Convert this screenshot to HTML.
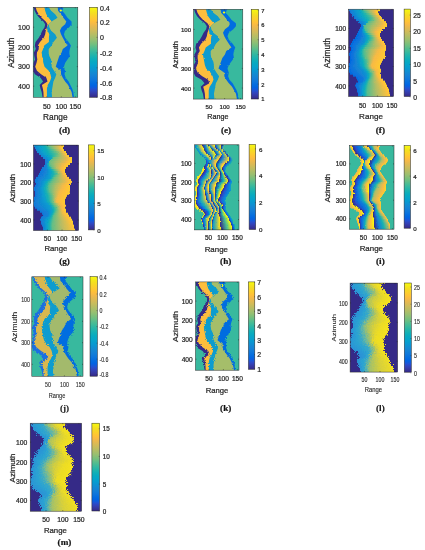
<!DOCTYPE html>
<html><head><meta charset="utf-8"><title>Figure</title>
<style>html,body{margin:0;padding:0;background:#fff;width:425px;height:550px;overflow:hidden}svg{display:block}text{font-family:"Liberation Sans",Arial,sans-serif;fill:#262626}text.pl,text.pr{font-family:"Liberation Serif","Times New Roman",serif;fill:#111}text.pl{font-weight:bold}</style>
</head><body>
<svg width="425" height="550" viewBox="0 0 425 550">
<defs><linearGradient id="par" x1="0" y1="1" x2="0" y2="0"><stop offset="0.000" stop-color="#352a87"/><stop offset="0.016" stop-color="#363093"/><stop offset="0.032" stop-color="#3637a0"/><stop offset="0.048" stop-color="#353dad"/><stop offset="0.063" stop-color="#3243ba"/><stop offset="0.079" stop-color="#2c4ac7"/><stop offset="0.095" stop-color="#2053d4"/><stop offset="0.111" stop-color="#0f5cdd"/><stop offset="0.127" stop-color="#0363e1"/><stop offset="0.143" stop-color="#0268e1"/><stop offset="0.159" stop-color="#046de0"/><stop offset="0.175" stop-color="#0871de"/><stop offset="0.190" stop-color="#0d75dc"/><stop offset="0.206" stop-color="#1079da"/><stop offset="0.222" stop-color="#127dd8"/><stop offset="0.238" stop-color="#1481d6"/><stop offset="0.254" stop-color="#1485d4"/><stop offset="0.270" stop-color="#1389d3"/><stop offset="0.286" stop-color="#108ed2"/><stop offset="0.302" stop-color="#0c93d2"/><stop offset="0.317" stop-color="#0998d1"/><stop offset="0.333" stop-color="#079ccf"/><stop offset="0.349" stop-color="#06a0cd"/><stop offset="0.365" stop-color="#06a4ca"/><stop offset="0.381" stop-color="#06a7c6"/><stop offset="0.397" stop-color="#07a9c2"/><stop offset="0.413" stop-color="#0aacbe"/><stop offset="0.429" stop-color="#0faeb9"/><stop offset="0.444" stop-color="#15b1b4"/><stop offset="0.460" stop-color="#1db3af"/><stop offset="0.476" stop-color="#25b5a9"/><stop offset="0.492" stop-color="#2eb7a4"/><stop offset="0.508" stop-color="#38b99e"/><stop offset="0.524" stop-color="#42bb98"/><stop offset="0.540" stop-color="#4dbc92"/><stop offset="0.556" stop-color="#59bd8c"/><stop offset="0.571" stop-color="#65be86"/><stop offset="0.587" stop-color="#71bf80"/><stop offset="0.603" stop-color="#7cbf7b"/><stop offset="0.619" stop-color="#87bf77"/><stop offset="0.635" stop-color="#92bf73"/><stop offset="0.651" stop-color="#9cbf6f"/><stop offset="0.667" stop-color="#a5be6b"/><stop offset="0.683" stop-color="#aebe67"/><stop offset="0.698" stop-color="#b7bd64"/><stop offset="0.714" stop-color="#c0bc60"/><stop offset="0.730" stop-color="#c8bc5d"/><stop offset="0.746" stop-color="#d1bb59"/><stop offset="0.762" stop-color="#d9ba56"/><stop offset="0.778" stop-color="#e1b952"/><stop offset="0.794" stop-color="#e9b94e"/><stop offset="0.810" stop-color="#f1b94a"/><stop offset="0.825" stop-color="#f8bb44"/><stop offset="0.841" stop-color="#fdbe3d"/><stop offset="0.857" stop-color="#ffc337"/><stop offset="0.873" stop-color="#fec832"/><stop offset="0.889" stop-color="#fcce2e"/><stop offset="0.905" stop-color="#fad32a"/><stop offset="0.921" stop-color="#f7d826"/><stop offset="0.937" stop-color="#f5de21"/><stop offset="0.952" stop-color="#f5e41d"/><stop offset="0.968" stop-color="#f5eb18"/><stop offset="0.984" stop-color="#f6f313"/><stop offset="1.000" stop-color="#f9fb0e"/></linearGradient><filter id="jag" x="-5%" y="-5%" width="110%" height="110%"><feTurbulence type="fractalNoise" baseFrequency="0.45" numOctaves="2" seed="3"/><feDisplacementMap in="SourceGraphic" scale="2" xChannelSelector="R" yChannelSelector="G"/></filter><filter id="spk2" x="-5%" y="-5%" width="110%" height="110%"><feTurbulence type="fractalNoise" baseFrequency="1.1" numOctaves="1" seed="11"/><feDisplacementMap in="SourceGraphic" scale="7" xChannelSelector="R" yChannelSelector="G"/></filter><filter id="spk" x="-5%" y="-5%" width="110%" height="110%"><feTurbulence type="fractalNoise" baseFrequency="0.9" numOctaves="1" seed="7"/><feDisplacementMap in="SourceGraphic" scale="4" xChannelSelector="R" yChannelSelector="G"/></filter></defs>
<clipPath id="cd"><rect x="33.20" y="7.30" width="44.60" height="90.00"/></clipPath>
<g clip-path="url(#cd)"><g filter="url(#jag)"><g transform="translate(33.200 7.300) scale(44.6000 90.0000)"><rect x="-0.1" y="-0.1" width="1.2" height="1.2" fill="#38b99e"/><polygon points="0.0000,-0.0200 0.0316,0.0389 0.0711,0.0778 0.1368,0.1167 0.2289,0.1567 0.2684,0.1889 0.2553,0.2222 0.2026,0.2611 0.1684,0.3000 0.1263,0.3389 0.0526,0.3844 0.0368,0.4244 0.0579,0.4633 0.0158,0.5022 0.0237,0.5422 0.0421,0.5811 0.0053,0.6200 0.0000,0.6600 0.0000,0.7056 0.0368,0.7444 0.1632,0.7833 0.2211,0.8233 0.1447,0.8622 0.1632,0.9011 0.1895,0.9400 0.2158,1.0200 1.2,1.05 1.2,-0.05" fill="#352a87"/><polygon points="0.0447,-0.0200 0.0789,0.0389 0.1237,0.0778 0.1895,0.1167 0.2816,0.1567 0.3211,0.1889 0.3079,0.2222 0.2816,0.2611 0.2684,0.3000 0.2368,0.3389 0.1526,0.3844 0.1079,0.4244 0.1263,0.4633 0.0842,0.5022 0.0816,0.5422 0.0921,0.5811 0.0737,0.6200 0.0447,0.6600 0.0842,0.7056 0.1763,0.7444 0.2947,0.7833 0.3211,0.8233 0.1947,0.8622 0.2158,0.9011 0.2289,0.9400 0.2368,1.0200 1.2,1.05 1.2,-0.05" fill="#fdbe3d"/><polygon points="0.2421,-0.0200 0.2684,0.0389 0.2947,0.0778 0.3474,0.1167 0.4132,0.1567 0.3474,0.1889 0.3079,0.2222 0.3211,0.2611 0.3605,0.3000 0.3526,0.3389 0.3526,0.3844 0.2474,0.4244 0.2211,0.4633 0.1895,0.5022 0.2026,0.5422 0.2158,0.5811 0.2289,0.6200 0.2553,0.6600 0.3474,0.7056 0.3868,0.7444 0.4053,0.7833 0.3737,0.8233 0.3263,0.8622 0.3079,0.9011 0.3079,0.9400 0.3079,1.0200 1.2,1.05 1.2,-0.05" fill="#079ccf"/><polygon points="0.3211,-0.0200 0.4000,0.0389 0.4921,0.0778 0.5447,0.1167 0.4132,0.1567 0.3474,0.1889 0.3605,0.2222 0.4000,0.2611 0.4921,0.3000 0.5316,0.3389 0.4526,0.3844 0.4132,0.4244 0.3474,0.4633 0.3474,0.5022 0.3605,0.5422 0.4000,0.5811 0.4132,0.6200 0.4132,0.6600 0.4658,0.7056 0.5184,0.7444 0.4921,0.7833 0.4526,0.8233 0.4395,0.8622 0.4263,0.9011 0.4132,0.9400 0.4263,1.0200 1.2,1.05 1.2,-0.05" fill="#a5be6b"/><polygon points="0.5447,-0.0200 0.5579,0.0389 0.6237,0.0778 0.6763,0.1167 0.7421,0.1567 0.7158,0.1889 0.6368,0.2222 0.5974,0.2611 0.6237,0.3000 0.6632,0.3389 0.7158,0.3844 0.7684,0.4244 0.6632,0.4633 0.6368,0.5022 0.5842,0.5422 0.5579,0.5811 0.5316,0.6200 0.5053,0.6600 0.6237,0.7056 0.6237,0.7444 0.6632,0.7833 0.7158,0.8233 0.7816,0.8622 0.8211,0.9011 0.8605,0.9400 0.8868,1.0200 1.2,1.05 1.2,-0.05" fill="#046de0"/><polygon points="0.7026,-0.0200 0.6500,0.0389 0.7158,0.0778 0.7684,0.1167 0.8605,0.1567 0.8605,0.1889 0.8079,0.2222 0.7158,0.2611 0.6895,0.3000 0.7158,0.3389 0.7947,0.3844 0.8474,0.4244 0.8211,0.4633 0.8079,0.5022 0.8211,0.5422 0.7684,0.5811 0.7158,0.6200 0.6895,0.6600 0.7158,0.7056 0.7026,0.7444 0.7289,0.7833 0.7947,0.8233 0.8342,0.8622 0.8737,0.9011 0.9000,0.9400 0.9211,1.0200 1.2,1.05 1.2,-0.05" fill="#38b99e"/><ellipse cx="0.6184" cy="0.0356" rx="0.025" ry="0.012" fill="#f9fb0e"/></g></g></g>
<rect x="33.20" y="7.30" width="44.60" height="90.00" fill="none" stroke="#262626" stroke-width="0.5"/>
<path d="M46.80 97.30v-1.00M46.80 7.30v1.00M61.30 97.30v-1.00M61.30 7.30v1.00M75.30 97.30v-1.00M75.30 7.30v1.00M33.20 27.20h1.00M77.80 27.20h-1.00M33.20 47.00h1.00M77.80 47.00h-1.00M33.20 66.60h1.00M77.80 66.60h-1.00M33.20 86.20h1.00M77.80 86.20h-1.00" stroke="#262626" stroke-width="0.5" fill="none"/>
<text stroke="#262626" stroke-width="0.22" x="29.80" y="29.98" text-anchor="end" font-size="7.00">100</text>
<text stroke="#262626" stroke-width="0.22" x="29.80" y="49.78" text-anchor="end" font-size="7.00">200</text>
<text stroke="#262626" stroke-width="0.22" x="29.80" y="69.39" text-anchor="end" font-size="7.00">300</text>
<text stroke="#262626" stroke-width="0.22" x="29.80" y="88.98" text-anchor="end" font-size="7.00">400</text>
<text stroke="#262626" stroke-width="0.22" x="46.80" y="108.69" text-anchor="middle" font-size="7.00">50</text>
<text stroke="#262626" stroke-width="0.22" x="61.30" y="108.69" text-anchor="middle" font-size="7.00">100</text>
<text stroke="#262626" stroke-width="0.22" x="75.30" y="108.69" text-anchor="middle" font-size="7.00">150</text>
<text stroke="#262626" stroke-width="0.22" x="55.30" y="119.99" text-anchor="middle" font-size="8.30">Range</text>
<text stroke="#262626" stroke-width="0.22" transform="translate(14.07 52.70) rotate(-90)" text-anchor="middle" font-size="8.40">Azimuth</text>
<rect x="89.50" y="7.30" width="7.90" height="90.00" fill="url(#par)" stroke="#262626" stroke-width="0.5"/>
<text stroke="#262626" stroke-width="0.22" x="100.00" y="10.68" font-size="7.00">0.4</text>
<text stroke="#262626" stroke-width="0.22" x="100.00" y="25.18" font-size="7.00">0.2</text>
<text stroke="#262626" stroke-width="0.22" x="100.00" y="40.28" font-size="7.00">0</text>
<text stroke="#262626" stroke-width="0.22" x="100.00" y="55.78" font-size="7.00">-0.2</text>
<text stroke="#262626" stroke-width="0.22" x="100.00" y="70.69" font-size="7.00">-0.4</text>
<text stroke="#262626" stroke-width="0.22" x="100.00" y="85.78" font-size="7.00">-0.6</text>
<text stroke="#262626" stroke-width="0.22" x="100.00" y="100.28" font-size="7.00">-0.8</text>
<path d="M97.40 7.80h-0.8M97.40 22.30h-0.8M97.40 37.40h-0.8M97.40 52.90h-0.8M97.40 67.80h-0.8M97.40 82.90h-0.8M97.40 97.40h-0.8" stroke="#262626" stroke-width="0.5" fill="none"/>
<text stroke="#262626" stroke-width="0.22" x="64.50" y="133.10" text-anchor="middle" class="pl" font-size="9.20">(d)</text>
<clipPath id="ce"><rect x="193.60" y="9.30" width="49.20" height="89.80"/></clipPath>
<g clip-path="url(#ce)"><g filter="url(#jag)"><g transform="translate(193.600 9.300) scale(49.2000 89.8000)"><rect x="-0.1" y="-0.1" width="1.2" height="1.2" fill="#38b99e"/><polygon points="0.0000,-0.0200 0.0316,0.0389 0.0711,0.0778 0.1368,0.1167 0.2289,0.1567 0.2684,0.1889 0.2553,0.2222 0.2026,0.2611 0.1684,0.3000 0.1263,0.3389 0.0526,0.3844 0.0368,0.4244 0.0579,0.4633 0.0158,0.5022 0.0237,0.5422 0.0421,0.5811 0.0053,0.6200 0.0000,0.6600 0.0000,0.7056 0.0368,0.7444 0.1632,0.7833 0.2211,0.8233 0.1447,0.8622 0.1632,0.9011 0.1895,0.9400 0.2158,1.0200 1.2,1.05 1.2,-0.05" fill="#352a87"/><polygon points="0.0447,-0.0200 0.0789,0.0389 0.1237,0.0778 0.1895,0.1167 0.2816,0.1567 0.3211,0.1889 0.3079,0.2222 0.2816,0.2611 0.2684,0.3000 0.2368,0.3389 0.1526,0.3844 0.1079,0.4244 0.1263,0.4633 0.0842,0.5022 0.0816,0.5422 0.0921,0.5811 0.0737,0.6200 0.0447,0.6600 0.0842,0.7056 0.1763,0.7444 0.2947,0.7833 0.3211,0.8233 0.1947,0.8622 0.2158,0.9011 0.2289,0.9400 0.2368,1.0200 1.2,1.05 1.2,-0.05" fill="#fdbe3d"/><polygon points="0.2421,-0.0200 0.2684,0.0389 0.2947,0.0778 0.3474,0.1167 0.4132,0.1567 0.3474,0.1889 0.3079,0.2222 0.3211,0.2611 0.3605,0.3000 0.3526,0.3389 0.3526,0.3844 0.2474,0.4244 0.2211,0.4633 0.1895,0.5022 0.2026,0.5422 0.2158,0.5811 0.2289,0.6200 0.2553,0.6600 0.3474,0.7056 0.3868,0.7444 0.4053,0.7833 0.3737,0.8233 0.3263,0.8622 0.3079,0.9011 0.3079,0.9400 0.3079,1.0200 1.2,1.05 1.2,-0.05" fill="#079ccf"/><polygon points="0.3211,-0.0200 0.4000,0.0389 0.4921,0.0778 0.5447,0.1167 0.4132,0.1567 0.3474,0.1889 0.3605,0.2222 0.4000,0.2611 0.4921,0.3000 0.5316,0.3389 0.4526,0.3844 0.4132,0.4244 0.3474,0.4633 0.3474,0.5022 0.3605,0.5422 0.4000,0.5811 0.4132,0.6200 0.4132,0.6600 0.4658,0.7056 0.5184,0.7444 0.4921,0.7833 0.4526,0.8233 0.4395,0.8622 0.4263,0.9011 0.4132,0.9400 0.4263,1.0200 1.2,1.05 1.2,-0.05" fill="#a5be6b"/><polygon points="0.5447,-0.0200 0.5579,0.0389 0.6237,0.0778 0.6763,0.1167 0.7421,0.1567 0.7158,0.1889 0.6368,0.2222 0.5974,0.2611 0.6237,0.3000 0.6632,0.3389 0.7158,0.3844 0.7684,0.4244 0.6632,0.4633 0.6368,0.5022 0.5842,0.5422 0.5579,0.5811 0.5316,0.6200 0.5053,0.6600 0.6237,0.7056 0.6237,0.7444 0.6632,0.7833 0.7158,0.8233 0.7816,0.8622 0.8211,0.9011 0.8605,0.9400 0.8868,1.0200 1.2,1.05 1.2,-0.05" fill="#046de0"/><polygon points="0.7026,-0.0200 0.6500,0.0389 0.7158,0.0778 0.7684,0.1167 0.8605,0.1567 0.8605,0.1889 0.8079,0.2222 0.7158,0.2611 0.6895,0.3000 0.7158,0.3389 0.7947,0.3844 0.8474,0.4244 0.8211,0.4633 0.8079,0.5022 0.8211,0.5422 0.7684,0.5811 0.7158,0.6200 0.6895,0.6600 0.7158,0.7056 0.7026,0.7444 0.7289,0.7833 0.7947,0.8233 0.8342,0.8622 0.8737,0.9011 0.9000,0.9400 0.9211,1.0200 1.2,1.05 1.2,-0.05" fill="#38b99e"/><ellipse cx="0.6184" cy="0.0356" rx="0.025" ry="0.012" fill="#f9fb0e"/></g></g></g>
<rect x="193.60" y="9.30" width="49.20" height="89.80" fill="none" stroke="#262626" stroke-width="0.5"/>
<path d="M208.90 99.10v-1.00M208.90 9.30v1.00M224.60 99.10v-1.00M224.60 9.30v1.00M240.50 99.10v-1.00M240.50 9.30v1.00M193.60 29.40h1.00M242.80 29.40h-1.00M193.60 49.00h1.00M242.80 49.00h-1.00M193.60 68.40h1.00M242.80 68.40h-1.00M193.60 88.10h1.00M242.80 88.10h-1.00" stroke="#262626" stroke-width="0.5" fill="none"/>
<text stroke="#262626" stroke-width="0.22" x="191.10" y="31.87" text-anchor="end" font-size="6.10">100</text>
<text stroke="#262626" stroke-width="0.22" x="191.10" y="51.47" text-anchor="end" font-size="6.10">200</text>
<text stroke="#262626" stroke-width="0.22" x="191.10" y="70.87" text-anchor="end" font-size="6.10">300</text>
<text stroke="#262626" stroke-width="0.22" x="191.10" y="90.57" text-anchor="end" font-size="6.10">400</text>
<text stroke="#262626" stroke-width="0.22" x="208.90" y="108.67" text-anchor="middle" font-size="6.10">50</text>
<text stroke="#262626" stroke-width="0.22" x="224.60" y="108.67" text-anchor="middle" font-size="6.10">100</text>
<text stroke="#262626" stroke-width="0.22" x="240.50" y="108.67" text-anchor="middle" font-size="6.10">150</text>
<text stroke="#262626" stroke-width="0.22" x="217.80" y="119.09" text-anchor="middle" font-size="7.20">Range</text>
<text stroke="#262626" stroke-width="0.22" transform="translate(177.54 54.70) rotate(-90)" text-anchor="middle" font-size="7.50">Azimuth</text>
<rect x="251.20" y="9.30" width="7.30" height="89.70" fill="url(#par)" stroke="#262626" stroke-width="0.5"/>
<text stroke="#262626" stroke-width="0.22" x="261.20" y="12.56" font-size="5.80">7</text>
<text stroke="#262626" stroke-width="0.22" x="261.20" y="27.46" font-size="5.80">6</text>
<text stroke="#262626" stroke-width="0.22" x="261.20" y="42.16" font-size="5.80">5</text>
<text stroke="#262626" stroke-width="0.22" x="261.20" y="57.06" font-size="5.80">4</text>
<text stroke="#262626" stroke-width="0.22" x="261.20" y="71.76" font-size="5.80">3</text>
<text stroke="#262626" stroke-width="0.22" x="261.20" y="86.56" font-size="5.80">2</text>
<text stroke="#262626" stroke-width="0.22" x="261.20" y="101.26" font-size="5.80">1</text>
<path d="M258.50 10.10h-0.8M258.50 25.00h-0.8M258.50 39.70h-0.8M258.50 54.60h-0.8M258.50 69.30h-0.8M258.50 84.10h-0.8M258.50 98.80h-0.8" stroke="#262626" stroke-width="0.5" fill="none"/>
<text stroke="#262626" stroke-width="0.22" x="226.00" y="133.00" text-anchor="middle" class="pl" font-size="9.20">(e)</text>
<clipPath id="cf"><rect x="348.60" y="9.20" width="45.00" height="87.30"/></clipPath>
<g clip-path="url(#cf)"><g filter="url(#jag)"><g transform="translate(348.600 9.200) scale(45.0000 87.3000)"><defs><linearGradient id="f1" gradientUnits="userSpaceOnUse" x2="1"><stop offset="0.000" stop-color="#352a87"/><stop offset="0.009" stop-color="#352a87"/><stop offset="0.009" stop-color="#0f77db"/><stop offset="0.032" stop-color="#127cd8"/><stop offset="0.055" stop-color="#1481d6"/><stop offset="0.152" stop-color="#0a96d1"/><stop offset="0.250" stop-color="#06a6c6"/><stop offset="0.297" stop-color="#1fb4ad"/><stop offset="0.344" stop-color="#55bd8e"/><stop offset="0.446" stop-color="#9ebe6e"/><stop offset="0.549" stop-color="#d8ba56"/><stop offset="0.618" stop-color="#febf3c"/><stop offset="0.687" stop-color="#f6dc23"/><stop offset="0.687" stop-color="#352a87"/><stop offset="1.000" stop-color="#352a87"/></linearGradient><linearGradient id="f2" gradientUnits="userSpaceOnUse" x2="1"><stop offset="0.000" stop-color="#352a87"/><stop offset="0.028" stop-color="#352a87"/><stop offset="0.028" stop-color="#0f77db"/><stop offset="0.051" stop-color="#127cd8"/><stop offset="0.075" stop-color="#1481d6"/><stop offset="0.170" stop-color="#0a96d1"/><stop offset="0.265" stop-color="#06a6c6"/><stop offset="0.328" stop-color="#1fb4ad"/><stop offset="0.390" stop-color="#55bd8e"/><stop offset="0.473" stop-color="#9ebe6e"/><stop offset="0.556" stop-color="#d8ba56"/><stop offset="0.606" stop-color="#febf3c"/><stop offset="0.656" stop-color="#f6dc23"/><stop offset="0.656" stop-color="#352a87"/><stop offset="1.000" stop-color="#352a87"/></linearGradient><linearGradient id="f3" gradientUnits="userSpaceOnUse" x2="1"><stop offset="0.000" stop-color="#352a87"/><stop offset="0.050" stop-color="#352a87"/><stop offset="0.050" stop-color="#0f77db"/><stop offset="0.075" stop-color="#127cd8"/><stop offset="0.100" stop-color="#1481d6"/><stop offset="0.190" stop-color="#0a96d1"/><stop offset="0.281" stop-color="#06a6c6"/><stop offset="0.362" stop-color="#1fb4ad"/><stop offset="0.442" stop-color="#55bd8e"/><stop offset="0.515" stop-color="#9ebe6e"/><stop offset="0.588" stop-color="#d8ba56"/><stop offset="0.634" stop-color="#febf3c"/><stop offset="0.680" stop-color="#f6dc23"/><stop offset="0.680" stop-color="#352a87"/><stop offset="1.000" stop-color="#352a87"/></linearGradient><linearGradient id="f4" gradientUnits="userSpaceOnUse" x2="1"><stop offset="0.000" stop-color="#352a87"/><stop offset="0.074" stop-color="#352a87"/><stop offset="0.074" stop-color="#0f77db"/><stop offset="0.100" stop-color="#127cd8"/><stop offset="0.127" stop-color="#1481d6"/><stop offset="0.212" stop-color="#0a96d1"/><stop offset="0.297" stop-color="#06a6c6"/><stop offset="0.396" stop-color="#1fb4ad"/><stop offset="0.494" stop-color="#55bd8e"/><stop offset="0.560" stop-color="#9ebe6e"/><stop offset="0.626" stop-color="#d8ba56"/><stop offset="0.672" stop-color="#febf3c"/><stop offset="0.718" stop-color="#f6dc23"/><stop offset="0.718" stop-color="#352a87"/><stop offset="1.000" stop-color="#352a87"/></linearGradient><linearGradient id="f5" gradientUnits="userSpaceOnUse" x2="1"><stop offset="0.000" stop-color="#352a87"/><stop offset="0.112" stop-color="#352a87"/><stop offset="0.112" stop-color="#0f77db"/><stop offset="0.139" stop-color="#127cd8"/><stop offset="0.165" stop-color="#1481d6"/><stop offset="0.247" stop-color="#0b96d1"/><stop offset="0.328" stop-color="#06a6c7"/><stop offset="0.427" stop-color="#1fb3ad"/><stop offset="0.525" stop-color="#55bd8e"/><stop offset="0.591" stop-color="#9ebe6e"/><stop offset="0.657" stop-color="#d8ba56"/><stop offset="0.703" stop-color="#febf3c"/><stop offset="0.749" stop-color="#f6db23"/><stop offset="0.749" stop-color="#352a87"/><stop offset="1.000" stop-color="#352a87"/></linearGradient><linearGradient id="f6" gradientUnits="userSpaceOnUse" x2="1"><stop offset="0.000" stop-color="#352a87"/><stop offset="0.156" stop-color="#352a87"/><stop offset="0.156" stop-color="#0d76dc"/><stop offset="0.182" stop-color="#117ad9"/><stop offset="0.209" stop-color="#137fd7"/><stop offset="0.285" stop-color="#0d93d2"/><stop offset="0.361" stop-color="#06a4c9"/><stop offset="0.439" stop-color="#1cb3af"/><stop offset="0.517" stop-color="#55bd8e"/><stop offset="0.604" stop-color="#a0be6d"/><stop offset="0.690" stop-color="#dcba54"/><stop offset="0.739" stop-color="#febf3c"/><stop offset="0.788" stop-color="#f7d925"/><stop offset="0.788" stop-color="#352a87"/><stop offset="1.000" stop-color="#352a87"/></linearGradient><linearGradient id="f7" gradientUnits="userSpaceOnUse" x2="1"><stop offset="0.000" stop-color="#352a87"/><stop offset="0.208" stop-color="#352a87"/><stop offset="0.208" stop-color="#0c74dd"/><stop offset="0.235" stop-color="#1079da"/><stop offset="0.261" stop-color="#137dd7"/><stop offset="0.330" stop-color="#0f90d2"/><stop offset="0.398" stop-color="#06a2cb"/><stop offset="0.421" stop-color="#1ab2b1"/><stop offset="0.443" stop-color="#55bd8e"/><stop offset="0.585" stop-color="#a2be6c"/><stop offset="0.727" stop-color="#dfba53"/><stop offset="0.784" stop-color="#fec03b"/><stop offset="0.840" stop-color="#f8d726"/><stop offset="0.840" stop-color="#352a87"/><stop offset="1.000" stop-color="#352a87"/></linearGradient><linearGradient id="f8" gradientUnits="userSpaceOnUse" x2="1"><stop offset="0.000" stop-color="#352a87"/><stop offset="0.246" stop-color="#352a87"/><stop offset="0.246" stop-color="#0b73dd"/><stop offset="0.272" stop-color="#0f77db"/><stop offset="0.298" stop-color="#127cd8"/><stop offset="0.342" stop-color="#118dd2"/><stop offset="0.385" stop-color="#06a0cd"/><stop offset="0.385" stop-color="#55bd8e"/><stop offset="0.558" stop-color="#a4be6b"/><stop offset="0.731" stop-color="#e3b951"/><stop offset="0.796" stop-color="#fec03b"/><stop offset="0.861" stop-color="#f8d528"/><stop offset="0.861" stop-color="#352a87"/><stop offset="1.000" stop-color="#352a87"/></linearGradient><linearGradient id="f9" gradientUnits="userSpaceOnUse" x2="1"><stop offset="0.000" stop-color="#352a87"/><stop offset="0.267" stop-color="#352a87"/><stop offset="0.267" stop-color="#0971de"/><stop offset="0.293" stop-color="#0e76dc"/><stop offset="0.319" stop-color="#117ad9"/><stop offset="0.331" stop-color="#128bd3"/><stop offset="0.342" stop-color="#079ecf"/><stop offset="0.346" stop-color="#15b1b4"/><stop offset="0.349" stop-color="#55bd8e"/><stop offset="0.527" stop-color="#a6be6a"/><stop offset="0.706" stop-color="#e6b950"/><stop offset="0.780" stop-color="#fec03b"/><stop offset="0.854" stop-color="#f9d429"/><stop offset="0.854" stop-color="#352a87"/><stop offset="1.000" stop-color="#352a87"/></linearGradient><linearGradient id="f10" gradientUnits="userSpaceOnUse" x2="1"><stop offset="0.000" stop-color="#352a87"/><stop offset="0.258" stop-color="#352a87"/><stop offset="0.258" stop-color="#0770df"/><stop offset="0.284" stop-color="#0c74dd"/><stop offset="0.310" stop-color="#1079da"/><stop offset="0.313" stop-color="#1388d3"/><stop offset="0.315" stop-color="#079bd0"/><stop offset="0.337" stop-color="#13b0b6"/><stop offset="0.358" stop-color="#55bd8e"/><stop offset="0.505" stop-color="#a8be69"/><stop offset="0.652" stop-color="#eab94e"/><stop offset="0.735" stop-color="#fec03b"/><stop offset="0.818" stop-color="#fad22b"/><stop offset="0.818" stop-color="#352a87"/><stop offset="1.000" stop-color="#352a87"/></linearGradient><linearGradient id="f11" gradientUnits="userSpaceOnUse" x2="1"><stop offset="0.000" stop-color="#352a87"/><stop offset="0.233" stop-color="#352a87"/><stop offset="0.233" stop-color="#066fdf"/><stop offset="0.265" stop-color="#0a73dd"/><stop offset="0.297" stop-color="#0e77db"/><stop offset="0.305" stop-color="#1486d4"/><stop offset="0.313" stop-color="#0998d1"/><stop offset="0.345" stop-color="#11afb7"/><stop offset="0.377" stop-color="#55bd8e"/><stop offset="0.499" stop-color="#aabe69"/><stop offset="0.620" stop-color="#edb94c"/><stop offset="0.695" stop-color="#fec03b"/><stop offset="0.769" stop-color="#fbd02c"/><stop offset="0.769" stop-color="#352a87"/><stop offset="1.000" stop-color="#352a87"/></linearGradient><linearGradient id="f12" gradientUnits="userSpaceOnUse" x2="1"><stop offset="0.000" stop-color="#352a87"/><stop offset="0.202" stop-color="#352a87"/><stop offset="0.202" stop-color="#046de0"/><stop offset="0.242" stop-color="#0971de"/><stop offset="0.281" stop-color="#0d75dc"/><stop offset="0.301" stop-color="#1483d4"/><stop offset="0.321" stop-color="#0b95d2"/><stop offset="0.361" stop-color="#0faeb9"/><stop offset="0.401" stop-color="#55bd8e"/><stop offset="0.499" stop-color="#acbe68"/><stop offset="0.598" stop-color="#f0b94a"/><stop offset="0.657" stop-color="#fec13a"/><stop offset="0.716" stop-color="#fcce2e"/><stop offset="0.716" stop-color="#352a87"/><stop offset="1.000" stop-color="#352a87"/></linearGradient><linearGradient id="f13" gradientUnits="userSpaceOnUse" x2="1"><stop offset="0.000" stop-color="#352a87"/><stop offset="0.182" stop-color="#352a87"/><stop offset="0.182" stop-color="#036be0"/><stop offset="0.228" stop-color="#0770df"/><stop offset="0.274" stop-color="#0b74dd"/><stop offset="0.309" stop-color="#1481d5"/><stop offset="0.344" stop-color="#0e92d2"/><stop offset="0.399" stop-color="#0daeba"/><stop offset="0.454" stop-color="#55bd8e"/><stop offset="0.534" stop-color="#aebe67"/><stop offset="0.613" stop-color="#f4ba48"/><stop offset="0.657" stop-color="#fec13a"/><stop offset="0.700" stop-color="#fdcc2f"/><stop offset="0.700" stop-color="#352a87"/><stop offset="1.000" stop-color="#352a87"/></linearGradient><linearGradient id="f14" gradientUnits="userSpaceOnUse" x2="1"><stop offset="0.000" stop-color="#352a87"/><stop offset="0.161" stop-color="#352a87"/><stop offset="0.161" stop-color="#036ae1"/><stop offset="0.212" stop-color="#066edf"/><stop offset="0.263" stop-color="#0a72de"/><stop offset="0.311" stop-color="#1480d6"/><stop offset="0.359" stop-color="#0f8fd2"/><stop offset="0.429" stop-color="#0cadbb"/><stop offset="0.499" stop-color="#55bd8e"/><stop offset="0.565" stop-color="#b0bd67"/><stop offset="0.631" stop-color="#f6ba46"/><stop offset="0.662" stop-color="#fec13a"/><stop offset="0.694" stop-color="#fdcb30"/><stop offset="0.694" stop-color="#352a87"/><stop offset="1.000" stop-color="#352a87"/></linearGradient><linearGradient id="f15" gradientUnits="userSpaceOnUse" x2="1"><stop offset="0.000" stop-color="#352a87"/><stop offset="0.136" stop-color="#352a87"/><stop offset="0.136" stop-color="#036ae1"/><stop offset="0.190" stop-color="#066edf"/><stop offset="0.244" stop-color="#0a72de"/><stop offset="0.299" stop-color="#1480d6"/><stop offset="0.355" stop-color="#0f8fd2"/><stop offset="0.438" stop-color="#0cadbb"/><stop offset="0.522" stop-color="#55bd8e"/><stop offset="0.588" stop-color="#b0bd67"/><stop offset="0.654" stop-color="#f6ba46"/><stop offset="0.682" stop-color="#fec13a"/><stop offset="0.709" stop-color="#fdcb30"/><stop offset="0.709" stop-color="#352a87"/><stop offset="1.000" stop-color="#352a87"/></linearGradient><linearGradient id="f16" gradientUnits="userSpaceOnUse" x2="1"><stop offset="0.000" stop-color="#352a87"/><stop offset="0.105" stop-color="#352a87"/><stop offset="0.105" stop-color="#036ae1"/><stop offset="0.158" stop-color="#066edf"/><stop offset="0.212" stop-color="#0a72de"/><stop offset="0.282" stop-color="#1480d6"/><stop offset="0.353" stop-color="#0f8fd2"/><stop offset="0.431" stop-color="#0cadbb"/><stop offset="0.508" stop-color="#55bd8e"/><stop offset="0.594" stop-color="#b0bd67"/><stop offset="0.679" stop-color="#f6ba46"/><stop offset="0.709" stop-color="#fec13a"/><stop offset="0.739" stop-color="#fdcb30"/><stop offset="0.739" stop-color="#352a87"/><stop offset="1.000" stop-color="#352a87"/></linearGradient><linearGradient id="f17" gradientUnits="userSpaceOnUse" x2="1"><stop offset="0.000" stop-color="#352a87"/><stop offset="0.068" stop-color="#352a87"/><stop offset="0.068" stop-color="#036ae1"/><stop offset="0.119" stop-color="#066edf"/><stop offset="0.170" stop-color="#0a72de"/><stop offset="0.261" stop-color="#1480d6"/><stop offset="0.353" stop-color="#0f8fd2"/><stop offset="0.411" stop-color="#0cadbb"/><stop offset="0.469" stop-color="#55bd8e"/><stop offset="0.587" stop-color="#b0bd67"/><stop offset="0.705" stop-color="#f6ba46"/><stop offset="0.742" stop-color="#fec13a"/><stop offset="0.778" stop-color="#fdcb30"/><stop offset="0.778" stop-color="#352a87"/><stop offset="1.000" stop-color="#352a87"/></linearGradient><linearGradient id="f18" gradientUnits="userSpaceOnUse" x2="1"><stop offset="0.000" stop-color="#352a87"/><stop offset="0.047" stop-color="#352a87"/><stop offset="0.047" stop-color="#036ae1"/><stop offset="0.093" stop-color="#066edf"/><stop offset="0.138" stop-color="#0a72de"/><stop offset="0.228" stop-color="#1480d6"/><stop offset="0.318" stop-color="#0f8fd2"/><stop offset="0.379" stop-color="#0cadbb"/><stop offset="0.440" stop-color="#55bd8e"/><stop offset="0.586" stop-color="#b0bd67"/><stop offset="0.733" stop-color="#f6ba46"/><stop offset="0.773" stop-color="#fec13a"/><stop offset="0.812" stop-color="#fdcb30"/><stop offset="0.812" stop-color="#352a87"/><stop offset="1.000" stop-color="#352a87"/></linearGradient><linearGradient id="f19" gradientUnits="userSpaceOnUse" x2="1"><stop offset="0.000" stop-color="#352a87"/><stop offset="0.038" stop-color="#352a87"/><stop offset="0.038" stop-color="#036ae1"/><stop offset="0.075" stop-color="#066edf"/><stop offset="0.112" stop-color="#0a72de"/><stop offset="0.185" stop-color="#1480d6"/><stop offset="0.258" stop-color="#0f8fd2"/><stop offset="0.337" stop-color="#0cadbb"/><stop offset="0.417" stop-color="#55bd8e"/><stop offset="0.590" stop-color="#b0bd67"/><stop offset="0.763" stop-color="#f6ba46"/><stop offset="0.803" stop-color="#fec13a"/><stop offset="0.842" stop-color="#fdcb30"/><stop offset="0.842" stop-color="#352a87"/><stop offset="1.000" stop-color="#352a87"/></linearGradient><linearGradient id="f20" gradientUnits="userSpaceOnUse" x2="1"><stop offset="0.000" stop-color="#352a87"/><stop offset="0.047" stop-color="#352a87"/><stop offset="0.047" stop-color="#036ae1"/><stop offset="0.082" stop-color="#066edf"/><stop offset="0.117" stop-color="#0a72de"/><stop offset="0.176" stop-color="#1480d6"/><stop offset="0.235" stop-color="#0f8fd2"/><stop offset="0.308" stop-color="#0cadbb"/><stop offset="0.381" stop-color="#55bd8e"/><stop offset="0.550" stop-color="#b0bd67"/><stop offset="0.718" stop-color="#f6ba46"/><stop offset="0.776" stop-color="#fec13a"/><stop offset="0.835" stop-color="#fdcb30"/><stop offset="0.835" stop-color="#352a87"/><stop offset="1.000" stop-color="#352a87"/></linearGradient><linearGradient id="f21" gradientUnits="userSpaceOnUse" x2="1"><stop offset="0.000" stop-color="#352a87"/><stop offset="0.055" stop-color="#352a87"/><stop offset="0.055" stop-color="#036ae1"/><stop offset="0.089" stop-color="#066edf"/><stop offset="0.124" stop-color="#0a72de"/><stop offset="0.171" stop-color="#1480d6"/><stop offset="0.219" stop-color="#0f8fd2"/><stop offset="0.283" stop-color="#0cadbb"/><stop offset="0.347" stop-color="#55bd8e"/><stop offset="0.504" stop-color="#b0bd67"/><stop offset="0.661" stop-color="#f6ba46"/><stop offset="0.741" stop-color="#fec13a"/><stop offset="0.820" stop-color="#fdcb30"/><stop offset="0.820" stop-color="#352a87"/><stop offset="1.000" stop-color="#352a87"/></linearGradient><linearGradient id="f22" gradientUnits="userSpaceOnUse" x2="1"><stop offset="0.000" stop-color="#352a87"/><stop offset="0.030" stop-color="#352a87"/><stop offset="0.030" stop-color="#036ae1"/><stop offset="0.065" stop-color="#066edf"/><stop offset="0.099" stop-color="#0a72de"/><stop offset="0.150" stop-color="#1480d6"/><stop offset="0.201" stop-color="#0f8fd2"/><stop offset="0.274" stop-color="#0cadbb"/><stop offset="0.347" stop-color="#55bd8e"/><stop offset="0.497" stop-color="#b0bd67"/><stop offset="0.646" stop-color="#f6ba46"/><stop offset="0.729" stop-color="#fec13a"/><stop offset="0.812" stop-color="#fdcb30"/><stop offset="0.812" stop-color="#352a87"/><stop offset="1.000" stop-color="#352a87"/></linearGradient><linearGradient id="f23" gradientUnits="userSpaceOnUse" x2="1"><stop offset="0.000" stop-color="#352a87"/><stop offset="0.018" stop-color="#352a87"/><stop offset="0.018" stop-color="#036ae1"/><stop offset="0.051" stop-color="#066edf"/><stop offset="0.084" stop-color="#0a72de"/><stop offset="0.138" stop-color="#1480d6"/><stop offset="0.192" stop-color="#0f8fd2"/><stop offset="0.271" stop-color="#0cadbb"/><stop offset="0.350" stop-color="#55bd8e"/><stop offset="0.488" stop-color="#b0bd67"/><stop offset="0.625" stop-color="#f6ba46"/><stop offset="0.718" stop-color="#fec13a"/><stop offset="0.811" stop-color="#fdcb30"/><stop offset="0.811" stop-color="#352a87"/><stop offset="1.000" stop-color="#352a87"/></linearGradient><linearGradient id="f24" gradientUnits="userSpaceOnUse" x2="1"><stop offset="0.000" stop-color="#352a87"/><stop offset="0.022" stop-color="#352a87"/><stop offset="0.022" stop-color="#036ae1"/><stop offset="0.052" stop-color="#066edf"/><stop offset="0.082" stop-color="#0a72de"/><stop offset="0.141" stop-color="#1480d6"/><stop offset="0.200" stop-color="#0f8fd2"/><stop offset="0.279" stop-color="#0cadbb"/><stop offset="0.358" stop-color="#55bd8e"/><stop offset="0.476" stop-color="#b0bd67"/><stop offset="0.595" stop-color="#f6ba46"/><stop offset="0.707" stop-color="#fec13a"/><stop offset="0.818" stop-color="#fdcb30"/><stop offset="0.818" stop-color="#352a87"/><stop offset="1.000" stop-color="#352a87"/></linearGradient><linearGradient id="f25" gradientUnits="userSpaceOnUse" x2="1"><stop offset="0.000" stop-color="#352a87"/><stop offset="0.031" stop-color="#352a87"/><stop offset="0.031" stop-color="#036ae1"/><stop offset="0.058" stop-color="#066edf"/><stop offset="0.086" stop-color="#0a72de"/><stop offset="0.147" stop-color="#1480d6"/><stop offset="0.208" stop-color="#0f8fd2"/><stop offset="0.291" stop-color="#0cadbb"/><stop offset="0.375" stop-color="#55bd8e"/><stop offset="0.475" stop-color="#b0bd67"/><stop offset="0.574" stop-color="#f6ba46"/><stop offset="0.688" stop-color="#fec13a"/><stop offset="0.801" stop-color="#fdcb30"/><stop offset="0.801" stop-color="#352a87"/><stop offset="1.000" stop-color="#352a87"/></linearGradient><linearGradient id="f26" gradientUnits="userSpaceOnUse" x2="1"><stop offset="0.000" stop-color="#352a87"/><stop offset="0.041" stop-color="#352a87"/><stop offset="0.041" stop-color="#036ae1"/><stop offset="0.067" stop-color="#066edf"/><stop offset="0.092" stop-color="#0a72de"/><stop offset="0.153" stop-color="#1480d6"/><stop offset="0.215" stop-color="#0f8fd2"/><stop offset="0.307" stop-color="#0cadbb"/><stop offset="0.398" stop-color="#55bd8e"/><stop offset="0.479" stop-color="#b0bd67"/><stop offset="0.559" stop-color="#f6ba46"/><stop offset="0.665" stop-color="#fec13a"/><stop offset="0.771" stop-color="#fdcb30"/><stop offset="0.771" stop-color="#352a87"/><stop offset="1.000" stop-color="#352a87"/></linearGradient><linearGradient id="f27" gradientUnits="userSpaceOnUse" x2="1"><stop offset="0.000" stop-color="#352a87"/><stop offset="0.022" stop-color="#352a87"/><stop offset="0.022" stop-color="#036ae1"/><stop offset="0.052" stop-color="#066edf"/><stop offset="0.082" stop-color="#0a72de"/><stop offset="0.153" stop-color="#1480d6"/><stop offset="0.223" stop-color="#0f8fd2"/><stop offset="0.315" stop-color="#0cadbb"/><stop offset="0.407" stop-color="#55bd8e"/><stop offset="0.475" stop-color="#b0bd67"/><stop offset="0.544" stop-color="#f6ba46"/><stop offset="0.642" stop-color="#fec13a"/><stop offset="0.740" stop-color="#fdcb30"/><stop offset="0.740" stop-color="#352a87"/><stop offset="1.000" stop-color="#352a87"/></linearGradient><linearGradient id="f28" gradientUnits="userSpaceOnUse" x2="1"><stop offset="0.000" stop-color="#352a87"/><stop offset="0.005" stop-color="#352a87"/><stop offset="0.005" stop-color="#036ae1"/><stop offset="0.037" stop-color="#066edf"/><stop offset="0.070" stop-color="#0a72de"/><stop offset="0.151" stop-color="#1480d6"/><stop offset="0.232" stop-color="#0f8fd2"/><stop offset="0.323" stop-color="#0cadbb"/><stop offset="0.413" stop-color="#55bd8e"/><stop offset="0.471" stop-color="#b0bd67"/><stop offset="0.528" stop-color="#f6ba46"/><stop offset="0.620" stop-color="#fec13a"/><stop offset="0.712" stop-color="#fdcb30"/><stop offset="0.712" stop-color="#352a87"/><stop offset="1.000" stop-color="#352a87"/></linearGradient><linearGradient id="f29" gradientUnits="userSpaceOnUse" x2="1"><stop offset="0.000" stop-color="#352a87"/><stop offset="0.002" stop-color="#352a87"/><stop offset="0.002" stop-color="#036ae1"/><stop offset="0.028" stop-color="#066edf"/><stop offset="0.054" stop-color="#0a72de"/><stop offset="0.150" stop-color="#1480d6"/><stop offset="0.247" stop-color="#0f8fd2"/><stop offset="0.330" stop-color="#0cadbb"/><stop offset="0.413" stop-color="#55bd8e"/><stop offset="0.463" stop-color="#b0bd67"/><stop offset="0.513" stop-color="#f6ba46"/><stop offset="0.605" stop-color="#fec13a"/><stop offset="0.698" stop-color="#fdcb30"/><stop offset="0.698" stop-color="#352a87"/><stop offset="1.000" stop-color="#352a87"/></linearGradient><linearGradient id="f30" gradientUnits="userSpaceOnUse" x2="1"><stop offset="0.000" stop-color="#352a87"/><stop offset="0.000" stop-color="#036ae1"/><stop offset="0.027" stop-color="#066edf"/><stop offset="0.054" stop-color="#0a72de"/><stop offset="0.165" stop-color="#1480d6"/><stop offset="0.276" stop-color="#0f8fd2"/><stop offset="0.351" stop-color="#0cadbb"/><stop offset="0.425" stop-color="#55bd8e"/><stop offset="0.479" stop-color="#b0bd67"/><stop offset="0.532" stop-color="#f6ba46"/><stop offset="0.614" stop-color="#fec13a"/><stop offset="0.696" stop-color="#fdcb30"/><stop offset="0.696" stop-color="#352a87"/><stop offset="1.000" stop-color="#352a87"/></linearGradient><linearGradient id="f31" gradientUnits="userSpaceOnUse" x2="1"><stop offset="0.000" stop-color="#352a87"/><stop offset="0.000" stop-color="#036ae1"/><stop offset="0.037" stop-color="#066edf"/><stop offset="0.073" stop-color="#0a72de"/><stop offset="0.198" stop-color="#1480d6"/><stop offset="0.322" stop-color="#0f8fd2"/><stop offset="0.387" stop-color="#0cadbb"/><stop offset="0.451" stop-color="#55bd8e"/><stop offset="0.522" stop-color="#b0bd67"/><stop offset="0.592" stop-color="#f6ba46"/><stop offset="0.650" stop-color="#fec13a"/><stop offset="0.709" stop-color="#fdcb30"/><stop offset="0.709" stop-color="#352a87"/><stop offset="1.000" stop-color="#352a87"/></linearGradient><linearGradient id="f32" gradientUnits="userSpaceOnUse" x2="1"><stop offset="0.000" stop-color="#352a87"/><stop offset="0.010" stop-color="#352a87"/><stop offset="0.010" stop-color="#036ae1"/><stop offset="0.059" stop-color="#066fdf"/><stop offset="0.109" stop-color="#0a73dd"/><stop offset="0.233" stop-color="#1480d6"/><stop offset="0.358" stop-color="#0f90d2"/><stop offset="0.419" stop-color="#0dadbb"/><stop offset="0.480" stop-color="#55bd8e"/><stop offset="0.552" stop-color="#b0bd66"/><stop offset="0.624" stop-color="#f7ba45"/><stop offset="0.668" stop-color="#fec239"/><stop offset="0.712" stop-color="#fdcb30"/><stop offset="0.712" stop-color="#352a87"/><stop offset="1.000" stop-color="#352a87"/></linearGradient><linearGradient id="f33" gradientUnits="userSpaceOnUse" x2="1"><stop offset="0.000" stop-color="#352a87"/><stop offset="0.031" stop-color="#352a87"/><stop offset="0.031" stop-color="#036be1"/><stop offset="0.097" stop-color="#076fdf"/><stop offset="0.163" stop-color="#0b73dd"/><stop offset="0.272" stop-color="#1481d5"/><stop offset="0.381" stop-color="#0d92d2"/><stop offset="0.446" stop-color="#0daeba"/><stop offset="0.511" stop-color="#55bd8e"/><stop offset="0.567" stop-color="#b1bd66"/><stop offset="0.624" stop-color="#f8bb44"/><stop offset="0.664" stop-color="#ffc238"/><stop offset="0.705" stop-color="#fdcc2f"/><stop offset="0.705" stop-color="#352a87"/><stop offset="1.000" stop-color="#352a87"/></linearGradient><linearGradient id="f34" gradientUnits="userSpaceOnUse" x2="1"><stop offset="0.000" stop-color="#352a87"/><stop offset="0.092" stop-color="#352a87"/><stop offset="0.092" stop-color="#036be0"/><stop offset="0.160" stop-color="#0770df"/><stop offset="0.228" stop-color="#0c74dd"/><stop offset="0.311" stop-color="#1482d5"/><stop offset="0.395" stop-color="#0c93d2"/><stop offset="0.451" stop-color="#0eaeba"/><stop offset="0.507" stop-color="#55bd8e"/><stop offset="0.574" stop-color="#b2bd66"/><stop offset="0.641" stop-color="#fabb42"/><stop offset="0.677" stop-color="#ffc337"/><stop offset="0.714" stop-color="#fccd2f"/><stop offset="0.714" stop-color="#352a87"/><stop offset="1.000" stop-color="#352a87"/></linearGradient><linearGradient id="f35" gradientUnits="userSpaceOnUse" x2="1"><stop offset="0.000" stop-color="#352a87"/><stop offset="0.164" stop-color="#352a87"/><stop offset="0.164" stop-color="#036be0"/><stop offset="0.230" stop-color="#0870df"/><stop offset="0.295" stop-color="#0c74dd"/><stop offset="0.350" stop-color="#1483d5"/><stop offset="0.405" stop-color="#0b95d2"/><stop offset="0.448" stop-color="#0faeb9"/><stop offset="0.491" stop-color="#55bd8e"/><stop offset="0.578" stop-color="#b3bd65"/><stop offset="0.664" stop-color="#fbbc41"/><stop offset="0.697" stop-color="#ffc436"/><stop offset="0.730" stop-color="#fcce2e"/><stop offset="0.730" stop-color="#352a87"/><stop offset="1.000" stop-color="#352a87"/></linearGradient><linearGradient id="f36" gradientUnits="userSpaceOnUse" x2="1"><stop offset="0.000" stop-color="#352a87"/><stop offset="0.197" stop-color="#352a87"/><stop offset="0.197" stop-color="#046ce0"/><stop offset="0.254" stop-color="#0871df"/><stop offset="0.310" stop-color="#0d75dc"/><stop offset="0.348" stop-color="#1484d4"/><stop offset="0.387" stop-color="#0a96d1"/><stop offset="0.428" stop-color="#10afb8"/><stop offset="0.469" stop-color="#55bd8e"/><stop offset="0.581" stop-color="#b4bd65"/><stop offset="0.694" stop-color="#fcbd3f"/><stop offset="0.731" stop-color="#fec535"/><stop offset="0.768" stop-color="#fcce2d"/><stop offset="0.768" stop-color="#352a87"/><stop offset="1.000" stop-color="#352a87"/></linearGradient><linearGradient id="f37" gradientUnits="userSpaceOnUse" x2="1"><stop offset="0.000" stop-color="#352a87"/><stop offset="0.209" stop-color="#352a87"/><stop offset="0.209" stop-color="#046ce0"/><stop offset="0.255" stop-color="#0871de"/><stop offset="0.301" stop-color="#0d76dc"/><stop offset="0.333" stop-color="#1485d4"/><stop offset="0.366" stop-color="#0998d1"/><stop offset="0.408" stop-color="#11afb8"/><stop offset="0.451" stop-color="#55bd8e"/><stop offset="0.588" stop-color="#b5bd64"/><stop offset="0.726" stop-color="#fdbe3e"/><stop offset="0.764" stop-color="#fec634"/><stop offset="0.801" stop-color="#fbcf2d"/><stop offset="0.801" stop-color="#352a87"/><stop offset="1.000" stop-color="#352a87"/></linearGradient><linearGradient id="f38" gradientUnits="userSpaceOnUse" x2="1"><stop offset="0.000" stop-color="#352a87"/><stop offset="0.164" stop-color="#352a87"/><stop offset="0.164" stop-color="#046ce0"/><stop offset="0.196" stop-color="#0971de"/><stop offset="0.227" stop-color="#0e76dc"/><stop offset="0.283" stop-color="#1486d4"/><stop offset="0.338" stop-color="#0899d1"/><stop offset="0.391" stop-color="#12afb7"/><stop offset="0.443" stop-color="#55bd8e"/><stop offset="0.604" stop-color="#b6bd64"/><stop offset="0.765" stop-color="#febf3d"/><stop offset="0.794" stop-color="#fec733"/><stop offset="0.824" stop-color="#fbd02c"/><stop offset="0.824" stop-color="#352a87"/><stop offset="1.000" stop-color="#352a87"/></linearGradient><linearGradient id="f39" gradientUnits="userSpaceOnUse" x2="1"><stop offset="0.000" stop-color="#352a87"/><stop offset="0.151" stop-color="#352a87"/><stop offset="0.151" stop-color="#046de0"/><stop offset="0.176" stop-color="#0972de"/><stop offset="0.202" stop-color="#0e77db"/><stop offset="0.261" stop-color="#1487d3"/><stop offset="0.320" stop-color="#089ad0"/><stop offset="0.378" stop-color="#13b0b6"/><stop offset="0.435" stop-color="#55bd8e"/><stop offset="0.615" stop-color="#b7bd64"/><stop offset="0.795" stop-color="#fec03b"/><stop offset="0.821" stop-color="#fec833"/><stop offset="0.847" stop-color="#fbd12c"/><stop offset="0.847" stop-color="#352a87"/><stop offset="1.000" stop-color="#352a87"/></linearGradient><linearGradient id="f40" gradientUnits="userSpaceOnUse" x2="1"><stop offset="0.000" stop-color="#352a87"/><stop offset="0.162" stop-color="#352a87"/><stop offset="0.162" stop-color="#056de0"/><stop offset="0.188" stop-color="#0a72de"/><stop offset="0.214" stop-color="#0f77db"/><stop offset="0.262" stop-color="#1388d3"/><stop offset="0.309" stop-color="#079bd0"/><stop offset="0.368" stop-color="#14b0b6"/><stop offset="0.427" stop-color="#55bd8e"/><stop offset="0.623" stop-color="#b8bd63"/><stop offset="0.818" stop-color="#fec13a"/><stop offset="0.844" stop-color="#fec932"/><stop offset="0.870" stop-color="#fad12b"/><stop offset="0.870" stop-color="#352a87"/><stop offset="1.000" stop-color="#352a87"/></linearGradient><linearGradient id="f41" gradientUnits="userSpaceOnUse" x2="1"><stop offset="0.000" stop-color="#352a87"/><stop offset="0.176" stop-color="#352a87"/><stop offset="0.176" stop-color="#056de0"/><stop offset="0.199" stop-color="#0a72de"/><stop offset="0.222" stop-color="#0f77db"/><stop offset="0.265" stop-color="#1388d3"/><stop offset="0.308" stop-color="#079cd0"/><stop offset="0.364" stop-color="#14b0b5"/><stop offset="0.420" stop-color="#55bd8e"/><stop offset="0.630" stop-color="#b8bd63"/><stop offset="0.841" stop-color="#fec13a"/><stop offset="0.864" stop-color="#fec932"/><stop offset="0.887" stop-color="#fad12b"/><stop offset="0.887" stop-color="#352a87"/><stop offset="1.000" stop-color="#352a87"/></linearGradient><linearGradient id="f42" gradientUnits="userSpaceOnUse" x2="1"><stop offset="0.000" stop-color="#352a87"/><stop offset="0.191" stop-color="#352a87"/><stop offset="0.191" stop-color="#056de0"/><stop offset="0.210" stop-color="#0a72de"/><stop offset="0.229" stop-color="#0f77db"/><stop offset="0.269" stop-color="#1388d3"/><stop offset="0.308" stop-color="#079cd0"/><stop offset="0.361" stop-color="#14b0b5"/><stop offset="0.414" stop-color="#55bd8e"/><stop offset="0.638" stop-color="#b8bd63"/><stop offset="0.862" stop-color="#fec13a"/><stop offset="0.882" stop-color="#fec932"/><stop offset="0.901" stop-color="#fad12b"/><stop offset="0.901" stop-color="#352a87"/><stop offset="1.000" stop-color="#352a87"/></linearGradient><linearGradient id="f43" gradientUnits="userSpaceOnUse" x2="1"><stop offset="0.000" stop-color="#352a87"/><stop offset="0.201" stop-color="#352a87"/><stop offset="0.201" stop-color="#056de0"/><stop offset="0.217" stop-color="#0a72de"/><stop offset="0.232" stop-color="#0f77db"/><stop offset="0.270" stop-color="#1388d3"/><stop offset="0.308" stop-color="#079cd0"/><stop offset="0.363" stop-color="#14b0b5"/><stop offset="0.419" stop-color="#55bd8e"/><stop offset="0.645" stop-color="#b8bd63"/><stop offset="0.872" stop-color="#fec13a"/><stop offset="0.890" stop-color="#fec932"/><stop offset="0.909" stop-color="#fad12b"/><stop offset="0.909" stop-color="#352a87"/><stop offset="1.000" stop-color="#352a87"/></linearGradient><linearGradient id="f44" gradientUnits="userSpaceOnUse" x2="1"><stop offset="0.000" stop-color="#352a87"/><stop offset="0.211" stop-color="#352a87"/><stop offset="0.211" stop-color="#056de0"/><stop offset="0.223" stop-color="#0a72de"/><stop offset="0.235" stop-color="#0f77db"/><stop offset="0.272" stop-color="#1388d3"/><stop offset="0.308" stop-color="#079cd0"/><stop offset="0.366" stop-color="#14b0b5"/><stop offset="0.424" stop-color="#55bd8e"/><stop offset="0.653" stop-color="#b8bd63"/><stop offset="0.882" stop-color="#fec13a"/><stop offset="0.899" stop-color="#fec932"/><stop offset="0.917" stop-color="#fad12b"/><stop offset="0.917" stop-color="#352a87"/><stop offset="1.000" stop-color="#352a87"/></linearGradient></defs><rect x="-0.1" y="-0.0500" width="1.2" height="0.0864" fill="url(#f1)"/><rect x="-0.1" y="0.0227" width="1.2" height="0.0364" fill="url(#f2)"/><rect x="-0.1" y="0.0455" width="1.2" height="0.0364" fill="url(#f3)"/><rect x="-0.1" y="0.0682" width="1.2" height="0.0364" fill="url(#f4)"/><rect x="-0.1" y="0.0909" width="1.2" height="0.0364" fill="url(#f5)"/><rect x="-0.1" y="0.1136" width="1.2" height="0.0364" fill="url(#f6)"/><rect x="-0.1" y="0.1364" width="1.2" height="0.0364" fill="url(#f7)"/><rect x="-0.1" y="0.1591" width="1.2" height="0.0364" fill="url(#f8)"/><rect x="-0.1" y="0.1818" width="1.2" height="0.0364" fill="url(#f9)"/><rect x="-0.1" y="0.2045" width="1.2" height="0.0364" fill="url(#f10)"/><rect x="-0.1" y="0.2273" width="1.2" height="0.0364" fill="url(#f11)"/><rect x="-0.1" y="0.2500" width="1.2" height="0.0364" fill="url(#f12)"/><rect x="-0.1" y="0.2727" width="1.2" height="0.0364" fill="url(#f13)"/><rect x="-0.1" y="0.2955" width="1.2" height="0.0364" fill="url(#f14)"/><rect x="-0.1" y="0.3182" width="1.2" height="0.0364" fill="url(#f15)"/><rect x="-0.1" y="0.3409" width="1.2" height="0.0364" fill="url(#f16)"/><rect x="-0.1" y="0.3636" width="1.2" height="0.0364" fill="url(#f17)"/><rect x="-0.1" y="0.3864" width="1.2" height="0.0364" fill="url(#f18)"/><rect x="-0.1" y="0.4091" width="1.2" height="0.0364" fill="url(#f19)"/><rect x="-0.1" y="0.4318" width="1.2" height="0.0364" fill="url(#f20)"/><rect x="-0.1" y="0.4545" width="1.2" height="0.0364" fill="url(#f21)"/><rect x="-0.1" y="0.4773" width="1.2" height="0.0364" fill="url(#f22)"/><rect x="-0.1" y="0.5000" width="1.2" height="0.0364" fill="url(#f23)"/><rect x="-0.1" y="0.5227" width="1.2" height="0.0364" fill="url(#f24)"/><rect x="-0.1" y="0.5455" width="1.2" height="0.0364" fill="url(#f25)"/><rect x="-0.1" y="0.5682" width="1.2" height="0.0364" fill="url(#f26)"/><rect x="-0.1" y="0.5909" width="1.2" height="0.0364" fill="url(#f27)"/><rect x="-0.1" y="0.6136" width="1.2" height="0.0364" fill="url(#f28)"/><rect x="-0.1" y="0.6364" width="1.2" height="0.0364" fill="url(#f29)"/><rect x="-0.1" y="0.6591" width="1.2" height="0.0364" fill="url(#f30)"/><rect x="-0.1" y="0.6818" width="1.2" height="0.0364" fill="url(#f31)"/><rect x="-0.1" y="0.7045" width="1.2" height="0.0364" fill="url(#f32)"/><rect x="-0.1" y="0.7273" width="1.2" height="0.0364" fill="url(#f33)"/><rect x="-0.1" y="0.7500" width="1.2" height="0.0364" fill="url(#f34)"/><rect x="-0.1" y="0.7727" width="1.2" height="0.0364" fill="url(#f35)"/><rect x="-0.1" y="0.7955" width="1.2" height="0.0364" fill="url(#f36)"/><rect x="-0.1" y="0.8182" width="1.2" height="0.0364" fill="url(#f37)"/><rect x="-0.1" y="0.8409" width="1.2" height="0.0364" fill="url(#f38)"/><rect x="-0.1" y="0.8636" width="1.2" height="0.0364" fill="url(#f39)"/><rect x="-0.1" y="0.8864" width="1.2" height="0.0364" fill="url(#f40)"/><rect x="-0.1" y="0.9091" width="1.2" height="0.0364" fill="url(#f41)"/><rect x="-0.1" y="0.9318" width="1.2" height="0.0364" fill="url(#f42)"/><rect x="-0.1" y="0.9545" width="1.2" height="0.0364" fill="url(#f43)"/><rect x="-0.1" y="0.9773" width="1.2" height="0.0727" fill="url(#f44)"/></g></g></g>
<rect x="348.60" y="9.20" width="45.00" height="87.30" fill="none" stroke="#262626" stroke-width="0.5"/>
<path d="M362.60 96.50v-1.00M362.60 9.20v1.00M377.40 96.50v-1.00M377.40 9.20v1.00M392.00 96.50v-1.00M392.00 9.20v1.00M348.60 28.40h1.00M393.60 28.40h-1.00M348.60 47.50h1.00M393.60 47.50h-1.00M348.60 66.50h1.00M393.60 66.50h-1.00M348.60 85.90h1.00M393.60 85.90h-1.00" stroke="#262626" stroke-width="0.5" fill="none"/>
<text stroke="#262626" stroke-width="0.22" x="346.10" y="31.01" text-anchor="end" font-size="6.50">100</text>
<text stroke="#262626" stroke-width="0.22" x="346.10" y="50.11" text-anchor="end" font-size="6.50">200</text>
<text stroke="#262626" stroke-width="0.22" x="346.10" y="69.11" text-anchor="end" font-size="6.50">300</text>
<text stroke="#262626" stroke-width="0.22" x="346.10" y="88.51" text-anchor="end" font-size="6.50">400</text>
<text stroke="#262626" stroke-width="0.22" x="362.60" y="107.71" text-anchor="middle" font-size="6.50">50</text>
<text stroke="#262626" stroke-width="0.22" x="377.40" y="107.71" text-anchor="middle" font-size="6.50">100</text>
<text stroke="#262626" stroke-width="0.22" x="392.00" y="107.71" text-anchor="middle" font-size="6.50">150</text>
<text stroke="#262626" stroke-width="0.22" x="371.00" y="118.92" text-anchor="middle" font-size="8.10">Range</text>
<text stroke="#262626" stroke-width="0.22" transform="translate(329.67 52.90) rotate(-90)" text-anchor="middle" font-size="8.40">Azimuth</text>
<rect x="404.10" y="9.10" width="6.40" height="87.40" fill="url(#par)" stroke="#262626" stroke-width="0.5"/>
<text stroke="#262626" stroke-width="0.22" x="413.30" y="17.91" font-size="6.80">25</text>
<text stroke="#262626" stroke-width="0.22" x="413.30" y="34.21" font-size="6.80">20</text>
<text stroke="#262626" stroke-width="0.22" x="413.30" y="51.11" font-size="6.80">15</text>
<text stroke="#262626" stroke-width="0.22" x="413.30" y="67.31" font-size="6.80">10</text>
<text stroke="#262626" stroke-width="0.22" x="413.30" y="83.71" font-size="6.80">5</text>
<text stroke="#262626" stroke-width="0.22" x="413.30" y="99.71" font-size="6.80">0</text>
<path d="M410.50 15.10h-0.8M410.50 31.40h-0.8M410.50 48.30h-0.8M410.50 64.50h-0.8M410.50 80.90h-0.8M410.50 96.90h-0.8" stroke="#262626" stroke-width="0.5" fill="none"/>
<text stroke="#262626" stroke-width="0.22" x="380.40" y="133.00" text-anchor="middle" class="pl" font-size="9.20">(f)</text>
<clipPath id="cg"><rect x="33.50" y="145.10" width="45.10" height="85.50"/></clipPath>
<g clip-path="url(#cg)"><g filter="url(#jag)"><g transform="translate(33.500 145.100) scale(45.1000 85.5000)"><defs><linearGradient id="g45" gradientUnits="userSpaceOnUse" x2="1"><stop offset="0.000" stop-color="#352a87"/><stop offset="0.009" stop-color="#352a87"/><stop offset="0.009" stop-color="#1484d4"/><stop offset="0.032" stop-color="#1389d3"/><stop offset="0.055" stop-color="#0f8fd2"/><stop offset="0.152" stop-color="#06a2cc"/><stop offset="0.250" stop-color="#0cadbb"/><stop offset="0.297" stop-color="#30b7a3"/><stop offset="0.345" stop-color="#64be86"/><stop offset="0.447" stop-color="#a4be6b"/><stop offset="0.549" stop-color="#d8ba56"/><stop offset="0.618" stop-color="#febf3c"/><stop offset="0.687" stop-color="#f6dc23"/><stop offset="0.687" stop-color="#352a87"/><stop offset="1.000" stop-color="#352a87"/></linearGradient><linearGradient id="g46" gradientUnits="userSpaceOnUse" x2="1"><stop offset="0.000" stop-color="#352a87"/><stop offset="0.028" stop-color="#352a87"/><stop offset="0.028" stop-color="#1484d4"/><stop offset="0.052" stop-color="#1389d3"/><stop offset="0.075" stop-color="#0f8fd2"/><stop offset="0.171" stop-color="#06a2cc"/><stop offset="0.266" stop-color="#0cadbb"/><stop offset="0.329" stop-color="#30b7a3"/><stop offset="0.392" stop-color="#64be86"/><stop offset="0.474" stop-color="#a4be6b"/><stop offset="0.557" stop-color="#d8ba56"/><stop offset="0.606" stop-color="#febf3c"/><stop offset="0.655" stop-color="#f6dc23"/><stop offset="0.655" stop-color="#352a87"/><stop offset="1.000" stop-color="#352a87"/></linearGradient><linearGradient id="g47" gradientUnits="userSpaceOnUse" x2="1"><stop offset="0.000" stop-color="#352a87"/><stop offset="0.051" stop-color="#352a87"/><stop offset="0.051" stop-color="#1484d4"/><stop offset="0.076" stop-color="#1389d3"/><stop offset="0.101" stop-color="#0f8fd2"/><stop offset="0.191" stop-color="#06a2cc"/><stop offset="0.281" stop-color="#0cadbb"/><stop offset="0.364" stop-color="#30b7a3"/><stop offset="0.446" stop-color="#64be86"/><stop offset="0.518" stop-color="#a4be6b"/><stop offset="0.590" stop-color="#d8ba56"/><stop offset="0.637" stop-color="#febf3c"/><stop offset="0.683" stop-color="#f6dc23"/><stop offset="0.683" stop-color="#352a87"/><stop offset="1.000" stop-color="#352a87"/></linearGradient><linearGradient id="g48" gradientUnits="userSpaceOnUse" x2="1"><stop offset="0.000" stop-color="#352a87"/><stop offset="0.077" stop-color="#352a87"/><stop offset="0.077" stop-color="#1484d4"/><stop offset="0.103" stop-color="#1389d3"/><stop offset="0.130" stop-color="#0f8fd2"/><stop offset="0.215" stop-color="#06a2cc"/><stop offset="0.300" stop-color="#0cadbb"/><stop offset="0.398" stop-color="#30b7a3"/><stop offset="0.497" stop-color="#64be86"/><stop offset="0.563" stop-color="#a4be6b"/><stop offset="0.629" stop-color="#d8ba56"/><stop offset="0.675" stop-color="#febf3c"/><stop offset="0.721" stop-color="#f6dc23"/><stop offset="0.721" stop-color="#352a87"/><stop offset="1.000" stop-color="#352a87"/></linearGradient><linearGradient id="g49" gradientUnits="userSpaceOnUse" x2="1"><stop offset="0.000" stop-color="#352a87"/><stop offset="0.117" stop-color="#352a87"/><stop offset="0.117" stop-color="#1483d5"/><stop offset="0.143" stop-color="#1389d3"/><stop offset="0.169" stop-color="#108fd2"/><stop offset="0.250" stop-color="#06a1cc"/><stop offset="0.331" stop-color="#0cadbc"/><stop offset="0.430" stop-color="#2fb7a3"/><stop offset="0.528" stop-color="#64be86"/><stop offset="0.594" stop-color="#a4be6b"/><stop offset="0.660" stop-color="#d9ba56"/><stop offset="0.706" stop-color="#febf3c"/><stop offset="0.752" stop-color="#f6db23"/><stop offset="0.752" stop-color="#352a87"/><stop offset="1.000" stop-color="#352a87"/></linearGradient><linearGradient id="g50" gradientUnits="userSpaceOnUse" x2="1"><stop offset="0.000" stop-color="#352a87"/><stop offset="0.163" stop-color="#352a87"/><stop offset="0.163" stop-color="#1482d5"/><stop offset="0.189" stop-color="#1487d3"/><stop offset="0.215" stop-color="#118dd2"/><stop offset="0.291" stop-color="#069fce"/><stop offset="0.366" stop-color="#09abbf"/><stop offset="0.437" stop-color="#2cb7a5"/><stop offset="0.508" stop-color="#64be86"/><stop offset="0.601" stop-color="#a7be6a"/><stop offset="0.695" stop-color="#dcba54"/><stop offset="0.745" stop-color="#fec03c"/><stop offset="0.794" stop-color="#f7d925"/><stop offset="0.794" stop-color="#352a87"/><stop offset="1.000" stop-color="#352a87"/></linearGradient><linearGradient id="g51" gradientUnits="userSpaceOnUse" x2="1"><stop offset="0.000" stop-color="#352a87"/><stop offset="0.216" stop-color="#352a87"/><stop offset="0.216" stop-color="#1480d6"/><stop offset="0.243" stop-color="#1485d4"/><stop offset="0.269" stop-color="#128bd3"/><stop offset="0.337" stop-color="#079dcf"/><stop offset="0.404" stop-color="#07a9c2"/><stop offset="0.418" stop-color="#29b6a7"/><stop offset="0.431" stop-color="#64be86"/><stop offset="0.582" stop-color="#a9be69"/><stop offset="0.733" stop-color="#e0ba53"/><stop offset="0.790" stop-color="#fec03b"/><stop offset="0.848" stop-color="#f8d726"/><stop offset="0.848" stop-color="#352a87"/><stop offset="1.000" stop-color="#352a87"/></linearGradient><linearGradient id="g52" gradientUnits="userSpaceOnUse" x2="1"><stop offset="0.000" stop-color="#352a87"/><stop offset="0.251" stop-color="#352a87"/><stop offset="0.251" stop-color="#137fd7"/><stop offset="0.277" stop-color="#1483d4"/><stop offset="0.303" stop-color="#1388d3"/><stop offset="0.340" stop-color="#089bd0"/><stop offset="0.377" stop-color="#06a8c5"/><stop offset="0.377" stop-color="#64be86"/><stop offset="0.552" stop-color="#abbe69"/><stop offset="0.728" stop-color="#e3b951"/><stop offset="0.794" stop-color="#fec03b"/><stop offset="0.861" stop-color="#f9d528"/><stop offset="0.861" stop-color="#352a87"/><stop offset="1.000" stop-color="#352a87"/></linearGradient><linearGradient id="g53" gradientUnits="userSpaceOnUse" x2="1"><stop offset="0.000" stop-color="#352a87"/><stop offset="0.265" stop-color="#352a87"/><stop offset="0.265" stop-color="#137dd7"/><stop offset="0.291" stop-color="#1482d5"/><stop offset="0.318" stop-color="#1486d3"/><stop offset="0.327" stop-color="#0998d1"/><stop offset="0.337" stop-color="#06a6c7"/><stop offset="0.344" stop-color="#23b5ab"/><stop offset="0.351" stop-color="#64be86"/><stop offset="0.523" stop-color="#adbe68"/><stop offset="0.695" stop-color="#e7b94f"/><stop offset="0.771" stop-color="#fec03b"/><stop offset="0.847" stop-color="#f9d329"/><stop offset="0.847" stop-color="#352a87"/><stop offset="1.000" stop-color="#352a87"/></linearGradient><linearGradient id="g54" gradientUnits="userSpaceOnUse" x2="1"><stop offset="0.000" stop-color="#352a87"/><stop offset="0.256" stop-color="#352a87"/><stop offset="0.256" stop-color="#127cd8"/><stop offset="0.282" stop-color="#1480d6"/><stop offset="0.308" stop-color="#1485d4"/><stop offset="0.309" stop-color="#0b96d1"/><stop offset="0.309" stop-color="#06a4ca"/><stop offset="0.335" stop-color="#21b4ac"/><stop offset="0.360" stop-color="#64be86"/><stop offset="0.500" stop-color="#afbe67"/><stop offset="0.640" stop-color="#eab94d"/><stop offset="0.725" stop-color="#fec03b"/><stop offset="0.810" stop-color="#fad12b"/><stop offset="0.810" stop-color="#352a87"/><stop offset="1.000" stop-color="#352a87"/></linearGradient><linearGradient id="g55" gradientUnits="userSpaceOnUse" x2="1"><stop offset="0.000" stop-color="#352a87"/><stop offset="0.226" stop-color="#352a87"/><stop offset="0.226" stop-color="#117bd9"/><stop offset="0.259" stop-color="#137fd7"/><stop offset="0.293" stop-color="#1483d5"/><stop offset="0.304" stop-color="#0d93d2"/><stop offset="0.315" stop-color="#06a2cc"/><stop offset="0.349" stop-color="#1eb3ae"/><stop offset="0.383" stop-color="#64be86"/><stop offset="0.499" stop-color="#b1bd66"/><stop offset="0.615" stop-color="#eeb94b"/><stop offset="0.685" stop-color="#fec03a"/><stop offset="0.756" stop-color="#fbcf2c"/><stop offset="0.756" stop-color="#352a87"/><stop offset="1.000" stop-color="#352a87"/></linearGradient><linearGradient id="g56" gradientUnits="userSpaceOnUse" x2="1"><stop offset="0.000" stop-color="#352a87"/><stop offset="0.197" stop-color="#352a87"/><stop offset="0.197" stop-color="#1079da"/><stop offset="0.238" stop-color="#137dd8"/><stop offset="0.279" stop-color="#1481d6"/><stop offset="0.303" stop-color="#0f90d2"/><stop offset="0.327" stop-color="#069fce"/><stop offset="0.371" stop-color="#1bb2b0"/><stop offset="0.415" stop-color="#64be86"/><stop offset="0.508" stop-color="#b3bd65"/><stop offset="0.602" stop-color="#f1b949"/><stop offset="0.657" stop-color="#fec13a"/><stop offset="0.712" stop-color="#fccd2e"/><stop offset="0.712" stop-color="#352a87"/><stop offset="1.000" stop-color="#352a87"/></linearGradient><linearGradient id="g57" gradientUnits="userSpaceOnUse" x2="1"><stop offset="0.000" stop-color="#352a87"/><stop offset="0.177" stop-color="#352a87"/><stop offset="0.177" stop-color="#0f78db"/><stop offset="0.224" stop-color="#127bd9"/><stop offset="0.272" stop-color="#137fd6"/><stop offset="0.311" stop-color="#118dd2"/><stop offset="0.351" stop-color="#079dcf"/><stop offset="0.411" stop-color="#19b2b2"/><stop offset="0.470" stop-color="#64be86"/><stop offset="0.544" stop-color="#b4bd65"/><stop offset="0.617" stop-color="#f5ba47"/><stop offset="0.657" stop-color="#fec13a"/><stop offset="0.696" stop-color="#fdcc30"/><stop offset="0.696" stop-color="#352a87"/><stop offset="1.000" stop-color="#352a87"/></linearGradient><linearGradient id="g58" gradientUnits="userSpaceOnUse" x2="1"><stop offset="0.000" stop-color="#352a87"/><stop offset="0.153" stop-color="#352a87"/><stop offset="0.153" stop-color="#0f77db"/><stop offset="0.205" stop-color="#117bd9"/><stop offset="0.257" stop-color="#137fd7"/><stop offset="0.307" stop-color="#118cd2"/><stop offset="0.358" stop-color="#079cd0"/><stop offset="0.432" stop-color="#18b1b2"/><stop offset="0.506" stop-color="#64be86"/><stop offset="0.572" stop-color="#b5bd64"/><stop offset="0.638" stop-color="#f6ba46"/><stop offset="0.668" stop-color="#fec13a"/><stop offset="0.699" stop-color="#fdcb30"/><stop offset="0.699" stop-color="#352a87"/><stop offset="1.000" stop-color="#352a87"/></linearGradient><linearGradient id="g59" gradientUnits="userSpaceOnUse" x2="1"><stop offset="0.000" stop-color="#352a87"/><stop offset="0.128" stop-color="#352a87"/><stop offset="0.128" stop-color="#0f77db"/><stop offset="0.183" stop-color="#117bd9"/><stop offset="0.238" stop-color="#137fd7"/><stop offset="0.296" stop-color="#118cd2"/><stop offset="0.353" stop-color="#079cd0"/><stop offset="0.441" stop-color="#18b1b2"/><stop offset="0.530" stop-color="#64be86"/><stop offset="0.596" stop-color="#b5bd64"/><stop offset="0.661" stop-color="#f6ba46"/><stop offset="0.688" stop-color="#fec13a"/><stop offset="0.715" stop-color="#fdcb30"/><stop offset="0.715" stop-color="#352a87"/><stop offset="1.000" stop-color="#352a87"/></linearGradient><linearGradient id="g60" gradientUnits="userSpaceOnUse" x2="1"><stop offset="0.000" stop-color="#352a87"/><stop offset="0.091" stop-color="#352a87"/><stop offset="0.091" stop-color="#0f77db"/><stop offset="0.144" stop-color="#117bd9"/><stop offset="0.197" stop-color="#137fd7"/><stop offset="0.275" stop-color="#118cd2"/><stop offset="0.353" stop-color="#079cd0"/><stop offset="0.423" stop-color="#18b1b2"/><stop offset="0.494" stop-color="#64be86"/><stop offset="0.591" stop-color="#b5bd64"/><stop offset="0.688" stop-color="#f6ba46"/><stop offset="0.721" stop-color="#fec13a"/><stop offset="0.753" stop-color="#fdcb30"/><stop offset="0.753" stop-color="#352a87"/><stop offset="1.000" stop-color="#352a87"/></linearGradient><linearGradient id="g61" gradientUnits="userSpaceOnUse" x2="1"><stop offset="0.000" stop-color="#352a87"/><stop offset="0.054" stop-color="#352a87"/><stop offset="0.054" stop-color="#0f77db"/><stop offset="0.104" stop-color="#117bd9"/><stop offset="0.154" stop-color="#137fd7"/><stop offset="0.253" stop-color="#118cd2"/><stop offset="0.353" stop-color="#079cd0"/><stop offset="0.403" stop-color="#18b1b2"/><stop offset="0.454" stop-color="#64be86"/><stop offset="0.584" stop-color="#b5bd64"/><stop offset="0.715" stop-color="#f6ba46"/><stop offset="0.754" stop-color="#fec13a"/><stop offset="0.793" stop-color="#fdcb30"/><stop offset="0.793" stop-color="#352a87"/><stop offset="1.000" stop-color="#352a87"/></linearGradient><linearGradient id="g62" gradientUnits="userSpaceOnUse" x2="1"><stop offset="0.000" stop-color="#352a87"/><stop offset="0.044" stop-color="#352a87"/><stop offset="0.044" stop-color="#0f77db"/><stop offset="0.086" stop-color="#117bd9"/><stop offset="0.127" stop-color="#137fd7"/><stop offset="0.210" stop-color="#118cd2"/><stop offset="0.293" stop-color="#079cd0"/><stop offset="0.362" stop-color="#18b1b2"/><stop offset="0.430" stop-color="#64be86"/><stop offset="0.588" stop-color="#b5bd64"/><stop offset="0.745" stop-color="#f6ba46"/><stop offset="0.785" stop-color="#fec13a"/><stop offset="0.824" stop-color="#fdcb30"/><stop offset="0.824" stop-color="#352a87"/><stop offset="1.000" stop-color="#352a87"/></linearGradient><linearGradient id="g63" gradientUnits="userSpaceOnUse" x2="1"><stop offset="0.000" stop-color="#352a87"/><stop offset="0.040" stop-color="#352a87"/><stop offset="0.040" stop-color="#0f77db"/><stop offset="0.075" stop-color="#117bd9"/><stop offset="0.111" stop-color="#137fd7"/><stop offset="0.177" stop-color="#118cd2"/><stop offset="0.243" stop-color="#079cd0"/><stop offset="0.323" stop-color="#18b1b2"/><stop offset="0.403" stop-color="#64be86"/><stop offset="0.578" stop-color="#b5bd64"/><stop offset="0.753" stop-color="#f6ba46"/><stop offset="0.798" stop-color="#fec13a"/><stop offset="0.843" stop-color="#fdcb30"/><stop offset="0.843" stop-color="#352a87"/><stop offset="1.000" stop-color="#352a87"/></linearGradient><linearGradient id="g64" gradientUnits="userSpaceOnUse" x2="1"><stop offset="0.000" stop-color="#352a87"/><stop offset="0.053" stop-color="#352a87"/><stop offset="0.053" stop-color="#0f77db"/><stop offset="0.087" stop-color="#117bd9"/><stop offset="0.122" stop-color="#137fd7"/><stop offset="0.175" stop-color="#118cd2"/><stop offset="0.228" stop-color="#079cd0"/><stop offset="0.296" stop-color="#18b1b2"/><stop offset="0.364" stop-color="#64be86"/><stop offset="0.527" stop-color="#b5bd64"/><stop offset="0.690" stop-color="#f6ba46"/><stop offset="0.759" stop-color="#fec13a"/><stop offset="0.828" stop-color="#fdcb30"/><stop offset="0.828" stop-color="#352a87"/><stop offset="1.000" stop-color="#352a87"/></linearGradient><linearGradient id="g65" gradientUnits="userSpaceOnUse" x2="1"><stop offset="0.000" stop-color="#352a87"/><stop offset="0.043" stop-color="#352a87"/><stop offset="0.043" stop-color="#0f77db"/><stop offset="0.078" stop-color="#117bd9"/><stop offset="0.112" stop-color="#137fd7"/><stop offset="0.161" stop-color="#118cd2"/><stop offset="0.210" stop-color="#079cd0"/><stop offset="0.279" stop-color="#18b1b2"/><stop offset="0.347" stop-color="#64be86"/><stop offset="0.501" stop-color="#b5bd64"/><stop offset="0.654" stop-color="#f6ba46"/><stop offset="0.735" stop-color="#fec13a"/><stop offset="0.817" stop-color="#fdcb30"/><stop offset="0.817" stop-color="#352a87"/><stop offset="1.000" stop-color="#352a87"/></linearGradient><linearGradient id="g66" gradientUnits="userSpaceOnUse" x2="1"><stop offset="0.000" stop-color="#352a87"/><stop offset="0.018" stop-color="#352a87"/><stop offset="0.018" stop-color="#0f77db"/><stop offset="0.052" stop-color="#117bd9"/><stop offset="0.087" stop-color="#137fd7"/><stop offset="0.139" stop-color="#118cd2"/><stop offset="0.191" stop-color="#079cd0"/><stop offset="0.269" stop-color="#18b1b2"/><stop offset="0.347" stop-color="#64be86"/><stop offset="0.493" stop-color="#b5bd64"/><stop offset="0.638" stop-color="#f6ba46"/><stop offset="0.723" stop-color="#fec13a"/><stop offset="0.809" stop-color="#fdcb30"/><stop offset="0.809" stop-color="#352a87"/><stop offset="1.000" stop-color="#352a87"/></linearGradient><linearGradient id="g67" gradientUnits="userSpaceOnUse" x2="1"><stop offset="0.000" stop-color="#352a87"/><stop offset="0.020" stop-color="#352a87"/><stop offset="0.020" stop-color="#0f77db"/><stop offset="0.051" stop-color="#117bd9"/><stop offset="0.083" stop-color="#137fd7"/><stop offset="0.140" stop-color="#118cd2"/><stop offset="0.196" stop-color="#079cd0"/><stop offset="0.275" stop-color="#18b1b2"/><stop offset="0.354" stop-color="#64be86"/><stop offset="0.482" stop-color="#b5bd64"/><stop offset="0.609" stop-color="#f6ba46"/><stop offset="0.712" stop-color="#fec13a"/><stop offset="0.815" stop-color="#fdcb30"/><stop offset="0.815" stop-color="#352a87"/><stop offset="1.000" stop-color="#352a87"/></linearGradient><linearGradient id="g68" gradientUnits="userSpaceOnUse" x2="1"><stop offset="0.000" stop-color="#352a87"/><stop offset="0.026" stop-color="#352a87"/><stop offset="0.026" stop-color="#0f77db"/><stop offset="0.054" stop-color="#117bd9"/><stop offset="0.083" stop-color="#137fd7"/><stop offset="0.143" stop-color="#118cd2"/><stop offset="0.204" stop-color="#079cd0"/><stop offset="0.284" stop-color="#18b1b2"/><stop offset="0.365" stop-color="#64be86"/><stop offset="0.473" stop-color="#b5bd64"/><stop offset="0.581" stop-color="#f6ba46"/><stop offset="0.698" stop-color="#fec13a"/><stop offset="0.815" stop-color="#fdcb30"/><stop offset="0.815" stop-color="#352a87"/><stop offset="1.000" stop-color="#352a87"/></linearGradient><linearGradient id="g69" gradientUnits="userSpaceOnUse" x2="1"><stop offset="0.000" stop-color="#352a87"/><stop offset="0.037" stop-color="#352a87"/><stop offset="0.037" stop-color="#0f77db"/><stop offset="0.063" stop-color="#117bd9"/><stop offset="0.089" stop-color="#137fd7"/><stop offset="0.150" stop-color="#118cd2"/><stop offset="0.212" stop-color="#079cd0"/><stop offset="0.300" stop-color="#18b1b2"/><stop offset="0.388" stop-color="#64be86"/><stop offset="0.477" stop-color="#b5bd64"/><stop offset="0.566" stop-color="#f6ba46"/><stop offset="0.675" stop-color="#fec13a"/><stop offset="0.784" stop-color="#fdcb30"/><stop offset="0.784" stop-color="#352a87"/><stop offset="1.000" stop-color="#352a87"/></linearGradient><linearGradient id="g70" gradientUnits="userSpaceOnUse" x2="1"><stop offset="0.000" stop-color="#352a87"/><stop offset="0.031" stop-color="#352a87"/><stop offset="0.031" stop-color="#0f77db"/><stop offset="0.059" stop-color="#117bd9"/><stop offset="0.086" stop-color="#137fd7"/><stop offset="0.153" stop-color="#118cd2"/><stop offset="0.220" stop-color="#079cd0"/><stop offset="0.312" stop-color="#18b1b2"/><stop offset="0.404" stop-color="#64be86"/><stop offset="0.477" stop-color="#b5bd64"/><stop offset="0.550" stop-color="#f6ba46"/><stop offset="0.651" stop-color="#fec13a"/><stop offset="0.752" stop-color="#fdcb30"/><stop offset="0.752" stop-color="#352a87"/><stop offset="1.000" stop-color="#352a87"/></linearGradient><linearGradient id="g71" gradientUnits="userSpaceOnUse" x2="1"><stop offset="0.000" stop-color="#352a87"/><stop offset="0.009" stop-color="#352a87"/><stop offset="0.009" stop-color="#0f77db"/><stop offset="0.042" stop-color="#117bd9"/><stop offset="0.075" stop-color="#137fd7"/><stop offset="0.152" stop-color="#118cd2"/><stop offset="0.228" stop-color="#079cd0"/><stop offset="0.320" stop-color="#18b1b2"/><stop offset="0.412" stop-color="#64be86"/><stop offset="0.473" stop-color="#b5bd64"/><stop offset="0.534" stop-color="#f6ba46"/><stop offset="0.627" stop-color="#fec13a"/><stop offset="0.721" stop-color="#fdcb30"/><stop offset="0.721" stop-color="#352a87"/><stop offset="1.000" stop-color="#352a87"/></linearGradient><linearGradient id="g72" gradientUnits="userSpaceOnUse" x2="1"><stop offset="0.000" stop-color="#352a87"/><stop offset="0.003" stop-color="#352a87"/><stop offset="0.003" stop-color="#0f77db"/><stop offset="0.031" stop-color="#117bd9"/><stop offset="0.060" stop-color="#137fd7"/><stop offset="0.151" stop-color="#118cd2"/><stop offset="0.242" stop-color="#079cd0"/><stop offset="0.327" stop-color="#18b1b2"/><stop offset="0.413" stop-color="#64be86"/><stop offset="0.466" stop-color="#b5bd64"/><stop offset="0.519" stop-color="#f6ba46"/><stop offset="0.611" stop-color="#fec13a"/><stop offset="0.703" stop-color="#fdcb30"/><stop offset="0.703" stop-color="#352a87"/><stop offset="1.000" stop-color="#352a87"/></linearGradient><linearGradient id="g73" gradientUnits="userSpaceOnUse" x2="1"><stop offset="0.000" stop-color="#352a87"/><stop offset="0.000" stop-color="#0f77db"/><stop offset="0.024" stop-color="#117bd9"/><stop offset="0.047" stop-color="#137fd7"/><stop offset="0.154" stop-color="#118cd2"/><stop offset="0.261" stop-color="#079cd0"/><stop offset="0.339" stop-color="#18b1b2"/><stop offset="0.416" stop-color="#64be86"/><stop offset="0.464" stop-color="#b5bd64"/><stop offset="0.513" stop-color="#f6ba46"/><stop offset="0.602" stop-color="#fec13a"/><stop offset="0.691" stop-color="#fdcb30"/><stop offset="0.691" stop-color="#352a87"/><stop offset="1.000" stop-color="#352a87"/></linearGradient><linearGradient id="g74" gradientUnits="userSpaceOnUse" x2="1"><stop offset="0.000" stop-color="#352a87"/><stop offset="0.000" stop-color="#0f77db"/><stop offset="0.034" stop-color="#117bd9"/><stop offset="0.067" stop-color="#137fd7"/><stop offset="0.188" stop-color="#118cd2"/><stop offset="0.308" stop-color="#079cd0"/><stop offset="0.376" stop-color="#18b1b2"/><stop offset="0.443" stop-color="#64be86"/><stop offset="0.508" stop-color="#b5bd64"/><stop offset="0.573" stop-color="#f6ba46"/><stop offset="0.639" stop-color="#fec13a"/><stop offset="0.705" stop-color="#fdcb30"/><stop offset="0.705" stop-color="#352a87"/><stop offset="1.000" stop-color="#352a87"/></linearGradient><linearGradient id="g75" gradientUnits="userSpaceOnUse" x2="1"><stop offset="0.000" stop-color="#352a87"/><stop offset="0.004" stop-color="#352a87"/><stop offset="0.004" stop-color="#0f77db"/><stop offset="0.048" stop-color="#117bd9"/><stop offset="0.093" stop-color="#137fd7"/><stop offset="0.222" stop-color="#118dd2"/><stop offset="0.351" stop-color="#079cd0"/><stop offset="0.411" stop-color="#19b2b2"/><stop offset="0.471" stop-color="#64be86"/><stop offset="0.547" stop-color="#b6bd64"/><stop offset="0.624" stop-color="#f6ba45"/><stop offset="0.669" stop-color="#fec139"/><stop offset="0.715" stop-color="#fdcb30"/><stop offset="0.715" stop-color="#352a87"/><stop offset="1.000" stop-color="#352a87"/></linearGradient><linearGradient id="g76" gradientUnits="userSpaceOnUse" x2="1"><stop offset="0.000" stop-color="#352a87"/><stop offset="0.026" stop-color="#352a87"/><stop offset="0.026" stop-color="#0f78db"/><stop offset="0.087" stop-color="#127bd9"/><stop offset="0.148" stop-color="#137fd6"/><stop offset="0.261" stop-color="#108ed2"/><stop offset="0.375" stop-color="#079dcf"/><stop offset="0.439" stop-color="#1ab2b1"/><stop offset="0.502" stop-color="#64be86"/><stop offset="0.563" stop-color="#b7bd64"/><stop offset="0.624" stop-color="#f8ba44"/><stop offset="0.665" stop-color="#fec238"/><stop offset="0.707" stop-color="#fdcc2f"/><stop offset="0.707" stop-color="#352a87"/><stop offset="1.000" stop-color="#352a87"/></linearGradient><linearGradient id="g77" gradientUnits="userSpaceOnUse" x2="1"><stop offset="0.000" stop-color="#352a87"/><stop offset="0.074" stop-color="#352a87"/><stop offset="0.074" stop-color="#0f78db"/><stop offset="0.142" stop-color="#127cd8"/><stop offset="0.211" stop-color="#1480d6"/><stop offset="0.302" stop-color="#108fd2"/><stop offset="0.392" stop-color="#069ece"/><stop offset="0.451" stop-color="#1bb2b0"/><stop offset="0.511" stop-color="#64be86"/><stop offset="0.573" stop-color="#b8bd63"/><stop offset="0.635" stop-color="#f9bb43"/><stop offset="0.673" stop-color="#ffc337"/><stop offset="0.710" stop-color="#fccd2f"/><stop offset="0.710" stop-color="#352a87"/><stop offset="1.000" stop-color="#352a87"/></linearGradient><linearGradient id="g78" gradientUnits="userSpaceOnUse" x2="1"><stop offset="0.000" stop-color="#352a87"/><stop offset="0.149" stop-color="#352a87"/><stop offset="0.149" stop-color="#1078da"/><stop offset="0.216" stop-color="#127cd8"/><stop offset="0.282" stop-color="#1480d6"/><stop offset="0.342" stop-color="#0f90d2"/><stop offset="0.403" stop-color="#06a0cd"/><stop offset="0.449" stop-color="#1cb3b0"/><stop offset="0.495" stop-color="#64be86"/><stop offset="0.577" stop-color="#b9bd63"/><stop offset="0.659" stop-color="#fabc41"/><stop offset="0.692" stop-color="#ffc436"/><stop offset="0.726" stop-color="#fccd2e"/><stop offset="0.726" stop-color="#352a87"/><stop offset="1.000" stop-color="#352a87"/></linearGradient><linearGradient id="g79" gradientUnits="userSpaceOnUse" x2="1"><stop offset="0.000" stop-color="#352a87"/><stop offset="0.191" stop-color="#352a87"/><stop offset="0.191" stop-color="#1078da"/><stop offset="0.249" stop-color="#127dd8"/><stop offset="0.307" stop-color="#1481d6"/><stop offset="0.349" stop-color="#0e91d2"/><stop offset="0.390" stop-color="#06a1cd"/><stop offset="0.432" stop-color="#1db3af"/><stop offset="0.473" stop-color="#64be86"/><stop offset="0.581" stop-color="#babd63"/><stop offset="0.688" stop-color="#fcbd40"/><stop offset="0.724" stop-color="#fec535"/><stop offset="0.760" stop-color="#fcce2d"/><stop offset="0.760" stop-color="#352a87"/><stop offset="1.000" stop-color="#352a87"/></linearGradient><linearGradient id="g80" gradientUnits="userSpaceOnUse" x2="1"><stop offset="0.000" stop-color="#352a87"/><stop offset="0.217" stop-color="#352a87"/><stop offset="0.217" stop-color="#1079da"/><stop offset="0.265" stop-color="#137dd8"/><stop offset="0.314" stop-color="#1482d5"/><stop offset="0.342" stop-color="#0d92d2"/><stop offset="0.371" stop-color="#06a2cc"/><stop offset="0.411" stop-color="#1eb3ae"/><stop offset="0.452" stop-color="#64be86"/><stop offset="0.586" stop-color="#babd62"/><stop offset="0.720" stop-color="#fdbe3e"/><stop offset="0.758" stop-color="#fec634"/><stop offset="0.797" stop-color="#fbcf2d"/><stop offset="0.797" stop-color="#352a87"/><stop offset="1.000" stop-color="#352a87"/></linearGradient><linearGradient id="g81" gradientUnits="userSpaceOnUse" x2="1"><stop offset="0.000" stop-color="#352a87"/><stop offset="0.171" stop-color="#352a87"/><stop offset="0.171" stop-color="#1079da"/><stop offset="0.205" stop-color="#137ed7"/><stop offset="0.238" stop-color="#1482d5"/><stop offset="0.290" stop-color="#0c93d2"/><stop offset="0.343" stop-color="#06a3cb"/><stop offset="0.393" stop-color="#1fb3ad"/><stop offset="0.444" stop-color="#64be86"/><stop offset="0.601" stop-color="#bbbd62"/><stop offset="0.759" stop-color="#febe3d"/><stop offset="0.790" stop-color="#fec734"/><stop offset="0.821" stop-color="#fbd02c"/><stop offset="0.821" stop-color="#352a87"/><stop offset="1.000" stop-color="#352a87"/></linearGradient><linearGradient id="g82" gradientUnits="userSpaceOnUse" x2="1"><stop offset="0.000" stop-color="#352a87"/><stop offset="0.149" stop-color="#352a87"/><stop offset="0.149" stop-color="#1079da"/><stop offset="0.175" stop-color="#137ed7"/><stop offset="0.200" stop-color="#1483d5"/><stop offset="0.261" stop-color="#0b95d2"/><stop offset="0.322" stop-color="#06a4ca"/><stop offset="0.379" stop-color="#20b4ad"/><stop offset="0.436" stop-color="#64be86"/><stop offset="0.614" stop-color="#bcbd61"/><stop offset="0.792" stop-color="#fec03c"/><stop offset="0.818" stop-color="#fec833"/><stop offset="0.844" stop-color="#fbd02c"/><stop offset="0.844" stop-color="#352a87"/><stop offset="1.000" stop-color="#352a87"/></linearGradient><linearGradient id="g83" gradientUnits="userSpaceOnUse" x2="1"><stop offset="0.000" stop-color="#352a87"/><stop offset="0.160" stop-color="#352a87"/><stop offset="0.160" stop-color="#117ada"/><stop offset="0.187" stop-color="#137ed7"/><stop offset="0.213" stop-color="#1483d4"/><stop offset="0.262" stop-color="#0b96d1"/><stop offset="0.311" stop-color="#06a4c9"/><stop offset="0.369" stop-color="#22b4ac"/><stop offset="0.428" stop-color="#64be86"/><stop offset="0.622" stop-color="#bdbc61"/><stop offset="0.815" stop-color="#fec13a"/><stop offset="0.842" stop-color="#fec932"/><stop offset="0.868" stop-color="#fad12b"/><stop offset="0.868" stop-color="#352a87"/><stop offset="1.000" stop-color="#352a87"/></linearGradient><linearGradient id="g84" gradientUnits="userSpaceOnUse" x2="1"><stop offset="0.000" stop-color="#352a87"/><stop offset="0.175" stop-color="#352a87"/><stop offset="0.175" stop-color="#117ada"/><stop offset="0.198" stop-color="#137fd7"/><stop offset="0.222" stop-color="#1484d4"/><stop offset="0.265" stop-color="#0a96d1"/><stop offset="0.308" stop-color="#06a5c9"/><stop offset="0.364" stop-color="#22b4ac"/><stop offset="0.420" stop-color="#64be86"/><stop offset="0.630" stop-color="#bebc61"/><stop offset="0.839" stop-color="#fec13a"/><stop offset="0.862" stop-color="#fec932"/><stop offset="0.886" stop-color="#fad12b"/><stop offset="0.886" stop-color="#352a87"/><stop offset="1.000" stop-color="#352a87"/></linearGradient><linearGradient id="g85" gradientUnits="userSpaceOnUse" x2="1"><stop offset="0.000" stop-color="#352a87"/><stop offset="0.190" stop-color="#352a87"/><stop offset="0.190" stop-color="#117ada"/><stop offset="0.210" stop-color="#137fd7"/><stop offset="0.229" stop-color="#1484d4"/><stop offset="0.269" stop-color="#0a96d1"/><stop offset="0.308" stop-color="#06a5c9"/><stop offset="0.361" stop-color="#22b4ac"/><stop offset="0.414" stop-color="#64be86"/><stop offset="0.637" stop-color="#bebc61"/><stop offset="0.861" stop-color="#fec13a"/><stop offset="0.881" stop-color="#fec932"/><stop offset="0.901" stop-color="#fad12b"/><stop offset="0.901" stop-color="#352a87"/><stop offset="1.000" stop-color="#352a87"/></linearGradient><linearGradient id="g86" gradientUnits="userSpaceOnUse" x2="1"><stop offset="0.000" stop-color="#352a87"/><stop offset="0.200" stop-color="#352a87"/><stop offset="0.200" stop-color="#117ada"/><stop offset="0.216" stop-color="#137fd7"/><stop offset="0.232" stop-color="#1484d4"/><stop offset="0.270" stop-color="#0a96d1"/><stop offset="0.308" stop-color="#06a5c9"/><stop offset="0.363" stop-color="#22b4ac"/><stop offset="0.419" stop-color="#64be86"/><stop offset="0.645" stop-color="#bebc61"/><stop offset="0.872" stop-color="#fec13a"/><stop offset="0.890" stop-color="#fec932"/><stop offset="0.909" stop-color="#fad12b"/><stop offset="0.909" stop-color="#352a87"/><stop offset="1.000" stop-color="#352a87"/></linearGradient><linearGradient id="g87" gradientUnits="userSpaceOnUse" x2="1"><stop offset="0.000" stop-color="#352a87"/><stop offset="0.211" stop-color="#352a87"/><stop offset="0.211" stop-color="#117ada"/><stop offset="0.223" stop-color="#137fd7"/><stop offset="0.235" stop-color="#1484d4"/><stop offset="0.272" stop-color="#0a96d1"/><stop offset="0.308" stop-color="#06a5c9"/><stop offset="0.366" stop-color="#22b4ac"/><stop offset="0.424" stop-color="#64be86"/><stop offset="0.653" stop-color="#bebc61"/><stop offset="0.882" stop-color="#fec13a"/><stop offset="0.899" stop-color="#fec932"/><stop offset="0.917" stop-color="#fad12b"/><stop offset="0.917" stop-color="#352a87"/><stop offset="1.000" stop-color="#352a87"/></linearGradient></defs><rect x="-0.1" y="-0.0500" width="1.2" height="0.0872" fill="url(#g45)"/><rect x="-0.1" y="0.0233" width="1.2" height="0.0372" fill="url(#g46)"/><rect x="-0.1" y="0.0465" width="1.2" height="0.0372" fill="url(#g47)"/><rect x="-0.1" y="0.0698" width="1.2" height="0.0372" fill="url(#g48)"/><rect x="-0.1" y="0.0930" width="1.2" height="0.0372" fill="url(#g49)"/><rect x="-0.1" y="0.1163" width="1.2" height="0.0372" fill="url(#g50)"/><rect x="-0.1" y="0.1395" width="1.2" height="0.0372" fill="url(#g51)"/><rect x="-0.1" y="0.1628" width="1.2" height="0.0372" fill="url(#g52)"/><rect x="-0.1" y="0.1860" width="1.2" height="0.0372" fill="url(#g53)"/><rect x="-0.1" y="0.2093" width="1.2" height="0.0372" fill="url(#g54)"/><rect x="-0.1" y="0.2326" width="1.2" height="0.0372" fill="url(#g55)"/><rect x="-0.1" y="0.2558" width="1.2" height="0.0372" fill="url(#g56)"/><rect x="-0.1" y="0.2791" width="1.2" height="0.0372" fill="url(#g57)"/><rect x="-0.1" y="0.3023" width="1.2" height="0.0372" fill="url(#g58)"/><rect x="-0.1" y="0.3256" width="1.2" height="0.0372" fill="url(#g59)"/><rect x="-0.1" y="0.3488" width="1.2" height="0.0372" fill="url(#g60)"/><rect x="-0.1" y="0.3721" width="1.2" height="0.0372" fill="url(#g61)"/><rect x="-0.1" y="0.3953" width="1.2" height="0.0372" fill="url(#g62)"/><rect x="-0.1" y="0.4186" width="1.2" height="0.0372" fill="url(#g63)"/><rect x="-0.1" y="0.4419" width="1.2" height="0.0372" fill="url(#g64)"/><rect x="-0.1" y="0.4651" width="1.2" height="0.0372" fill="url(#g65)"/><rect x="-0.1" y="0.4884" width="1.2" height="0.0372" fill="url(#g66)"/><rect x="-0.1" y="0.5116" width="1.2" height="0.0372" fill="url(#g67)"/><rect x="-0.1" y="0.5349" width="1.2" height="0.0372" fill="url(#g68)"/><rect x="-0.1" y="0.5581" width="1.2" height="0.0372" fill="url(#g69)"/><rect x="-0.1" y="0.5814" width="1.2" height="0.0372" fill="url(#g70)"/><rect x="-0.1" y="0.6047" width="1.2" height="0.0372" fill="url(#g71)"/><rect x="-0.1" y="0.6279" width="1.2" height="0.0372" fill="url(#g72)"/><rect x="-0.1" y="0.6512" width="1.2" height="0.0372" fill="url(#g73)"/><rect x="-0.1" y="0.6744" width="1.2" height="0.0372" fill="url(#g74)"/><rect x="-0.1" y="0.6977" width="1.2" height="0.0372" fill="url(#g75)"/><rect x="-0.1" y="0.7209" width="1.2" height="0.0372" fill="url(#g76)"/><rect x="-0.1" y="0.7442" width="1.2" height="0.0372" fill="url(#g77)"/><rect x="-0.1" y="0.7674" width="1.2" height="0.0372" fill="url(#g78)"/><rect x="-0.1" y="0.7907" width="1.2" height="0.0372" fill="url(#g79)"/><rect x="-0.1" y="0.8140" width="1.2" height="0.0372" fill="url(#g80)"/><rect x="-0.1" y="0.8372" width="1.2" height="0.0372" fill="url(#g81)"/><rect x="-0.1" y="0.8605" width="1.2" height="0.0372" fill="url(#g82)"/><rect x="-0.1" y="0.8837" width="1.2" height="0.0372" fill="url(#g83)"/><rect x="-0.1" y="0.9070" width="1.2" height="0.0372" fill="url(#g84)"/><rect x="-0.1" y="0.9302" width="1.2" height="0.0372" fill="url(#g85)"/><rect x="-0.1" y="0.9535" width="1.2" height="0.0372" fill="url(#g86)"/><rect x="-0.1" y="0.9767" width="1.2" height="0.0733" fill="url(#g87)"/></g></g></g>
<rect x="33.50" y="145.10" width="45.10" height="85.50" fill="none" stroke="#262626" stroke-width="0.5"/>
<path d="M47.40 230.60v-1.00M47.40 145.10v1.00M62.00 230.60v-1.00M62.00 145.10v1.00M76.60 230.60v-1.00M76.60 145.10v1.00M33.50 163.90h1.00M78.60 163.90h-1.00M33.50 182.50h1.00M78.60 182.50h-1.00M33.50 201.00h1.00M78.60 201.00h-1.00M33.50 220.00h1.00M78.60 220.00h-1.00" stroke="#262626" stroke-width="0.5" fill="none"/>
<text stroke="#262626" stroke-width="0.22" x="31.10" y="166.51" text-anchor="end" font-size="6.50">100</text>
<text stroke="#262626" stroke-width="0.22" x="31.10" y="185.11" text-anchor="end" font-size="6.50">200</text>
<text stroke="#262626" stroke-width="0.22" x="31.10" y="203.61" text-anchor="end" font-size="6.50">300</text>
<text stroke="#262626" stroke-width="0.22" x="31.10" y="222.61" text-anchor="end" font-size="6.50">400</text>
<text stroke="#262626" stroke-width="0.22" x="47.40" y="240.71" text-anchor="middle" font-size="6.50">50</text>
<text stroke="#262626" stroke-width="0.22" x="62.00" y="240.71" text-anchor="middle" font-size="6.50">100</text>
<text stroke="#262626" stroke-width="0.22" x="76.60" y="240.71" text-anchor="middle" font-size="6.50">150</text>
<text stroke="#262626" stroke-width="0.22" x="55.90" y="251.11" text-anchor="middle" font-size="7.80">Range</text>
<text stroke="#262626" stroke-width="0.22" transform="translate(15.38 188.00) rotate(-90)" text-anchor="middle" font-size="7.90">Azimuth</text>
<rect x="88.40" y="144.90" width="6.00" height="85.00" fill="url(#par)" stroke="#262626" stroke-width="0.5"/>
<text stroke="#262626" stroke-width="0.22" x="97.30" y="153.30" font-size="6.20">15</text>
<text stroke="#262626" stroke-width="0.22" x="97.30" y="179.80" font-size="6.20">10</text>
<text stroke="#262626" stroke-width="0.22" x="97.30" y="206.00" font-size="6.20">5</text>
<text stroke="#262626" stroke-width="0.22" x="97.30" y="232.60" font-size="6.20">0</text>
<path d="M94.40 150.70h-0.8M94.40 177.20h-0.8M94.40 203.40h-0.8M94.40 230.00h-0.8" stroke="#262626" stroke-width="0.5" fill="none"/>
<text stroke="#262626" stroke-width="0.22" x="64.50" y="264.20" text-anchor="middle" class="pl" font-size="9.20">(g)</text>
<clipPath id="ch"><rect x="194.50" y="144.80" width="44.50" height="85.10"/></clipPath>
<g clip-path="url(#ch)"><g filter="url(#jag)"><g transform="translate(194.500 144.800) scale(44.5000 85.1000)"><defs><linearGradient id="h176" gradientUnits="userSpaceOnUse" x2="1"><stop offset="0.000" stop-color="#38b99e"/><stop offset="0.007" stop-color="#38b99e"/><stop offset="0.007" stop-color="#117ada"/><stop offset="0.022" stop-color="#0f8fd2"/><stop offset="0.037" stop-color="#06a5c8"/><stop offset="0.052" stop-color="#19b2b2"/><stop offset="0.118" stop-color="#cabb5c"/><stop offset="0.179" stop-color="#f9fb0e"/><stop offset="0.179" stop-color="#352a87"/><stop offset="0.183" stop-color="#363093"/><stop offset="0.248" stop-color="#0d92d2"/><stop offset="0.278" stop-color="#95bf71"/><stop offset="0.309" stop-color="#f6f213"/><stop offset="0.310" stop-color="#f9fb0e"/><stop offset="0.310" stop-color="#352a87"/><stop offset="0.339" stop-color="#089bd0"/><stop offset="0.408" stop-color="#d3bb58"/><stop offset="0.450" stop-color="#f9fb0e"/><stop offset="0.450" stop-color="#352a87"/><stop offset="0.478" stop-color="#0871df"/><stop offset="0.548" stop-color="#77bf7e"/><stop offset="0.595" stop-color="#f5df21"/><stop offset="0.604" stop-color="#f9fb0e"/><stop offset="0.604" stop-color="#352a87"/><stop offset="0.643" stop-color="#118dd2"/><stop offset="0.691" stop-color="#8bbf75"/><stop offset="0.691" stop-color="#38b99e"/><stop offset="1.000" stop-color="#38b99e"/></linearGradient><linearGradient id="h177" gradientUnits="userSpaceOnUse" x2="1"><stop offset="0.000" stop-color="#38b99e"/><stop offset="0.021" stop-color="#38b99e"/><stop offset="0.021" stop-color="#117ada"/><stop offset="0.037" stop-color="#0f8fd2"/><stop offset="0.052" stop-color="#06a5c8"/><stop offset="0.068" stop-color="#19b2b2"/><stop offset="0.132" stop-color="#cabb5c"/><stop offset="0.192" stop-color="#f9fb0e"/><stop offset="0.192" stop-color="#352a87"/><stop offset="0.196" stop-color="#363093"/><stop offset="0.260" stop-color="#0d92d2"/><stop offset="0.298" stop-color="#95bf71"/><stop offset="0.336" stop-color="#f6f213"/><stop offset="0.338" stop-color="#f9fb0e"/><stop offset="0.338" stop-color="#352a87"/><stop offset="0.374" stop-color="#089bd0"/><stop offset="0.434" stop-color="#d3bb58"/><stop offset="0.470" stop-color="#f9fb0e"/><stop offset="0.470" stop-color="#352a87"/><stop offset="0.494" stop-color="#0871df"/><stop offset="0.554" stop-color="#77bf7e"/><stop offset="0.591" stop-color="#f5df21"/><stop offset="0.598" stop-color="#f9fb0e"/><stop offset="0.598" stop-color="#352a87"/><stop offset="0.629" stop-color="#118dd2"/><stop offset="0.667" stop-color="#8bbf75"/><stop offset="0.667" stop-color="#38b99e"/><stop offset="1.000" stop-color="#38b99e"/></linearGradient><linearGradient id="h178" gradientUnits="userSpaceOnUse" x2="1"><stop offset="0.000" stop-color="#38b99e"/><stop offset="0.037" stop-color="#38b99e"/><stop offset="0.037" stop-color="#117ada"/><stop offset="0.053" stop-color="#0f8fd2"/><stop offset="0.069" stop-color="#06a5c8"/><stop offset="0.085" stop-color="#19b2b2"/><stop offset="0.147" stop-color="#cabb5c"/><stop offset="0.206" stop-color="#f9fb0e"/><stop offset="0.206" stop-color="#352a87"/><stop offset="0.209" stop-color="#363093"/><stop offset="0.272" stop-color="#0d92d2"/><stop offset="0.318" stop-color="#95bf71"/><stop offset="0.365" stop-color="#f6f213"/><stop offset="0.367" stop-color="#f9fb0e"/><stop offset="0.367" stop-color="#352a87"/><stop offset="0.412" stop-color="#089bd0"/><stop offset="0.463" stop-color="#d3bb58"/><stop offset="0.494" stop-color="#f9fb0e"/><stop offset="0.494" stop-color="#352a87"/><stop offset="0.515" stop-color="#0871df"/><stop offset="0.566" stop-color="#77bf7e"/><stop offset="0.597" stop-color="#f5df21"/><stop offset="0.602" stop-color="#f9fb0e"/><stop offset="0.602" stop-color="#352a87"/><stop offset="0.628" stop-color="#118dd2"/><stop offset="0.658" stop-color="#8bbf75"/><stop offset="0.658" stop-color="#38b99e"/><stop offset="1.000" stop-color="#38b99e"/></linearGradient><linearGradient id="h179" gradientUnits="userSpaceOnUse" x2="1"><stop offset="0.000" stop-color="#38b99e"/><stop offset="0.054" stop-color="#38b99e"/><stop offset="0.054" stop-color="#117ada"/><stop offset="0.071" stop-color="#0f8fd2"/><stop offset="0.088" stop-color="#06a5c8"/><stop offset="0.105" stop-color="#19b2b2"/><stop offset="0.164" stop-color="#cabb5c"/><stop offset="0.221" stop-color="#f9fb0e"/><stop offset="0.221" stop-color="#352a87"/><stop offset="0.224" stop-color="#363093"/><stop offset="0.284" stop-color="#0d92d2"/><stop offset="0.340" stop-color="#95bf71"/><stop offset="0.397" stop-color="#f6f213"/><stop offset="0.399" stop-color="#f9fb0e"/><stop offset="0.399" stop-color="#352a87"/><stop offset="0.453" stop-color="#089bd0"/><stop offset="0.501" stop-color="#d3bb58"/><stop offset="0.529" stop-color="#f9fb0e"/><stop offset="0.529" stop-color="#352a87"/><stop offset="0.548" stop-color="#0871df"/><stop offset="0.596" stop-color="#77bf7e"/><stop offset="0.627" stop-color="#f5df21"/><stop offset="0.632" stop-color="#f9fb0e"/><stop offset="0.632" stop-color="#352a87"/><stop offset="0.657" stop-color="#118dd2"/><stop offset="0.688" stop-color="#8bbf75"/><stop offset="0.688" stop-color="#38b99e"/><stop offset="1.000" stop-color="#38b99e"/></linearGradient><linearGradient id="h180" gradientUnits="userSpaceOnUse" x2="1"><stop offset="0.000" stop-color="#38b99e"/><stop offset="0.073" stop-color="#38b99e"/><stop offset="0.073" stop-color="#117ada"/><stop offset="0.091" stop-color="#0f8fd2"/><stop offset="0.108" stop-color="#06a5c8"/><stop offset="0.126" stop-color="#19b2b2"/><stop offset="0.183" stop-color="#cabb5c"/><stop offset="0.236" stop-color="#f9fb0e"/><stop offset="0.236" stop-color="#352a87"/><stop offset="0.239" stop-color="#363093"/><stop offset="0.296" stop-color="#0d92d2"/><stop offset="0.362" stop-color="#95bf71"/><stop offset="0.428" stop-color="#f6f213"/><stop offset="0.431" stop-color="#f9fb0e"/><stop offset="0.431" stop-color="#352a87"/><stop offset="0.494" stop-color="#089bd0"/><stop offset="0.538" stop-color="#d3bb58"/><stop offset="0.563" stop-color="#f9fb0e"/><stop offset="0.563" stop-color="#352a87"/><stop offset="0.581" stop-color="#0871df"/><stop offset="0.625" stop-color="#77bf7e"/><stop offset="0.656" stop-color="#f5df21"/><stop offset="0.661" stop-color="#f9fb0e"/><stop offset="0.661" stop-color="#352a87"/><stop offset="0.687" stop-color="#118dd2"/><stop offset="0.717" stop-color="#8bbf75"/><stop offset="0.717" stop-color="#38b99e"/><stop offset="1.000" stop-color="#38b99e"/></linearGradient><linearGradient id="h181" gradientUnits="userSpaceOnUse" x2="1"><stop offset="0.000" stop-color="#38b99e"/><stop offset="0.103" stop-color="#38b99e"/><stop offset="0.103" stop-color="#117ada"/><stop offset="0.120" stop-color="#0f8fd2"/><stop offset="0.138" stop-color="#06a5c8"/><stop offset="0.155" stop-color="#19b2b2"/><stop offset="0.210" stop-color="#cabb5c"/><stop offset="0.262" stop-color="#f9fb0e"/><stop offset="0.262" stop-color="#352a87"/><stop offset="0.265" stop-color="#363093"/><stop offset="0.320" stop-color="#0d92d2"/><stop offset="0.386" stop-color="#95bf71"/><stop offset="0.452" stop-color="#f6f213"/><stop offset="0.455" stop-color="#f9fb0e"/><stop offset="0.455" stop-color="#352a87"/><stop offset="0.517" stop-color="#089bd0"/><stop offset="0.561" stop-color="#d3bb58"/><stop offset="0.587" stop-color="#f9fb0e"/><stop offset="0.587" stop-color="#352a87"/><stop offset="0.605" stop-color="#0871df"/><stop offset="0.649" stop-color="#77bf7e"/><stop offset="0.680" stop-color="#f5df21"/><stop offset="0.685" stop-color="#f9fb0e"/><stop offset="0.685" stop-color="#352a87"/><stop offset="0.710" stop-color="#118dd2"/><stop offset="0.741" stop-color="#8bbf75"/><stop offset="0.741" stop-color="#38b99e"/><stop offset="1.000" stop-color="#38b99e"/></linearGradient><linearGradient id="h182" gradientUnits="userSpaceOnUse" x2="1"><stop offset="0.000" stop-color="#38b99e"/><stop offset="0.132" stop-color="#38b99e"/><stop offset="0.132" stop-color="#0c74dd"/><stop offset="0.150" stop-color="#1388d3"/><stop offset="0.167" stop-color="#06a0cd"/><stop offset="0.185" stop-color="#0eaeba"/><stop offset="0.238" stop-color="#babd62"/><stop offset="0.291" stop-color="#f6f214"/><stop offset="0.294" stop-color="#f9fb0e"/><stop offset="0.294" stop-color="#352a87"/><stop offset="0.344" stop-color="#1486d3"/><stop offset="0.410" stop-color="#85bf78"/><stop offset="0.475" stop-color="#f5ec17"/><stop offset="0.481" stop-color="#f9fb0e"/><stop offset="0.481" stop-color="#352a87"/><stop offset="0.541" stop-color="#089bd0"/><stop offset="0.585" stop-color="#d7ba57"/><stop offset="0.610" stop-color="#f9fb0e"/><stop offset="0.610" stop-color="#352a87"/><stop offset="0.629" stop-color="#0d75dc"/><stop offset="0.673" stop-color="#89bf76"/><stop offset="0.703" stop-color="#f5e31e"/><stop offset="0.708" stop-color="#f9fb0e"/><stop offset="0.708" stop-color="#352a87"/><stop offset="0.734" stop-color="#128bd2"/><stop offset="0.765" stop-color="#7cbf7b"/><stop offset="0.765" stop-color="#38b99e"/><stop offset="1.000" stop-color="#38b99e"/></linearGradient><linearGradient id="h183" gradientUnits="userSpaceOnUse" x2="1"><stop offset="0.000" stop-color="#38b99e"/><stop offset="0.171" stop-color="#38b99e"/><stop offset="0.171" stop-color="#056ee0"/><stop offset="0.189" stop-color="#1481d6"/><stop offset="0.206" stop-color="#0998d1"/><stop offset="0.224" stop-color="#07a9c3"/><stop offset="0.273" stop-color="#a5be6b"/><stop offset="0.323" stop-color="#f5df21"/><stop offset="0.333" stop-color="#f9fb0e"/><stop offset="0.333" stop-color="#352a87"/><stop offset="0.372" stop-color="#117ad9"/><stop offset="0.413" stop-color="#6ebf82"/><stop offset="0.454" stop-color="#f5e51c"/><stop offset="0.459" stop-color="#f9fb0e"/><stop offset="0.459" stop-color="#352a87"/><stop offset="0.496" stop-color="#089bd0"/><stop offset="0.564" stop-color="#dcba54"/><stop offset="0.600" stop-color="#f9fb0e"/><stop offset="0.600" stop-color="#352a87"/><stop offset="0.632" stop-color="#117ad9"/><stop offset="0.701" stop-color="#9dbe6e"/><stop offset="0.735" stop-color="#f5e81a"/><stop offset="0.739" stop-color="#f9fb0e"/><stop offset="0.739" stop-color="#352a87"/><stop offset="0.769" stop-color="#1389d3"/><stop offset="0.803" stop-color="#69be84"/><stop offset="0.803" stop-color="#38b99e"/><stop offset="1.000" stop-color="#38b99e"/></linearGradient><linearGradient id="h184" gradientUnits="userSpaceOnUse" x2="1"><stop offset="0.000" stop-color="#38b99e"/><stop offset="0.212" stop-color="#38b99e"/><stop offset="0.212" stop-color="#0266e1"/><stop offset="0.229" stop-color="#117ad9"/><stop offset="0.247" stop-color="#108ed2"/><stop offset="0.264" stop-color="#06a3ca"/><stop offset="0.310" stop-color="#8ebf74"/><stop offset="0.355" stop-color="#fbd02c"/><stop offset="0.373" stop-color="#f9fb0e"/><stop offset="0.373" stop-color="#352a87"/><stop offset="0.401" stop-color="#066edf"/><stop offset="0.413" stop-color="#56bd8d"/><stop offset="0.426" stop-color="#f5df21"/><stop offset="0.428" stop-color="#f9fb0e"/><stop offset="0.428" stop-color="#352a87"/><stop offset="0.438" stop-color="#089bd0"/><stop offset="0.535" stop-color="#e2b952"/><stop offset="0.583" stop-color="#f9fb0e"/><stop offset="0.583" stop-color="#352a87"/><stop offset="0.632" stop-color="#137fd7"/><stop offset="0.730" stop-color="#b0bd66"/><stop offset="0.768" stop-color="#f5ee16"/><stop offset="0.771" stop-color="#f9fb0e"/><stop offset="0.771" stop-color="#352a87"/><stop offset="0.805" stop-color="#1487d3"/><stop offset="0.843" stop-color="#55bd8e"/><stop offset="0.843" stop-color="#38b99e"/><stop offset="1.000" stop-color="#38b99e"/></linearGradient><linearGradient id="h185" gradientUnits="userSpaceOnUse" x2="1"><stop offset="0.000" stop-color="#38b99e"/><stop offset="0.241" stop-color="#38b99e"/><stop offset="0.241" stop-color="#125adc"/><stop offset="0.259" stop-color="#0b73dd"/><stop offset="0.276" stop-color="#1485d4"/><stop offset="0.294" stop-color="#079cd0"/><stop offset="0.327" stop-color="#75bf7f"/><stop offset="0.360" stop-color="#ffc238"/><stop offset="0.378" stop-color="#f9fb0e"/><stop offset="0.378" stop-color="#352a87"/><stop offset="0.393" stop-color="#0b5edf"/><stop offset="0.393" stop-color="#089bd0"/><stop offset="0.506" stop-color="#e7b94f"/><stop offset="0.558" stop-color="#f9fb0e"/><stop offset="0.558" stop-color="#352a87"/><stop offset="0.620" stop-color="#1485d4"/><stop offset="0.734" stop-color="#c2bc5f"/><stop offset="0.776" stop-color="#f7f413"/><stop offset="0.778" stop-color="#f9fb0e"/><stop offset="0.778" stop-color="#352a87"/><stop offset="0.818" stop-color="#1485d4"/><stop offset="0.861" stop-color="#42bb98"/><stop offset="0.861" stop-color="#38b99e"/><stop offset="1.000" stop-color="#38b99e"/></linearGradient><linearGradient id="h186" gradientUnits="userSpaceOnUse" x2="1"><stop offset="0.000" stop-color="#38b99e"/><stop offset="0.263" stop-color="#38b99e"/><stop offset="0.263" stop-color="#294cc9"/><stop offset="0.280" stop-color="#036ce0"/><stop offset="0.298" stop-color="#137ed7"/><stop offset="0.315" stop-color="#0d92d2"/><stop offset="0.329" stop-color="#59bd8c"/><stop offset="0.343" stop-color="#f2b949"/><stop offset="0.353" stop-color="#f9fb0e"/><stop offset="0.353" stop-color="#352a87"/><stop offset="0.357" stop-color="#3046be"/><stop offset="0.357" stop-color="#089bd0"/><stop offset="0.478" stop-color="#edb94c"/><stop offset="0.529" stop-color="#f9fb0e"/><stop offset="0.529" stop-color="#352a87"/><stop offset="0.599" stop-color="#128bd3"/><stop offset="0.720" stop-color="#d2bb59"/><stop offset="0.767" stop-color="#f9fa0e"/><stop offset="0.767" stop-color="#f9fb0e"/><stop offset="0.767" stop-color="#352a87"/><stop offset="0.814" stop-color="#1483d5"/><stop offset="0.861" stop-color="#31b8a2"/><stop offset="0.861" stop-color="#38b99e"/><stop offset="1.000" stop-color="#38b99e"/></linearGradient><linearGradient id="h187" gradientUnits="userSpaceOnUse" x2="1"><stop offset="0.000" stop-color="#38b99e"/><stop offset="0.263" stop-color="#38b99e"/><stop offset="0.263" stop-color="#3340b3"/><stop offset="0.281" stop-color="#0462e1"/><stop offset="0.298" stop-color="#0e76dc"/><stop offset="0.316" stop-color="#1388d3"/><stop offset="0.321" stop-color="#3eba9a"/><stop offset="0.327" stop-color="#ddba54"/><stop offset="0.332" stop-color="#f9fb0e"/><stop offset="0.332" stop-color="#352a87"/><stop offset="0.332" stop-color="#363298"/><stop offset="0.339" stop-color="#1bb2b0"/><stop offset="0.346" stop-color="#fcce2d"/><stop offset="0.347" stop-color="#f9fb0e"/><stop offset="0.347" stop-color="#352a87"/><stop offset="0.352" stop-color="#089bd0"/><stop offset="0.463" stop-color="#f2b949"/><stop offset="0.507" stop-color="#f9fb0e"/><stop offset="0.507" stop-color="#352a87"/><stop offset="0.574" stop-color="#0e91d2"/><stop offset="0.685" stop-color="#e3b951"/><stop offset="0.735" stop-color="#f9fb0e"/><stop offset="0.735" stop-color="#352a87"/><stop offset="0.737" stop-color="#362f8f"/><stop offset="0.789" stop-color="#1481d5"/><stop offset="0.840" stop-color="#22b4ab"/><stop offset="0.840" stop-color="#38b99e"/><stop offset="1.000" stop-color="#38b99e"/></linearGradient><linearGradient id="h188" gradientUnits="userSpaceOnUse" x2="1"><stop offset="0.000" stop-color="#38b99e"/><stop offset="0.256" stop-color="#38b99e"/><stop offset="0.256" stop-color="#36369e"/><stop offset="0.274" stop-color="#1d54d5"/><stop offset="0.292" stop-color="#066fdf"/><stop offset="0.309" stop-color="#1480d6"/><stop offset="0.310" stop-color="#28b6a8"/><stop offset="0.311" stop-color="#c7bc5d"/><stop offset="0.311" stop-color="#f5ee17"/><stop offset="0.312" stop-color="#f9fb0e"/><stop offset="0.312" stop-color="#352a87"/><stop offset="0.327" stop-color="#0eaeba"/><stop offset="0.343" stop-color="#fec931"/><stop offset="0.348" stop-color="#f9fb0e"/><stop offset="0.348" stop-color="#352a87"/><stop offset="0.359" stop-color="#089bd0"/><stop offset="0.454" stop-color="#f7ba45"/><stop offset="0.488" stop-color="#f9fb0e"/><stop offset="0.488" stop-color="#352a87"/><stop offset="0.549" stop-color="#0998d1"/><stop offset="0.644" stop-color="#f3b948"/><stop offset="0.694" stop-color="#f9fb0e"/><stop offset="0.694" stop-color="#352a87"/><stop offset="0.700" stop-color="#363399"/><stop offset="0.756" stop-color="#137fd6"/><stop offset="0.813" stop-color="#15b1b4"/><stop offset="0.813" stop-color="#38b99e"/><stop offset="1.000" stop-color="#38b99e"/></linearGradient><linearGradient id="h189" gradientUnits="userSpaceOnUse" x2="1"><stop offset="0.000" stop-color="#38b99e"/><stop offset="0.235" stop-color="#38b99e"/><stop offset="0.235" stop-color="#352b89"/><stop offset="0.256" stop-color="#3046bf"/><stop offset="0.277" stop-color="#0266e1"/><stop offset="0.298" stop-color="#0f78db"/><stop offset="0.303" stop-color="#15b1b4"/><stop offset="0.308" stop-color="#b0be67"/><stop offset="0.313" stop-color="#f7da24"/><stop offset="0.316" stop-color="#f9fb0e"/><stop offset="0.316" stop-color="#352a87"/><stop offset="0.334" stop-color="#07a9c3"/><stop offset="0.355" stop-color="#ffc436"/><stop offset="0.361" stop-color="#f9fb0e"/><stop offset="0.361" stop-color="#352a87"/><stop offset="0.375" stop-color="#089bd0"/><stop offset="0.458" stop-color="#fbbc41"/><stop offset="0.485" stop-color="#f9fb0e"/><stop offset="0.485" stop-color="#352a87"/><stop offset="0.540" stop-color="#079ecf"/><stop offset="0.622" stop-color="#febf3c"/><stop offset="0.663" stop-color="#f9fb0e"/><stop offset="0.663" stop-color="#352a87"/><stop offset="0.672" stop-color="#3638a3"/><stop offset="0.723" stop-color="#137ed7"/><stop offset="0.773" stop-color="#0badbc"/><stop offset="0.773" stop-color="#38b99e"/><stop offset="1.000" stop-color="#38b99e"/></linearGradient><linearGradient id="h190" gradientUnits="userSpaceOnUse" x2="1"><stop offset="0.000" stop-color="#38b99e"/><stop offset="0.212" stop-color="#38b99e"/><stop offset="0.212" stop-color="#f6ef16"/><stop offset="0.221" stop-color="#f9fb0e"/><stop offset="0.221" stop-color="#352a87"/><stop offset="0.237" stop-color="#353aa8"/><stop offset="0.261" stop-color="#1459da"/><stop offset="0.286" stop-color="#0870df"/><stop offset="0.297" stop-color="#09abbf"/><stop offset="0.308" stop-color="#96bf71"/><stop offset="0.319" stop-color="#fdca31"/><stop offset="0.325" stop-color="#f9fb0e"/><stop offset="0.325" stop-color="#352a87"/><stop offset="0.344" stop-color="#06a3cb"/><stop offset="0.368" stop-color="#febf3c"/><stop offset="0.376" stop-color="#f9fb0e"/><stop offset="0.376" stop-color="#352a87"/><stop offset="0.393" stop-color="#089bd0"/><stop offset="0.464" stop-color="#febf3d"/><stop offset="0.485" stop-color="#f9fb0e"/><stop offset="0.485" stop-color="#352a87"/><stop offset="0.534" stop-color="#06a3cb"/><stop offset="0.604" stop-color="#fdca31"/><stop offset="0.635" stop-color="#f9fb0e"/><stop offset="0.635" stop-color="#352a87"/><stop offset="0.647" stop-color="#353dad"/><stop offset="0.689" stop-color="#127cd8"/><stop offset="0.732" stop-color="#06a8c3"/><stop offset="0.732" stop-color="#38b99e"/><stop offset="1.000" stop-color="#38b99e"/></linearGradient><linearGradient id="h191" gradientUnits="userSpaceOnUse" x2="1"><stop offset="0.000" stop-color="#38b99e"/><stop offset="0.193" stop-color="#38b99e"/><stop offset="0.193" stop-color="#f5e31e"/><stop offset="0.216" stop-color="#f9fb0e"/><stop offset="0.216" stop-color="#352a87"/><stop offset="0.221" stop-color="#362f91"/><stop offset="0.250" stop-color="#2d49c4"/><stop offset="0.278" stop-color="#0267e1"/><stop offset="0.296" stop-color="#06a5c9"/><stop offset="0.314" stop-color="#7abf7c"/><stop offset="0.332" stop-color="#fabc42"/><stop offset="0.343" stop-color="#f9fb0e"/><stop offset="0.343" stop-color="#352a87"/><stop offset="0.363" stop-color="#079bd0"/><stop offset="0.394" stop-color="#f9bb43"/><stop offset="0.405" stop-color="#f9fb0e"/><stop offset="0.405" stop-color="#352a87"/><stop offset="0.426" stop-color="#089bd0"/><stop offset="0.485" stop-color="#fec239"/><stop offset="0.502" stop-color="#f9fb0e"/><stop offset="0.502" stop-color="#352a87"/><stop offset="0.545" stop-color="#06a7c6"/><stop offset="0.605" stop-color="#f9d429"/><stop offset="0.626" stop-color="#f9fb0e"/><stop offset="0.626" stop-color="#352a87"/><stop offset="0.639" stop-color="#3342b7"/><stop offset="0.674" stop-color="#117ad9"/><stop offset="0.708" stop-color="#06a4ca"/><stop offset="0.708" stop-color="#38b99e"/><stop offset="1.000" stop-color="#38b99e"/></linearGradient><linearGradient id="h192" gradientUnits="userSpaceOnUse" x2="1"><stop offset="0.000" stop-color="#38b99e"/><stop offset="0.178" stop-color="#38b99e"/><stop offset="0.178" stop-color="#f7d925"/><stop offset="0.209" stop-color="#f6f313"/><stop offset="0.217" stop-color="#f9fb0e"/><stop offset="0.217" stop-color="#352a87"/><stop offset="0.241" stop-color="#353cac"/><stop offset="0.272" stop-color="#135adb"/><stop offset="0.298" stop-color="#079cd0"/><stop offset="0.324" stop-color="#5abd8b"/><stop offset="0.350" stop-color="#e3b951"/><stop offset="0.366" stop-color="#f9fb0e"/><stop offset="0.366" stop-color="#352a87"/><stop offset="0.389" stop-color="#0e92d2"/><stop offset="0.428" stop-color="#f2b949"/><stop offset="0.442" stop-color="#f9fb0e"/><stop offset="0.442" stop-color="#352a87"/><stop offset="0.467" stop-color="#089bd0"/><stop offset="0.517" stop-color="#fec635"/><stop offset="0.530" stop-color="#f9fb0e"/><stop offset="0.530" stop-color="#352a87"/><stop offset="0.567" stop-color="#08aac0"/><stop offset="0.617" stop-color="#f5df20"/><stop offset="0.629" stop-color="#f9fb0e"/><stop offset="0.629" stop-color="#352a87"/><stop offset="0.643" stop-color="#2e48c1"/><stop offset="0.670" stop-color="#1079da"/><stop offset="0.697" stop-color="#079ecf"/><stop offset="0.697" stop-color="#38b99e"/><stop offset="1.000" stop-color="#38b99e"/></linearGradient><linearGradient id="h193" gradientUnits="userSpaceOnUse" x2="1"><stop offset="0.000" stop-color="#38b99e"/><stop offset="0.161" stop-color="#38b99e"/><stop offset="0.161" stop-color="#f9d429"/><stop offset="0.195" stop-color="#f5eb18"/><stop offset="0.213" stop-color="#f9fb0e"/><stop offset="0.213" stop-color="#352a87"/><stop offset="0.229" stop-color="#36359d"/><stop offset="0.263" stop-color="#254fce"/><stop offset="0.295" stop-color="#0a96d1"/><stop offset="0.327" stop-color="#48bb95"/><stop offset="0.359" stop-color="#d5ba57"/><stop offset="0.381" stop-color="#f9fb0e"/><stop offset="0.381" stop-color="#352a87"/><stop offset="0.406" stop-color="#128cd2"/><stop offset="0.453" stop-color="#edb94c"/><stop offset="0.470" stop-color="#f9fb0e"/><stop offset="0.470" stop-color="#352a87"/><stop offset="0.499" stop-color="#089bd0"/><stop offset="0.543" stop-color="#fec833"/><stop offset="0.554" stop-color="#f9fb0e"/><stop offset="0.554" stop-color="#352a87"/><stop offset="0.587" stop-color="#0bacbd"/><stop offset="0.631" stop-color="#f5e71b"/><stop offset="0.638" stop-color="#f9fb0e"/><stop offset="0.638" stop-color="#352a87"/><stop offset="0.652" stop-color="#2b4bc7"/><stop offset="0.673" stop-color="#0f78db"/><stop offset="0.694" stop-color="#0899d1"/><stop offset="0.694" stop-color="#38b99e"/><stop offset="1.000" stop-color="#38b99e"/></linearGradient><linearGradient id="h194" gradientUnits="userSpaceOnUse" x2="1"><stop offset="0.000" stop-color="#38b99e"/><stop offset="0.142" stop-color="#38b99e"/><stop offset="0.142" stop-color="#f9d429"/><stop offset="0.177" stop-color="#f5eb18"/><stop offset="0.196" stop-color="#f9fb0e"/><stop offset="0.196" stop-color="#352a87"/><stop offset="0.213" stop-color="#36359d"/><stop offset="0.248" stop-color="#254fce"/><stop offset="0.284" stop-color="#0a96d1"/><stop offset="0.320" stop-color="#48bb95"/><stop offset="0.356" stop-color="#d5ba57"/><stop offset="0.381" stop-color="#f9fb0e"/><stop offset="0.381" stop-color="#352a87"/><stop offset="0.409" stop-color="#128cd2"/><stop offset="0.463" stop-color="#edb94c"/><stop offset="0.484" stop-color="#f9fb0e"/><stop offset="0.484" stop-color="#352a87"/><stop offset="0.517" stop-color="#089bd0"/><stop offset="0.561" stop-color="#fec833"/><stop offset="0.571" stop-color="#f9fb0e"/><stop offset="0.571" stop-color="#352a87"/><stop offset="0.605" stop-color="#0bacbd"/><stop offset="0.649" stop-color="#f5e71b"/><stop offset="0.655" stop-color="#f9fb0e"/><stop offset="0.655" stop-color="#352a87"/><stop offset="0.668" stop-color="#2b4bc7"/><stop offset="0.687" stop-color="#0f78db"/><stop offset="0.706" stop-color="#0899d1"/><stop offset="0.706" stop-color="#38b99e"/><stop offset="1.000" stop-color="#38b99e"/></linearGradient><linearGradient id="h195" gradientUnits="userSpaceOnUse" x2="1"><stop offset="0.000" stop-color="#38b99e"/><stop offset="0.121" stop-color="#38b99e"/><stop offset="0.121" stop-color="#f9d429"/><stop offset="0.158" stop-color="#f5eb18"/><stop offset="0.177" stop-color="#f9fb0e"/><stop offset="0.177" stop-color="#352a87"/><stop offset="0.194" stop-color="#36359d"/><stop offset="0.231" stop-color="#254fce"/><stop offset="0.271" stop-color="#0a96d1"/><stop offset="0.312" stop-color="#48bb95"/><stop offset="0.353" stop-color="#d5ba57"/><stop offset="0.380" stop-color="#f9fb0e"/><stop offset="0.380" stop-color="#352a87"/><stop offset="0.410" stop-color="#128cd2"/><stop offset="0.468" stop-color="#edb94c"/><stop offset="0.490" stop-color="#f9fb0e"/><stop offset="0.490" stop-color="#352a87"/><stop offset="0.526" stop-color="#089bd0"/><stop offset="0.573" stop-color="#fec833"/><stop offset="0.584" stop-color="#f9fb0e"/><stop offset="0.584" stop-color="#352a87"/><stop offset="0.620" stop-color="#0bacbd"/><stop offset="0.667" stop-color="#f5e71b"/><stop offset="0.673" stop-color="#f9fb0e"/><stop offset="0.673" stop-color="#352a87"/><stop offset="0.685" stop-color="#2b4bc7"/><stop offset="0.703" stop-color="#0f78db"/><stop offset="0.721" stop-color="#0899d1"/><stop offset="0.721" stop-color="#38b99e"/><stop offset="1.000" stop-color="#38b99e"/></linearGradient><linearGradient id="h196" gradientUnits="userSpaceOnUse" x2="1"><stop offset="0.000" stop-color="#38b99e"/><stop offset="0.093" stop-color="#38b99e"/><stop offset="0.093" stop-color="#f9d429"/><stop offset="0.128" stop-color="#f5eb18"/><stop offset="0.147" stop-color="#f9fb0e"/><stop offset="0.147" stop-color="#352a87"/><stop offset="0.163" stop-color="#36359d"/><stop offset="0.198" stop-color="#254fce"/><stop offset="0.250" stop-color="#0a96d1"/><stop offset="0.301" stop-color="#48bb95"/><stop offset="0.353" stop-color="#d5ba57"/><stop offset="0.375" stop-color="#f9fb0e"/><stop offset="0.375" stop-color="#352a87"/><stop offset="0.400" stop-color="#128cd2"/><stop offset="0.448" stop-color="#edb94c"/><stop offset="0.466" stop-color="#f9fb0e"/><stop offset="0.466" stop-color="#352a87"/><stop offset="0.496" stop-color="#089bd0"/><stop offset="0.559" stop-color="#fec833"/><stop offset="0.575" stop-color="#f9fb0e"/><stop offset="0.575" stop-color="#352a87"/><stop offset="0.623" stop-color="#0bacbd"/><stop offset="0.687" stop-color="#f5e71b"/><stop offset="0.694" stop-color="#f9fb0e"/><stop offset="0.694" stop-color="#352a87"/><stop offset="0.709" stop-color="#2b4bc7"/><stop offset="0.730" stop-color="#0f78db"/><stop offset="0.752" stop-color="#0899d1"/><stop offset="0.752" stop-color="#38b99e"/><stop offset="1.000" stop-color="#38b99e"/></linearGradient><linearGradient id="h197" gradientUnits="userSpaceOnUse" x2="1"><stop offset="0.000" stop-color="#38b99e"/><stop offset="0.064" stop-color="#38b99e"/><stop offset="0.064" stop-color="#f9d429"/><stop offset="0.098" stop-color="#f5eb18"/><stop offset="0.116" stop-color="#f9fb0e"/><stop offset="0.116" stop-color="#352a87"/><stop offset="0.132" stop-color="#36359d"/><stop offset="0.166" stop-color="#254fce"/><stop offset="0.228" stop-color="#0a96d1"/><stop offset="0.290" stop-color="#48bb95"/><stop offset="0.353" stop-color="#d5ba57"/><stop offset="0.370" stop-color="#f9fb0e"/><stop offset="0.370" stop-color="#352a87"/><stop offset="0.390" stop-color="#128cd2"/><stop offset="0.428" stop-color="#edb94c"/><stop offset="0.442" stop-color="#f9fb0e"/><stop offset="0.442" stop-color="#352a87"/><stop offset="0.465" stop-color="#089bd0"/><stop offset="0.546" stop-color="#fec833"/><stop offset="0.565" stop-color="#f9fb0e"/><stop offset="0.565" stop-color="#352a87"/><stop offset="0.627" stop-color="#0bacbd"/><stop offset="0.707" stop-color="#f5e71b"/><stop offset="0.716" stop-color="#f9fb0e"/><stop offset="0.716" stop-color="#352a87"/><stop offset="0.732" stop-color="#2b4bc7"/><stop offset="0.757" stop-color="#0f78db"/><stop offset="0.782" stop-color="#0899d1"/><stop offset="0.782" stop-color="#38b99e"/><stop offset="1.000" stop-color="#38b99e"/></linearGradient><linearGradient id="h198" gradientUnits="userSpaceOnUse" x2="1"><stop offset="0.000" stop-color="#38b99e"/><stop offset="0.049" stop-color="#38b99e"/><stop offset="0.049" stop-color="#f9d429"/><stop offset="0.079" stop-color="#f5eb18"/><stop offset="0.096" stop-color="#f9fb0e"/><stop offset="0.096" stop-color="#352a87"/><stop offset="0.110" stop-color="#36359d"/><stop offset="0.141" stop-color="#254fce"/><stop offset="0.203" stop-color="#0a96d1"/><stop offset="0.264" stop-color="#48bb95"/><stop offset="0.326" stop-color="#d5ba57"/><stop offset="0.344" stop-color="#f9fb0e"/><stop offset="0.344" stop-color="#352a87"/><stop offset="0.365" stop-color="#128cd2"/><stop offset="0.403" stop-color="#edb94c"/><stop offset="0.418" stop-color="#f9fb0e"/><stop offset="0.418" stop-color="#352a87"/><stop offset="0.442" stop-color="#089bd0"/><stop offset="0.538" stop-color="#fec833"/><stop offset="0.561" stop-color="#f9fb0e"/><stop offset="0.561" stop-color="#352a87"/><stop offset="0.634" stop-color="#0bacbd"/><stop offset="0.729" stop-color="#f5e71b"/><stop offset="0.738" stop-color="#f9fb0e"/><stop offset="0.738" stop-color="#352a87"/><stop offset="0.756" stop-color="#2b4bc7"/><stop offset="0.782" stop-color="#0f78db"/><stop offset="0.808" stop-color="#0899d1"/><stop offset="0.808" stop-color="#38b99e"/><stop offset="1.000" stop-color="#38b99e"/></linearGradient><linearGradient id="h199" gradientUnits="userSpaceOnUse" x2="1"><stop offset="0.000" stop-color="#38b99e"/><stop offset="0.042" stop-color="#38b99e"/><stop offset="0.042" stop-color="#f9d429"/><stop offset="0.068" stop-color="#f5eb18"/><stop offset="0.082" stop-color="#f9fb0e"/><stop offset="0.082" stop-color="#352a87"/><stop offset="0.095" stop-color="#36359d"/><stop offset="0.121" stop-color="#254fce"/><stop offset="0.174" stop-color="#0a96d1"/><stop offset="0.227" stop-color="#48bb95"/><stop offset="0.279" stop-color="#d5ba57"/><stop offset="0.302" stop-color="#f9fb0e"/><stop offset="0.302" stop-color="#352a87"/><stop offset="0.328" stop-color="#128cd2"/><stop offset="0.377" stop-color="#edb94c"/><stop offset="0.395" stop-color="#f9fb0e"/><stop offset="0.395" stop-color="#352a87"/><stop offset="0.425" stop-color="#089bd0"/><stop offset="0.534" stop-color="#fec833"/><stop offset="0.560" stop-color="#f9fb0e"/><stop offset="0.560" stop-color="#352a87"/><stop offset="0.643" stop-color="#0bacbd"/><stop offset="0.752" stop-color="#f5e71b"/><stop offset="0.761" stop-color="#f9fb0e"/><stop offset="0.761" stop-color="#352a87"/><stop offset="0.779" stop-color="#2b4bc7"/><stop offset="0.805" stop-color="#0f78db"/><stop offset="0.831" stop-color="#0899d1"/><stop offset="0.831" stop-color="#38b99e"/><stop offset="1.000" stop-color="#38b99e"/></linearGradient><linearGradient id="h200" gradientUnits="userSpaceOnUse" x2="1"><stop offset="0.000" stop-color="#38b99e"/><stop offset="0.040" stop-color="#38b99e"/><stop offset="0.040" stop-color="#f9d429"/><stop offset="0.063" stop-color="#f5eb18"/><stop offset="0.076" stop-color="#f9fb0e"/><stop offset="0.076" stop-color="#352a87"/><stop offset="0.087" stop-color="#36359d"/><stop offset="0.110" stop-color="#254fce"/><stop offset="0.155" stop-color="#0a96d1"/><stop offset="0.199" stop-color="#48bb95"/><stop offset="0.244" stop-color="#d5ba57"/><stop offset="0.269" stop-color="#f9fb0e"/><stop offset="0.269" stop-color="#352a87"/><stop offset="0.297" stop-color="#128cd2"/><stop offset="0.351" stop-color="#edb94c"/><stop offset="0.371" stop-color="#f9fb0e"/><stop offset="0.371" stop-color="#352a87"/><stop offset="0.404" stop-color="#089bd0"/><stop offset="0.521" stop-color="#fec833"/><stop offset="0.548" stop-color="#f9fb0e"/><stop offset="0.548" stop-color="#352a87"/><stop offset="0.637" stop-color="#0bacbd"/><stop offset="0.754" stop-color="#f5e71b"/><stop offset="0.764" stop-color="#f9fb0e"/><stop offset="0.764" stop-color="#352a87"/><stop offset="0.784" stop-color="#2b4bc7"/><stop offset="0.814" stop-color="#0f78db"/><stop offset="0.844" stop-color="#0899d1"/><stop offset="0.844" stop-color="#38b99e"/><stop offset="1.000" stop-color="#38b99e"/></linearGradient><linearGradient id="h201" gradientUnits="userSpaceOnUse" x2="1"><stop offset="0.000" stop-color="#38b99e"/><stop offset="0.049" stop-color="#38b99e"/><stop offset="0.049" stop-color="#f9d429"/><stop offset="0.072" stop-color="#f5eb18"/><stop offset="0.085" stop-color="#f9fb0e"/><stop offset="0.085" stop-color="#352a87"/><stop offset="0.096" stop-color="#36359d"/><stop offset="0.119" stop-color="#254fce"/><stop offset="0.156" stop-color="#0a96d1"/><stop offset="0.194" stop-color="#48bb95"/><stop offset="0.232" stop-color="#d5ba57"/><stop offset="0.254" stop-color="#f9fb0e"/><stop offset="0.254" stop-color="#352a87"/><stop offset="0.279" stop-color="#128cd2"/><stop offset="0.327" stop-color="#edb94c"/><stop offset="0.345" stop-color="#f9fb0e"/><stop offset="0.345" stop-color="#352a87"/><stop offset="0.374" stop-color="#089bd0"/><stop offset="0.485" stop-color="#fec833"/><stop offset="0.511" stop-color="#f9fb0e"/><stop offset="0.511" stop-color="#352a87"/><stop offset="0.596" stop-color="#0bacbd"/><stop offset="0.706" stop-color="#f5e71b"/><stop offset="0.720" stop-color="#f9fb0e"/><stop offset="0.720" stop-color="#352a87"/><stop offset="0.748" stop-color="#2b4bc7"/><stop offset="0.790" stop-color="#0f78db"/><stop offset="0.832" stop-color="#0899d1"/><stop offset="0.832" stop-color="#38b99e"/><stop offset="1.000" stop-color="#38b99e"/></linearGradient><linearGradient id="h202" gradientUnits="userSpaceOnUse" x2="1"><stop offset="0.000" stop-color="#38b99e"/><stop offset="0.056" stop-color="#38b99e"/><stop offset="0.056" stop-color="#f9d429"/><stop offset="0.079" stop-color="#f5eb18"/><stop offset="0.091" stop-color="#f9fb0e"/><stop offset="0.091" stop-color="#352a87"/><stop offset="0.102" stop-color="#36359d"/><stop offset="0.125" stop-color="#254fce"/><stop offset="0.156" stop-color="#0a96d1"/><stop offset="0.188" stop-color="#48bb95"/><stop offset="0.220" stop-color="#d5ba57"/><stop offset="0.240" stop-color="#f9fb0e"/><stop offset="0.240" stop-color="#352a87"/><stop offset="0.262" stop-color="#128cd2"/><stop offset="0.305" stop-color="#edb94c"/><stop offset="0.321" stop-color="#f9fb0e"/><stop offset="0.321" stop-color="#352a87"/><stop offset="0.347" stop-color="#089bd0"/><stop offset="0.452" stop-color="#fec833"/><stop offset="0.477" stop-color="#f9fb0e"/><stop offset="0.477" stop-color="#352a87"/><stop offset="0.557" stop-color="#0bacbd"/><stop offset="0.662" stop-color="#f5e71b"/><stop offset="0.680" stop-color="#f9fb0e"/><stop offset="0.680" stop-color="#352a87"/><stop offset="0.715" stop-color="#2b4bc7"/><stop offset="0.768" stop-color="#0f78db"/><stop offset="0.821" stop-color="#0899d1"/><stop offset="0.821" stop-color="#38b99e"/><stop offset="1.000" stop-color="#38b99e"/></linearGradient><linearGradient id="h203" gradientUnits="userSpaceOnUse" x2="1"><stop offset="0.000" stop-color="#38b99e"/><stop offset="0.037" stop-color="#38b99e"/><stop offset="0.037" stop-color="#f9d429"/><stop offset="0.060" stop-color="#f5eb18"/><stop offset="0.072" stop-color="#f9fb0e"/><stop offset="0.072" stop-color="#352a87"/><stop offset="0.083" stop-color="#36359d"/><stop offset="0.106" stop-color="#254fce"/><stop offset="0.139" stop-color="#0a96d1"/><stop offset="0.172" stop-color="#48bb95"/><stop offset="0.206" stop-color="#d5ba57"/><stop offset="0.228" stop-color="#f9fb0e"/><stop offset="0.228" stop-color="#352a87"/><stop offset="0.253" stop-color="#128cd2"/><stop offset="0.300" stop-color="#edb94c"/><stop offset="0.318" stop-color="#f9fb0e"/><stop offset="0.318" stop-color="#352a87"/><stop offset="0.347" stop-color="#089bd0"/><stop offset="0.448" stop-color="#fec833"/><stop offset="0.472" stop-color="#f9fb0e"/><stop offset="0.472" stop-color="#352a87"/><stop offset="0.549" stop-color="#0bacbd"/><stop offset="0.650" stop-color="#f5e71b"/><stop offset="0.669" stop-color="#f9fb0e"/><stop offset="0.669" stop-color="#352a87"/><stop offset="0.705" stop-color="#2b4bc7"/><stop offset="0.760" stop-color="#0f78db"/><stop offset="0.815" stop-color="#0899d1"/><stop offset="0.815" stop-color="#38b99e"/><stop offset="1.000" stop-color="#38b99e"/></linearGradient><linearGradient id="h204" gradientUnits="userSpaceOnUse" x2="1"><stop offset="0.000" stop-color="#38b99e"/><stop offset="0.018" stop-color="#38b99e"/><stop offset="0.018" stop-color="#f9d429"/><stop offset="0.041" stop-color="#f5eb18"/><stop offset="0.053" stop-color="#f9fb0e"/><stop offset="0.053" stop-color="#352a87"/><stop offset="0.064" stop-color="#36359d"/><stop offset="0.087" stop-color="#254fce"/><stop offset="0.122" stop-color="#0a96d1"/><stop offset="0.156" stop-color="#48bb95"/><stop offset="0.191" stop-color="#d5ba57"/><stop offset="0.216" stop-color="#f9fb0e"/><stop offset="0.216" stop-color="#352a87"/><stop offset="0.243" stop-color="#128cd2"/><stop offset="0.295" stop-color="#edb94c"/><stop offset="0.315" stop-color="#f9fb0e"/><stop offset="0.315" stop-color="#352a87"/><stop offset="0.347" stop-color="#089bd0"/><stop offset="0.444" stop-color="#fec833"/><stop offset="0.467" stop-color="#f9fb0e"/><stop offset="0.467" stop-color="#352a87"/><stop offset="0.541" stop-color="#0bacbd"/><stop offset="0.638" stop-color="#f5e71b"/><stop offset="0.657" stop-color="#f9fb0e"/><stop offset="0.657" stop-color="#352a87"/><stop offset="0.695" stop-color="#2b4bc7"/><stop offset="0.752" stop-color="#0f78db"/><stop offset="0.809" stop-color="#0899d1"/><stop offset="0.809" stop-color="#38b99e"/><stop offset="1.000" stop-color="#38b99e"/></linearGradient><linearGradient id="h205" gradientUnits="userSpaceOnUse" x2="1"><stop offset="0.000" stop-color="#38b99e"/><stop offset="0.019" stop-color="#38b99e"/><stop offset="0.019" stop-color="#f9d429"/><stop offset="0.040" stop-color="#f5eb18"/><stop offset="0.052" stop-color="#f9fb0e"/><stop offset="0.052" stop-color="#352a87"/><stop offset="0.062" stop-color="#36359d"/><stop offset="0.083" stop-color="#254fce"/><stop offset="0.120" stop-color="#0a96d1"/><stop offset="0.157" stop-color="#48bb95"/><stop offset="0.195" stop-color="#d5ba57"/><stop offset="0.219" stop-color="#f9fb0e"/><stop offset="0.219" stop-color="#352a87"/><stop offset="0.247" stop-color="#128cd2"/><stop offset="0.300" stop-color="#edb94c"/><stop offset="0.320" stop-color="#f9fb0e"/><stop offset="0.320" stop-color="#352a87"/><stop offset="0.352" stop-color="#089bd0"/><stop offset="0.440" stop-color="#fec833"/><stop offset="0.461" stop-color="#f9fb0e"/><stop offset="0.461" stop-color="#352a87"/><stop offset="0.529" stop-color="#0bacbd"/><stop offset="0.617" stop-color="#f5e71b"/><stop offset="0.639" stop-color="#f9fb0e"/><stop offset="0.639" stop-color="#352a87"/><stop offset="0.682" stop-color="#2b4bc7"/><stop offset="0.748" stop-color="#0f78db"/><stop offset="0.813" stop-color="#0899d1"/><stop offset="0.813" stop-color="#38b99e"/><stop offset="1.000" stop-color="#38b99e"/></linearGradient><linearGradient id="h206" gradientUnits="userSpaceOnUse" x2="1"><stop offset="0.000" stop-color="#38b99e"/><stop offset="0.022" stop-color="#38b99e"/><stop offset="0.022" stop-color="#f9d429"/><stop offset="0.042" stop-color="#f5eb18"/><stop offset="0.053" stop-color="#f9fb0e"/><stop offset="0.053" stop-color="#352a87"/><stop offset="0.062" stop-color="#36359d"/><stop offset="0.082" stop-color="#254fce"/><stop offset="0.121" stop-color="#0a96d1"/><stop offset="0.161" stop-color="#48bb95"/><stop offset="0.200" stop-color="#d5ba57"/><stop offset="0.225" stop-color="#f9fb0e"/><stop offset="0.225" stop-color="#352a87"/><stop offset="0.253" stop-color="#128cd2"/><stop offset="0.306" stop-color="#edb94c"/><stop offset="0.325" stop-color="#f9fb0e"/><stop offset="0.325" stop-color="#352a87"/><stop offset="0.358" stop-color="#089bd0"/><stop offset="0.437" stop-color="#fec833"/><stop offset="0.455" stop-color="#f9fb0e"/><stop offset="0.455" stop-color="#352a87"/><stop offset="0.515" stop-color="#0bacbd"/><stop offset="0.594" stop-color="#f5e71b"/><stop offset="0.619" stop-color="#f9fb0e"/><stop offset="0.619" stop-color="#352a87"/><stop offset="0.669" stop-color="#2b4bc7"/><stop offset="0.744" stop-color="#0f78db"/><stop offset="0.819" stop-color="#0899d1"/><stop offset="0.819" stop-color="#38b99e"/><stop offset="1.000" stop-color="#38b99e"/></linearGradient><linearGradient id="h207" gradientUnits="userSpaceOnUse" x2="1"><stop offset="0.000" stop-color="#38b99e"/><stop offset="0.029" stop-color="#38b99e"/><stop offset="0.029" stop-color="#f9d429"/><stop offset="0.047" stop-color="#f5eb18"/><stop offset="0.057" stop-color="#f9fb0e"/><stop offset="0.057" stop-color="#352a87"/><stop offset="0.066" stop-color="#36359d"/><stop offset="0.084" stop-color="#254fce"/><stop offset="0.125" stop-color="#0a96d1"/><stop offset="0.166" stop-color="#48bb95"/><stop offset="0.206" stop-color="#d5ba57"/><stop offset="0.232" stop-color="#f9fb0e"/><stop offset="0.232" stop-color="#352a87"/><stop offset="0.261" stop-color="#128cd2"/><stop offset="0.316" stop-color="#edb94c"/><stop offset="0.337" stop-color="#f9fb0e"/><stop offset="0.337" stop-color="#352a87"/><stop offset="0.371" stop-color="#089bd0"/><stop offset="0.440" stop-color="#fec833"/><stop offset="0.456" stop-color="#f9fb0e"/><stop offset="0.456" stop-color="#352a87"/><stop offset="0.508" stop-color="#0bacbd"/><stop offset="0.577" stop-color="#f5e71b"/><stop offset="0.603" stop-color="#f9fb0e"/><stop offset="0.603" stop-color="#352a87"/><stop offset="0.654" stop-color="#2b4bc7"/><stop offset="0.730" stop-color="#0f78db"/><stop offset="0.807" stop-color="#0899d1"/><stop offset="0.807" stop-color="#38b99e"/><stop offset="1.000" stop-color="#38b99e"/></linearGradient><linearGradient id="h208" gradientUnits="userSpaceOnUse" x2="1"><stop offset="0.000" stop-color="#38b99e"/><stop offset="0.037" stop-color="#38b99e"/><stop offset="0.037" stop-color="#f9d429"/><stop offset="0.054" stop-color="#f5eb18"/><stop offset="0.064" stop-color="#f9fb0e"/><stop offset="0.064" stop-color="#352a87"/><stop offset="0.072" stop-color="#36359d"/><stop offset="0.089" stop-color="#254fce"/><stop offset="0.130" stop-color="#0a96d1"/><stop offset="0.171" stop-color="#48bb95"/><stop offset="0.212" stop-color="#d5ba57"/><stop offset="0.240" stop-color="#f9fb0e"/><stop offset="0.240" stop-color="#352a87"/><stop offset="0.271" stop-color="#128cd2"/><stop offset="0.330" stop-color="#edb94c"/><stop offset="0.352" stop-color="#f9fb0e"/><stop offset="0.352" stop-color="#352a87"/><stop offset="0.389" stop-color="#089bd0"/><stop offset="0.448" stop-color="#fec833"/><stop offset="0.462" stop-color="#f9fb0e"/><stop offset="0.462" stop-color="#352a87"/><stop offset="0.506" stop-color="#0bacbd"/><stop offset="0.565" stop-color="#f5e71b"/><stop offset="0.590" stop-color="#f9fb0e"/><stop offset="0.590" stop-color="#352a87"/><stop offset="0.638" stop-color="#2b4bc7"/><stop offset="0.711" stop-color="#0f78db"/><stop offset="0.783" stop-color="#0899d1"/><stop offset="0.783" stop-color="#38b99e"/><stop offset="1.000" stop-color="#38b99e"/></linearGradient><linearGradient id="h209" gradientUnits="userSpaceOnUse" x2="1"><stop offset="0.000" stop-color="#38b99e"/><stop offset="0.036" stop-color="#38b99e"/><stop offset="0.036" stop-color="#f9d429"/><stop offset="0.054" stop-color="#f5eb18"/><stop offset="0.063" stop-color="#f9fb0e"/><stop offset="0.063" stop-color="#352a87"/><stop offset="0.071" stop-color="#36359d"/><stop offset="0.089" stop-color="#254fce"/><stop offset="0.132" stop-color="#0a96d1"/><stop offset="0.175" stop-color="#48bb95"/><stop offset="0.218" stop-color="#d5ba57"/><stop offset="0.247" stop-color="#f9fb0e"/><stop offset="0.247" stop-color="#352a87"/><stop offset="0.279" stop-color="#128cd2"/><stop offset="0.341" stop-color="#edb94c"/><stop offset="0.364" stop-color="#f9fb0e"/><stop offset="0.364" stop-color="#352a87"/><stop offset="0.402" stop-color="#089bd0"/><stop offset="0.453" stop-color="#fec833"/><stop offset="0.465" stop-color="#f9fb0e"/><stop offset="0.465" stop-color="#352a87"/><stop offset="0.503" stop-color="#0bacbd"/><stop offset="0.553" stop-color="#f5e71b"/><stop offset="0.577" stop-color="#f9fb0e"/><stop offset="0.577" stop-color="#352a87"/><stop offset="0.622" stop-color="#2b4bc7"/><stop offset="0.691" stop-color="#0f78db"/><stop offset="0.759" stop-color="#0899d1"/><stop offset="0.759" stop-color="#38b99e"/><stop offset="1.000" stop-color="#38b99e"/></linearGradient><linearGradient id="h210" gradientUnits="userSpaceOnUse" x2="1"><stop offset="0.000" stop-color="#38b99e"/><stop offset="0.019" stop-color="#38b99e"/><stop offset="0.019" stop-color="#f9d429"/><stop offset="0.040" stop-color="#f5eb18"/><stop offset="0.051" stop-color="#f9fb0e"/><stop offset="0.051" stop-color="#352a87"/><stop offset="0.060" stop-color="#36359d"/><stop offset="0.081" stop-color="#254fce"/><stop offset="0.128" stop-color="#0a96d1"/><stop offset="0.176" stop-color="#48bb95"/><stop offset="0.224" stop-color="#d5ba57"/><stop offset="0.253" stop-color="#f9fb0e"/><stop offset="0.253" stop-color="#352a87"/><stop offset="0.285" stop-color="#128cd2"/><stop offset="0.347" stop-color="#edb94c"/><stop offset="0.370" stop-color="#f9fb0e"/><stop offset="0.370" stop-color="#352a87"/><stop offset="0.408" stop-color="#089bd0"/><stop offset="0.453" stop-color="#fec833"/><stop offset="0.463" stop-color="#f9fb0e"/><stop offset="0.463" stop-color="#352a87"/><stop offset="0.497" stop-color="#0bacbd"/><stop offset="0.542" stop-color="#f5e71b"/><stop offset="0.563" stop-color="#f9fb0e"/><stop offset="0.563" stop-color="#352a87"/><stop offset="0.606" stop-color="#2b4bc7"/><stop offset="0.671" stop-color="#0f78db"/><stop offset="0.736" stop-color="#0899d1"/><stop offset="0.736" stop-color="#38b99e"/><stop offset="1.000" stop-color="#38b99e"/></linearGradient><linearGradient id="h211" gradientUnits="userSpaceOnUse" x2="1"><stop offset="0.000" stop-color="#38b99e"/><stop offset="0.005" stop-color="#38b99e"/><stop offset="0.005" stop-color="#f9d429"/><stop offset="0.027" stop-color="#f5eb18"/><stop offset="0.039" stop-color="#f9fb0e"/><stop offset="0.039" stop-color="#352a87"/><stop offset="0.049" stop-color="#36359d"/><stop offset="0.072" stop-color="#254fce"/><stop offset="0.125" stop-color="#0a96d1"/><stop offset="0.178" stop-color="#48bb95"/><stop offset="0.231" stop-color="#d5ba57"/><stop offset="0.259" stop-color="#f9fb0e"/><stop offset="0.259" stop-color="#352a87"/><stop offset="0.292" stop-color="#128cd2"/><stop offset="0.352" stop-color="#edb94c"/><stop offset="0.375" stop-color="#f9fb0e"/><stop offset="0.375" stop-color="#352a87"/><stop offset="0.413" stop-color="#089bd0"/><stop offset="0.452" stop-color="#fec833"/><stop offset="0.461" stop-color="#f9fb0e"/><stop offset="0.461" stop-color="#352a87"/><stop offset="0.491" stop-color="#0bacbd"/><stop offset="0.530" stop-color="#f5e71b"/><stop offset="0.550" stop-color="#f9fb0e"/><stop offset="0.550" stop-color="#352a87"/><stop offset="0.591" stop-color="#2b4bc7"/><stop offset="0.653" stop-color="#0f78db"/><stop offset="0.714" stop-color="#0899d1"/><stop offset="0.714" stop-color="#38b99e"/><stop offset="1.000" stop-color="#38b99e"/></linearGradient><linearGradient id="h212" gradientUnits="userSpaceOnUse" x2="1"><stop offset="0.000" stop-color="#38b99e"/><stop offset="0.003" stop-color="#38b99e"/><stop offset="0.003" stop-color="#f9d429"/><stop offset="0.021" stop-color="#f5eb18"/><stop offset="0.031" stop-color="#f9fb0e"/><stop offset="0.031" stop-color="#352a87"/><stop offset="0.040" stop-color="#36359d"/><stop offset="0.059" stop-color="#254fce"/><stop offset="0.120" stop-color="#0a96d1"/><stop offset="0.181" stop-color="#48bb95"/><stop offset="0.242" stop-color="#d5ba57"/><stop offset="0.269" stop-color="#f9fb0e"/><stop offset="0.269" stop-color="#352a87"/><stop offset="0.299" stop-color="#128cd2"/><stop offset="0.356" stop-color="#edb94c"/><stop offset="0.378" stop-color="#f9fb0e"/><stop offset="0.378" stop-color="#352a87"/><stop offset="0.413" stop-color="#089bd0"/><stop offset="0.448" stop-color="#fec833"/><stop offset="0.456" stop-color="#f9fb0e"/><stop offset="0.456" stop-color="#352a87"/><stop offset="0.483" stop-color="#0bacbd"/><stop offset="0.518" stop-color="#f5e71b"/><stop offset="0.539" stop-color="#f9fb0e"/><stop offset="0.539" stop-color="#352a87"/><stop offset="0.580" stop-color="#2b4bc7"/><stop offset="0.641" stop-color="#0f78db"/><stop offset="0.702" stop-color="#0899d1"/><stop offset="0.702" stop-color="#38b99e"/><stop offset="1.000" stop-color="#38b99e"/></linearGradient><linearGradient id="h213" gradientUnits="userSpaceOnUse" x2="1"><stop offset="0.000" stop-color="#38b99e"/><stop offset="0.000" stop-color="#38b99e"/><stop offset="0.000" stop-color="#f9d429"/><stop offset="0.016" stop-color="#f5eb18"/><stop offset="0.024" stop-color="#f9fb0e"/><stop offset="0.024" stop-color="#352a87"/><stop offset="0.031" stop-color="#36359d"/><stop offset="0.046" stop-color="#254fce"/><stop offset="0.115" stop-color="#0a96d1"/><stop offset="0.185" stop-color="#48bb95"/><stop offset="0.254" stop-color="#d5ba57"/><stop offset="0.279" stop-color="#f9fb0e"/><stop offset="0.279" stop-color="#352a87"/><stop offset="0.307" stop-color="#128cd2"/><stop offset="0.360" stop-color="#edb94c"/><stop offset="0.380" stop-color="#f9fb0e"/><stop offset="0.380" stop-color="#352a87"/><stop offset="0.413" stop-color="#089bd0"/><stop offset="0.444" stop-color="#fec833"/><stop offset="0.452" stop-color="#f9fb0e"/><stop offset="0.452" stop-color="#352a87"/><stop offset="0.475" stop-color="#0bacbd"/><stop offset="0.507" stop-color="#f5e71b"/><stop offset="0.527" stop-color="#f9fb0e"/><stop offset="0.527" stop-color="#352a87"/><stop offset="0.568" stop-color="#2b4bc7"/><stop offset="0.629" stop-color="#0f78db"/><stop offset="0.691" stop-color="#0899d1"/><stop offset="0.691" stop-color="#38b99e"/><stop offset="1.000" stop-color="#38b99e"/></linearGradient><linearGradient id="h214" gradientUnits="userSpaceOnUse" x2="1"><stop offset="0.000" stop-color="#38b99e"/><stop offset="0.000" stop-color="#f9d429"/><stop offset="0.019" stop-color="#f5eb18"/><stop offset="0.030" stop-color="#f9fb0e"/><stop offset="0.030" stop-color="#352a87"/><stop offset="0.039" stop-color="#36359d"/><stop offset="0.058" stop-color="#254fce"/><stop offset="0.134" stop-color="#0a96d1"/><stop offset="0.210" stop-color="#48bb95"/><stop offset="0.286" stop-color="#d5ba57"/><stop offset="0.309" stop-color="#f9fb0e"/><stop offset="0.309" stop-color="#352a87"/><stop offset="0.335" stop-color="#128cd2"/><stop offset="0.383" stop-color="#edb94c"/><stop offset="0.401" stop-color="#f9fb0e"/><stop offset="0.401" stop-color="#352a87"/><stop offset="0.431" stop-color="#089bd0"/><stop offset="0.469" stop-color="#fec833"/><stop offset="0.478" stop-color="#f9fb0e"/><stop offset="0.478" stop-color="#352a87"/><stop offset="0.507" stop-color="#0bacbd"/><stop offset="0.545" stop-color="#f5e71b"/><stop offset="0.563" stop-color="#f9fb0e"/><stop offset="0.563" stop-color="#352a87"/><stop offset="0.596" stop-color="#2b4bc7"/><stop offset="0.647" stop-color="#0f78db"/><stop offset="0.698" stop-color="#0899d1"/><stop offset="0.698" stop-color="#38b99e"/><stop offset="1.000" stop-color="#38b99e"/></linearGradient><linearGradient id="h215" gradientUnits="userSpaceOnUse" x2="1"><stop offset="0.000" stop-color="#38b99e"/><stop offset="0.000" stop-color="#f9d429"/><stop offset="0.024" stop-color="#f5eb18"/><stop offset="0.038" stop-color="#f9fb0e"/><stop offset="0.038" stop-color="#352a87"/><stop offset="0.049" stop-color="#36359d"/><stop offset="0.073" stop-color="#254fce"/><stop offset="0.156" stop-color="#0a96d1"/><stop offset="0.239" stop-color="#48bb95"/><stop offset="0.322" stop-color="#d5ba57"/><stop offset="0.342" stop-color="#f9fb0e"/><stop offset="0.342" stop-color="#352a87"/><stop offset="0.365" stop-color="#128cd2"/><stop offset="0.408" stop-color="#edb94c"/><stop offset="0.424" stop-color="#f9fb0e"/><stop offset="0.424" stop-color="#352a87"/><stop offset="0.451" stop-color="#089bd0"/><stop offset="0.498" stop-color="#fec833"/><stop offset="0.509" stop-color="#f9fb0e"/><stop offset="0.509" stop-color="#352a87"/><stop offset="0.544" stop-color="#0bacbd"/><stop offset="0.591" stop-color="#f5e71b"/><stop offset="0.604" stop-color="#f9fb0e"/><stop offset="0.604" stop-color="#352a87"/><stop offset="0.630" stop-color="#2b4bc7"/><stop offset="0.669" stop-color="#0f78db"/><stop offset="0.709" stop-color="#0899d1"/><stop offset="0.709" stop-color="#38b99e"/><stop offset="1.000" stop-color="#38b99e"/></linearGradient><linearGradient id="h216" gradientUnits="userSpaceOnUse" x2="1"><stop offset="0.000" stop-color="#38b99e"/><stop offset="0.005" stop-color="#38b99e"/><stop offset="0.005" stop-color="#f9d528"/><stop offset="0.035" stop-color="#f5ed17"/><stop offset="0.049" stop-color="#f9fb0e"/><stop offset="0.049" stop-color="#352a87"/><stop offset="0.066" stop-color="#3637a1"/><stop offset="0.096" stop-color="#2053d4"/><stop offset="0.181" stop-color="#0999d1"/><stop offset="0.267" stop-color="#4fbc90"/><stop offset="0.352" stop-color="#dbba55"/><stop offset="0.370" stop-color="#f9fb0e"/><stop offset="0.370" stop-color="#352a87"/><stop offset="0.392" stop-color="#108ed2"/><stop offset="0.432" stop-color="#efb94a"/><stop offset="0.447" stop-color="#f9fb0e"/><stop offset="0.447" stop-color="#352a87"/><stop offset="0.473" stop-color="#089bd0"/><stop offset="0.523" stop-color="#fec932"/><stop offset="0.535" stop-color="#f9fb0e"/><stop offset="0.535" stop-color="#352a87"/><stop offset="0.573" stop-color="#0dadbb"/><stop offset="0.624" stop-color="#f5eb18"/><stop offset="0.632" stop-color="#f9fb0e"/><stop offset="0.632" stop-color="#352a87"/><stop offset="0.654" stop-color="#254fce"/><stop offset="0.684" stop-color="#1079da"/><stop offset="0.714" stop-color="#079bd0"/><stop offset="0.714" stop-color="#38b99e"/><stop offset="1.000" stop-color="#38b99e"/></linearGradient><linearGradient id="h217" gradientUnits="userSpaceOnUse" x2="1"><stop offset="0.000" stop-color="#38b99e"/><stop offset="0.021" stop-color="#38b99e"/><stop offset="0.021" stop-color="#f8d727"/><stop offset="0.060" stop-color="#f6f015"/><stop offset="0.073" stop-color="#f9fb0e"/><stop offset="0.073" stop-color="#352a87"/><stop offset="0.099" stop-color="#353ba8"/><stop offset="0.138" stop-color="#1559da"/><stop offset="0.215" stop-color="#079ccf"/><stop offset="0.293" stop-color="#5cbe8a"/><stop offset="0.370" stop-color="#e6b950"/><stop offset="0.388" stop-color="#f9fb0e"/><stop offset="0.388" stop-color="#352a87"/><stop offset="0.412" stop-color="#0d93d2"/><stop offset="0.454" stop-color="#f3b948"/><stop offset="0.470" stop-color="#f9fb0e"/><stop offset="0.470" stop-color="#352a87"/><stop offset="0.496" stop-color="#089bd0"/><stop offset="0.539" stop-color="#fdca30"/><stop offset="0.548" stop-color="#f9fb0e"/><stop offset="0.548" stop-color="#352a87"/><stop offset="0.581" stop-color="#10afb8"/><stop offset="0.624" stop-color="#f6f313"/><stop offset="0.627" stop-color="#f9fb0e"/><stop offset="0.627" stop-color="#352a87"/><stop offset="0.652" stop-color="#1857d8"/><stop offset="0.680" stop-color="#127cd8"/><stop offset="0.708" stop-color="#079ecf"/><stop offset="0.708" stop-color="#38b99e"/><stop offset="1.000" stop-color="#38b99e"/></linearGradient><linearGradient id="h218" gradientUnits="userSpaceOnUse" x2="1"><stop offset="0.000" stop-color="#38b99e"/><stop offset="0.041" stop-color="#38b99e"/><stop offset="0.041" stop-color="#f7d826"/><stop offset="0.087" stop-color="#f7f413"/><stop offset="0.097" stop-color="#f9fb0e"/><stop offset="0.097" stop-color="#352a87"/><stop offset="0.133" stop-color="#343eb0"/><stop offset="0.180" stop-color="#0b5edf"/><stop offset="0.249" stop-color="#06a0cd"/><stop offset="0.318" stop-color="#6abe83"/><stop offset="0.387" stop-color="#f1b94a"/><stop offset="0.404" stop-color="#f9fb0e"/><stop offset="0.404" stop-color="#352a87"/><stop offset="0.431" stop-color="#0997d1"/><stop offset="0.474" stop-color="#f6ba46"/><stop offset="0.490" stop-color="#f9fb0e"/><stop offset="0.490" stop-color="#352a87"/><stop offset="0.518" stop-color="#089bd0"/><stop offset="0.553" stop-color="#fccc2f"/><stop offset="0.561" stop-color="#f9fb0e"/><stop offset="0.561" stop-color="#352a87"/><stop offset="0.589" stop-color="#15b0b5"/><stop offset="0.625" stop-color="#f9fb0e"/><stop offset="0.625" stop-color="#352a87"/><stop offset="0.625" stop-color="#352b87"/><stop offset="0.651" stop-color="#0b5edf"/><stop offset="0.677" stop-color="#137fd6"/><stop offset="0.703" stop-color="#06a0cd"/><stop offset="0.703" stop-color="#38b99e"/><stop offset="1.000" stop-color="#38b99e"/></linearGradient><linearGradient id="h219" gradientUnits="userSpaceOnUse" x2="1"><stop offset="0.000" stop-color="#38b99e"/><stop offset="0.098" stop-color="#38b99e"/><stop offset="0.098" stop-color="#f7da24"/><stop offset="0.143" stop-color="#f8f710"/><stop offset="0.148" stop-color="#f9fb0e"/><stop offset="0.148" stop-color="#352a87"/><stop offset="0.188" stop-color="#3342b7"/><stop offset="0.233" stop-color="#0363e1"/><stop offset="0.287" stop-color="#06a3cb"/><stop offset="0.342" stop-color="#77bf7e"/><stop offset="0.396" stop-color="#fabc42"/><stop offset="0.408" stop-color="#f9fb0e"/><stop offset="0.408" stop-color="#352a87"/><stop offset="0.432" stop-color="#079bd0"/><stop offset="0.469" stop-color="#f9bb43"/><stop offset="0.482" stop-color="#f9fb0e"/><stop offset="0.482" stop-color="#352a87"/><stop offset="0.506" stop-color="#089bd0"/><stop offset="0.551" stop-color="#fcce2e"/><stop offset="0.560" stop-color="#f9fb0e"/><stop offset="0.560" stop-color="#352a87"/><stop offset="0.597" stop-color="#1ab2b1"/><stop offset="0.641" stop-color="#f9fb0e"/><stop offset="0.641" stop-color="#352a87"/><stop offset="0.643" stop-color="#363194"/><stop offset="0.667" stop-color="#0364e1"/><stop offset="0.691" stop-color="#1482d5"/><stop offset="0.715" stop-color="#06a3cb"/><stop offset="0.715" stop-color="#38b99e"/><stop offset="1.000" stop-color="#38b99e"/></linearGradient><linearGradient id="h220" gradientUnits="userSpaceOnUse" x2="1"><stop offset="0.000" stop-color="#38b99e"/><stop offset="0.155" stop-color="#38b99e"/><stop offset="0.155" stop-color="#f6dc23"/><stop offset="0.199" stop-color="#f9fb0e"/><stop offset="0.199" stop-color="#352a87"/><stop offset="0.199" stop-color="#352a87"/><stop offset="0.243" stop-color="#3046be"/><stop offset="0.287" stop-color="#0266e1"/><stop offset="0.326" stop-color="#06a6c7"/><stop offset="0.365" stop-color="#83bf78"/><stop offset="0.404" stop-color="#fec139"/><stop offset="0.413" stop-color="#f9fb0e"/><stop offset="0.413" stop-color="#352a87"/><stop offset="0.434" stop-color="#069fce"/><stop offset="0.464" stop-color="#fbbd40"/><stop offset="0.474" stop-color="#f9fb0e"/><stop offset="0.474" stop-color="#352a87"/><stop offset="0.494" stop-color="#089bd0"/><stop offset="0.549" stop-color="#fbd02c"/><stop offset="0.560" stop-color="#f9fb0e"/><stop offset="0.560" stop-color="#352a87"/><stop offset="0.605" stop-color="#1fb3ae"/><stop offset="0.657" stop-color="#f9fb0e"/><stop offset="0.657" stop-color="#352a87"/><stop offset="0.660" stop-color="#3637a0"/><stop offset="0.683" stop-color="#0269e1"/><stop offset="0.705" stop-color="#1486d4"/><stop offset="0.727" stop-color="#06a5c8"/><stop offset="0.727" stop-color="#38b99e"/><stop offset="1.000" stop-color="#38b99e"/></linearGradient><linearGradient id="h221" gradientUnits="userSpaceOnUse" x2="1"><stop offset="0.000" stop-color="#38b99e"/><stop offset="0.185" stop-color="#38b99e"/><stop offset="0.185" stop-color="#f5de21"/><stop offset="0.221" stop-color="#f9fb0e"/><stop offset="0.221" stop-color="#352a87"/><stop offset="0.225" stop-color="#352d8d"/><stop offset="0.265" stop-color="#2c4ac5"/><stop offset="0.305" stop-color="#026ae1"/><stop offset="0.334" stop-color="#06a8c4"/><stop offset="0.364" stop-color="#8fbf74"/><stop offset="0.393" stop-color="#fec832"/><stop offset="0.401" stop-color="#f9fb0e"/><stop offset="0.401" stop-color="#352a87"/><stop offset="0.421" stop-color="#06a2cb"/><stop offset="0.449" stop-color="#fdbe3d"/><stop offset="0.459" stop-color="#f9fb0e"/><stop offset="0.459" stop-color="#352a87"/><stop offset="0.477" stop-color="#089bd0"/><stop offset="0.546" stop-color="#fad12b"/><stop offset="0.558" stop-color="#f9fb0e"/><stop offset="0.558" stop-color="#352a87"/><stop offset="0.614" stop-color="#24b5aa"/><stop offset="0.677" stop-color="#f9fb0e"/><stop offset="0.677" stop-color="#352a87"/><stop offset="0.683" stop-color="#353dad"/><stop offset="0.706" stop-color="#046de0"/><stop offset="0.730" stop-color="#1389d3"/><stop offset="0.753" stop-color="#06a7c6"/><stop offset="0.753" stop-color="#38b99e"/><stop offset="1.000" stop-color="#38b99e"/></linearGradient><linearGradient id="h222" gradientUnits="userSpaceOnUse" x2="1"><stop offset="0.000" stop-color="#38b99e"/><stop offset="0.210" stop-color="#38b99e"/><stop offset="0.210" stop-color="#f5e020"/><stop offset="0.238" stop-color="#f9fb0e"/><stop offset="0.238" stop-color="#352a87"/><stop offset="0.245" stop-color="#363092"/><stop offset="0.281" stop-color="#264ecd"/><stop offset="0.316" stop-color="#046de0"/><stop offset="0.337" stop-color="#08aac0"/><stop offset="0.358" stop-color="#9abf6f"/><stop offset="0.380" stop-color="#fbcf2c"/><stop offset="0.386" stop-color="#f9fb0e"/><stop offset="0.386" stop-color="#352a87"/><stop offset="0.406" stop-color="#06a5c8"/><stop offset="0.433" stop-color="#fec13a"/><stop offset="0.442" stop-color="#f9fb0e"/><stop offset="0.442" stop-color="#352a87"/><stop offset="0.460" stop-color="#089bd0"/><stop offset="0.542" stop-color="#f9d329"/><stop offset="0.555" stop-color="#f9fb0e"/><stop offset="0.555" stop-color="#352a87"/><stop offset="0.624" stop-color="#2ab6a6"/><stop offset="0.697" stop-color="#f9fb0e"/><stop offset="0.697" stop-color="#352a87"/><stop offset="0.706" stop-color="#3244ba"/><stop offset="0.731" stop-color="#0871de"/><stop offset="0.757" stop-color="#118dd2"/><stop offset="0.782" stop-color="#07a9c3"/><stop offset="0.782" stop-color="#38b99e"/><stop offset="1.000" stop-color="#38b99e"/></linearGradient><linearGradient id="h223" gradientUnits="userSpaceOnUse" x2="1"><stop offset="0.000" stop-color="#38b99e"/><stop offset="0.201" stop-color="#38b99e"/><stop offset="0.201" stop-color="#f5e21e"/><stop offset="0.222" stop-color="#f9fb0e"/><stop offset="0.222" stop-color="#352a87"/><stop offset="0.230" stop-color="#363398"/><stop offset="0.260" stop-color="#2053d4"/><stop offset="0.289" stop-color="#0770df"/><stop offset="0.313" stop-color="#0cadbc"/><stop offset="0.337" stop-color="#a5be6b"/><stop offset="0.362" stop-color="#f8d627"/><stop offset="0.367" stop-color="#f9fb0e"/><stop offset="0.367" stop-color="#352a87"/><stop offset="0.391" stop-color="#06a7c5"/><stop offset="0.420" stop-color="#ffc338"/><stop offset="0.429" stop-color="#f9fb0e"/><stop offset="0.429" stop-color="#352a87"/><stop offset="0.449" stop-color="#089bd0"/><stop offset="0.544" stop-color="#f9d528"/><stop offset="0.558" stop-color="#f9fb0e"/><stop offset="0.558" stop-color="#352a87"/><stop offset="0.638" stop-color="#30b7a3"/><stop offset="0.720" stop-color="#f9fb0e"/><stop offset="0.720" stop-color="#352a87"/><stop offset="0.733" stop-color="#2b4bc7"/><stop offset="0.757" stop-color="#0c74dd"/><stop offset="0.781" stop-color="#0e91d2"/><stop offset="0.805" stop-color="#08aac0"/><stop offset="0.805" stop-color="#38b99e"/><stop offset="1.000" stop-color="#38b99e"/></linearGradient><linearGradient id="h224" gradientUnits="userSpaceOnUse" x2="1"><stop offset="0.000" stop-color="#38b99e"/><stop offset="0.167" stop-color="#38b99e"/><stop offset="0.167" stop-color="#f5e41d"/><stop offset="0.180" stop-color="#f9fb0e"/><stop offset="0.180" stop-color="#352a87"/><stop offset="0.189" stop-color="#36359d"/><stop offset="0.210" stop-color="#1658d9"/><stop offset="0.232" stop-color="#0a72de"/><stop offset="0.268" stop-color="#10afb8"/><stop offset="0.304" stop-color="#afbe67"/><stop offset="0.340" stop-color="#f5de21"/><stop offset="0.345" stop-color="#f9fb0e"/><stop offset="0.345" stop-color="#352a87"/><stop offset="0.375" stop-color="#07aac1"/><stop offset="0.409" stop-color="#fec535"/><stop offset="0.419" stop-color="#f9fb0e"/><stop offset="0.419" stop-color="#352a87"/><stop offset="0.443" stop-color="#089bd0"/><stop offset="0.550" stop-color="#f8d727"/><stop offset="0.565" stop-color="#f9fb0e"/><stop offset="0.565" stop-color="#352a87"/><stop offset="0.656" stop-color="#36b99f"/><stop offset="0.745" stop-color="#f9fb0e"/><stop offset="0.745" stop-color="#352a87"/><stop offset="0.762" stop-color="#1f53d4"/><stop offset="0.782" stop-color="#0f78db"/><stop offset="0.803" stop-color="#0b95d2"/><stop offset="0.823" stop-color="#0aacbd"/><stop offset="0.823" stop-color="#38b99e"/><stop offset="1.000" stop-color="#38b99e"/></linearGradient><linearGradient id="h225" gradientUnits="userSpaceOnUse" x2="1"><stop offset="0.000" stop-color="#38b99e"/><stop offset="0.148" stop-color="#38b99e"/><stop offset="0.148" stop-color="#f5e71b"/><stop offset="0.157" stop-color="#f9fb0e"/><stop offset="0.157" stop-color="#352a87"/><stop offset="0.164" stop-color="#3638a3"/><stop offset="0.181" stop-color="#0e5dde"/><stop offset="0.198" stop-color="#0d75dc"/><stop offset="0.240" stop-color="#16b1b4"/><stop offset="0.282" stop-color="#b9bd63"/><stop offset="0.323" stop-color="#f5e61b"/><stop offset="0.327" stop-color="#f9fb0e"/><stop offset="0.327" stop-color="#352a87"/><stop offset="0.361" stop-color="#0aacbd"/><stop offset="0.399" stop-color="#fec733"/><stop offset="0.410" stop-color="#f9fb0e"/><stop offset="0.410" stop-color="#352a87"/><stop offset="0.437" stop-color="#089bd0"/><stop offset="0.554" stop-color="#f7d925"/><stop offset="0.570" stop-color="#f9fb0e"/><stop offset="0.570" stop-color="#352a87"/><stop offset="0.671" stop-color="#3dba9b"/><stop offset="0.766" stop-color="#f9fb0e"/><stop offset="0.766" stop-color="#352a87"/><stop offset="0.788" stop-color="#0e5cde"/><stop offset="0.805" stop-color="#127bd9"/><stop offset="0.823" stop-color="#0899d1"/><stop offset="0.841" stop-color="#0eaeba"/><stop offset="0.841" stop-color="#38b99e"/><stop offset="1.000" stop-color="#38b99e"/></linearGradient><linearGradient id="h226" gradientUnits="userSpaceOnUse" x2="1"><stop offset="0.000" stop-color="#38b99e"/><stop offset="0.156" stop-color="#38b99e"/><stop offset="0.156" stop-color="#f5e91a"/><stop offset="0.164" stop-color="#f9fb0e"/><stop offset="0.164" stop-color="#352a87"/><stop offset="0.173" stop-color="#353ba9"/><stop offset="0.190" stop-color="#0761e0"/><stop offset="0.208" stop-color="#0f78db"/><stop offset="0.243" stop-color="#1db3af"/><stop offset="0.279" stop-color="#c3bc5f"/><stop offset="0.315" stop-color="#f6f015"/><stop offset="0.317" stop-color="#f9fb0e"/><stop offset="0.317" stop-color="#352a87"/><stop offset="0.354" stop-color="#0faeb9"/><stop offset="0.393" stop-color="#fdca31"/><stop offset="0.403" stop-color="#f9fb0e"/><stop offset="0.403" stop-color="#352a87"/><stop offset="0.431" stop-color="#089bd0"/><stop offset="0.556" stop-color="#f7db24"/><stop offset="0.571" stop-color="#f9fb0e"/><stop offset="0.571" stop-color="#352a87"/><stop offset="0.681" stop-color="#44bb96"/><stop offset="0.779" stop-color="#f9fb0e"/><stop offset="0.779" stop-color="#352a87"/><stop offset="0.806" stop-color="#0363e1"/><stop offset="0.823" stop-color="#137fd7"/><stop offset="0.841" stop-color="#079cd0"/><stop offset="0.858" stop-color="#11afb7"/><stop offset="0.858" stop-color="#38b99e"/><stop offset="1.000" stop-color="#38b99e"/></linearGradient><linearGradient id="h227" gradientUnits="userSpaceOnUse" x2="1"><stop offset="0.000" stop-color="#38b99e"/><stop offset="0.165" stop-color="#38b99e"/><stop offset="0.165" stop-color="#f5eb18"/><stop offset="0.172" stop-color="#f9fb0e"/><stop offset="0.172" stop-color="#352a87"/><stop offset="0.182" stop-color="#353dad"/><stop offset="0.199" stop-color="#0363e1"/><stop offset="0.217" stop-color="#117ada"/><stop offset="0.247" stop-color="#23b4ab"/><stop offset="0.277" stop-color="#cabb5c"/><stop offset="0.308" stop-color="#f8f90f"/><stop offset="0.308" stop-color="#f9fb0e"/><stop offset="0.308" stop-color="#352a87"/><stop offset="0.347" stop-color="#13b0b6"/><stop offset="0.386" stop-color="#fdcc2f"/><stop offset="0.397" stop-color="#f9fb0e"/><stop offset="0.397" stop-color="#352a87"/><stop offset="0.426" stop-color="#089bd0"/><stop offset="0.558" stop-color="#f6dc23"/><stop offset="0.573" stop-color="#f9fb0e"/><stop offset="0.573" stop-color="#352a87"/><stop offset="0.691" stop-color="#4abc93"/><stop offset="0.793" stop-color="#f9fb0e"/><stop offset="0.793" stop-color="#352a87"/><stop offset="0.823" stop-color="#0267e1"/><stop offset="0.841" stop-color="#1481d5"/><stop offset="0.858" stop-color="#069fce"/><stop offset="0.875" stop-color="#15b0b4"/><stop offset="0.875" stop-color="#38b99e"/><stop offset="1.000" stop-color="#38b99e"/></linearGradient><linearGradient id="h228" gradientUnits="userSpaceOnUse" x2="1"><stop offset="0.000" stop-color="#38b99e"/><stop offset="0.177" stop-color="#38b99e"/><stop offset="0.177" stop-color="#f5eb18"/><stop offset="0.183" stop-color="#f9fb0e"/><stop offset="0.183" stop-color="#352a87"/><stop offset="0.192" stop-color="#353dad"/><stop offset="0.207" stop-color="#0363e1"/><stop offset="0.223" stop-color="#117ada"/><stop offset="0.251" stop-color="#23b4ab"/><stop offset="0.279" stop-color="#cabb5c"/><stop offset="0.308" stop-color="#f8f90f"/><stop offset="0.308" stop-color="#f9fb0e"/><stop offset="0.308" stop-color="#352a87"/><stop offset="0.345" stop-color="#13b0b6"/><stop offset="0.382" stop-color="#fdcc2f"/><stop offset="0.392" stop-color="#f9fb0e"/><stop offset="0.392" stop-color="#352a87"/><stop offset="0.420" stop-color="#089bd0"/><stop offset="0.560" stop-color="#f6dc23"/><stop offset="0.576" stop-color="#f9fb0e"/><stop offset="0.576" stop-color="#352a87"/><stop offset="0.701" stop-color="#4abc93"/><stop offset="0.809" stop-color="#f9fb0e"/><stop offset="0.809" stop-color="#352a87"/><stop offset="0.841" stop-color="#0267e1"/><stop offset="0.857" stop-color="#1481d5"/><stop offset="0.872" stop-color="#069fce"/><stop offset="0.887" stop-color="#15b0b4"/><stop offset="0.887" stop-color="#38b99e"/><stop offset="1.000" stop-color="#38b99e"/></linearGradient><linearGradient id="h229" gradientUnits="userSpaceOnUse" x2="1"><stop offset="0.000" stop-color="#38b99e"/><stop offset="0.189" stop-color="#38b99e"/><stop offset="0.189" stop-color="#f5eb18"/><stop offset="0.194" stop-color="#f9fb0e"/><stop offset="0.194" stop-color="#352a87"/><stop offset="0.202" stop-color="#353dad"/><stop offset="0.215" stop-color="#0363e1"/><stop offset="0.228" stop-color="#117ada"/><stop offset="0.255" stop-color="#23b4ab"/><stop offset="0.281" stop-color="#cabb5c"/><stop offset="0.308" stop-color="#f8f90f"/><stop offset="0.308" stop-color="#f9fb0e"/><stop offset="0.308" stop-color="#352a87"/><stop offset="0.343" stop-color="#13b0b6"/><stop offset="0.378" stop-color="#fdcc2f"/><stop offset="0.388" stop-color="#f9fb0e"/><stop offset="0.388" stop-color="#352a87"/><stop offset="0.414" stop-color="#089bd0"/><stop offset="0.562" stop-color="#f6dc23"/><stop offset="0.579" stop-color="#f9fb0e"/><stop offset="0.579" stop-color="#352a87"/><stop offset="0.711" stop-color="#4abc93"/><stop offset="0.825" stop-color="#f9fb0e"/><stop offset="0.825" stop-color="#352a87"/><stop offset="0.859" stop-color="#0267e1"/><stop offset="0.872" stop-color="#1481d5"/><stop offset="0.886" stop-color="#069fce"/><stop offset="0.899" stop-color="#15b0b4"/><stop offset="0.899" stop-color="#38b99e"/><stop offset="1.000" stop-color="#38b99e"/></linearGradient><linearGradient id="h230" gradientUnits="userSpaceOnUse" x2="1"><stop offset="0.000" stop-color="#38b99e"/><stop offset="0.197" stop-color="#38b99e"/><stop offset="0.197" stop-color="#f5eb18"/><stop offset="0.201" stop-color="#f9fb0e"/><stop offset="0.201" stop-color="#352a87"/><stop offset="0.208" stop-color="#353dad"/><stop offset="0.220" stop-color="#0363e1"/><stop offset="0.231" stop-color="#117ada"/><stop offset="0.257" stop-color="#23b4ab"/><stop offset="0.282" stop-color="#cabb5c"/><stop offset="0.308" stop-color="#f8f90f"/><stop offset="0.308" stop-color="#f9fb0e"/><stop offset="0.308" stop-color="#352a87"/><stop offset="0.344" stop-color="#13b0b6"/><stop offset="0.380" stop-color="#fdcc2f"/><stop offset="0.390" stop-color="#f9fb0e"/><stop offset="0.390" stop-color="#352a87"/><stop offset="0.417" stop-color="#089bd0"/><stop offset="0.567" stop-color="#f6dc23"/><stop offset="0.584" stop-color="#f9fb0e"/><stop offset="0.584" stop-color="#352a87"/><stop offset="0.717" stop-color="#4abc93"/><stop offset="0.833" stop-color="#f9fb0e"/><stop offset="0.833" stop-color="#352a87"/><stop offset="0.868" stop-color="#0267e1"/><stop offset="0.880" stop-color="#1481d5"/><stop offset="0.893" stop-color="#069fce"/><stop offset="0.906" stop-color="#15b0b4"/><stop offset="0.906" stop-color="#38b99e"/><stop offset="1.000" stop-color="#38b99e"/></linearGradient><linearGradient id="h231" gradientUnits="userSpaceOnUse" x2="1"><stop offset="0.000" stop-color="#38b99e"/><stop offset="0.204" stop-color="#38b99e"/><stop offset="0.204" stop-color="#f5eb18"/><stop offset="0.208" stop-color="#f9fb0e"/><stop offset="0.208" stop-color="#352a87"/><stop offset="0.214" stop-color="#353dad"/><stop offset="0.224" stop-color="#0363e1"/><stop offset="0.233" stop-color="#117ada"/><stop offset="0.258" stop-color="#23b4ab"/><stop offset="0.283" stop-color="#cabb5c"/><stop offset="0.308" stop-color="#f8f90f"/><stop offset="0.308" stop-color="#f9fb0e"/><stop offset="0.308" stop-color="#352a87"/><stop offset="0.345" stop-color="#13b0b6"/><stop offset="0.383" stop-color="#fdcc2f"/><stop offset="0.393" stop-color="#f9fb0e"/><stop offset="0.393" stop-color="#352a87"/><stop offset="0.421" stop-color="#089bd0"/><stop offset="0.572" stop-color="#f6dc23"/><stop offset="0.589" stop-color="#f9fb0e"/><stop offset="0.589" stop-color="#352a87"/><stop offset="0.724" stop-color="#4abc93"/><stop offset="0.840" stop-color="#f9fb0e"/><stop offset="0.840" stop-color="#352a87"/><stop offset="0.875" stop-color="#0267e1"/><stop offset="0.887" stop-color="#1481d5"/><stop offset="0.900" stop-color="#069fce"/><stop offset="0.912" stop-color="#15b0b4"/><stop offset="0.912" stop-color="#38b99e"/><stop offset="1.000" stop-color="#38b99e"/></linearGradient><linearGradient id="h232" gradientUnits="userSpaceOnUse" x2="1"><stop offset="0.000" stop-color="#38b99e"/><stop offset="0.212" stop-color="#38b99e"/><stop offset="0.212" stop-color="#f5eb18"/><stop offset="0.215" stop-color="#f9fb0e"/><stop offset="0.215" stop-color="#352a87"/><stop offset="0.220" stop-color="#353dad"/><stop offset="0.228" stop-color="#0363e1"/><stop offset="0.236" stop-color="#117ada"/><stop offset="0.260" stop-color="#23b4ab"/><stop offset="0.284" stop-color="#cabb5c"/><stop offset="0.308" stop-color="#f8f90f"/><stop offset="0.308" stop-color="#f9fb0e"/><stop offset="0.308" stop-color="#352a87"/><stop offset="0.347" stop-color="#13b0b6"/><stop offset="0.386" stop-color="#fdcc2f"/><stop offset="0.396" stop-color="#f9fb0e"/><stop offset="0.396" stop-color="#352a87"/><stop offset="0.424" stop-color="#089bd0"/><stop offset="0.577" stop-color="#f6dc23"/><stop offset="0.595" stop-color="#f9fb0e"/><stop offset="0.595" stop-color="#352a87"/><stop offset="0.730" stop-color="#4abc93"/><stop offset="0.847" stop-color="#f9fb0e"/><stop offset="0.847" stop-color="#352a87"/><stop offset="0.883" stop-color="#0267e1"/><stop offset="0.895" stop-color="#1481d5"/><stop offset="0.906" stop-color="#069fce"/><stop offset="0.918" stop-color="#15b0b4"/><stop offset="0.918" stop-color="#38b99e"/><stop offset="1.000" stop-color="#38b99e"/></linearGradient></defs><rect x="-0.1" y="-0.0500" width="1.2" height="0.0781" fill="url(#h176)"/><rect x="-0.1" y="0.0175" width="1.2" height="0.0281" fill="url(#h177)"/><rect x="-0.1" y="0.0351" width="1.2" height="0.0281" fill="url(#h178)"/><rect x="-0.1" y="0.0526" width="1.2" height="0.0281" fill="url(#h179)"/><rect x="-0.1" y="0.0702" width="1.2" height="0.0281" fill="url(#h180)"/><rect x="-0.1" y="0.0877" width="1.2" height="0.0281" fill="url(#h181)"/><rect x="-0.1" y="0.1053" width="1.2" height="0.0281" fill="url(#h182)"/><rect x="-0.1" y="0.1228" width="1.2" height="0.0281" fill="url(#h183)"/><rect x="-0.1" y="0.1404" width="1.2" height="0.0281" fill="url(#h184)"/><rect x="-0.1" y="0.1579" width="1.2" height="0.0281" fill="url(#h185)"/><rect x="-0.1" y="0.1754" width="1.2" height="0.0281" fill="url(#h186)"/><rect x="-0.1" y="0.1930" width="1.2" height="0.0281" fill="url(#h187)"/><rect x="-0.1" y="0.2105" width="1.2" height="0.0281" fill="url(#h188)"/><rect x="-0.1" y="0.2281" width="1.2" height="0.0281" fill="url(#h189)"/><rect x="-0.1" y="0.2456" width="1.2" height="0.0281" fill="url(#h190)"/><rect x="-0.1" y="0.2632" width="1.2" height="0.0281" fill="url(#h191)"/><rect x="-0.1" y="0.2807" width="1.2" height="0.0281" fill="url(#h192)"/><rect x="-0.1" y="0.2982" width="1.2" height="0.0281" fill="url(#h193)"/><rect x="-0.1" y="0.3158" width="1.2" height="0.0281" fill="url(#h194)"/><rect x="-0.1" y="0.3333" width="1.2" height="0.0281" fill="url(#h195)"/><rect x="-0.1" y="0.3509" width="1.2" height="0.0281" fill="url(#h196)"/><rect x="-0.1" y="0.3684" width="1.2" height="0.0281" fill="url(#h197)"/><rect x="-0.1" y="0.3860" width="1.2" height="0.0281" fill="url(#h198)"/><rect x="-0.1" y="0.4035" width="1.2" height="0.0281" fill="url(#h199)"/><rect x="-0.1" y="0.4211" width="1.2" height="0.0281" fill="url(#h200)"/><rect x="-0.1" y="0.4386" width="1.2" height="0.0281" fill="url(#h201)"/><rect x="-0.1" y="0.4561" width="1.2" height="0.0281" fill="url(#h202)"/><rect x="-0.1" y="0.4737" width="1.2" height="0.0281" fill="url(#h203)"/><rect x="-0.1" y="0.4912" width="1.2" height="0.0281" fill="url(#h204)"/><rect x="-0.1" y="0.5088" width="1.2" height="0.0281" fill="url(#h205)"/><rect x="-0.1" y="0.5263" width="1.2" height="0.0281" fill="url(#h206)"/><rect x="-0.1" y="0.5439" width="1.2" height="0.0281" fill="url(#h207)"/><rect x="-0.1" y="0.5614" width="1.2" height="0.0281" fill="url(#h208)"/><rect x="-0.1" y="0.5789" width="1.2" height="0.0281" fill="url(#h209)"/><rect x="-0.1" y="0.5965" width="1.2" height="0.0281" fill="url(#h210)"/><rect x="-0.1" y="0.6140" width="1.2" height="0.0281" fill="url(#h211)"/><rect x="-0.1" y="0.6316" width="1.2" height="0.0281" fill="url(#h212)"/><rect x="-0.1" y="0.6491" width="1.2" height="0.0281" fill="url(#h213)"/><rect x="-0.1" y="0.6667" width="1.2" height="0.0281" fill="url(#h214)"/><rect x="-0.1" y="0.6842" width="1.2" height="0.0281" fill="url(#h215)"/><rect x="-0.1" y="0.7018" width="1.2" height="0.0281" fill="url(#h216)"/><rect x="-0.1" y="0.7193" width="1.2" height="0.0281" fill="url(#h217)"/><rect x="-0.1" y="0.7368" width="1.2" height="0.0281" fill="url(#h218)"/><rect x="-0.1" y="0.7544" width="1.2" height="0.0281" fill="url(#h219)"/><rect x="-0.1" y="0.7719" width="1.2" height="0.0281" fill="url(#h220)"/><rect x="-0.1" y="0.7895" width="1.2" height="0.0281" fill="url(#h221)"/><rect x="-0.1" y="0.8070" width="1.2" height="0.0281" fill="url(#h222)"/><rect x="-0.1" y="0.8246" width="1.2" height="0.0281" fill="url(#h223)"/><rect x="-0.1" y="0.8421" width="1.2" height="0.0281" fill="url(#h224)"/><rect x="-0.1" y="0.8596" width="1.2" height="0.0281" fill="url(#h225)"/><rect x="-0.1" y="0.8772" width="1.2" height="0.0281" fill="url(#h226)"/><rect x="-0.1" y="0.8947" width="1.2" height="0.0281" fill="url(#h227)"/><rect x="-0.1" y="0.9123" width="1.2" height="0.0281" fill="url(#h228)"/><rect x="-0.1" y="0.9298" width="1.2" height="0.0281" fill="url(#h229)"/><rect x="-0.1" y="0.9474" width="1.2" height="0.0281" fill="url(#h230)"/><rect x="-0.1" y="0.9649" width="1.2" height="0.0281" fill="url(#h231)"/><rect x="-0.1" y="0.9825" width="1.2" height="0.0675" fill="url(#h232)"/></g></g></g>
<rect x="194.50" y="144.80" width="44.50" height="85.10" fill="none" stroke="#262626" stroke-width="0.5"/>
<path d="M208.60 229.90v-1.00M208.60 144.80v1.00M222.60 229.90v-1.00M222.60 144.80v1.00M237.40 229.90v-1.00M237.40 144.80v1.00M194.50 163.40h1.00M239.00 163.40h-1.00M194.50 182.00h1.00M239.00 182.00h-1.00M194.50 200.50h1.00M239.00 200.50h-1.00M194.50 219.50h1.00M239.00 219.50h-1.00" stroke="#262626" stroke-width="0.5" fill="none"/>
<text stroke="#262626" stroke-width="0.22" x="191.60" y="165.97" text-anchor="end" font-size="6.40">100</text>
<text stroke="#262626" stroke-width="0.22" x="191.60" y="184.57" text-anchor="end" font-size="6.40">200</text>
<text stroke="#262626" stroke-width="0.22" x="191.60" y="203.07" text-anchor="end" font-size="6.40">300</text>
<text stroke="#262626" stroke-width="0.22" x="191.60" y="222.07" text-anchor="end" font-size="6.40">400</text>
<text stroke="#262626" stroke-width="0.22" x="208.60" y="240.27" text-anchor="middle" font-size="6.40">50</text>
<text stroke="#262626" stroke-width="0.22" x="222.60" y="240.27" text-anchor="middle" font-size="6.40">100</text>
<text stroke="#262626" stroke-width="0.22" x="237.40" y="240.27" text-anchor="middle" font-size="6.40">150</text>
<text stroke="#262626" stroke-width="0.22" x="216.30" y="251.64" text-anchor="middle" font-size="7.90">Range</text>
<text stroke="#262626" stroke-width="0.22" transform="translate(175.58 188.00) rotate(-90)" text-anchor="middle" font-size="7.90">Azimuth</text>
<rect x="249.10" y="144.40" width="6.60" height="85.10" fill="url(#par)" stroke="#262626" stroke-width="0.5"/>
<text stroke="#262626" stroke-width="0.22" x="259.10" y="151.50" font-size="6.20">6</text>
<text stroke="#262626" stroke-width="0.22" x="259.10" y="178.40" font-size="6.20">4</text>
<text stroke="#262626" stroke-width="0.22" x="259.10" y="205.30" font-size="6.20">2</text>
<text stroke="#262626" stroke-width="0.22" x="259.10" y="232.00" font-size="6.20">0</text>
<path d="M255.70 148.90h-0.8M255.70 175.80h-0.8M255.70 202.70h-0.8M255.70 229.40h-0.8" stroke="#262626" stroke-width="0.5" fill="none"/>
<text stroke="#262626" stroke-width="0.22" x="225.70" y="263.90" text-anchor="middle" class="pl" font-size="9.20">(h)</text>
<clipPath id="ci"><rect x="349.50" y="145.50" width="44.50" height="83.70"/></clipPath>
<g clip-path="url(#ci)"><g filter="url(#jag)"><g transform="translate(349.500 145.500) scale(44.5000 83.7000)"><defs><linearGradient id="i233" gradientUnits="userSpaceOnUse" x2="1"><stop offset="0.000" stop-color="#38b99e"/><stop offset="0.007" stop-color="#38b99e"/><stop offset="0.007" stop-color="#d3bb58"/><stop offset="0.022" stop-color="#fbbc41"/><stop offset="0.037" stop-color="#f8d727"/><stop offset="0.052" stop-color="#f9fa0e"/><stop offset="0.053" stop-color="#f9fb0e"/><stop offset="0.053" stop-color="#352a87"/><stop offset="0.118" stop-color="#294cc9"/><stop offset="0.183" stop-color="#066fdf"/><stop offset="0.248" stop-color="#1484d4"/><stop offset="0.278" stop-color="#0badbc"/><stop offset="0.309" stop-color="#6ebf82"/><stop offset="0.339" stop-color="#d3bb58"/><stop offset="0.360" stop-color="#fbbc41"/><stop offset="0.381" stop-color="#f8d727"/><stop offset="0.402" stop-color="#f9fa0e"/><stop offset="0.402" stop-color="#f9fb0e"/><stop offset="0.402" stop-color="#352a87"/><stop offset="0.450" stop-color="#137ed7"/><stop offset="0.499" stop-color="#19b2b1"/><stop offset="0.548" stop-color="#adbe68"/><stop offset="0.595" stop-color="#d4bb58"/><stop offset="0.643" stop-color="#f9bb43"/><stop offset="0.691" stop-color="#fad12b"/><stop offset="0.691" stop-color="#38b99e"/><stop offset="1.000" stop-color="#38b99e"/></linearGradient><linearGradient id="i234" gradientUnits="userSpaceOnUse" x2="1"><stop offset="0.000" stop-color="#38b99e"/><stop offset="0.021" stop-color="#38b99e"/><stop offset="0.021" stop-color="#d3bb58"/><stop offset="0.037" stop-color="#fbbc41"/><stop offset="0.052" stop-color="#f8d727"/><stop offset="0.068" stop-color="#f9fa0e"/><stop offset="0.069" stop-color="#f9fb0e"/><stop offset="0.069" stop-color="#352a87"/><stop offset="0.132" stop-color="#294cc9"/><stop offset="0.196" stop-color="#066fdf"/><stop offset="0.260" stop-color="#1484d4"/><stop offset="0.298" stop-color="#0badbc"/><stop offset="0.336" stop-color="#6ebf82"/><stop offset="0.374" stop-color="#d3bb58"/><stop offset="0.392" stop-color="#fbbc41"/><stop offset="0.410" stop-color="#f8d727"/><stop offset="0.428" stop-color="#f9fa0e"/><stop offset="0.428" stop-color="#f9fb0e"/><stop offset="0.428" stop-color="#352a87"/><stop offset="0.470" stop-color="#137ed7"/><stop offset="0.512" stop-color="#19b2b1"/><stop offset="0.554" stop-color="#adbe68"/><stop offset="0.591" stop-color="#d4bb58"/><stop offset="0.629" stop-color="#f9bb43"/><stop offset="0.667" stop-color="#fad12b"/><stop offset="0.667" stop-color="#38b99e"/><stop offset="1.000" stop-color="#38b99e"/></linearGradient><linearGradient id="i235" gradientUnits="userSpaceOnUse" x2="1"><stop offset="0.000" stop-color="#38b99e"/><stop offset="0.037" stop-color="#38b99e"/><stop offset="0.037" stop-color="#d3bb58"/><stop offset="0.053" stop-color="#fbbc41"/><stop offset="0.069" stop-color="#f8d727"/><stop offset="0.085" stop-color="#f9fa0e"/><stop offset="0.085" stop-color="#f9fb0e"/><stop offset="0.085" stop-color="#352a87"/><stop offset="0.147" stop-color="#294cc9"/><stop offset="0.209" stop-color="#066fdf"/><stop offset="0.272" stop-color="#1484d4"/><stop offset="0.318" stop-color="#0badbc"/><stop offset="0.365" stop-color="#6ebf82"/><stop offset="0.412" stop-color="#d3bb58"/><stop offset="0.427" stop-color="#fbbc41"/><stop offset="0.443" stop-color="#f8d727"/><stop offset="0.458" stop-color="#f9fa0e"/><stop offset="0.458" stop-color="#f9fb0e"/><stop offset="0.458" stop-color="#352a87"/><stop offset="0.494" stop-color="#137ed7"/><stop offset="0.530" stop-color="#19b2b1"/><stop offset="0.566" stop-color="#adbe68"/><stop offset="0.597" stop-color="#d4bb58"/><stop offset="0.628" stop-color="#f9bb43"/><stop offset="0.658" stop-color="#fad12b"/><stop offset="0.658" stop-color="#38b99e"/><stop offset="1.000" stop-color="#38b99e"/></linearGradient><linearGradient id="i236" gradientUnits="userSpaceOnUse" x2="1"><stop offset="0.000" stop-color="#38b99e"/><stop offset="0.054" stop-color="#38b99e"/><stop offset="0.054" stop-color="#d3bb58"/><stop offset="0.071" stop-color="#fbbc41"/><stop offset="0.088" stop-color="#f8d727"/><stop offset="0.105" stop-color="#f9fa0e"/><stop offset="0.106" stop-color="#f9fb0e"/><stop offset="0.106" stop-color="#352a87"/><stop offset="0.164" stop-color="#294cc9"/><stop offset="0.224" stop-color="#066fdf"/><stop offset="0.284" stop-color="#1484d4"/><stop offset="0.340" stop-color="#0badbc"/><stop offset="0.397" stop-color="#6ebf82"/><stop offset="0.453" stop-color="#d3bb58"/><stop offset="0.468" stop-color="#fbbc41"/><stop offset="0.482" stop-color="#f8d727"/><stop offset="0.496" stop-color="#f9fa0e"/><stop offset="0.496" stop-color="#f9fb0e"/><stop offset="0.496" stop-color="#352a87"/><stop offset="0.529" stop-color="#137ed7"/><stop offset="0.563" stop-color="#19b2b1"/><stop offset="0.596" stop-color="#adbe68"/><stop offset="0.627" stop-color="#d4bb58"/><stop offset="0.657" stop-color="#f9bb43"/><stop offset="0.688" stop-color="#fad12b"/><stop offset="0.688" stop-color="#38b99e"/><stop offset="1.000" stop-color="#38b99e"/></linearGradient><linearGradient id="i237" gradientUnits="userSpaceOnUse" x2="1"><stop offset="0.000" stop-color="#38b99e"/><stop offset="0.073" stop-color="#38b99e"/><stop offset="0.073" stop-color="#d3bb58"/><stop offset="0.091" stop-color="#fbbc41"/><stop offset="0.108" stop-color="#f8d727"/><stop offset="0.126" stop-color="#f9fa0e"/><stop offset="0.126" stop-color="#f9fb0e"/><stop offset="0.126" stop-color="#352a87"/><stop offset="0.183" stop-color="#294cc9"/><stop offset="0.239" stop-color="#066fdf"/><stop offset="0.296" stop-color="#1484d4"/><stop offset="0.362" stop-color="#0badbc"/><stop offset="0.428" stop-color="#6ebf82"/><stop offset="0.494" stop-color="#d3bb58"/><stop offset="0.507" stop-color="#fbbc41"/><stop offset="0.520" stop-color="#f8d727"/><stop offset="0.533" stop-color="#f9fa0e"/><stop offset="0.533" stop-color="#f9fb0e"/><stop offset="0.533" stop-color="#352a87"/><stop offset="0.564" stop-color="#137ed7"/><stop offset="0.595" stop-color="#19b2b1"/><stop offset="0.625" stop-color="#adbe68"/><stop offset="0.656" stop-color="#d4bb58"/><stop offset="0.687" stop-color="#f9bb43"/><stop offset="0.717" stop-color="#fad12b"/><stop offset="0.717" stop-color="#38b99e"/><stop offset="1.000" stop-color="#38b99e"/></linearGradient><linearGradient id="i238" gradientUnits="userSpaceOnUse" x2="1"><stop offset="0.000" stop-color="#38b99e"/><stop offset="0.103" stop-color="#38b99e"/><stop offset="0.103" stop-color="#d3bb58"/><stop offset="0.120" stop-color="#fbbc41"/><stop offset="0.138" stop-color="#f8d727"/><stop offset="0.155" stop-color="#f9fa0e"/><stop offset="0.156" stop-color="#f9fb0e"/><stop offset="0.156" stop-color="#352a87"/><stop offset="0.210" stop-color="#294cc9"/><stop offset="0.265" stop-color="#066fdf"/><stop offset="0.320" stop-color="#1484d4"/><stop offset="0.386" stop-color="#0badbc"/><stop offset="0.452" stop-color="#6ebf82"/><stop offset="0.517" stop-color="#d3bb58"/><stop offset="0.531" stop-color="#fbbc41"/><stop offset="0.544" stop-color="#f8d727"/><stop offset="0.557" stop-color="#f9fa0e"/><stop offset="0.557" stop-color="#f9fb0e"/><stop offset="0.557" stop-color="#352a87"/><stop offset="0.588" stop-color="#137ed7"/><stop offset="0.618" stop-color="#19b2b1"/><stop offset="0.649" stop-color="#adbe68"/><stop offset="0.680" stop-color="#d4bb58"/><stop offset="0.710" stop-color="#f9bb43"/><stop offset="0.741" stop-color="#fad12b"/><stop offset="0.741" stop-color="#38b99e"/><stop offset="1.000" stop-color="#38b99e"/></linearGradient><linearGradient id="i239" gradientUnits="userSpaceOnUse" x2="1"><stop offset="0.000" stop-color="#38b99e"/><stop offset="0.132" stop-color="#38b99e"/><stop offset="0.132" stop-color="#d3bb58"/><stop offset="0.150" stop-color="#fbbc41"/><stop offset="0.167" stop-color="#f8d727"/><stop offset="0.185" stop-color="#f9fa0e"/><stop offset="0.186" stop-color="#f9fb0e"/><stop offset="0.186" stop-color="#352a87"/><stop offset="0.238" stop-color="#294cc9"/><stop offset="0.291" stop-color="#066fdf"/><stop offset="0.344" stop-color="#1484d4"/><stop offset="0.410" stop-color="#0badbc"/><stop offset="0.475" stop-color="#6ebf82"/><stop offset="0.541" stop-color="#d3bb58"/><stop offset="0.554" stop-color="#fbbc41"/><stop offset="0.567" stop-color="#f8d727"/><stop offset="0.581" stop-color="#f9fa0e"/><stop offset="0.581" stop-color="#f9fb0e"/><stop offset="0.581" stop-color="#352a87"/><stop offset="0.611" stop-color="#137ed7"/><stop offset="0.642" stop-color="#19b2b1"/><stop offset="0.673" stop-color="#adbe68"/><stop offset="0.703" stop-color="#d4bb58"/><stop offset="0.734" stop-color="#f9bb43"/><stop offset="0.765" stop-color="#fad12b"/><stop offset="0.765" stop-color="#38b99e"/><stop offset="1.000" stop-color="#38b99e"/></linearGradient><linearGradient id="i240" gradientUnits="userSpaceOnUse" x2="1"><stop offset="0.000" stop-color="#38b99e"/><stop offset="0.171" stop-color="#38b99e"/><stop offset="0.171" stop-color="#d3bb58"/><stop offset="0.189" stop-color="#fbbc41"/><stop offset="0.206" stop-color="#f8d727"/><stop offset="0.224" stop-color="#f9fa0e"/><stop offset="0.224" stop-color="#f9fb0e"/><stop offset="0.224" stop-color="#352a87"/><stop offset="0.273" stop-color="#294cc9"/><stop offset="0.323" stop-color="#066fdf"/><stop offset="0.372" stop-color="#1484d4"/><stop offset="0.413" stop-color="#0badbc"/><stop offset="0.454" stop-color="#6ebf82"/><stop offset="0.496" stop-color="#d3bb58"/><stop offset="0.516" stop-color="#fbbc41"/><stop offset="0.537" stop-color="#f8d727"/><stop offset="0.557" stop-color="#f9fa0e"/><stop offset="0.557" stop-color="#f9fb0e"/><stop offset="0.557" stop-color="#352a87"/><stop offset="0.605" stop-color="#137ed7"/><stop offset="0.653" stop-color="#19b2b1"/><stop offset="0.701" stop-color="#adbe68"/><stop offset="0.735" stop-color="#d4bb58"/><stop offset="0.769" stop-color="#f9bb43"/><stop offset="0.803" stop-color="#fad12b"/><stop offset="0.803" stop-color="#38b99e"/><stop offset="1.000" stop-color="#38b99e"/></linearGradient><linearGradient id="i241" gradientUnits="userSpaceOnUse" x2="1"><stop offset="0.000" stop-color="#38b99e"/><stop offset="0.212" stop-color="#38b99e"/><stop offset="0.212" stop-color="#d3bb58"/><stop offset="0.229" stop-color="#fbbc41"/><stop offset="0.247" stop-color="#f8d727"/><stop offset="0.264" stop-color="#f9fa0e"/><stop offset="0.265" stop-color="#f9fb0e"/><stop offset="0.265" stop-color="#352a87"/><stop offset="0.310" stop-color="#294cc9"/><stop offset="0.355" stop-color="#066fdf"/><stop offset="0.401" stop-color="#1484d4"/><stop offset="0.413" stop-color="#0badbc"/><stop offset="0.426" stop-color="#6ebf82"/><stop offset="0.438" stop-color="#d3bb58"/><stop offset="0.467" stop-color="#fbbc41"/><stop offset="0.496" stop-color="#f8d727"/><stop offset="0.525" stop-color="#f9fa0e"/><stop offset="0.526" stop-color="#f9fb0e"/><stop offset="0.526" stop-color="#352a87"/><stop offset="0.594" stop-color="#137ed7"/><stop offset="0.662" stop-color="#19b2b1"/><stop offset="0.730" stop-color="#adbe68"/><stop offset="0.768" stop-color="#d4bb58"/><stop offset="0.805" stop-color="#f9bb43"/><stop offset="0.843" stop-color="#fad12b"/><stop offset="0.843" stop-color="#38b99e"/><stop offset="1.000" stop-color="#38b99e"/></linearGradient><linearGradient id="i242" gradientUnits="userSpaceOnUse" x2="1"><stop offset="0.000" stop-color="#38b99e"/><stop offset="0.241" stop-color="#38b99e"/><stop offset="0.241" stop-color="#d3bb58"/><stop offset="0.259" stop-color="#fbbc41"/><stop offset="0.276" stop-color="#f8d727"/><stop offset="0.294" stop-color="#f9fa0e"/><stop offset="0.294" stop-color="#f9fb0e"/><stop offset="0.294" stop-color="#352a87"/><stop offset="0.327" stop-color="#294cc9"/><stop offset="0.360" stop-color="#066fdf"/><stop offset="0.393" stop-color="#1484d4"/><stop offset="0.393" stop-color="#d3bb58"/><stop offset="0.427" stop-color="#fbbc41"/><stop offset="0.461" stop-color="#f8d727"/><stop offset="0.495" stop-color="#f9fa0e"/><stop offset="0.495" stop-color="#f9fb0e"/><stop offset="0.495" stop-color="#352a87"/><stop offset="0.575" stop-color="#137ed7"/><stop offset="0.654" stop-color="#19b2b1"/><stop offset="0.734" stop-color="#adbe68"/><stop offset="0.776" stop-color="#d4bb58"/><stop offset="0.818" stop-color="#f9bb43"/><stop offset="0.861" stop-color="#fad12b"/><stop offset="0.861" stop-color="#38b99e"/><stop offset="1.000" stop-color="#38b99e"/></linearGradient><linearGradient id="i243" gradientUnits="userSpaceOnUse" x2="1"><stop offset="0.000" stop-color="#38b99e"/><stop offset="0.263" stop-color="#38b99e"/><stop offset="0.263" stop-color="#d3bb58"/><stop offset="0.280" stop-color="#fbbc41"/><stop offset="0.298" stop-color="#f8d727"/><stop offset="0.315" stop-color="#f9fa0e"/><stop offset="0.315" stop-color="#f9fb0e"/><stop offset="0.315" stop-color="#352a87"/><stop offset="0.329" stop-color="#294cc9"/><stop offset="0.343" stop-color="#066fdf"/><stop offset="0.357" stop-color="#1484d4"/><stop offset="0.357" stop-color="#d3bb58"/><stop offset="0.393" stop-color="#fbbc41"/><stop offset="0.429" stop-color="#f8d727"/><stop offset="0.466" stop-color="#f9fa0e"/><stop offset="0.466" stop-color="#f9fb0e"/><stop offset="0.466" stop-color="#352a87"/><stop offset="0.550" stop-color="#137ed7"/><stop offset="0.635" stop-color="#19b2b1"/><stop offset="0.720" stop-color="#adbe68"/><stop offset="0.767" stop-color="#d4bb58"/><stop offset="0.814" stop-color="#f9bb43"/><stop offset="0.861" stop-color="#fad12b"/><stop offset="0.861" stop-color="#38b99e"/><stop offset="1.000" stop-color="#38b99e"/></linearGradient><linearGradient id="i244" gradientUnits="userSpaceOnUse" x2="1"><stop offset="0.000" stop-color="#38b99e"/><stop offset="0.263" stop-color="#38b99e"/><stop offset="0.263" stop-color="#d3bb58"/><stop offset="0.281" stop-color="#fbbc41"/><stop offset="0.298" stop-color="#f8d727"/><stop offset="0.316" stop-color="#f9fa0e"/><stop offset="0.316" stop-color="#f9fb0e"/><stop offset="0.316" stop-color="#352a87"/><stop offset="0.321" stop-color="#294cc9"/><stop offset="0.327" stop-color="#066fdf"/><stop offset="0.332" stop-color="#1484d4"/><stop offset="0.339" stop-color="#0badbc"/><stop offset="0.346" stop-color="#6ebf82"/><stop offset="0.352" stop-color="#d3bb58"/><stop offset="0.386" stop-color="#fbbc41"/><stop offset="0.419" stop-color="#f8d727"/><stop offset="0.452" stop-color="#f9fa0e"/><stop offset="0.453" stop-color="#f9fb0e"/><stop offset="0.453" stop-color="#352a87"/><stop offset="0.530" stop-color="#137ed7"/><stop offset="0.608" stop-color="#19b2b1"/><stop offset="0.685" stop-color="#adbe68"/><stop offset="0.737" stop-color="#d4bb58"/><stop offset="0.789" stop-color="#f9bb43"/><stop offset="0.840" stop-color="#fad12b"/><stop offset="0.840" stop-color="#38b99e"/><stop offset="1.000" stop-color="#38b99e"/></linearGradient><linearGradient id="i245" gradientUnits="userSpaceOnUse" x2="1"><stop offset="0.000" stop-color="#38b99e"/><stop offset="0.256" stop-color="#38b99e"/><stop offset="0.256" stop-color="#d3bb58"/><stop offset="0.274" stop-color="#fbbc41"/><stop offset="0.292" stop-color="#f8d727"/><stop offset="0.309" stop-color="#f9fa0e"/><stop offset="0.309" stop-color="#f9fb0e"/><stop offset="0.309" stop-color="#352a87"/><stop offset="0.310" stop-color="#294cc9"/><stop offset="0.311" stop-color="#066fdf"/><stop offset="0.311" stop-color="#1484d4"/><stop offset="0.327" stop-color="#0badbc"/><stop offset="0.343" stop-color="#6ebf82"/><stop offset="0.359" stop-color="#d3bb58"/><stop offset="0.388" stop-color="#fbbc41"/><stop offset="0.416" stop-color="#f8d727"/><stop offset="0.445" stop-color="#f9fa0e"/><stop offset="0.445" stop-color="#f9fb0e"/><stop offset="0.445" stop-color="#352a87"/><stop offset="0.511" stop-color="#137ed7"/><stop offset="0.577" stop-color="#19b2b1"/><stop offset="0.644" stop-color="#adbe68"/><stop offset="0.700" stop-color="#d4bb58"/><stop offset="0.756" stop-color="#f9bb43"/><stop offset="0.813" stop-color="#fad12b"/><stop offset="0.813" stop-color="#38b99e"/><stop offset="1.000" stop-color="#38b99e"/></linearGradient><linearGradient id="i246" gradientUnits="userSpaceOnUse" x2="1"><stop offset="0.000" stop-color="#38b99e"/><stop offset="0.235" stop-color="#38b99e"/><stop offset="0.235" stop-color="#d3bb58"/><stop offset="0.256" stop-color="#fbbc41"/><stop offset="0.277" stop-color="#f8d727"/><stop offset="0.298" stop-color="#f9fa0e"/><stop offset="0.298" stop-color="#f9fb0e"/><stop offset="0.298" stop-color="#352a87"/><stop offset="0.303" stop-color="#294cc9"/><stop offset="0.308" stop-color="#066fdf"/><stop offset="0.313" stop-color="#1484d4"/><stop offset="0.334" stop-color="#0badbc"/><stop offset="0.355" stop-color="#6ebf82"/><stop offset="0.375" stop-color="#d3bb58"/><stop offset="0.400" stop-color="#fbbc41"/><stop offset="0.425" stop-color="#f8d727"/><stop offset="0.449" stop-color="#f9fa0e"/><stop offset="0.450" stop-color="#f9fb0e"/><stop offset="0.450" stop-color="#352a87"/><stop offset="0.507" stop-color="#137ed7"/><stop offset="0.564" stop-color="#19b2b1"/><stop offset="0.622" stop-color="#adbe68"/><stop offset="0.672" stop-color="#d4bb58"/><stop offset="0.723" stop-color="#f9bb43"/><stop offset="0.773" stop-color="#fad12b"/><stop offset="0.773" stop-color="#38b99e"/><stop offset="1.000" stop-color="#38b99e"/></linearGradient><linearGradient id="i247" gradientUnits="userSpaceOnUse" x2="1"><stop offset="0.000" stop-color="#38b99e"/><stop offset="0.212" stop-color="#38b99e"/><stop offset="0.212" stop-color="#d3bb58"/><stop offset="0.237" stop-color="#fbbc41"/><stop offset="0.261" stop-color="#f8d727"/><stop offset="0.286" stop-color="#f9fa0e"/><stop offset="0.286" stop-color="#f9fb0e"/><stop offset="0.286" stop-color="#352a87"/><stop offset="0.297" stop-color="#294cc9"/><stop offset="0.308" stop-color="#066fdf"/><stop offset="0.319" stop-color="#1484d4"/><stop offset="0.344" stop-color="#0badbc"/><stop offset="0.368" stop-color="#6ebf82"/><stop offset="0.393" stop-color="#d3bb58"/><stop offset="0.414" stop-color="#fbbc41"/><stop offset="0.435" stop-color="#f8d727"/><stop offset="0.456" stop-color="#f9fa0e"/><stop offset="0.457" stop-color="#f9fb0e"/><stop offset="0.457" stop-color="#352a87"/><stop offset="0.506" stop-color="#137ed7"/><stop offset="0.555" stop-color="#19b2b1"/><stop offset="0.604" stop-color="#adbe68"/><stop offset="0.647" stop-color="#d4bb58"/><stop offset="0.689" stop-color="#f9bb43"/><stop offset="0.732" stop-color="#fad12b"/><stop offset="0.732" stop-color="#38b99e"/><stop offset="1.000" stop-color="#38b99e"/></linearGradient><linearGradient id="i248" gradientUnits="userSpaceOnUse" x2="1"><stop offset="0.000" stop-color="#38b99e"/><stop offset="0.193" stop-color="#38b99e"/><stop offset="0.193" stop-color="#d3bb58"/><stop offset="0.221" stop-color="#fbbc41"/><stop offset="0.250" stop-color="#f8d727"/><stop offset="0.278" stop-color="#f9fa0e"/><stop offset="0.278" stop-color="#f9fb0e"/><stop offset="0.278" stop-color="#352a87"/><stop offset="0.296" stop-color="#294cc9"/><stop offset="0.314" stop-color="#066fdf"/><stop offset="0.332" stop-color="#1484d4"/><stop offset="0.363" stop-color="#0badbc"/><stop offset="0.394" stop-color="#6ebf82"/><stop offset="0.426" stop-color="#d3bb58"/><stop offset="0.444" stop-color="#fbbc41"/><stop offset="0.461" stop-color="#f8d727"/><stop offset="0.479" stop-color="#f9fa0e"/><stop offset="0.480" stop-color="#f9fb0e"/><stop offset="0.480" stop-color="#352a87"/><stop offset="0.521" stop-color="#137ed7"/><stop offset="0.563" stop-color="#19b2b1"/><stop offset="0.605" stop-color="#adbe68"/><stop offset="0.639" stop-color="#d4bb58"/><stop offset="0.674" stop-color="#f9bb43"/><stop offset="0.708" stop-color="#fad12b"/><stop offset="0.708" stop-color="#38b99e"/><stop offset="1.000" stop-color="#38b99e"/></linearGradient><linearGradient id="i249" gradientUnits="userSpaceOnUse" x2="1"><stop offset="0.000" stop-color="#38b99e"/><stop offset="0.178" stop-color="#38b99e"/><stop offset="0.178" stop-color="#d3bb58"/><stop offset="0.209" stop-color="#fbbc41"/><stop offset="0.241" stop-color="#f8d727"/><stop offset="0.272" stop-color="#f9fa0e"/><stop offset="0.272" stop-color="#f9fb0e"/><stop offset="0.272" stop-color="#352a87"/><stop offset="0.298" stop-color="#294cc9"/><stop offset="0.324" stop-color="#066fdf"/><stop offset="0.350" stop-color="#1484d4"/><stop offset="0.389" stop-color="#0badbc"/><stop offset="0.428" stop-color="#6ebf82"/><stop offset="0.467" stop-color="#d3bb58"/><stop offset="0.482" stop-color="#fbbc41"/><stop offset="0.497" stop-color="#f8d727"/><stop offset="0.512" stop-color="#f9fa0e"/><stop offset="0.512" stop-color="#f9fb0e"/><stop offset="0.512" stop-color="#352a87"/><stop offset="0.547" stop-color="#137ed7"/><stop offset="0.582" stop-color="#19b2b1"/><stop offset="0.617" stop-color="#adbe68"/><stop offset="0.643" stop-color="#d4bb58"/><stop offset="0.670" stop-color="#f9bb43"/><stop offset="0.697" stop-color="#fad12b"/><stop offset="0.697" stop-color="#38b99e"/><stop offset="1.000" stop-color="#38b99e"/></linearGradient><linearGradient id="i250" gradientUnits="userSpaceOnUse" x2="1"><stop offset="0.000" stop-color="#38b99e"/><stop offset="0.161" stop-color="#38b99e"/><stop offset="0.161" stop-color="#d3bb58"/><stop offset="0.195" stop-color="#fbbc41"/><stop offset="0.229" stop-color="#f8d727"/><stop offset="0.263" stop-color="#f9fa0e"/><stop offset="0.263" stop-color="#f9fb0e"/><stop offset="0.263" stop-color="#352a87"/><stop offset="0.295" stop-color="#294cc9"/><stop offset="0.327" stop-color="#066fdf"/><stop offset="0.359" stop-color="#1484d4"/><stop offset="0.406" stop-color="#0badbc"/><stop offset="0.453" stop-color="#6ebf82"/><stop offset="0.499" stop-color="#d3bb58"/><stop offset="0.512" stop-color="#fbbc41"/><stop offset="0.526" stop-color="#f8d727"/><stop offset="0.539" stop-color="#f9fa0e"/><stop offset="0.539" stop-color="#f9fb0e"/><stop offset="0.539" stop-color="#352a87"/><stop offset="0.569" stop-color="#137ed7"/><stop offset="0.600" stop-color="#19b2b1"/><stop offset="0.631" stop-color="#adbe68"/><stop offset="0.652" stop-color="#d4bb58"/><stop offset="0.673" stop-color="#f9bb43"/><stop offset="0.694" stop-color="#fad12b"/><stop offset="0.694" stop-color="#38b99e"/><stop offset="1.000" stop-color="#38b99e"/></linearGradient><linearGradient id="i251" gradientUnits="userSpaceOnUse" x2="1"><stop offset="0.000" stop-color="#38b99e"/><stop offset="0.142" stop-color="#38b99e"/><stop offset="0.142" stop-color="#d3bb58"/><stop offset="0.177" stop-color="#fbbc41"/><stop offset="0.213" stop-color="#f8d727"/><stop offset="0.248" stop-color="#f9fa0e"/><stop offset="0.249" stop-color="#f9fb0e"/><stop offset="0.249" stop-color="#352a87"/><stop offset="0.284" stop-color="#294cc9"/><stop offset="0.320" stop-color="#066fdf"/><stop offset="0.356" stop-color="#1484d4"/><stop offset="0.409" stop-color="#0badbc"/><stop offset="0.463" stop-color="#6ebf82"/><stop offset="0.517" stop-color="#d3bb58"/><stop offset="0.530" stop-color="#fbbc41"/><stop offset="0.543" stop-color="#f8d727"/><stop offset="0.557" stop-color="#f9fa0e"/><stop offset="0.557" stop-color="#f9fb0e"/><stop offset="0.557" stop-color="#352a87"/><stop offset="0.587" stop-color="#137ed7"/><stop offset="0.618" stop-color="#19b2b1"/><stop offset="0.649" stop-color="#adbe68"/><stop offset="0.668" stop-color="#d4bb58"/><stop offset="0.687" stop-color="#f9bb43"/><stop offset="0.706" stop-color="#fad12b"/><stop offset="0.706" stop-color="#38b99e"/><stop offset="1.000" stop-color="#38b99e"/></linearGradient><linearGradient id="i252" gradientUnits="userSpaceOnUse" x2="1"><stop offset="0.000" stop-color="#38b99e"/><stop offset="0.121" stop-color="#38b99e"/><stop offset="0.121" stop-color="#d3bb58"/><stop offset="0.158" stop-color="#fbbc41"/><stop offset="0.194" stop-color="#f8d727"/><stop offset="0.231" stop-color="#f9fa0e"/><stop offset="0.231" stop-color="#f9fb0e"/><stop offset="0.231" stop-color="#352a87"/><stop offset="0.271" stop-color="#294cc9"/><stop offset="0.312" stop-color="#066fdf"/><stop offset="0.353" stop-color="#1484d4"/><stop offset="0.410" stop-color="#0badbc"/><stop offset="0.468" stop-color="#6ebf82"/><stop offset="0.526" stop-color="#d3bb58"/><stop offset="0.540" stop-color="#fbbc41"/><stop offset="0.554" stop-color="#f8d727"/><stop offset="0.568" stop-color="#f9fa0e"/><stop offset="0.568" stop-color="#f9fb0e"/><stop offset="0.568" stop-color="#352a87"/><stop offset="0.601" stop-color="#137ed7"/><stop offset="0.634" stop-color="#19b2b1"/><stop offset="0.667" stop-color="#adbe68"/><stop offset="0.685" stop-color="#d4bb58"/><stop offset="0.703" stop-color="#f9bb43"/><stop offset="0.721" stop-color="#fad12b"/><stop offset="0.721" stop-color="#38b99e"/><stop offset="1.000" stop-color="#38b99e"/></linearGradient><linearGradient id="i253" gradientUnits="userSpaceOnUse" x2="1"><stop offset="0.000" stop-color="#38b99e"/><stop offset="0.093" stop-color="#38b99e"/><stop offset="0.093" stop-color="#d3bb58"/><stop offset="0.128" stop-color="#fbbc41"/><stop offset="0.163" stop-color="#f8d727"/><stop offset="0.198" stop-color="#f9fa0e"/><stop offset="0.199" stop-color="#f9fb0e"/><stop offset="0.199" stop-color="#352a87"/><stop offset="0.250" stop-color="#294cc9"/><stop offset="0.301" stop-color="#066fdf"/><stop offset="0.353" stop-color="#1484d4"/><stop offset="0.400" stop-color="#0badbc"/><stop offset="0.448" stop-color="#6ebf82"/><stop offset="0.496" stop-color="#d3bb58"/><stop offset="0.515" stop-color="#fbbc41"/><stop offset="0.534" stop-color="#f8d727"/><stop offset="0.553" stop-color="#f9fa0e"/><stop offset="0.553" stop-color="#f9fb0e"/><stop offset="0.553" stop-color="#352a87"/><stop offset="0.598" stop-color="#137ed7"/><stop offset="0.642" stop-color="#19b2b1"/><stop offset="0.687" stop-color="#adbe68"/><stop offset="0.709" stop-color="#d4bb58"/><stop offset="0.730" stop-color="#f9bb43"/><stop offset="0.752" stop-color="#fad12b"/><stop offset="0.752" stop-color="#38b99e"/><stop offset="1.000" stop-color="#38b99e"/></linearGradient><linearGradient id="i254" gradientUnits="userSpaceOnUse" x2="1"><stop offset="0.000" stop-color="#38b99e"/><stop offset="0.064" stop-color="#38b99e"/><stop offset="0.064" stop-color="#d3bb58"/><stop offset="0.098" stop-color="#fbbc41"/><stop offset="0.132" stop-color="#f8d727"/><stop offset="0.166" stop-color="#f9fa0e"/><stop offset="0.167" stop-color="#f9fb0e"/><stop offset="0.167" stop-color="#352a87"/><stop offset="0.228" stop-color="#294cc9"/><stop offset="0.290" stop-color="#066fdf"/><stop offset="0.353" stop-color="#1484d4"/><stop offset="0.390" stop-color="#0badbc"/><stop offset="0.428" stop-color="#6ebf82"/><stop offset="0.465" stop-color="#d3bb58"/><stop offset="0.489" stop-color="#fbbc41"/><stop offset="0.514" stop-color="#f8d727"/><stop offset="0.538" stop-color="#f9fa0e"/><stop offset="0.538" stop-color="#f9fb0e"/><stop offset="0.538" stop-color="#352a87"/><stop offset="0.594" stop-color="#137ed7"/><stop offset="0.651" stop-color="#19b2b1"/><stop offset="0.707" stop-color="#adbe68"/><stop offset="0.732" stop-color="#d4bb58"/><stop offset="0.757" stop-color="#f9bb43"/><stop offset="0.782" stop-color="#fad12b"/><stop offset="0.782" stop-color="#38b99e"/><stop offset="1.000" stop-color="#38b99e"/></linearGradient><linearGradient id="i255" gradientUnits="userSpaceOnUse" x2="1"><stop offset="0.000" stop-color="#38b99e"/><stop offset="0.049" stop-color="#38b99e"/><stop offset="0.049" stop-color="#d3bb58"/><stop offset="0.079" stop-color="#fbbc41"/><stop offset="0.110" stop-color="#f8d727"/><stop offset="0.141" stop-color="#f9fa0e"/><stop offset="0.142" stop-color="#f9fb0e"/><stop offset="0.142" stop-color="#352a87"/><stop offset="0.203" stop-color="#294cc9"/><stop offset="0.264" stop-color="#066fdf"/><stop offset="0.326" stop-color="#1484d4"/><stop offset="0.365" stop-color="#0badbc"/><stop offset="0.403" stop-color="#6ebf82"/><stop offset="0.442" stop-color="#d3bb58"/><stop offset="0.471" stop-color="#fbbc41"/><stop offset="0.500" stop-color="#f8d727"/><stop offset="0.529" stop-color="#f9fa0e"/><stop offset="0.529" stop-color="#f9fb0e"/><stop offset="0.529" stop-color="#352a87"/><stop offset="0.595" stop-color="#137ed7"/><stop offset="0.662" stop-color="#19b2b1"/><stop offset="0.729" stop-color="#adbe68"/><stop offset="0.756" stop-color="#d4bb58"/><stop offset="0.782" stop-color="#f9bb43"/><stop offset="0.808" stop-color="#fad12b"/><stop offset="0.808" stop-color="#38b99e"/><stop offset="1.000" stop-color="#38b99e"/></linearGradient><linearGradient id="i256" gradientUnits="userSpaceOnUse" x2="1"><stop offset="0.000" stop-color="#38b99e"/><stop offset="0.042" stop-color="#38b99e"/><stop offset="0.042" stop-color="#d3bb58"/><stop offset="0.068" stop-color="#fbbc41"/><stop offset="0.095" stop-color="#f8d727"/><stop offset="0.121" stop-color="#f9fa0e"/><stop offset="0.122" stop-color="#f9fb0e"/><stop offset="0.122" stop-color="#352a87"/><stop offset="0.174" stop-color="#294cc9"/><stop offset="0.227" stop-color="#066fdf"/><stop offset="0.279" stop-color="#1484d4"/><stop offset="0.328" stop-color="#0badbc"/><stop offset="0.377" stop-color="#6ebf82"/><stop offset="0.425" stop-color="#d3bb58"/><stop offset="0.458" stop-color="#fbbc41"/><stop offset="0.491" stop-color="#f8d727"/><stop offset="0.523" stop-color="#f9fa0e"/><stop offset="0.524" stop-color="#f9fb0e"/><stop offset="0.524" stop-color="#352a87"/><stop offset="0.600" stop-color="#137ed7"/><stop offset="0.676" stop-color="#19b2b1"/><stop offset="0.752" stop-color="#adbe68"/><stop offset="0.779" stop-color="#d4bb58"/><stop offset="0.805" stop-color="#f9bb43"/><stop offset="0.831" stop-color="#fad12b"/><stop offset="0.831" stop-color="#38b99e"/><stop offset="1.000" stop-color="#38b99e"/></linearGradient><linearGradient id="i257" gradientUnits="userSpaceOnUse" x2="1"><stop offset="0.000" stop-color="#38b99e"/><stop offset="0.040" stop-color="#38b99e"/><stop offset="0.040" stop-color="#d3bb58"/><stop offset="0.063" stop-color="#fbbc41"/><stop offset="0.087" stop-color="#f8d727"/><stop offset="0.110" stop-color="#f9fa0e"/><stop offset="0.111" stop-color="#f9fb0e"/><stop offset="0.111" stop-color="#352a87"/><stop offset="0.155" stop-color="#294cc9"/><stop offset="0.199" stop-color="#066fdf"/><stop offset="0.244" stop-color="#1484d4"/><stop offset="0.297" stop-color="#0badbc"/><stop offset="0.351" stop-color="#6ebf82"/><stop offset="0.404" stop-color="#d3bb58"/><stop offset="0.439" stop-color="#fbbc41"/><stop offset="0.474" stop-color="#f8d727"/><stop offset="0.509" stop-color="#f9fa0e"/><stop offset="0.509" stop-color="#f9fb0e"/><stop offset="0.509" stop-color="#352a87"/><stop offset="0.591" stop-color="#137ed7"/><stop offset="0.672" stop-color="#19b2b1"/><stop offset="0.754" stop-color="#adbe68"/><stop offset="0.784" stop-color="#d4bb58"/><stop offset="0.814" stop-color="#f9bb43"/><stop offset="0.844" stop-color="#fad12b"/><stop offset="0.844" stop-color="#38b99e"/><stop offset="1.000" stop-color="#38b99e"/></linearGradient><linearGradient id="i258" gradientUnits="userSpaceOnUse" x2="1"><stop offset="0.000" stop-color="#38b99e"/><stop offset="0.049" stop-color="#38b99e"/><stop offset="0.049" stop-color="#d3bb58"/><stop offset="0.072" stop-color="#fbbc41"/><stop offset="0.096" stop-color="#f8d727"/><stop offset="0.119" stop-color="#f9fa0e"/><stop offset="0.119" stop-color="#f9fb0e"/><stop offset="0.119" stop-color="#352a87"/><stop offset="0.156" stop-color="#294cc9"/><stop offset="0.194" stop-color="#066fdf"/><stop offset="0.232" stop-color="#1484d4"/><stop offset="0.279" stop-color="#0badbc"/><stop offset="0.327" stop-color="#6ebf82"/><stop offset="0.374" stop-color="#d3bb58"/><stop offset="0.408" stop-color="#fbbc41"/><stop offset="0.441" stop-color="#f8d727"/><stop offset="0.474" stop-color="#f9fa0e"/><stop offset="0.474" stop-color="#f9fb0e"/><stop offset="0.474" stop-color="#352a87"/><stop offset="0.551" stop-color="#137ed7"/><stop offset="0.629" stop-color="#19b2b1"/><stop offset="0.706" stop-color="#adbe68"/><stop offset="0.748" stop-color="#d4bb58"/><stop offset="0.790" stop-color="#f9bb43"/><stop offset="0.832" stop-color="#fad12b"/><stop offset="0.832" stop-color="#38b99e"/><stop offset="1.000" stop-color="#38b99e"/></linearGradient><linearGradient id="i259" gradientUnits="userSpaceOnUse" x2="1"><stop offset="0.000" stop-color="#38b99e"/><stop offset="0.056" stop-color="#38b99e"/><stop offset="0.056" stop-color="#d3bb58"/><stop offset="0.079" stop-color="#fbbc41"/><stop offset="0.102" stop-color="#f8d727"/><stop offset="0.125" stop-color="#f9fa0e"/><stop offset="0.125" stop-color="#f9fb0e"/><stop offset="0.125" stop-color="#352a87"/><stop offset="0.156" stop-color="#294cc9"/><stop offset="0.188" stop-color="#066fdf"/><stop offset="0.220" stop-color="#1484d4"/><stop offset="0.262" stop-color="#0badbc"/><stop offset="0.305" stop-color="#6ebf82"/><stop offset="0.347" stop-color="#d3bb58"/><stop offset="0.379" stop-color="#fbbc41"/><stop offset="0.410" stop-color="#f8d727"/><stop offset="0.442" stop-color="#f9fa0e"/><stop offset="0.442" stop-color="#f9fb0e"/><stop offset="0.442" stop-color="#352a87"/><stop offset="0.515" stop-color="#137ed7"/><stop offset="0.589" stop-color="#19b2b1"/><stop offset="0.662" stop-color="#adbe68"/><stop offset="0.715" stop-color="#d4bb58"/><stop offset="0.768" stop-color="#f9bb43"/><stop offset="0.821" stop-color="#fad12b"/><stop offset="0.821" stop-color="#38b99e"/><stop offset="1.000" stop-color="#38b99e"/></linearGradient><linearGradient id="i260" gradientUnits="userSpaceOnUse" x2="1"><stop offset="0.000" stop-color="#38b99e"/><stop offset="0.037" stop-color="#38b99e"/><stop offset="0.037" stop-color="#d3bb58"/><stop offset="0.060" stop-color="#fbbc41"/><stop offset="0.083" stop-color="#f8d727"/><stop offset="0.106" stop-color="#f9fa0e"/><stop offset="0.106" stop-color="#f9fb0e"/><stop offset="0.106" stop-color="#352a87"/><stop offset="0.139" stop-color="#294cc9"/><stop offset="0.172" stop-color="#066fdf"/><stop offset="0.206" stop-color="#1484d4"/><stop offset="0.253" stop-color="#0badbc"/><stop offset="0.300" stop-color="#6ebf82"/><stop offset="0.347" stop-color="#d3bb58"/><stop offset="0.378" stop-color="#fbbc41"/><stop offset="0.408" stop-color="#f8d727"/><stop offset="0.438" stop-color="#f9fa0e"/><stop offset="0.439" stop-color="#f9fb0e"/><stop offset="0.439" stop-color="#352a87"/><stop offset="0.509" stop-color="#137ed7"/><stop offset="0.580" stop-color="#19b2b1"/><stop offset="0.650" stop-color="#adbe68"/><stop offset="0.705" stop-color="#d4bb58"/><stop offset="0.760" stop-color="#f9bb43"/><stop offset="0.815" stop-color="#fad12b"/><stop offset="0.815" stop-color="#38b99e"/><stop offset="1.000" stop-color="#38b99e"/></linearGradient><linearGradient id="i261" gradientUnits="userSpaceOnUse" x2="1"><stop offset="0.000" stop-color="#38b99e"/><stop offset="0.018" stop-color="#38b99e"/><stop offset="0.018" stop-color="#d3bb58"/><stop offset="0.041" stop-color="#fbbc41"/><stop offset="0.064" stop-color="#f8d727"/><stop offset="0.087" stop-color="#f9fa0e"/><stop offset="0.087" stop-color="#f9fb0e"/><stop offset="0.087" stop-color="#352a87"/><stop offset="0.122" stop-color="#294cc9"/><stop offset="0.156" stop-color="#066fdf"/><stop offset="0.191" stop-color="#1484d4"/><stop offset="0.243" stop-color="#0badbc"/><stop offset="0.295" stop-color="#6ebf82"/><stop offset="0.347" stop-color="#d3bb58"/><stop offset="0.376" stop-color="#fbbc41"/><stop offset="0.406" stop-color="#f8d727"/><stop offset="0.435" stop-color="#f9fa0e"/><stop offset="0.435" stop-color="#f9fb0e"/><stop offset="0.435" stop-color="#352a87"/><stop offset="0.503" stop-color="#137ed7"/><stop offset="0.570" stop-color="#19b2b1"/><stop offset="0.638" stop-color="#adbe68"/><stop offset="0.695" stop-color="#d4bb58"/><stop offset="0.752" stop-color="#f9bb43"/><stop offset="0.809" stop-color="#fad12b"/><stop offset="0.809" stop-color="#38b99e"/><stop offset="1.000" stop-color="#38b99e"/></linearGradient><linearGradient id="i262" gradientUnits="userSpaceOnUse" x2="1"><stop offset="0.000" stop-color="#38b99e"/><stop offset="0.019" stop-color="#38b99e"/><stop offset="0.019" stop-color="#d3bb58"/><stop offset="0.040" stop-color="#fbbc41"/><stop offset="0.062" stop-color="#f8d727"/><stop offset="0.083" stop-color="#f9fa0e"/><stop offset="0.084" stop-color="#f9fb0e"/><stop offset="0.084" stop-color="#352a87"/><stop offset="0.120" stop-color="#294cc9"/><stop offset="0.157" stop-color="#066fdf"/><stop offset="0.195" stop-color="#1484d4"/><stop offset="0.247" stop-color="#0badbc"/><stop offset="0.300" stop-color="#6ebf82"/><stop offset="0.352" stop-color="#d3bb58"/><stop offset="0.379" stop-color="#fbbc41"/><stop offset="0.405" stop-color="#f8d727"/><stop offset="0.432" stop-color="#f9fa0e"/><stop offset="0.432" stop-color="#f9fb0e"/><stop offset="0.432" stop-color="#352a87"/><stop offset="0.493" stop-color="#137ed7"/><stop offset="0.555" stop-color="#19b2b1"/><stop offset="0.617" stop-color="#adbe68"/><stop offset="0.682" stop-color="#d4bb58"/><stop offset="0.748" stop-color="#f9bb43"/><stop offset="0.813" stop-color="#fad12b"/><stop offset="0.813" stop-color="#38b99e"/><stop offset="1.000" stop-color="#38b99e"/></linearGradient><linearGradient id="i263" gradientUnits="userSpaceOnUse" x2="1"><stop offset="0.000" stop-color="#38b99e"/><stop offset="0.022" stop-color="#38b99e"/><stop offset="0.022" stop-color="#d3bb58"/><stop offset="0.042" stop-color="#fbbc41"/><stop offset="0.062" stop-color="#f8d727"/><stop offset="0.082" stop-color="#f9fa0e"/><stop offset="0.083" stop-color="#f9fb0e"/><stop offset="0.083" stop-color="#352a87"/><stop offset="0.121" stop-color="#294cc9"/><stop offset="0.161" stop-color="#066fdf"/><stop offset="0.200" stop-color="#1484d4"/><stop offset="0.253" stop-color="#0badbc"/><stop offset="0.306" stop-color="#6ebf82"/><stop offset="0.358" stop-color="#d3bb58"/><stop offset="0.382" stop-color="#fbbc41"/><stop offset="0.405" stop-color="#f8d727"/><stop offset="0.429" stop-color="#f9fa0e"/><stop offset="0.429" stop-color="#f9fb0e"/><stop offset="0.429" stop-color="#352a87"/><stop offset="0.484" stop-color="#137ed7"/><stop offset="0.539" stop-color="#19b2b1"/><stop offset="0.594" stop-color="#adbe68"/><stop offset="0.669" stop-color="#d4bb58"/><stop offset="0.744" stop-color="#f9bb43"/><stop offset="0.819" stop-color="#fad12b"/><stop offset="0.819" stop-color="#38b99e"/><stop offset="1.000" stop-color="#38b99e"/></linearGradient><linearGradient id="i264" gradientUnits="userSpaceOnUse" x2="1"><stop offset="0.000" stop-color="#38b99e"/><stop offset="0.029" stop-color="#38b99e"/><stop offset="0.029" stop-color="#d3bb58"/><stop offset="0.047" stop-color="#fbbc41"/><stop offset="0.066" stop-color="#f8d727"/><stop offset="0.084" stop-color="#f9fa0e"/><stop offset="0.085" stop-color="#f9fb0e"/><stop offset="0.085" stop-color="#352a87"/><stop offset="0.125" stop-color="#294cc9"/><stop offset="0.166" stop-color="#066fdf"/><stop offset="0.206" stop-color="#1484d4"/><stop offset="0.261" stop-color="#0badbc"/><stop offset="0.316" stop-color="#6ebf82"/><stop offset="0.371" stop-color="#d3bb58"/><stop offset="0.392" stop-color="#fbbc41"/><stop offset="0.412" stop-color="#f8d727"/><stop offset="0.433" stop-color="#f9fa0e"/><stop offset="0.433" stop-color="#f9fb0e"/><stop offset="0.433" stop-color="#352a87"/><stop offset="0.481" stop-color="#137ed7"/><stop offset="0.529" stop-color="#19b2b1"/><stop offset="0.577" stop-color="#adbe68"/><stop offset="0.654" stop-color="#d4bb58"/><stop offset="0.730" stop-color="#f9bb43"/><stop offset="0.807" stop-color="#fad12b"/><stop offset="0.807" stop-color="#38b99e"/><stop offset="1.000" stop-color="#38b99e"/></linearGradient><linearGradient id="i265" gradientUnits="userSpaceOnUse" x2="1"><stop offset="0.000" stop-color="#38b99e"/><stop offset="0.037" stop-color="#38b99e"/><stop offset="0.037" stop-color="#d3bb58"/><stop offset="0.054" stop-color="#fbbc41"/><stop offset="0.072" stop-color="#f8d727"/><stop offset="0.089" stop-color="#f9fa0e"/><stop offset="0.090" stop-color="#f9fb0e"/><stop offset="0.090" stop-color="#352a87"/><stop offset="0.130" stop-color="#294cc9"/><stop offset="0.171" stop-color="#066fdf"/><stop offset="0.212" stop-color="#1484d4"/><stop offset="0.271" stop-color="#0badbc"/><stop offset="0.330" stop-color="#6ebf82"/><stop offset="0.389" stop-color="#d3bb58"/><stop offset="0.407" stop-color="#fbbc41"/><stop offset="0.424" stop-color="#f8d727"/><stop offset="0.442" stop-color="#f9fa0e"/><stop offset="0.442" stop-color="#f9fb0e"/><stop offset="0.442" stop-color="#352a87"/><stop offset="0.483" stop-color="#137ed7"/><stop offset="0.524" stop-color="#19b2b1"/><stop offset="0.565" stop-color="#adbe68"/><stop offset="0.638" stop-color="#d4bb58"/><stop offset="0.711" stop-color="#f9bb43"/><stop offset="0.783" stop-color="#fad12b"/><stop offset="0.783" stop-color="#38b99e"/><stop offset="1.000" stop-color="#38b99e"/></linearGradient><linearGradient id="i266" gradientUnits="userSpaceOnUse" x2="1"><stop offset="0.000" stop-color="#38b99e"/><stop offset="0.036" stop-color="#38b99e"/><stop offset="0.036" stop-color="#d3bb58"/><stop offset="0.054" stop-color="#fbbc41"/><stop offset="0.071" stop-color="#f8d727"/><stop offset="0.089" stop-color="#f9fa0e"/><stop offset="0.089" stop-color="#f9fb0e"/><stop offset="0.089" stop-color="#352a87"/><stop offset="0.132" stop-color="#294cc9"/><stop offset="0.175" stop-color="#066fdf"/><stop offset="0.218" stop-color="#1484d4"/><stop offset="0.279" stop-color="#0badbc"/><stop offset="0.341" stop-color="#6ebf82"/><stop offset="0.402" stop-color="#d3bb58"/><stop offset="0.417" stop-color="#fbbc41"/><stop offset="0.432" stop-color="#f8d727"/><stop offset="0.448" stop-color="#f9fa0e"/><stop offset="0.448" stop-color="#f9fb0e"/><stop offset="0.448" stop-color="#352a87"/><stop offset="0.483" stop-color="#137ed7"/><stop offset="0.518" stop-color="#19b2b1"/><stop offset="0.553" stop-color="#adbe68"/><stop offset="0.622" stop-color="#d4bb58"/><stop offset="0.691" stop-color="#f9bb43"/><stop offset="0.759" stop-color="#fad12b"/><stop offset="0.759" stop-color="#38b99e"/><stop offset="1.000" stop-color="#38b99e"/></linearGradient><linearGradient id="i267" gradientUnits="userSpaceOnUse" x2="1"><stop offset="0.000" stop-color="#38b99e"/><stop offset="0.019" stop-color="#38b99e"/><stop offset="0.019" stop-color="#d3bb58"/><stop offset="0.040" stop-color="#fbbc41"/><stop offset="0.060" stop-color="#f8d727"/><stop offset="0.081" stop-color="#f9fa0e"/><stop offset="0.081" stop-color="#f9fb0e"/><stop offset="0.081" stop-color="#352a87"/><stop offset="0.128" stop-color="#294cc9"/><stop offset="0.176" stop-color="#066fdf"/><stop offset="0.224" stop-color="#1484d4"/><stop offset="0.285" stop-color="#0badbc"/><stop offset="0.347" stop-color="#6ebf82"/><stop offset="0.408" stop-color="#d3bb58"/><stop offset="0.422" stop-color="#fbbc41"/><stop offset="0.435" stop-color="#f8d727"/><stop offset="0.448" stop-color="#f9fa0e"/><stop offset="0.448" stop-color="#f9fb0e"/><stop offset="0.448" stop-color="#352a87"/><stop offset="0.479" stop-color="#137ed7"/><stop offset="0.510" stop-color="#19b2b1"/><stop offset="0.542" stop-color="#adbe68"/><stop offset="0.606" stop-color="#d4bb58"/><stop offset="0.671" stop-color="#f9bb43"/><stop offset="0.736" stop-color="#fad12b"/><stop offset="0.736" stop-color="#38b99e"/><stop offset="1.000" stop-color="#38b99e"/></linearGradient><linearGradient id="i268" gradientUnits="userSpaceOnUse" x2="1"><stop offset="0.000" stop-color="#38b99e"/><stop offset="0.005" stop-color="#38b99e"/><stop offset="0.005" stop-color="#d3bb58"/><stop offset="0.027" stop-color="#fbbc41"/><stop offset="0.049" stop-color="#f8d727"/><stop offset="0.072" stop-color="#f9fa0e"/><stop offset="0.072" stop-color="#f9fb0e"/><stop offset="0.072" stop-color="#352a87"/><stop offset="0.125" stop-color="#294cc9"/><stop offset="0.178" stop-color="#066fdf"/><stop offset="0.231" stop-color="#1484d4"/><stop offset="0.292" stop-color="#0badbc"/><stop offset="0.352" stop-color="#6ebf82"/><stop offset="0.413" stop-color="#d3bb58"/><stop offset="0.425" stop-color="#fbbc41"/><stop offset="0.436" stop-color="#f8d727"/><stop offset="0.448" stop-color="#f9fa0e"/><stop offset="0.448" stop-color="#f9fb0e"/><stop offset="0.448" stop-color="#352a87"/><stop offset="0.475" stop-color="#137ed7"/><stop offset="0.503" stop-color="#19b2b1"/><stop offset="0.530" stop-color="#adbe68"/><stop offset="0.591" stop-color="#d4bb58"/><stop offset="0.653" stop-color="#f9bb43"/><stop offset="0.714" stop-color="#fad12b"/><stop offset="0.714" stop-color="#38b99e"/><stop offset="1.000" stop-color="#38b99e"/></linearGradient><linearGradient id="i269" gradientUnits="userSpaceOnUse" x2="1"><stop offset="0.000" stop-color="#38b99e"/><stop offset="0.003" stop-color="#38b99e"/><stop offset="0.003" stop-color="#d3bb58"/><stop offset="0.021" stop-color="#fbbc41"/><stop offset="0.040" stop-color="#f8d727"/><stop offset="0.059" stop-color="#f9fa0e"/><stop offset="0.060" stop-color="#f9fb0e"/><stop offset="0.060" stop-color="#352a87"/><stop offset="0.120" stop-color="#294cc9"/><stop offset="0.181" stop-color="#066fdf"/><stop offset="0.242" stop-color="#1484d4"/><stop offset="0.299" stop-color="#0badbc"/><stop offset="0.356" stop-color="#6ebf82"/><stop offset="0.413" stop-color="#d3bb58"/><stop offset="0.424" stop-color="#fbbc41"/><stop offset="0.434" stop-color="#f8d727"/><stop offset="0.445" stop-color="#f9fa0e"/><stop offset="0.445" stop-color="#f9fb0e"/><stop offset="0.445" stop-color="#352a87"/><stop offset="0.469" stop-color="#137ed7"/><stop offset="0.494" stop-color="#19b2b1"/><stop offset="0.518" stop-color="#adbe68"/><stop offset="0.580" stop-color="#d4bb58"/><stop offset="0.641" stop-color="#f9bb43"/><stop offset="0.702" stop-color="#fad12b"/><stop offset="0.702" stop-color="#38b99e"/><stop offset="1.000" stop-color="#38b99e"/></linearGradient><linearGradient id="i270" gradientUnits="userSpaceOnUse" x2="1"><stop offset="0.000" stop-color="#38b99e"/><stop offset="0.000" stop-color="#38b99e"/><stop offset="0.000" stop-color="#d3bb58"/><stop offset="0.016" stop-color="#fbbc41"/><stop offset="0.031" stop-color="#f8d727"/><stop offset="0.046" stop-color="#f9fa0e"/><stop offset="0.047" stop-color="#f9fb0e"/><stop offset="0.047" stop-color="#352a87"/><stop offset="0.115" stop-color="#294cc9"/><stop offset="0.185" stop-color="#066fdf"/><stop offset="0.254" stop-color="#1484d4"/><stop offset="0.307" stop-color="#0badbc"/><stop offset="0.360" stop-color="#6ebf82"/><stop offset="0.413" stop-color="#d3bb58"/><stop offset="0.423" stop-color="#fbbc41"/><stop offset="0.432" stop-color="#f8d727"/><stop offset="0.441" stop-color="#f9fa0e"/><stop offset="0.441" stop-color="#f9fb0e"/><stop offset="0.441" stop-color="#352a87"/><stop offset="0.463" stop-color="#137ed7"/><stop offset="0.485" stop-color="#19b2b1"/><stop offset="0.507" stop-color="#adbe68"/><stop offset="0.568" stop-color="#d4bb58"/><stop offset="0.629" stop-color="#f9bb43"/><stop offset="0.691" stop-color="#fad12b"/><stop offset="0.691" stop-color="#38b99e"/><stop offset="1.000" stop-color="#38b99e"/></linearGradient><linearGradient id="i271" gradientUnits="userSpaceOnUse" x2="1"><stop offset="0.000" stop-color="#38b99e"/><stop offset="0.000" stop-color="#d3bb58"/><stop offset="0.019" stop-color="#fbbc41"/><stop offset="0.039" stop-color="#f8d727"/><stop offset="0.058" stop-color="#f9fa0e"/><stop offset="0.059" stop-color="#f9fb0e"/><stop offset="0.059" stop-color="#352a87"/><stop offset="0.134" stop-color="#294cc9"/><stop offset="0.210" stop-color="#066fdf"/><stop offset="0.286" stop-color="#1484d4"/><stop offset="0.335" stop-color="#0badbc"/><stop offset="0.383" stop-color="#6ebf82"/><stop offset="0.431" stop-color="#d3bb58"/><stop offset="0.442" stop-color="#fbbc41"/><stop offset="0.454" stop-color="#f8d727"/><stop offset="0.465" stop-color="#f9fa0e"/><stop offset="0.465" stop-color="#f9fb0e"/><stop offset="0.465" stop-color="#352a87"/><stop offset="0.492" stop-color="#137ed7"/><stop offset="0.519" stop-color="#19b2b1"/><stop offset="0.545" stop-color="#adbe68"/><stop offset="0.596" stop-color="#d4bb58"/><stop offset="0.647" stop-color="#f9bb43"/><stop offset="0.698" stop-color="#fad12b"/><stop offset="0.698" stop-color="#38b99e"/><stop offset="1.000" stop-color="#38b99e"/></linearGradient><linearGradient id="i272" gradientUnits="userSpaceOnUse" x2="1"><stop offset="0.000" stop-color="#38b99e"/><stop offset="0.000" stop-color="#d3bb58"/><stop offset="0.024" stop-color="#fbbc41"/><stop offset="0.049" stop-color="#f8d727"/><stop offset="0.073" stop-color="#f9fa0e"/><stop offset="0.074" stop-color="#f9fb0e"/><stop offset="0.074" stop-color="#352a87"/><stop offset="0.156" stop-color="#294cc9"/><stop offset="0.239" stop-color="#066fdf"/><stop offset="0.322" stop-color="#1484d4"/><stop offset="0.365" stop-color="#0badbc"/><stop offset="0.408" stop-color="#6ebf82"/><stop offset="0.451" stop-color="#d3bb58"/><stop offset="0.465" stop-color="#fbbc41"/><stop offset="0.479" stop-color="#f8d727"/><stop offset="0.493" stop-color="#f9fa0e"/><stop offset="0.493" stop-color="#f9fb0e"/><stop offset="0.493" stop-color="#352a87"/><stop offset="0.526" stop-color="#137ed7"/><stop offset="0.558" stop-color="#19b2b1"/><stop offset="0.591" stop-color="#adbe68"/><stop offset="0.630" stop-color="#d4bb58"/><stop offset="0.669" stop-color="#f9bb43"/><stop offset="0.709" stop-color="#fad12b"/><stop offset="0.709" stop-color="#38b99e"/><stop offset="1.000" stop-color="#38b99e"/></linearGradient><linearGradient id="i273" gradientUnits="userSpaceOnUse" x2="1"><stop offset="0.000" stop-color="#38b99e"/><stop offset="0.005" stop-color="#38b99e"/><stop offset="0.005" stop-color="#d3bb58"/><stop offset="0.035" stop-color="#fbbc41"/><stop offset="0.066" stop-color="#f8d727"/><stop offset="0.096" stop-color="#f9fa0e"/><stop offset="0.097" stop-color="#f9fb0e"/><stop offset="0.097" stop-color="#352a87"/><stop offset="0.181" stop-color="#294cc9"/><stop offset="0.267" stop-color="#066fdf"/><stop offset="0.352" stop-color="#1484d4"/><stop offset="0.392" stop-color="#0badbc"/><stop offset="0.432" stop-color="#6ebf82"/><stop offset="0.473" stop-color="#d3bb58"/><stop offset="0.488" stop-color="#fbbc41"/><stop offset="0.503" stop-color="#f8d727"/><stop offset="0.518" stop-color="#f9fa0e"/><stop offset="0.518" stop-color="#f9fb0e"/><stop offset="0.518" stop-color="#352a87"/><stop offset="0.553" stop-color="#137ed7"/><stop offset="0.588" stop-color="#19b2b1"/><stop offset="0.624" stop-color="#adbe68"/><stop offset="0.654" stop-color="#d4bb58"/><stop offset="0.684" stop-color="#f9bb43"/><stop offset="0.714" stop-color="#fad12b"/><stop offset="0.714" stop-color="#38b99e"/><stop offset="1.000" stop-color="#38b99e"/></linearGradient><linearGradient id="i274" gradientUnits="userSpaceOnUse" x2="1"><stop offset="0.000" stop-color="#38b99e"/><stop offset="0.021" stop-color="#38b99e"/><stop offset="0.021" stop-color="#d3bb58"/><stop offset="0.060" stop-color="#fbbc41"/><stop offset="0.099" stop-color="#f8d727"/><stop offset="0.138" stop-color="#f9fa0e"/><stop offset="0.138" stop-color="#f9fb0e"/><stop offset="0.138" stop-color="#352a87"/><stop offset="0.215" stop-color="#294cc9"/><stop offset="0.293" stop-color="#066fdf"/><stop offset="0.370" stop-color="#1484d4"/><stop offset="0.412" stop-color="#0badbc"/><stop offset="0.454" stop-color="#6ebf82"/><stop offset="0.496" stop-color="#d3bb58"/><stop offset="0.509" stop-color="#fbbc41"/><stop offset="0.522" stop-color="#f8d727"/><stop offset="0.534" stop-color="#f9fa0e"/><stop offset="0.535" stop-color="#f9fb0e"/><stop offset="0.535" stop-color="#352a87"/><stop offset="0.564" stop-color="#137ed7"/><stop offset="0.594" stop-color="#19b2b1"/><stop offset="0.624" stop-color="#adbe68"/><stop offset="0.652" stop-color="#d4bb58"/><stop offset="0.680" stop-color="#f9bb43"/><stop offset="0.708" stop-color="#fad12b"/><stop offset="0.708" stop-color="#38b99e"/><stop offset="1.000" stop-color="#38b99e"/></linearGradient><linearGradient id="i275" gradientUnits="userSpaceOnUse" x2="1"><stop offset="0.000" stop-color="#38b99e"/><stop offset="0.041" stop-color="#38b99e"/><stop offset="0.041" stop-color="#d3bb58"/><stop offset="0.087" stop-color="#fbbc41"/><stop offset="0.133" stop-color="#f8d727"/><stop offset="0.180" stop-color="#f9fa0e"/><stop offset="0.181" stop-color="#f9fb0e"/><stop offset="0.181" stop-color="#352a87"/><stop offset="0.249" stop-color="#294cc9"/><stop offset="0.318" stop-color="#066fdf"/><stop offset="0.387" stop-color="#1484d4"/><stop offset="0.431" stop-color="#0badbc"/><stop offset="0.474" stop-color="#6ebf82"/><stop offset="0.518" stop-color="#d3bb58"/><stop offset="0.528" stop-color="#fbbc41"/><stop offset="0.539" stop-color="#f8d727"/><stop offset="0.550" stop-color="#f9fa0e"/><stop offset="0.550" stop-color="#f9fb0e"/><stop offset="0.550" stop-color="#352a87"/><stop offset="0.575" stop-color="#137ed7"/><stop offset="0.600" stop-color="#19b2b1"/><stop offset="0.625" stop-color="#adbe68"/><stop offset="0.651" stop-color="#d4bb58"/><stop offset="0.677" stop-color="#f9bb43"/><stop offset="0.703" stop-color="#fad12b"/><stop offset="0.703" stop-color="#38b99e"/><stop offset="1.000" stop-color="#38b99e"/></linearGradient><linearGradient id="i276" gradientUnits="userSpaceOnUse" x2="1"><stop offset="0.000" stop-color="#38b99e"/><stop offset="0.098" stop-color="#38b99e"/><stop offset="0.098" stop-color="#d3bb58"/><stop offset="0.143" stop-color="#fbbc41"/><stop offset="0.188" stop-color="#f8d727"/><stop offset="0.233" stop-color="#f9fa0e"/><stop offset="0.234" stop-color="#f9fb0e"/><stop offset="0.234" stop-color="#352a87"/><stop offset="0.287" stop-color="#294cc9"/><stop offset="0.342" stop-color="#066fdf"/><stop offset="0.396" stop-color="#1484d4"/><stop offset="0.432" stop-color="#0badbc"/><stop offset="0.469" stop-color="#6ebf82"/><stop offset="0.506" stop-color="#d3bb58"/><stop offset="0.519" stop-color="#fbbc41"/><stop offset="0.533" stop-color="#f8d727"/><stop offset="0.547" stop-color="#f9fa0e"/><stop offset="0.547" stop-color="#f9fb0e"/><stop offset="0.547" stop-color="#352a87"/><stop offset="0.579" stop-color="#137ed7"/><stop offset="0.611" stop-color="#19b2b1"/><stop offset="0.643" stop-color="#adbe68"/><stop offset="0.667" stop-color="#d4bb58"/><stop offset="0.691" stop-color="#f9bb43"/><stop offset="0.715" stop-color="#fad12b"/><stop offset="0.715" stop-color="#38b99e"/><stop offset="1.000" stop-color="#38b99e"/></linearGradient><linearGradient id="i277" gradientUnits="userSpaceOnUse" x2="1"><stop offset="0.000" stop-color="#38b99e"/><stop offset="0.155" stop-color="#38b99e"/><stop offset="0.155" stop-color="#d3bb58"/><stop offset="0.199" stop-color="#fbbc41"/><stop offset="0.243" stop-color="#f8d727"/><stop offset="0.287" stop-color="#f9fa0e"/><stop offset="0.287" stop-color="#f9fb0e"/><stop offset="0.287" stop-color="#352a87"/><stop offset="0.326" stop-color="#294cc9"/><stop offset="0.365" stop-color="#066fdf"/><stop offset="0.404" stop-color="#1484d4"/><stop offset="0.434" stop-color="#0badbc"/><stop offset="0.464" stop-color="#6ebf82"/><stop offset="0.494" stop-color="#d3bb58"/><stop offset="0.511" stop-color="#fbbc41"/><stop offset="0.527" stop-color="#f8d727"/><stop offset="0.544" stop-color="#f9fa0e"/><stop offset="0.544" stop-color="#f9fb0e"/><stop offset="0.544" stop-color="#352a87"/><stop offset="0.583" stop-color="#137ed7"/><stop offset="0.622" stop-color="#19b2b1"/><stop offset="0.660" stop-color="#adbe68"/><stop offset="0.683" stop-color="#d4bb58"/><stop offset="0.705" stop-color="#f9bb43"/><stop offset="0.727" stop-color="#fad12b"/><stop offset="0.727" stop-color="#38b99e"/><stop offset="1.000" stop-color="#38b99e"/></linearGradient><linearGradient id="i278" gradientUnits="userSpaceOnUse" x2="1"><stop offset="0.000" stop-color="#38b99e"/><stop offset="0.185" stop-color="#38b99e"/><stop offset="0.185" stop-color="#d3bb58"/><stop offset="0.225" stop-color="#fbbc41"/><stop offset="0.265" stop-color="#f8d727"/><stop offset="0.305" stop-color="#f9fa0e"/><stop offset="0.305" stop-color="#f9fb0e"/><stop offset="0.305" stop-color="#352a87"/><stop offset="0.334" stop-color="#294cc9"/><stop offset="0.364" stop-color="#066fdf"/><stop offset="0.393" stop-color="#1484d4"/><stop offset="0.421" stop-color="#0badbc"/><stop offset="0.449" stop-color="#6ebf82"/><stop offset="0.477" stop-color="#d3bb58"/><stop offset="0.498" stop-color="#fbbc41"/><stop offset="0.518" stop-color="#f8d727"/><stop offset="0.539" stop-color="#f9fa0e"/><stop offset="0.539" stop-color="#f9fb0e"/><stop offset="0.539" stop-color="#352a87"/><stop offset="0.587" stop-color="#137ed7"/><stop offset="0.635" stop-color="#19b2b1"/><stop offset="0.683" stop-color="#adbe68"/><stop offset="0.706" stop-color="#d4bb58"/><stop offset="0.730" stop-color="#f9bb43"/><stop offset="0.753" stop-color="#fad12b"/><stop offset="0.753" stop-color="#38b99e"/><stop offset="1.000" stop-color="#38b99e"/></linearGradient><linearGradient id="i279" gradientUnits="userSpaceOnUse" x2="1"><stop offset="0.000" stop-color="#38b99e"/><stop offset="0.210" stop-color="#38b99e"/><stop offset="0.210" stop-color="#d3bb58"/><stop offset="0.245" stop-color="#fbbc41"/><stop offset="0.281" stop-color="#f8d727"/><stop offset="0.316" stop-color="#f9fa0e"/><stop offset="0.316" stop-color="#f9fb0e"/><stop offset="0.316" stop-color="#352a87"/><stop offset="0.337" stop-color="#294cc9"/><stop offset="0.358" stop-color="#066fdf"/><stop offset="0.380" stop-color="#1484d4"/><stop offset="0.406" stop-color="#0badbc"/><stop offset="0.433" stop-color="#6ebf82"/><stop offset="0.460" stop-color="#d3bb58"/><stop offset="0.485" stop-color="#fbbc41"/><stop offset="0.509" stop-color="#f8d727"/><stop offset="0.534" stop-color="#f9fa0e"/><stop offset="0.534" stop-color="#f9fb0e"/><stop offset="0.534" stop-color="#352a87"/><stop offset="0.591" stop-color="#137ed7"/><stop offset="0.649" stop-color="#19b2b1"/><stop offset="0.706" stop-color="#adbe68"/><stop offset="0.731" stop-color="#d4bb58"/><stop offset="0.757" stop-color="#f9bb43"/><stop offset="0.782" stop-color="#fad12b"/><stop offset="0.782" stop-color="#38b99e"/><stop offset="1.000" stop-color="#38b99e"/></linearGradient><linearGradient id="i280" gradientUnits="userSpaceOnUse" x2="1"><stop offset="0.000" stop-color="#38b99e"/><stop offset="0.201" stop-color="#38b99e"/><stop offset="0.201" stop-color="#d3bb58"/><stop offset="0.230" stop-color="#fbbc41"/><stop offset="0.260" stop-color="#f8d727"/><stop offset="0.289" stop-color="#f9fa0e"/><stop offset="0.289" stop-color="#f9fb0e"/><stop offset="0.289" stop-color="#352a87"/><stop offset="0.313" stop-color="#294cc9"/><stop offset="0.337" stop-color="#066fdf"/><stop offset="0.362" stop-color="#1484d4"/><stop offset="0.391" stop-color="#0badbc"/><stop offset="0.420" stop-color="#6ebf82"/><stop offset="0.449" stop-color="#d3bb58"/><stop offset="0.478" stop-color="#fbbc41"/><stop offset="0.506" stop-color="#f8d727"/><stop offset="0.534" stop-color="#f9fa0e"/><stop offset="0.535" stop-color="#f9fb0e"/><stop offset="0.535" stop-color="#352a87"/><stop offset="0.600" stop-color="#137ed7"/><stop offset="0.667" stop-color="#19b2b1"/><stop offset="0.733" stop-color="#adbe68"/><stop offset="0.757" stop-color="#d4bb58"/><stop offset="0.781" stop-color="#f9bb43"/><stop offset="0.805" stop-color="#fad12b"/><stop offset="0.805" stop-color="#38b99e"/><stop offset="1.000" stop-color="#38b99e"/></linearGradient><linearGradient id="i281" gradientUnits="userSpaceOnUse" x2="1"><stop offset="0.000" stop-color="#38b99e"/><stop offset="0.167" stop-color="#38b99e"/><stop offset="0.167" stop-color="#d3bb58"/><stop offset="0.189" stop-color="#fbbc41"/><stop offset="0.210" stop-color="#f8d727"/><stop offset="0.232" stop-color="#f9fa0e"/><stop offset="0.232" stop-color="#f9fb0e"/><stop offset="0.232" stop-color="#352a87"/><stop offset="0.268" stop-color="#294cc9"/><stop offset="0.304" stop-color="#066fdf"/><stop offset="0.340" stop-color="#1484d4"/><stop offset="0.375" stop-color="#0badbc"/><stop offset="0.409" stop-color="#6ebf82"/><stop offset="0.443" stop-color="#d3bb58"/><stop offset="0.475" stop-color="#fbbc41"/><stop offset="0.507" stop-color="#f8d727"/><stop offset="0.539" stop-color="#f9fa0e"/><stop offset="0.539" stop-color="#f9fb0e"/><stop offset="0.539" stop-color="#352a87"/><stop offset="0.613" stop-color="#137ed7"/><stop offset="0.688" stop-color="#19b2b1"/><stop offset="0.762" stop-color="#adbe68"/><stop offset="0.782" stop-color="#d4bb58"/><stop offset="0.803" stop-color="#f9bb43"/><stop offset="0.823" stop-color="#fad12b"/><stop offset="0.823" stop-color="#38b99e"/><stop offset="1.000" stop-color="#38b99e"/></linearGradient><linearGradient id="i282" gradientUnits="userSpaceOnUse" x2="1"><stop offset="0.000" stop-color="#38b99e"/><stop offset="0.148" stop-color="#38b99e"/><stop offset="0.148" stop-color="#d3bb58"/><stop offset="0.164" stop-color="#fbbc41"/><stop offset="0.181" stop-color="#f8d727"/><stop offset="0.198" stop-color="#f9fa0e"/><stop offset="0.199" stop-color="#f9fb0e"/><stop offset="0.199" stop-color="#352a87"/><stop offset="0.240" stop-color="#294cc9"/><stop offset="0.282" stop-color="#066fdf"/><stop offset="0.323" stop-color="#1484d4"/><stop offset="0.361" stop-color="#0badbc"/><stop offset="0.399" stop-color="#6ebf82"/><stop offset="0.437" stop-color="#d3bb58"/><stop offset="0.472" stop-color="#fbbc41"/><stop offset="0.507" stop-color="#f8d727"/><stop offset="0.543" stop-color="#f9fa0e"/><stop offset="0.543" stop-color="#f9fb0e"/><stop offset="0.543" stop-color="#352a87"/><stop offset="0.624" stop-color="#137ed7"/><stop offset="0.706" stop-color="#19b2b1"/><stop offset="0.788" stop-color="#adbe68"/><stop offset="0.805" stop-color="#d4bb58"/><stop offset="0.823" stop-color="#f9bb43"/><stop offset="0.841" stop-color="#fad12b"/><stop offset="0.841" stop-color="#38b99e"/><stop offset="1.000" stop-color="#38b99e"/></linearGradient><linearGradient id="i283" gradientUnits="userSpaceOnUse" x2="1"><stop offset="0.000" stop-color="#38b99e"/><stop offset="0.156" stop-color="#38b99e"/><stop offset="0.156" stop-color="#d3bb58"/><stop offset="0.173" stop-color="#fbbc41"/><stop offset="0.190" stop-color="#f8d727"/><stop offset="0.208" stop-color="#f9fa0e"/><stop offset="0.208" stop-color="#f9fb0e"/><stop offset="0.208" stop-color="#352a87"/><stop offset="0.243" stop-color="#294cc9"/><stop offset="0.279" stop-color="#066fdf"/><stop offset="0.315" stop-color="#1484d4"/><stop offset="0.354" stop-color="#0badbc"/><stop offset="0.393" stop-color="#6ebf82"/><stop offset="0.431" stop-color="#d3bb58"/><stop offset="0.469" stop-color="#fbbc41"/><stop offset="0.506" stop-color="#f8d727"/><stop offset="0.544" stop-color="#f9fa0e"/><stop offset="0.544" stop-color="#f9fb0e"/><stop offset="0.544" stop-color="#352a87"/><stop offset="0.631" stop-color="#137ed7"/><stop offset="0.718" stop-color="#19b2b1"/><stop offset="0.806" stop-color="#adbe68"/><stop offset="0.823" stop-color="#d4bb58"/><stop offset="0.841" stop-color="#f9bb43"/><stop offset="0.858" stop-color="#fad12b"/><stop offset="0.858" stop-color="#38b99e"/><stop offset="1.000" stop-color="#38b99e"/></linearGradient><linearGradient id="i284" gradientUnits="userSpaceOnUse" x2="1"><stop offset="0.000" stop-color="#38b99e"/><stop offset="0.165" stop-color="#38b99e"/><stop offset="0.165" stop-color="#d3bb58"/><stop offset="0.182" stop-color="#fbbc41"/><stop offset="0.199" stop-color="#f8d727"/><stop offset="0.217" stop-color="#f9fa0e"/><stop offset="0.217" stop-color="#f9fb0e"/><stop offset="0.217" stop-color="#352a87"/><stop offset="0.247" stop-color="#294cc9"/><stop offset="0.277" stop-color="#066fdf"/><stop offset="0.308" stop-color="#1484d4"/><stop offset="0.347" stop-color="#0badbc"/><stop offset="0.386" stop-color="#6ebf82"/><stop offset="0.426" stop-color="#d3bb58"/><stop offset="0.465" stop-color="#fbbc41"/><stop offset="0.505" stop-color="#f8d727"/><stop offset="0.545" stop-color="#f9fa0e"/><stop offset="0.545" stop-color="#f9fb0e"/><stop offset="0.545" stop-color="#352a87"/><stop offset="0.638" stop-color="#137ed7"/><stop offset="0.731" stop-color="#19b2b1"/><stop offset="0.823" stop-color="#adbe68"/><stop offset="0.841" stop-color="#d4bb58"/><stop offset="0.858" stop-color="#f9bb43"/><stop offset="0.875" stop-color="#fad12b"/><stop offset="0.875" stop-color="#38b99e"/><stop offset="1.000" stop-color="#38b99e"/></linearGradient><linearGradient id="i285" gradientUnits="userSpaceOnUse" x2="1"><stop offset="0.000" stop-color="#38b99e"/><stop offset="0.177" stop-color="#38b99e"/><stop offset="0.177" stop-color="#d3bb58"/><stop offset="0.192" stop-color="#fbbc41"/><stop offset="0.207" stop-color="#f8d727"/><stop offset="0.223" stop-color="#f9fa0e"/><stop offset="0.223" stop-color="#f9fb0e"/><stop offset="0.223" stop-color="#352a87"/><stop offset="0.251" stop-color="#294cc9"/><stop offset="0.279" stop-color="#066fdf"/><stop offset="0.308" stop-color="#1484d4"/><stop offset="0.345" stop-color="#0badbc"/><stop offset="0.382" stop-color="#6ebf82"/><stop offset="0.420" stop-color="#d3bb58"/><stop offset="0.462" stop-color="#fbbc41"/><stop offset="0.504" stop-color="#f8d727"/><stop offset="0.546" stop-color="#f9fa0e"/><stop offset="0.547" stop-color="#f9fb0e"/><stop offset="0.547" stop-color="#352a87"/><stop offset="0.644" stop-color="#137ed7"/><stop offset="0.743" stop-color="#19b2b1"/><stop offset="0.841" stop-color="#adbe68"/><stop offset="0.857" stop-color="#d4bb58"/><stop offset="0.872" stop-color="#f9bb43"/><stop offset="0.887" stop-color="#fad12b"/><stop offset="0.887" stop-color="#38b99e"/><stop offset="1.000" stop-color="#38b99e"/></linearGradient><linearGradient id="i286" gradientUnits="userSpaceOnUse" x2="1"><stop offset="0.000" stop-color="#38b99e"/><stop offset="0.189" stop-color="#38b99e"/><stop offset="0.189" stop-color="#d3bb58"/><stop offset="0.202" stop-color="#fbbc41"/><stop offset="0.215" stop-color="#f8d727"/><stop offset="0.228" stop-color="#f9fa0e"/><stop offset="0.229" stop-color="#f9fb0e"/><stop offset="0.229" stop-color="#352a87"/><stop offset="0.255" stop-color="#294cc9"/><stop offset="0.281" stop-color="#066fdf"/><stop offset="0.308" stop-color="#1484d4"/><stop offset="0.343" stop-color="#0badbc"/><stop offset="0.378" stop-color="#6ebf82"/><stop offset="0.414" stop-color="#d3bb58"/><stop offset="0.458" stop-color="#fbbc41"/><stop offset="0.503" stop-color="#f8d727"/><stop offset="0.547" stop-color="#f9fa0e"/><stop offset="0.548" stop-color="#f9fb0e"/><stop offset="0.548" stop-color="#352a87"/><stop offset="0.651" stop-color="#137ed7"/><stop offset="0.755" stop-color="#19b2b1"/><stop offset="0.859" stop-color="#adbe68"/><stop offset="0.872" stop-color="#d4bb58"/><stop offset="0.886" stop-color="#f9bb43"/><stop offset="0.899" stop-color="#fad12b"/><stop offset="0.899" stop-color="#38b99e"/><stop offset="1.000" stop-color="#38b99e"/></linearGradient><linearGradient id="i287" gradientUnits="userSpaceOnUse" x2="1"><stop offset="0.000" stop-color="#38b99e"/><stop offset="0.197" stop-color="#38b99e"/><stop offset="0.197" stop-color="#d3bb58"/><stop offset="0.208" stop-color="#fbbc41"/><stop offset="0.220" stop-color="#f8d727"/><stop offset="0.231" stop-color="#f9fa0e"/><stop offset="0.231" stop-color="#f9fb0e"/><stop offset="0.231" stop-color="#352a87"/><stop offset="0.257" stop-color="#294cc9"/><stop offset="0.282" stop-color="#066fdf"/><stop offset="0.308" stop-color="#1484d4"/><stop offset="0.344" stop-color="#0badbc"/><stop offset="0.380" stop-color="#6ebf82"/><stop offset="0.417" stop-color="#d3bb58"/><stop offset="0.462" stop-color="#fbbc41"/><stop offset="0.507" stop-color="#f8d727"/><stop offset="0.552" stop-color="#f9fa0e"/><stop offset="0.552" stop-color="#f9fb0e"/><stop offset="0.552" stop-color="#352a87"/><stop offset="0.657" stop-color="#137ed7"/><stop offset="0.762" stop-color="#19b2b1"/><stop offset="0.868" stop-color="#adbe68"/><stop offset="0.880" stop-color="#d4bb58"/><stop offset="0.893" stop-color="#f9bb43"/><stop offset="0.906" stop-color="#fad12b"/><stop offset="0.906" stop-color="#38b99e"/><stop offset="1.000" stop-color="#38b99e"/></linearGradient><linearGradient id="i288" gradientUnits="userSpaceOnUse" x2="1"><stop offset="0.000" stop-color="#38b99e"/><stop offset="0.204" stop-color="#38b99e"/><stop offset="0.204" stop-color="#d3bb58"/><stop offset="0.214" stop-color="#fbbc41"/><stop offset="0.224" stop-color="#f8d727"/><stop offset="0.233" stop-color="#f9fa0e"/><stop offset="0.234" stop-color="#f9fb0e"/><stop offset="0.234" stop-color="#352a87"/><stop offset="0.258" stop-color="#294cc9"/><stop offset="0.283" stop-color="#066fdf"/><stop offset="0.308" stop-color="#1484d4"/><stop offset="0.345" stop-color="#0badbc"/><stop offset="0.383" stop-color="#6ebf82"/><stop offset="0.421" stop-color="#d3bb58"/><stop offset="0.466" stop-color="#fbbc41"/><stop offset="0.511" stop-color="#f8d727"/><stop offset="0.557" stop-color="#f9fa0e"/><stop offset="0.557" stop-color="#f9fb0e"/><stop offset="0.557" stop-color="#352a87"/><stop offset="0.663" stop-color="#137ed7"/><stop offset="0.769" stop-color="#19b2b1"/><stop offset="0.875" stop-color="#adbe68"/><stop offset="0.887" stop-color="#d4bb58"/><stop offset="0.900" stop-color="#f9bb43"/><stop offset="0.912" stop-color="#fad12b"/><stop offset="0.912" stop-color="#38b99e"/><stop offset="1.000" stop-color="#38b99e"/></linearGradient><linearGradient id="i289" gradientUnits="userSpaceOnUse" x2="1"><stop offset="0.000" stop-color="#38b99e"/><stop offset="0.212" stop-color="#38b99e"/><stop offset="0.212" stop-color="#d3bb58"/><stop offset="0.220" stop-color="#fbbc41"/><stop offset="0.228" stop-color="#f8d727"/><stop offset="0.236" stop-color="#f9fa0e"/><stop offset="0.236" stop-color="#f9fb0e"/><stop offset="0.236" stop-color="#352a87"/><stop offset="0.260" stop-color="#294cc9"/><stop offset="0.284" stop-color="#066fdf"/><stop offset="0.308" stop-color="#1484d4"/><stop offset="0.347" stop-color="#0badbc"/><stop offset="0.386" stop-color="#6ebf82"/><stop offset="0.424" stop-color="#d3bb58"/><stop offset="0.470" stop-color="#fbbc41"/><stop offset="0.516" stop-color="#f8d727"/><stop offset="0.562" stop-color="#f9fa0e"/><stop offset="0.562" stop-color="#f9fb0e"/><stop offset="0.562" stop-color="#352a87"/><stop offset="0.669" stop-color="#137ed7"/><stop offset="0.776" stop-color="#19b2b1"/><stop offset="0.883" stop-color="#adbe68"/><stop offset="0.895" stop-color="#d4bb58"/><stop offset="0.906" stop-color="#f9bb43"/><stop offset="0.918" stop-color="#fad12b"/><stop offset="0.918" stop-color="#38b99e"/><stop offset="1.000" stop-color="#38b99e"/></linearGradient></defs><rect x="-0.1" y="-0.0500" width="1.2" height="0.0781" fill="url(#i233)"/><rect x="-0.1" y="0.0175" width="1.2" height="0.0281" fill="url(#i234)"/><rect x="-0.1" y="0.0351" width="1.2" height="0.0281" fill="url(#i235)"/><rect x="-0.1" y="0.0526" width="1.2" height="0.0281" fill="url(#i236)"/><rect x="-0.1" y="0.0702" width="1.2" height="0.0281" fill="url(#i237)"/><rect x="-0.1" y="0.0877" width="1.2" height="0.0281" fill="url(#i238)"/><rect x="-0.1" y="0.1053" width="1.2" height="0.0281" fill="url(#i239)"/><rect x="-0.1" y="0.1228" width="1.2" height="0.0281" fill="url(#i240)"/><rect x="-0.1" y="0.1404" width="1.2" height="0.0281" fill="url(#i241)"/><rect x="-0.1" y="0.1579" width="1.2" height="0.0281" fill="url(#i242)"/><rect x="-0.1" y="0.1754" width="1.2" height="0.0281" fill="url(#i243)"/><rect x="-0.1" y="0.1930" width="1.2" height="0.0281" fill="url(#i244)"/><rect x="-0.1" y="0.2105" width="1.2" height="0.0281" fill="url(#i245)"/><rect x="-0.1" y="0.2281" width="1.2" height="0.0281" fill="url(#i246)"/><rect x="-0.1" y="0.2456" width="1.2" height="0.0281" fill="url(#i247)"/><rect x="-0.1" y="0.2632" width="1.2" height="0.0281" fill="url(#i248)"/><rect x="-0.1" y="0.2807" width="1.2" height="0.0281" fill="url(#i249)"/><rect x="-0.1" y="0.2982" width="1.2" height="0.0281" fill="url(#i250)"/><rect x="-0.1" y="0.3158" width="1.2" height="0.0281" fill="url(#i251)"/><rect x="-0.1" y="0.3333" width="1.2" height="0.0281" fill="url(#i252)"/><rect x="-0.1" y="0.3509" width="1.2" height="0.0281" fill="url(#i253)"/><rect x="-0.1" y="0.3684" width="1.2" height="0.0281" fill="url(#i254)"/><rect x="-0.1" y="0.3860" width="1.2" height="0.0281" fill="url(#i255)"/><rect x="-0.1" y="0.4035" width="1.2" height="0.0281" fill="url(#i256)"/><rect x="-0.1" y="0.4211" width="1.2" height="0.0281" fill="url(#i257)"/><rect x="-0.1" y="0.4386" width="1.2" height="0.0281" fill="url(#i258)"/><rect x="-0.1" y="0.4561" width="1.2" height="0.0281" fill="url(#i259)"/><rect x="-0.1" y="0.4737" width="1.2" height="0.0281" fill="url(#i260)"/><rect x="-0.1" y="0.4912" width="1.2" height="0.0281" fill="url(#i261)"/><rect x="-0.1" y="0.5088" width="1.2" height="0.0281" fill="url(#i262)"/><rect x="-0.1" y="0.5263" width="1.2" height="0.0281" fill="url(#i263)"/><rect x="-0.1" y="0.5439" width="1.2" height="0.0281" fill="url(#i264)"/><rect x="-0.1" y="0.5614" width="1.2" height="0.0281" fill="url(#i265)"/><rect x="-0.1" y="0.5789" width="1.2" height="0.0281" fill="url(#i266)"/><rect x="-0.1" y="0.5965" width="1.2" height="0.0281" fill="url(#i267)"/><rect x="-0.1" y="0.6140" width="1.2" height="0.0281" fill="url(#i268)"/><rect x="-0.1" y="0.6316" width="1.2" height="0.0281" fill="url(#i269)"/><rect x="-0.1" y="0.6491" width="1.2" height="0.0281" fill="url(#i270)"/><rect x="-0.1" y="0.6667" width="1.2" height="0.0281" fill="url(#i271)"/><rect x="-0.1" y="0.6842" width="1.2" height="0.0281" fill="url(#i272)"/><rect x="-0.1" y="0.7018" width="1.2" height="0.0281" fill="url(#i273)"/><rect x="-0.1" y="0.7193" width="1.2" height="0.0281" fill="url(#i274)"/><rect x="-0.1" y="0.7368" width="1.2" height="0.0281" fill="url(#i275)"/><rect x="-0.1" y="0.7544" width="1.2" height="0.0281" fill="url(#i276)"/><rect x="-0.1" y="0.7719" width="1.2" height="0.0281" fill="url(#i277)"/><rect x="-0.1" y="0.7895" width="1.2" height="0.0281" fill="url(#i278)"/><rect x="-0.1" y="0.8070" width="1.2" height="0.0281" fill="url(#i279)"/><rect x="-0.1" y="0.8246" width="1.2" height="0.0281" fill="url(#i280)"/><rect x="-0.1" y="0.8421" width="1.2" height="0.0281" fill="url(#i281)"/><rect x="-0.1" y="0.8596" width="1.2" height="0.0281" fill="url(#i282)"/><rect x="-0.1" y="0.8772" width="1.2" height="0.0281" fill="url(#i283)"/><rect x="-0.1" y="0.8947" width="1.2" height="0.0281" fill="url(#i284)"/><rect x="-0.1" y="0.9123" width="1.2" height="0.0281" fill="url(#i285)"/><rect x="-0.1" y="0.9298" width="1.2" height="0.0281" fill="url(#i286)"/><rect x="-0.1" y="0.9474" width="1.2" height="0.0281" fill="url(#i287)"/><rect x="-0.1" y="0.9649" width="1.2" height="0.0281" fill="url(#i288)"/><rect x="-0.1" y="0.9825" width="1.2" height="0.0675" fill="url(#i289)"/></g></g></g>
<rect x="349.50" y="145.50" width="44.50" height="83.70" fill="none" stroke="#262626" stroke-width="0.5"/>
<path d="M363.40 229.20v-1.00M363.40 145.50v1.00M377.40 229.20v-1.00M377.40 145.50v1.00M392.40 229.20v-1.00M392.40 145.50v1.00M349.50 163.90h1.00M394.00 163.90h-1.00M349.50 182.00h1.00M394.00 182.00h-1.00M349.50 200.20h1.00M394.00 200.20h-1.00M349.50 218.80h1.00M394.00 218.80h-1.00" stroke="#262626" stroke-width="0.5" fill="none"/>
<text stroke="#262626" stroke-width="0.22" x="346.40" y="166.47" text-anchor="end" font-size="6.40">100</text>
<text stroke="#262626" stroke-width="0.22" x="346.40" y="184.57" text-anchor="end" font-size="6.40">200</text>
<text stroke="#262626" stroke-width="0.22" x="346.40" y="202.77" text-anchor="end" font-size="6.40">300</text>
<text stroke="#262626" stroke-width="0.22" x="346.40" y="221.37" text-anchor="end" font-size="6.40">400</text>
<text stroke="#262626" stroke-width="0.22" x="363.40" y="239.67" text-anchor="middle" font-size="6.40">50</text>
<text stroke="#262626" stroke-width="0.22" x="377.40" y="239.67" text-anchor="middle" font-size="6.40">100</text>
<text stroke="#262626" stroke-width="0.22" x="392.40" y="239.67" text-anchor="middle" font-size="6.40">150</text>
<text stroke="#262626" stroke-width="0.22" x="371.30" y="250.64" text-anchor="middle" font-size="7.90">Range</text>
<text stroke="#262626" stroke-width="0.22" transform="translate(330.38 188.00) rotate(-90)" text-anchor="middle" font-size="7.90">Azimuth</text>
<rect x="404.10" y="145.60" width="6.40" height="82.60" fill="url(#par)" stroke="#262626" stroke-width="0.5"/>
<text stroke="#262626" stroke-width="0.22" x="413.20" y="152.60" font-size="6.20">6</text>
<text stroke="#262626" stroke-width="0.22" x="413.20" y="178.70" font-size="6.20">4</text>
<text stroke="#262626" stroke-width="0.22" x="413.20" y="204.70" font-size="6.20">2</text>
<text stroke="#262626" stroke-width="0.22" x="413.20" y="230.60" font-size="6.20">0</text>
<path d="M410.50 150.00h-0.8M410.50 176.10h-0.8M410.50 202.10h-0.8M410.50 228.00h-0.8" stroke="#262626" stroke-width="0.5" fill="none"/>
<text stroke="#262626" stroke-width="0.22" x="380.40" y="264.00" text-anchor="middle" class="pl" font-size="9.20">(i)</text>
<clipPath id="cj"><rect x="31.80" y="276.80" width="51.20" height="99.50"/></clipPath>
<g clip-path="url(#cj)"><g filter="url(#spk)"><g transform="translate(31.800 276.800) scale(51.2000 99.5000)"><rect x="-0.1" y="-0.1" width="1.2" height="1.2" fill="#38b99e"/><polygon points="0.0000,-0.0200 0.0316,0.0389 0.0711,0.0778 0.1368,0.1167 0.2289,0.1567 0.2684,0.1889 0.2553,0.2222 0.2026,0.2611 0.1684,0.3000 0.1263,0.3389 0.0526,0.3844 0.0368,0.4244 0.0579,0.4633 0.0158,0.5022 0.0237,0.5422 0.0421,0.5811 0.0053,0.6200 0.0000,0.6600 0.0000,0.7056 0.0368,0.7444 0.1632,0.7833 0.2211,0.8233 0.1447,0.8622 0.1632,0.9011 0.1895,0.9400 0.2158,1.0200 1.2,1.05 1.2,-0.05" fill="#1f6fe0"/><polygon points="0.0447,-0.0200 0.0789,0.0389 0.1237,0.0778 0.1895,0.1167 0.2816,0.1567 0.3211,0.1889 0.3079,0.2222 0.2816,0.2611 0.2684,0.3000 0.2368,0.3389 0.1526,0.3844 0.1079,0.4244 0.1263,0.4633 0.0842,0.5022 0.0816,0.5422 0.0921,0.5811 0.0737,0.6200 0.0447,0.6600 0.0842,0.7056 0.1763,0.7444 0.2947,0.7833 0.3211,0.8233 0.1947,0.8622 0.2158,0.9011 0.2289,0.9400 0.2368,1.0200 1.2,1.05 1.2,-0.05" fill="#d9b84f"/><polygon points="0.2421,-0.0200 0.2684,0.0389 0.2947,0.0778 0.3474,0.1167 0.4132,0.1567 0.3474,0.1889 0.3079,0.2222 0.3211,0.2611 0.3605,0.3000 0.3526,0.3389 0.3526,0.3844 0.2474,0.4244 0.2211,0.4633 0.1895,0.5022 0.2026,0.5422 0.2158,0.5811 0.2289,0.6200 0.2553,0.6600 0.3474,0.7056 0.3868,0.7444 0.4053,0.7833 0.3737,0.8233 0.3263,0.8622 0.3079,0.9011 0.3079,0.9400 0.3079,1.0200 1.2,1.05 1.2,-0.05" fill="#079ccf"/><polygon points="0.3211,-0.0200 0.4000,0.0389 0.4921,0.0778 0.5447,0.1167 0.4132,0.1567 0.3474,0.1889 0.3605,0.2222 0.4000,0.2611 0.4921,0.3000 0.5316,0.3389 0.4526,0.3844 0.4132,0.4244 0.3474,0.4633 0.3474,0.5022 0.3605,0.5422 0.4000,0.5811 0.4132,0.6200 0.4132,0.6600 0.4658,0.7056 0.5184,0.7444 0.4921,0.7833 0.4526,0.8233 0.4395,0.8622 0.4263,0.9011 0.4132,0.9400 0.4263,1.0200 1.2,1.05 1.2,-0.05" fill="#a3ba6c"/><polygon points="0.5447,-0.0200 0.5579,0.0389 0.6237,0.0778 0.6763,0.1167 0.7421,0.1567 0.7158,0.1889 0.6368,0.2222 0.5974,0.2611 0.6237,0.3000 0.6632,0.3389 0.7158,0.3844 0.7684,0.4244 0.6632,0.4633 0.6368,0.5022 0.5842,0.5422 0.5579,0.5811 0.5316,0.6200 0.5053,0.6600 0.6237,0.7056 0.6237,0.7444 0.6632,0.7833 0.7158,0.8233 0.7816,0.8622 0.8211,0.9011 0.8605,0.9400 0.8868,1.0200 1.2,1.05 1.2,-0.05" fill="#046de0"/><polygon points="0.7026,-0.0200 0.6500,0.0389 0.7158,0.0778 0.7684,0.1167 0.8605,0.1567 0.8605,0.1889 0.8079,0.2222 0.7158,0.2611 0.6895,0.3000 0.7158,0.3389 0.7947,0.3844 0.8474,0.4244 0.8211,0.4633 0.8079,0.5022 0.8211,0.5422 0.7684,0.5811 0.7158,0.6200 0.6895,0.6600 0.7158,0.7056 0.7026,0.7444 0.7289,0.7833 0.7947,0.8233 0.8342,0.8622 0.8737,0.9011 0.9000,0.9400 0.9211,1.0200 1.2,1.05 1.2,-0.05" fill="#38b99e"/></g></g></g>
<rect x="31.80" y="276.80" width="51.20" height="99.50" fill="none" stroke="#262626" stroke-width="0.5"/>
<path d="M48.00 376.30v-1.00M48.00 276.80v1.00M64.40 376.30v-1.00M64.40 276.80v1.00M80.30 376.30v-1.00M80.30 276.80v1.00M31.80 299.50h1.00M83.00 299.50h-1.00M31.80 321.30h1.00M83.00 321.30h-1.00M31.80 342.70h1.00M83.00 342.70h-1.00M31.80 364.30h1.00M83.00 364.30h-1.00" stroke="#262626" stroke-width="0.5" fill="none"/>
<text stroke="#262626" stroke-width="0.10" transform="translate(30.00 302.29) scale(0.760 1)" text-anchor="end" font-size="7.00">100</text>
<text stroke="#262626" stroke-width="0.10" transform="translate(30.00 324.09) scale(0.760 1)" text-anchor="end" font-size="7.00">200</text>
<text stroke="#262626" stroke-width="0.10" transform="translate(30.00 345.49) scale(0.760 1)" text-anchor="end" font-size="7.00">300</text>
<text stroke="#262626" stroke-width="0.10" transform="translate(30.00 367.09) scale(0.760 1)" text-anchor="end" font-size="7.00">400</text>
<text stroke="#262626" stroke-width="0.10" transform="translate(48.00 387.19) scale(0.760 1)" text-anchor="middle" font-size="7.00">50</text>
<text stroke="#262626" stroke-width="0.10" transform="translate(64.40 387.19) scale(0.760 1)" text-anchor="middle" font-size="7.00">100</text>
<text stroke="#262626" stroke-width="0.10" transform="translate(80.30 387.19) scale(0.760 1)" text-anchor="middle" font-size="7.00">150</text>
<text stroke="#262626" stroke-width="0.10" transform="translate(57.00 397.96) scale(0.760 1)" text-anchor="middle" font-size="7.40">Range</text>
<text stroke="#262626" stroke-width="0.10" transform="translate(16.80 327.00) rotate(-90) scale(1 0.850)" text-anchor="middle" font-size="8.50">Azimuth</text>
<rect x="90.00" y="276.60" width="7.40" height="99.60" fill="url(#par)" stroke="#262626" stroke-width="0.5"/>
<text stroke="#262626" stroke-width="0.10" transform="translate(99.40 280.49) scale(0.760 1)" font-size="7.00">0.4</text>
<text stroke="#262626" stroke-width="0.10" transform="translate(99.40 296.88) scale(0.760 1)" font-size="7.00">0.2</text>
<text stroke="#262626" stroke-width="0.10" transform="translate(99.40 313.49) scale(0.760 1)" font-size="7.00">0</text>
<text stroke="#262626" stroke-width="0.10" transform="translate(99.40 329.49) scale(0.760 1)" font-size="7.00">-0.2</text>
<text stroke="#262626" stroke-width="0.10" transform="translate(99.40 346.09) scale(0.760 1)" font-size="7.00">-0.4</text>
<text stroke="#262626" stroke-width="0.10" transform="translate(99.40 362.09) scale(0.760 1)" font-size="7.00">-0.6</text>
<text stroke="#262626" stroke-width="0.10" transform="translate(99.40 377.49) scale(0.760 1)" font-size="7.00">-0.8</text>
<path d="M97.40 277.60h-0.8M97.40 294.00h-0.8M97.40 310.60h-0.8M97.40 326.60h-0.8M97.40 343.20h-0.8M97.40 359.20h-0.8M97.40 374.60h-0.8" stroke="#262626" stroke-width="0.5" fill="none"/>
<text stroke="#262626" stroke-width="0.10" x="64.50" y="411.30" text-anchor="middle" class="pl" font-size="9.20">(j)</text>
<clipPath id="ck"><rect x="195.50" y="281.90" width="43.50" height="88.30"/></clipPath>
<g clip-path="url(#ck)"><g filter="url(#spk)"><g transform="translate(195.500 281.900) scale(43.5000 88.3000)"><rect x="-0.1" y="-0.1" width="1.2" height="1.2" fill="#38b99e"/><polygon points="0.0000,-0.0200 0.0316,0.0389 0.0711,0.0778 0.1368,0.1167 0.2289,0.1567 0.2684,0.1889 0.2553,0.2222 0.2026,0.2611 0.1684,0.3000 0.1263,0.3389 0.0526,0.3844 0.0368,0.4244 0.0579,0.4633 0.0158,0.5022 0.0237,0.5422 0.0421,0.5811 0.0053,0.6200 0.0000,0.6600 0.0000,0.7056 0.0368,0.7444 0.1632,0.7833 0.2211,0.8233 0.1447,0.8622 0.1632,0.9011 0.1895,0.9400 0.2158,1.0200 1.2,1.05 1.2,-0.05" fill="#352a87"/><polygon points="0.0447,-0.0200 0.0789,0.0389 0.1237,0.0778 0.1895,0.1167 0.2816,0.1567 0.3211,0.1889 0.3079,0.2222 0.2816,0.2611 0.2684,0.3000 0.2368,0.3389 0.1526,0.3844 0.1079,0.4244 0.1263,0.4633 0.0842,0.5022 0.0816,0.5422 0.0921,0.5811 0.0737,0.6200 0.0447,0.6600 0.0842,0.7056 0.1763,0.7444 0.2947,0.7833 0.3211,0.8233 0.1947,0.8622 0.2158,0.9011 0.2289,0.9400 0.2368,1.0200 1.2,1.05 1.2,-0.05" fill="#fdbe3d"/><polygon points="0.2421,-0.0200 0.2684,0.0389 0.2947,0.0778 0.3474,0.1167 0.4132,0.1567 0.3474,0.1889 0.3079,0.2222 0.3211,0.2611 0.3605,0.3000 0.3526,0.3389 0.3526,0.3844 0.2474,0.4244 0.2211,0.4633 0.1895,0.5022 0.2026,0.5422 0.2158,0.5811 0.2289,0.6200 0.2553,0.6600 0.3474,0.7056 0.3868,0.7444 0.4053,0.7833 0.3737,0.8233 0.3263,0.8622 0.3079,0.9011 0.3079,0.9400 0.3079,1.0200 1.2,1.05 1.2,-0.05" fill="#079ccf"/><polygon points="0.3211,-0.0200 0.4000,0.0389 0.4921,0.0778 0.5447,0.1167 0.4132,0.1567 0.3474,0.1889 0.3605,0.2222 0.4000,0.2611 0.4921,0.3000 0.5316,0.3389 0.4526,0.3844 0.4132,0.4244 0.3474,0.4633 0.3474,0.5022 0.3605,0.5422 0.4000,0.5811 0.4132,0.6200 0.4132,0.6600 0.4658,0.7056 0.5184,0.7444 0.4921,0.7833 0.4526,0.8233 0.4395,0.8622 0.4263,0.9011 0.4132,0.9400 0.4263,1.0200 1.2,1.05 1.2,-0.05" fill="#a5be6b"/><polygon points="0.5447,-0.0200 0.5579,0.0389 0.6237,0.0778 0.6763,0.1167 0.7421,0.1567 0.7158,0.1889 0.6368,0.2222 0.5974,0.2611 0.6237,0.3000 0.6632,0.3389 0.7158,0.3844 0.7684,0.4244 0.6632,0.4633 0.6368,0.5022 0.5842,0.5422 0.5579,0.5811 0.5316,0.6200 0.5053,0.6600 0.6237,0.7056 0.6237,0.7444 0.6632,0.7833 0.7158,0.8233 0.7816,0.8622 0.8211,0.9011 0.8605,0.9400 0.8868,1.0200 1.2,1.05 1.2,-0.05" fill="#046de0"/><polygon points="0.7026,-0.0200 0.6500,0.0389 0.7158,0.0778 0.7684,0.1167 0.8605,0.1567 0.8605,0.1889 0.8079,0.2222 0.7158,0.2611 0.6895,0.3000 0.7158,0.3389 0.7947,0.3844 0.8474,0.4244 0.8211,0.4633 0.8079,0.5022 0.8211,0.5422 0.7684,0.5811 0.7158,0.6200 0.6895,0.6600 0.7158,0.7056 0.7026,0.7444 0.7289,0.7833 0.7947,0.8233 0.8342,0.8622 0.8737,0.9011 0.9000,0.9400 0.9211,1.0200 1.2,1.05 1.2,-0.05" fill="#38b99e"/><ellipse cx="0.6184" cy="0.0356" rx="0.025" ry="0.012" fill="#f9fb0e"/></g></g></g>
<rect x="195.50" y="281.90" width="43.50" height="88.30" fill="none" stroke="#262626" stroke-width="0.5"/>
<path d="M209.00 370.20v-1.00M209.00 281.90v1.00M223.40 370.20v-1.00M223.40 281.90v1.00M237.40 370.20v-1.00M237.40 281.90v1.00M195.50 301.10h1.00M239.00 301.10h-1.00M195.50 320.50h1.00M239.00 320.50h-1.00M195.50 339.80h1.00M239.00 339.80h-1.00M195.50 359.20h1.00M239.00 359.20h-1.00" stroke="#262626" stroke-width="0.5" fill="none"/>
<text stroke="#262626" stroke-width="0.22" x="192.70" y="303.74" text-anchor="end" font-size="6.60">100</text>
<text stroke="#262626" stroke-width="0.22" x="192.70" y="323.14" text-anchor="end" font-size="6.60">200</text>
<text stroke="#262626" stroke-width="0.22" x="192.70" y="342.44" text-anchor="end" font-size="6.60">300</text>
<text stroke="#262626" stroke-width="0.22" x="192.70" y="361.84" text-anchor="end" font-size="6.60">400</text>
<text stroke="#262626" stroke-width="0.22" x="209.00" y="380.74" text-anchor="middle" font-size="6.60">50</text>
<text stroke="#262626" stroke-width="0.22" x="223.40" y="380.74" text-anchor="middle" font-size="6.60">100</text>
<text stroke="#262626" stroke-width="0.22" x="237.40" y="380.74" text-anchor="middle" font-size="6.60">150</text>
<text stroke="#262626" stroke-width="0.22" x="217.00" y="392.77" text-anchor="middle" font-size="7.70">Range</text>
<text stroke="#262626" stroke-width="0.22" transform="translate(177.84 326.40) rotate(-90) scale(1 0.780)" text-anchor="middle" font-size="8.60">Azimuth</text>
<rect x="248.40" y="281.90" width="6.40" height="87.40" fill="url(#par)" stroke="#262626" stroke-width="0.5"/>
<text stroke="#262626" stroke-width="0.22" x="257.30" y="285.05" font-size="6.90">7</text>
<text stroke="#262626" stroke-width="0.22" x="257.30" y="299.65" font-size="6.90">6</text>
<text stroke="#262626" stroke-width="0.22" x="257.30" y="314.15" font-size="6.90">5</text>
<text stroke="#262626" stroke-width="0.22" x="257.30" y="328.75" font-size="6.90">4</text>
<text stroke="#262626" stroke-width="0.22" x="257.30" y="342.95" font-size="6.90">3</text>
<text stroke="#262626" stroke-width="0.22" x="257.30" y="357.45" font-size="6.90">2</text>
<text stroke="#262626" stroke-width="0.22" x="257.30" y="371.65" font-size="6.90">1</text>
<path d="M254.80 282.20h-0.8M254.80 296.80h-0.8M254.80 311.30h-0.8M254.80 325.90h-0.8M254.80 340.10h-0.8M254.80 354.60h-0.8M254.80 368.80h-0.8" stroke="#262626" stroke-width="0.5" fill="none"/>
<text stroke="#262626" stroke-width="0.22" x="225.70" y="410.70" text-anchor="middle" class="pl" font-size="9.20">(k)</text>
<clipPath id="cl"><rect x="350.10" y="283.10" width="47.50" height="89.00"/></clipPath>
<g clip-path="url(#cl)"><g filter="url(#spk2)"><g transform="translate(350.100 283.100) scale(47.5000 89.0000)"><defs><linearGradient id="l88" gradientUnits="userSpaceOnUse" x2="1"><stop offset="0.000" stop-color="#352a87"/><stop offset="0.009" stop-color="#352a87"/><stop offset="0.009" stop-color="#2a91d6"/><stop offset="0.032" stop-color="#2a96d5"/><stop offset="0.055" stop-color="#2a9ad4"/><stop offset="0.152" stop-color="#2aa3d2"/><stop offset="0.250" stop-color="#38a8c7"/><stop offset="0.297" stop-color="#69b7a0"/><stop offset="0.344" stop-color="#a4c169"/><stop offset="0.446" stop-color="#d7d03b"/><stop offset="0.549" stop-color="#ecdc26"/><stop offset="0.618" stop-color="#f0df22"/><stop offset="0.687" stop-color="#f4e21e"/><stop offset="0.687" stop-color="#352a87"/><stop offset="1.000" stop-color="#352a87"/></linearGradient><linearGradient id="l89" gradientUnits="userSpaceOnUse" x2="1"><stop offset="0.000" stop-color="#352a87"/><stop offset="0.028" stop-color="#352a87"/><stop offset="0.028" stop-color="#2a91d6"/><stop offset="0.051" stop-color="#2a96d5"/><stop offset="0.075" stop-color="#2a9ad4"/><stop offset="0.170" stop-color="#2aa3d2"/><stop offset="0.265" stop-color="#38a8c7"/><stop offset="0.328" stop-color="#69b7a0"/><stop offset="0.390" stop-color="#a4c169"/><stop offset="0.473" stop-color="#d7d03b"/><stop offset="0.556" stop-color="#ecdc26"/><stop offset="0.606" stop-color="#f0df22"/><stop offset="0.656" stop-color="#f4e21e"/><stop offset="0.656" stop-color="#352a87"/><stop offset="1.000" stop-color="#352a87"/></linearGradient><linearGradient id="l90" gradientUnits="userSpaceOnUse" x2="1"><stop offset="0.000" stop-color="#352a87"/><stop offset="0.050" stop-color="#352a87"/><stop offset="0.050" stop-color="#2a91d6"/><stop offset="0.075" stop-color="#2a96d5"/><stop offset="0.100" stop-color="#2a9ad4"/><stop offset="0.190" stop-color="#2aa3d2"/><stop offset="0.281" stop-color="#38a8c7"/><stop offset="0.362" stop-color="#69b7a0"/><stop offset="0.442" stop-color="#a4c169"/><stop offset="0.515" stop-color="#d7d03b"/><stop offset="0.588" stop-color="#ecdc26"/><stop offset="0.634" stop-color="#f0df22"/><stop offset="0.680" stop-color="#f4e21e"/><stop offset="0.680" stop-color="#352a87"/><stop offset="1.000" stop-color="#352a87"/></linearGradient><linearGradient id="l91" gradientUnits="userSpaceOnUse" x2="1"><stop offset="0.000" stop-color="#352a87"/><stop offset="0.074" stop-color="#352a87"/><stop offset="0.074" stop-color="#2a91d6"/><stop offset="0.100" stop-color="#2a96d5"/><stop offset="0.127" stop-color="#2a9ad4"/><stop offset="0.212" stop-color="#2aa3d2"/><stop offset="0.297" stop-color="#38a8c7"/><stop offset="0.396" stop-color="#69b7a0"/><stop offset="0.494" stop-color="#a4c169"/><stop offset="0.560" stop-color="#d7d03b"/><stop offset="0.626" stop-color="#ecdc26"/><stop offset="0.672" stop-color="#f0df22"/><stop offset="0.718" stop-color="#f4e21e"/><stop offset="0.718" stop-color="#352a87"/><stop offset="1.000" stop-color="#352a87"/></linearGradient><linearGradient id="l92" gradientUnits="userSpaceOnUse" x2="1"><stop offset="0.000" stop-color="#352a87"/><stop offset="0.112" stop-color="#352a87"/><stop offset="0.112" stop-color="#2a91d6"/><stop offset="0.139" stop-color="#2a96d5"/><stop offset="0.165" stop-color="#2a9ad4"/><stop offset="0.247" stop-color="#2aa3d2"/><stop offset="0.328" stop-color="#38a8c7"/><stop offset="0.427" stop-color="#69b7a0"/><stop offset="0.525" stop-color="#a4c169"/><stop offset="0.591" stop-color="#d7d03b"/><stop offset="0.657" stop-color="#ecdc26"/><stop offset="0.703" stop-color="#f0df22"/><stop offset="0.749" stop-color="#f4e21e"/><stop offset="0.749" stop-color="#352a87"/><stop offset="1.000" stop-color="#352a87"/></linearGradient><linearGradient id="l93" gradientUnits="userSpaceOnUse" x2="1"><stop offset="0.000" stop-color="#352a87"/><stop offset="0.156" stop-color="#352a87"/><stop offset="0.156" stop-color="#2a91d6"/><stop offset="0.182" stop-color="#2a96d5"/><stop offset="0.209" stop-color="#2a9ad4"/><stop offset="0.285" stop-color="#2aa3d2"/><stop offset="0.361" stop-color="#38a8c7"/><stop offset="0.439" stop-color="#69b7a0"/><stop offset="0.517" stop-color="#a4c169"/><stop offset="0.604" stop-color="#d7d03b"/><stop offset="0.690" stop-color="#ecdc26"/><stop offset="0.739" stop-color="#f0df22"/><stop offset="0.788" stop-color="#f4e21e"/><stop offset="0.788" stop-color="#352a87"/><stop offset="1.000" stop-color="#352a87"/></linearGradient><linearGradient id="l94" gradientUnits="userSpaceOnUse" x2="1"><stop offset="0.000" stop-color="#352a87"/><stop offset="0.208" stop-color="#352a87"/><stop offset="0.208" stop-color="#2a91d6"/><stop offset="0.235" stop-color="#2a96d5"/><stop offset="0.261" stop-color="#2a9ad4"/><stop offset="0.330" stop-color="#2aa3d2"/><stop offset="0.398" stop-color="#38a8c7"/><stop offset="0.421" stop-color="#69b7a0"/><stop offset="0.443" stop-color="#a4c169"/><stop offset="0.585" stop-color="#d7d03b"/><stop offset="0.727" stop-color="#ecdc26"/><stop offset="0.784" stop-color="#f0df22"/><stop offset="0.840" stop-color="#f4e21e"/><stop offset="0.840" stop-color="#352a87"/><stop offset="1.000" stop-color="#352a87"/></linearGradient><linearGradient id="l95" gradientUnits="userSpaceOnUse" x2="1"><stop offset="0.000" stop-color="#352a87"/><stop offset="0.246" stop-color="#352a87"/><stop offset="0.246" stop-color="#2a91d6"/><stop offset="0.272" stop-color="#2a96d5"/><stop offset="0.298" stop-color="#2a9ad4"/><stop offset="0.342" stop-color="#2aa3d2"/><stop offset="0.385" stop-color="#38a8c7"/><stop offset="0.385" stop-color="#a4c169"/><stop offset="0.558" stop-color="#d7d03b"/><stop offset="0.731" stop-color="#ecdc26"/><stop offset="0.796" stop-color="#f0df22"/><stop offset="0.861" stop-color="#f4e21e"/><stop offset="0.861" stop-color="#352a87"/><stop offset="1.000" stop-color="#352a87"/></linearGradient><linearGradient id="l96" gradientUnits="userSpaceOnUse" x2="1"><stop offset="0.000" stop-color="#352a87"/><stop offset="0.267" stop-color="#352a87"/><stop offset="0.267" stop-color="#2a91d6"/><stop offset="0.293" stop-color="#2a96d5"/><stop offset="0.319" stop-color="#2a9ad4"/><stop offset="0.331" stop-color="#2aa3d2"/><stop offset="0.342" stop-color="#38a8c7"/><stop offset="0.346" stop-color="#69b7a0"/><stop offset="0.349" stop-color="#a4c169"/><stop offset="0.527" stop-color="#d7d03b"/><stop offset="0.706" stop-color="#ecdc26"/><stop offset="0.780" stop-color="#f0df22"/><stop offset="0.854" stop-color="#f4e21e"/><stop offset="0.854" stop-color="#352a87"/><stop offset="1.000" stop-color="#352a87"/></linearGradient><linearGradient id="l97" gradientUnits="userSpaceOnUse" x2="1"><stop offset="0.000" stop-color="#352a87"/><stop offset="0.258" stop-color="#352a87"/><stop offset="0.258" stop-color="#2a91d6"/><stop offset="0.284" stop-color="#2a96d5"/><stop offset="0.310" stop-color="#2a9ad4"/><stop offset="0.313" stop-color="#2aa3d2"/><stop offset="0.315" stop-color="#38a8c7"/><stop offset="0.337" stop-color="#69b7a0"/><stop offset="0.358" stop-color="#a4c169"/><stop offset="0.505" stop-color="#d7d03b"/><stop offset="0.652" stop-color="#ecdc26"/><stop offset="0.735" stop-color="#f0df22"/><stop offset="0.818" stop-color="#f4e21e"/><stop offset="0.818" stop-color="#352a87"/><stop offset="1.000" stop-color="#352a87"/></linearGradient><linearGradient id="l98" gradientUnits="userSpaceOnUse" x2="1"><stop offset="0.000" stop-color="#352a87"/><stop offset="0.233" stop-color="#352a87"/><stop offset="0.233" stop-color="#2a91d6"/><stop offset="0.265" stop-color="#2a96d5"/><stop offset="0.297" stop-color="#2a9ad4"/><stop offset="0.305" stop-color="#2aa3d2"/><stop offset="0.313" stop-color="#38a8c7"/><stop offset="0.345" stop-color="#69b7a0"/><stop offset="0.377" stop-color="#a4c169"/><stop offset="0.499" stop-color="#d7d03b"/><stop offset="0.620" stop-color="#ecdc26"/><stop offset="0.695" stop-color="#f0df22"/><stop offset="0.769" stop-color="#f4e21e"/><stop offset="0.769" stop-color="#352a87"/><stop offset="1.000" stop-color="#352a87"/></linearGradient><linearGradient id="l99" gradientUnits="userSpaceOnUse" x2="1"><stop offset="0.000" stop-color="#352a87"/><stop offset="0.202" stop-color="#352a87"/><stop offset="0.202" stop-color="#2a91d6"/><stop offset="0.242" stop-color="#2a96d5"/><stop offset="0.281" stop-color="#2a9ad4"/><stop offset="0.301" stop-color="#2aa3d2"/><stop offset="0.321" stop-color="#38a8c7"/><stop offset="0.361" stop-color="#69b7a0"/><stop offset="0.401" stop-color="#a4c169"/><stop offset="0.499" stop-color="#d7d03b"/><stop offset="0.598" stop-color="#ecdc26"/><stop offset="0.657" stop-color="#f0df22"/><stop offset="0.716" stop-color="#f4e21e"/><stop offset="0.716" stop-color="#352a87"/><stop offset="1.000" stop-color="#352a87"/></linearGradient><linearGradient id="l100" gradientUnits="userSpaceOnUse" x2="1"><stop offset="0.000" stop-color="#352a87"/><stop offset="0.182" stop-color="#352a87"/><stop offset="0.182" stop-color="#2a91d6"/><stop offset="0.228" stop-color="#2a96d5"/><stop offset="0.274" stop-color="#2a9ad4"/><stop offset="0.309" stop-color="#2aa3d2"/><stop offset="0.344" stop-color="#38a8c7"/><stop offset="0.399" stop-color="#69b7a0"/><stop offset="0.454" stop-color="#a4c169"/><stop offset="0.534" stop-color="#d7d03b"/><stop offset="0.613" stop-color="#ecdc26"/><stop offset="0.657" stop-color="#f0df22"/><stop offset="0.700" stop-color="#f4e21e"/><stop offset="0.700" stop-color="#352a87"/><stop offset="1.000" stop-color="#352a87"/></linearGradient><linearGradient id="l101" gradientUnits="userSpaceOnUse" x2="1"><stop offset="0.000" stop-color="#352a87"/><stop offset="0.161" stop-color="#352a87"/><stop offset="0.161" stop-color="#2a91d6"/><stop offset="0.212" stop-color="#2a96d5"/><stop offset="0.263" stop-color="#2a9ad4"/><stop offset="0.311" stop-color="#2aa3d2"/><stop offset="0.359" stop-color="#38a8c7"/><stop offset="0.429" stop-color="#69b7a0"/><stop offset="0.499" stop-color="#a4c169"/><stop offset="0.565" stop-color="#d7d03b"/><stop offset="0.631" stop-color="#ecdc26"/><stop offset="0.662" stop-color="#f0df22"/><stop offset="0.694" stop-color="#f4e21e"/><stop offset="0.694" stop-color="#352a87"/><stop offset="1.000" stop-color="#352a87"/></linearGradient><linearGradient id="l102" gradientUnits="userSpaceOnUse" x2="1"><stop offset="0.000" stop-color="#352a87"/><stop offset="0.136" stop-color="#352a87"/><stop offset="0.136" stop-color="#2a91d6"/><stop offset="0.190" stop-color="#2a96d5"/><stop offset="0.244" stop-color="#2a9ad4"/><stop offset="0.299" stop-color="#2aa3d2"/><stop offset="0.355" stop-color="#38a8c7"/><stop offset="0.438" stop-color="#69b7a0"/><stop offset="0.522" stop-color="#a4c169"/><stop offset="0.588" stop-color="#d7d03b"/><stop offset="0.654" stop-color="#ecdc26"/><stop offset="0.682" stop-color="#f0df22"/><stop offset="0.709" stop-color="#f4e21e"/><stop offset="0.709" stop-color="#352a87"/><stop offset="1.000" stop-color="#352a87"/></linearGradient><linearGradient id="l103" gradientUnits="userSpaceOnUse" x2="1"><stop offset="0.000" stop-color="#352a87"/><stop offset="0.105" stop-color="#352a87"/><stop offset="0.105" stop-color="#2a91d6"/><stop offset="0.158" stop-color="#2a96d5"/><stop offset="0.212" stop-color="#2a9ad4"/><stop offset="0.282" stop-color="#2aa3d2"/><stop offset="0.353" stop-color="#38a8c7"/><stop offset="0.431" stop-color="#69b7a0"/><stop offset="0.508" stop-color="#a4c169"/><stop offset="0.594" stop-color="#d7d03b"/><stop offset="0.679" stop-color="#ecdc26"/><stop offset="0.709" stop-color="#f0df22"/><stop offset="0.739" stop-color="#f4e21e"/><stop offset="0.739" stop-color="#352a87"/><stop offset="1.000" stop-color="#352a87"/></linearGradient><linearGradient id="l104" gradientUnits="userSpaceOnUse" x2="1"><stop offset="0.000" stop-color="#352a87"/><stop offset="0.068" stop-color="#352a87"/><stop offset="0.068" stop-color="#2a91d6"/><stop offset="0.119" stop-color="#2a96d5"/><stop offset="0.170" stop-color="#2a9ad4"/><stop offset="0.261" stop-color="#2aa3d2"/><stop offset="0.353" stop-color="#38a8c7"/><stop offset="0.411" stop-color="#69b7a0"/><stop offset="0.469" stop-color="#a4c169"/><stop offset="0.587" stop-color="#d7d03b"/><stop offset="0.705" stop-color="#ecdc26"/><stop offset="0.742" stop-color="#f0df22"/><stop offset="0.778" stop-color="#f4e21e"/><stop offset="0.778" stop-color="#352a87"/><stop offset="1.000" stop-color="#352a87"/></linearGradient><linearGradient id="l105" gradientUnits="userSpaceOnUse" x2="1"><stop offset="0.000" stop-color="#352a87"/><stop offset="0.047" stop-color="#352a87"/><stop offset="0.047" stop-color="#2a91d6"/><stop offset="0.093" stop-color="#2a96d5"/><stop offset="0.138" stop-color="#2a9ad4"/><stop offset="0.228" stop-color="#2aa3d2"/><stop offset="0.318" stop-color="#38a8c7"/><stop offset="0.379" stop-color="#69b7a0"/><stop offset="0.440" stop-color="#a4c169"/><stop offset="0.586" stop-color="#d7d03b"/><stop offset="0.733" stop-color="#ecdc26"/><stop offset="0.773" stop-color="#f0df22"/><stop offset="0.812" stop-color="#f4e21e"/><stop offset="0.812" stop-color="#352a87"/><stop offset="1.000" stop-color="#352a87"/></linearGradient><linearGradient id="l106" gradientUnits="userSpaceOnUse" x2="1"><stop offset="0.000" stop-color="#352a87"/><stop offset="0.038" stop-color="#352a87"/><stop offset="0.038" stop-color="#2a91d6"/><stop offset="0.075" stop-color="#2a96d5"/><stop offset="0.112" stop-color="#2a9ad4"/><stop offset="0.185" stop-color="#2aa3d2"/><stop offset="0.258" stop-color="#38a8c7"/><stop offset="0.337" stop-color="#69b7a0"/><stop offset="0.417" stop-color="#a4c169"/><stop offset="0.590" stop-color="#d7d03b"/><stop offset="0.763" stop-color="#ecdc26"/><stop offset="0.803" stop-color="#f0df22"/><stop offset="0.842" stop-color="#f4e21e"/><stop offset="0.842" stop-color="#352a87"/><stop offset="1.000" stop-color="#352a87"/></linearGradient><linearGradient id="l107" gradientUnits="userSpaceOnUse" x2="1"><stop offset="0.000" stop-color="#352a87"/><stop offset="0.047" stop-color="#352a87"/><stop offset="0.047" stop-color="#2a91d6"/><stop offset="0.082" stop-color="#2a96d5"/><stop offset="0.117" stop-color="#2a9ad4"/><stop offset="0.176" stop-color="#2aa3d2"/><stop offset="0.235" stop-color="#38a8c7"/><stop offset="0.308" stop-color="#69b7a0"/><stop offset="0.381" stop-color="#a4c169"/><stop offset="0.550" stop-color="#d7d03b"/><stop offset="0.718" stop-color="#ecdc26"/><stop offset="0.776" stop-color="#f0df22"/><stop offset="0.835" stop-color="#f4e21e"/><stop offset="0.835" stop-color="#352a87"/><stop offset="1.000" stop-color="#352a87"/></linearGradient><linearGradient id="l108" gradientUnits="userSpaceOnUse" x2="1"><stop offset="0.000" stop-color="#352a87"/><stop offset="0.055" stop-color="#352a87"/><stop offset="0.055" stop-color="#2a91d6"/><stop offset="0.089" stop-color="#2a96d5"/><stop offset="0.124" stop-color="#2a9ad4"/><stop offset="0.171" stop-color="#2aa3d2"/><stop offset="0.219" stop-color="#38a8c7"/><stop offset="0.283" stop-color="#69b7a0"/><stop offset="0.347" stop-color="#a4c169"/><stop offset="0.504" stop-color="#d7d03b"/><stop offset="0.661" stop-color="#ecdc26"/><stop offset="0.741" stop-color="#f0df22"/><stop offset="0.820" stop-color="#f4e21e"/><stop offset="0.820" stop-color="#352a87"/><stop offset="1.000" stop-color="#352a87"/></linearGradient><linearGradient id="l109" gradientUnits="userSpaceOnUse" x2="1"><stop offset="0.000" stop-color="#352a87"/><stop offset="0.030" stop-color="#352a87"/><stop offset="0.030" stop-color="#2a91d6"/><stop offset="0.065" stop-color="#2a96d5"/><stop offset="0.099" stop-color="#2a9ad4"/><stop offset="0.150" stop-color="#2aa3d2"/><stop offset="0.201" stop-color="#38a8c7"/><stop offset="0.274" stop-color="#69b7a0"/><stop offset="0.347" stop-color="#a4c169"/><stop offset="0.497" stop-color="#d7d03b"/><stop offset="0.646" stop-color="#ecdc26"/><stop offset="0.729" stop-color="#f0df22"/><stop offset="0.812" stop-color="#f4e21e"/><stop offset="0.812" stop-color="#352a87"/><stop offset="1.000" stop-color="#352a87"/></linearGradient><linearGradient id="l110" gradientUnits="userSpaceOnUse" x2="1"><stop offset="0.000" stop-color="#352a87"/><stop offset="0.018" stop-color="#352a87"/><stop offset="0.018" stop-color="#2a91d6"/><stop offset="0.051" stop-color="#2a96d5"/><stop offset="0.084" stop-color="#2a9ad4"/><stop offset="0.138" stop-color="#2aa3d2"/><stop offset="0.192" stop-color="#38a8c7"/><stop offset="0.271" stop-color="#69b7a0"/><stop offset="0.350" stop-color="#a4c169"/><stop offset="0.488" stop-color="#d7d03b"/><stop offset="0.625" stop-color="#ecdc26"/><stop offset="0.718" stop-color="#f0df22"/><stop offset="0.811" stop-color="#f4e21e"/><stop offset="0.811" stop-color="#352a87"/><stop offset="1.000" stop-color="#352a87"/></linearGradient><linearGradient id="l111" gradientUnits="userSpaceOnUse" x2="1"><stop offset="0.000" stop-color="#352a87"/><stop offset="0.022" stop-color="#352a87"/><stop offset="0.022" stop-color="#2a91d6"/><stop offset="0.052" stop-color="#2a96d5"/><stop offset="0.082" stop-color="#2a9ad4"/><stop offset="0.141" stop-color="#2aa3d2"/><stop offset="0.200" stop-color="#38a8c7"/><stop offset="0.279" stop-color="#69b7a0"/><stop offset="0.358" stop-color="#a4c169"/><stop offset="0.476" stop-color="#d7d03b"/><stop offset="0.595" stop-color="#ecdc26"/><stop offset="0.707" stop-color="#f0df22"/><stop offset="0.818" stop-color="#f4e21e"/><stop offset="0.818" stop-color="#352a87"/><stop offset="1.000" stop-color="#352a87"/></linearGradient><linearGradient id="l112" gradientUnits="userSpaceOnUse" x2="1"><stop offset="0.000" stop-color="#352a87"/><stop offset="0.031" stop-color="#352a87"/><stop offset="0.031" stop-color="#2a91d6"/><stop offset="0.058" stop-color="#2a96d5"/><stop offset="0.086" stop-color="#2a9ad4"/><stop offset="0.147" stop-color="#2aa3d2"/><stop offset="0.208" stop-color="#38a8c7"/><stop offset="0.291" stop-color="#69b7a0"/><stop offset="0.375" stop-color="#a4c169"/><stop offset="0.475" stop-color="#d7d03b"/><stop offset="0.574" stop-color="#ecdc26"/><stop offset="0.688" stop-color="#f0df22"/><stop offset="0.801" stop-color="#f4e21e"/><stop offset="0.801" stop-color="#352a87"/><stop offset="1.000" stop-color="#352a87"/></linearGradient><linearGradient id="l113" gradientUnits="userSpaceOnUse" x2="1"><stop offset="0.000" stop-color="#352a87"/><stop offset="0.041" stop-color="#352a87"/><stop offset="0.041" stop-color="#2a91d6"/><stop offset="0.067" stop-color="#2a96d5"/><stop offset="0.092" stop-color="#2a9ad4"/><stop offset="0.153" stop-color="#2aa3d2"/><stop offset="0.215" stop-color="#38a8c7"/><stop offset="0.307" stop-color="#69b7a0"/><stop offset="0.398" stop-color="#a4c169"/><stop offset="0.479" stop-color="#d7d03b"/><stop offset="0.559" stop-color="#ecdc26"/><stop offset="0.665" stop-color="#f0df22"/><stop offset="0.771" stop-color="#f4e21e"/><stop offset="0.771" stop-color="#352a87"/><stop offset="1.000" stop-color="#352a87"/></linearGradient><linearGradient id="l114" gradientUnits="userSpaceOnUse" x2="1"><stop offset="0.000" stop-color="#352a87"/><stop offset="0.022" stop-color="#352a87"/><stop offset="0.022" stop-color="#2a91d6"/><stop offset="0.052" stop-color="#2a96d5"/><stop offset="0.082" stop-color="#2a9ad4"/><stop offset="0.153" stop-color="#2aa3d2"/><stop offset="0.223" stop-color="#38a8c7"/><stop offset="0.315" stop-color="#69b7a0"/><stop offset="0.407" stop-color="#a4c169"/><stop offset="0.475" stop-color="#d7d03b"/><stop offset="0.544" stop-color="#ecdc26"/><stop offset="0.642" stop-color="#f0df22"/><stop offset="0.740" stop-color="#f4e21e"/><stop offset="0.740" stop-color="#352a87"/><stop offset="1.000" stop-color="#352a87"/></linearGradient><linearGradient id="l115" gradientUnits="userSpaceOnUse" x2="1"><stop offset="0.000" stop-color="#352a87"/><stop offset="0.005" stop-color="#352a87"/><stop offset="0.005" stop-color="#2a91d6"/><stop offset="0.037" stop-color="#2a96d5"/><stop offset="0.070" stop-color="#2a9ad4"/><stop offset="0.151" stop-color="#2aa3d2"/><stop offset="0.232" stop-color="#38a8c7"/><stop offset="0.323" stop-color="#69b7a0"/><stop offset="0.413" stop-color="#a4c169"/><stop offset="0.471" stop-color="#d7d03b"/><stop offset="0.528" stop-color="#ecdc26"/><stop offset="0.620" stop-color="#f0df22"/><stop offset="0.712" stop-color="#f4e21e"/><stop offset="0.712" stop-color="#352a87"/><stop offset="1.000" stop-color="#352a87"/></linearGradient><linearGradient id="l116" gradientUnits="userSpaceOnUse" x2="1"><stop offset="0.000" stop-color="#352a87"/><stop offset="0.002" stop-color="#352a87"/><stop offset="0.002" stop-color="#2a91d6"/><stop offset="0.028" stop-color="#2a96d5"/><stop offset="0.054" stop-color="#2a9ad4"/><stop offset="0.150" stop-color="#2aa3d2"/><stop offset="0.247" stop-color="#38a8c7"/><stop offset="0.330" stop-color="#69b7a0"/><stop offset="0.413" stop-color="#a4c169"/><stop offset="0.463" stop-color="#d7d03b"/><stop offset="0.513" stop-color="#ecdc26"/><stop offset="0.605" stop-color="#f0df22"/><stop offset="0.698" stop-color="#f4e21e"/><stop offset="0.698" stop-color="#352a87"/><stop offset="1.000" stop-color="#352a87"/></linearGradient><linearGradient id="l117" gradientUnits="userSpaceOnUse" x2="1"><stop offset="0.000" stop-color="#352a87"/><stop offset="0.000" stop-color="#2a91d6"/><stop offset="0.027" stop-color="#2a96d5"/><stop offset="0.054" stop-color="#2a9ad4"/><stop offset="0.165" stop-color="#2aa3d2"/><stop offset="0.276" stop-color="#38a8c7"/><stop offset="0.351" stop-color="#69b7a0"/><stop offset="0.425" stop-color="#a4c169"/><stop offset="0.479" stop-color="#d7d03b"/><stop offset="0.532" stop-color="#ecdc26"/><stop offset="0.614" stop-color="#f0df22"/><stop offset="0.696" stop-color="#f4e21e"/><stop offset="0.696" stop-color="#352a87"/><stop offset="1.000" stop-color="#352a87"/></linearGradient><linearGradient id="l118" gradientUnits="userSpaceOnUse" x2="1"><stop offset="0.000" stop-color="#352a87"/><stop offset="0.000" stop-color="#2a91d6"/><stop offset="0.037" stop-color="#2a96d5"/><stop offset="0.073" stop-color="#2a9ad4"/><stop offset="0.198" stop-color="#2aa3d2"/><stop offset="0.322" stop-color="#38a8c7"/><stop offset="0.387" stop-color="#69b7a0"/><stop offset="0.451" stop-color="#a4c169"/><stop offset="0.522" stop-color="#d7d03b"/><stop offset="0.592" stop-color="#ecdc26"/><stop offset="0.650" stop-color="#f0df22"/><stop offset="0.709" stop-color="#f4e21e"/><stop offset="0.709" stop-color="#352a87"/><stop offset="1.000" stop-color="#352a87"/></linearGradient><linearGradient id="l119" gradientUnits="userSpaceOnUse" x2="1"><stop offset="0.000" stop-color="#352a87"/><stop offset="0.010" stop-color="#352a87"/><stop offset="0.010" stop-color="#2a91d6"/><stop offset="0.059" stop-color="#2a96d5"/><stop offset="0.109" stop-color="#2a9ad4"/><stop offset="0.233" stop-color="#2aa3d2"/><stop offset="0.358" stop-color="#38a8c7"/><stop offset="0.419" stop-color="#69b7a0"/><stop offset="0.480" stop-color="#a4c169"/><stop offset="0.552" stop-color="#d7d03b"/><stop offset="0.624" stop-color="#ecdc26"/><stop offset="0.668" stop-color="#f0df22"/><stop offset="0.712" stop-color="#f4e21e"/><stop offset="0.712" stop-color="#352a87"/><stop offset="1.000" stop-color="#352a87"/></linearGradient><linearGradient id="l120" gradientUnits="userSpaceOnUse" x2="1"><stop offset="0.000" stop-color="#352a87"/><stop offset="0.031" stop-color="#352a87"/><stop offset="0.031" stop-color="#2a91d6"/><stop offset="0.097" stop-color="#2a96d5"/><stop offset="0.163" stop-color="#2a9ad4"/><stop offset="0.272" stop-color="#2aa3d2"/><stop offset="0.381" stop-color="#38a8c7"/><stop offset="0.446" stop-color="#69b7a0"/><stop offset="0.511" stop-color="#a4c169"/><stop offset="0.567" stop-color="#d7d03b"/><stop offset="0.624" stop-color="#ecdc26"/><stop offset="0.664" stop-color="#f0df22"/><stop offset="0.705" stop-color="#f4e21e"/><stop offset="0.705" stop-color="#352a87"/><stop offset="1.000" stop-color="#352a87"/></linearGradient><linearGradient id="l121" gradientUnits="userSpaceOnUse" x2="1"><stop offset="0.000" stop-color="#352a87"/><stop offset="0.092" stop-color="#352a87"/><stop offset="0.092" stop-color="#2a91d6"/><stop offset="0.160" stop-color="#2a96d5"/><stop offset="0.228" stop-color="#2a9ad4"/><stop offset="0.311" stop-color="#2aa3d2"/><stop offset="0.395" stop-color="#38a8c7"/><stop offset="0.451" stop-color="#69b7a0"/><stop offset="0.507" stop-color="#a4c169"/><stop offset="0.574" stop-color="#d7d03b"/><stop offset="0.641" stop-color="#ecdc26"/><stop offset="0.677" stop-color="#f0df22"/><stop offset="0.714" stop-color="#f4e21e"/><stop offset="0.714" stop-color="#352a87"/><stop offset="1.000" stop-color="#352a87"/></linearGradient><linearGradient id="l122" gradientUnits="userSpaceOnUse" x2="1"><stop offset="0.000" stop-color="#352a87"/><stop offset="0.164" stop-color="#352a87"/><stop offset="0.164" stop-color="#2a91d6"/><stop offset="0.230" stop-color="#2a96d5"/><stop offset="0.295" stop-color="#2a9ad4"/><stop offset="0.350" stop-color="#2aa3d2"/><stop offset="0.405" stop-color="#38a8c7"/><stop offset="0.448" stop-color="#69b7a0"/><stop offset="0.491" stop-color="#a4c169"/><stop offset="0.578" stop-color="#d7d03b"/><stop offset="0.664" stop-color="#ecdc26"/><stop offset="0.697" stop-color="#f0df22"/><stop offset="0.730" stop-color="#f4e21e"/><stop offset="0.730" stop-color="#352a87"/><stop offset="1.000" stop-color="#352a87"/></linearGradient><linearGradient id="l123" gradientUnits="userSpaceOnUse" x2="1"><stop offset="0.000" stop-color="#352a87"/><stop offset="0.197" stop-color="#352a87"/><stop offset="0.197" stop-color="#2a91d6"/><stop offset="0.254" stop-color="#2a96d5"/><stop offset="0.310" stop-color="#2a9ad4"/><stop offset="0.348" stop-color="#2aa3d2"/><stop offset="0.387" stop-color="#38a8c7"/><stop offset="0.428" stop-color="#69b7a0"/><stop offset="0.469" stop-color="#a4c169"/><stop offset="0.581" stop-color="#d7d03b"/><stop offset="0.694" stop-color="#ecdc26"/><stop offset="0.731" stop-color="#f0df22"/><stop offset="0.768" stop-color="#f4e21e"/><stop offset="0.768" stop-color="#352a87"/><stop offset="1.000" stop-color="#352a87"/></linearGradient><linearGradient id="l124" gradientUnits="userSpaceOnUse" x2="1"><stop offset="0.000" stop-color="#352a87"/><stop offset="0.209" stop-color="#352a87"/><stop offset="0.209" stop-color="#2a91d6"/><stop offset="0.255" stop-color="#2a96d5"/><stop offset="0.301" stop-color="#2a9ad4"/><stop offset="0.333" stop-color="#2aa3d2"/><stop offset="0.366" stop-color="#38a8c7"/><stop offset="0.408" stop-color="#69b7a0"/><stop offset="0.451" stop-color="#a4c169"/><stop offset="0.588" stop-color="#d7d03b"/><stop offset="0.726" stop-color="#ecdc26"/><stop offset="0.764" stop-color="#f0df22"/><stop offset="0.801" stop-color="#f4e21e"/><stop offset="0.801" stop-color="#352a87"/><stop offset="1.000" stop-color="#352a87"/></linearGradient><linearGradient id="l125" gradientUnits="userSpaceOnUse" x2="1"><stop offset="0.000" stop-color="#352a87"/><stop offset="0.164" stop-color="#352a87"/><stop offset="0.164" stop-color="#2a91d6"/><stop offset="0.196" stop-color="#2a96d5"/><stop offset="0.227" stop-color="#2a9ad4"/><stop offset="0.283" stop-color="#2aa3d2"/><stop offset="0.338" stop-color="#38a8c7"/><stop offset="0.391" stop-color="#69b7a0"/><stop offset="0.443" stop-color="#a4c169"/><stop offset="0.604" stop-color="#d7d03b"/><stop offset="0.765" stop-color="#ecdc26"/><stop offset="0.794" stop-color="#f0df22"/><stop offset="0.824" stop-color="#f4e21e"/><stop offset="0.824" stop-color="#352a87"/><stop offset="1.000" stop-color="#352a87"/></linearGradient><linearGradient id="l126" gradientUnits="userSpaceOnUse" x2="1"><stop offset="0.000" stop-color="#352a87"/><stop offset="0.151" stop-color="#352a87"/><stop offset="0.151" stop-color="#2a91d6"/><stop offset="0.176" stop-color="#2a96d5"/><stop offset="0.202" stop-color="#2a9ad4"/><stop offset="0.261" stop-color="#2aa3d2"/><stop offset="0.320" stop-color="#38a8c7"/><stop offset="0.378" stop-color="#69b7a0"/><stop offset="0.435" stop-color="#a4c169"/><stop offset="0.615" stop-color="#d7d03b"/><stop offset="0.795" stop-color="#ecdc26"/><stop offset="0.821" stop-color="#f0df22"/><stop offset="0.847" stop-color="#f4e21e"/><stop offset="0.847" stop-color="#352a87"/><stop offset="1.000" stop-color="#352a87"/></linearGradient><linearGradient id="l127" gradientUnits="userSpaceOnUse" x2="1"><stop offset="0.000" stop-color="#352a87"/><stop offset="0.162" stop-color="#352a87"/><stop offset="0.162" stop-color="#2a91d6"/><stop offset="0.188" stop-color="#2a96d5"/><stop offset="0.214" stop-color="#2a9ad4"/><stop offset="0.262" stop-color="#2aa3d2"/><stop offset="0.309" stop-color="#38a8c7"/><stop offset="0.368" stop-color="#69b7a0"/><stop offset="0.427" stop-color="#a4c169"/><stop offset="0.623" stop-color="#d7d03b"/><stop offset="0.818" stop-color="#ecdc26"/><stop offset="0.844" stop-color="#f0df22"/><stop offset="0.870" stop-color="#f4e21e"/><stop offset="0.870" stop-color="#352a87"/><stop offset="1.000" stop-color="#352a87"/></linearGradient><linearGradient id="l128" gradientUnits="userSpaceOnUse" x2="1"><stop offset="0.000" stop-color="#352a87"/><stop offset="0.176" stop-color="#352a87"/><stop offset="0.176" stop-color="#2a91d6"/><stop offset="0.199" stop-color="#2a96d5"/><stop offset="0.222" stop-color="#2a9ad4"/><stop offset="0.265" stop-color="#2aa3d2"/><stop offset="0.308" stop-color="#38a8c7"/><stop offset="0.364" stop-color="#69b7a0"/><stop offset="0.420" stop-color="#a4c169"/><stop offset="0.630" stop-color="#d7d03b"/><stop offset="0.841" stop-color="#ecdc26"/><stop offset="0.864" stop-color="#f0df22"/><stop offset="0.887" stop-color="#f4e21e"/><stop offset="0.887" stop-color="#352a87"/><stop offset="1.000" stop-color="#352a87"/></linearGradient><linearGradient id="l129" gradientUnits="userSpaceOnUse" x2="1"><stop offset="0.000" stop-color="#352a87"/><stop offset="0.191" stop-color="#352a87"/><stop offset="0.191" stop-color="#2a91d6"/><stop offset="0.210" stop-color="#2a96d5"/><stop offset="0.229" stop-color="#2a9ad4"/><stop offset="0.269" stop-color="#2aa3d2"/><stop offset="0.308" stop-color="#38a8c7"/><stop offset="0.361" stop-color="#69b7a0"/><stop offset="0.414" stop-color="#a4c169"/><stop offset="0.638" stop-color="#d7d03b"/><stop offset="0.862" stop-color="#ecdc26"/><stop offset="0.882" stop-color="#f0df22"/><stop offset="0.901" stop-color="#f4e21e"/><stop offset="0.901" stop-color="#352a87"/><stop offset="1.000" stop-color="#352a87"/></linearGradient><linearGradient id="l130" gradientUnits="userSpaceOnUse" x2="1"><stop offset="0.000" stop-color="#352a87"/><stop offset="0.201" stop-color="#352a87"/><stop offset="0.201" stop-color="#2a91d6"/><stop offset="0.217" stop-color="#2a96d5"/><stop offset="0.232" stop-color="#2a9ad4"/><stop offset="0.270" stop-color="#2aa3d2"/><stop offset="0.308" stop-color="#38a8c7"/><stop offset="0.363" stop-color="#69b7a0"/><stop offset="0.419" stop-color="#a4c169"/><stop offset="0.645" stop-color="#d7d03b"/><stop offset="0.872" stop-color="#ecdc26"/><stop offset="0.890" stop-color="#f0df22"/><stop offset="0.909" stop-color="#f4e21e"/><stop offset="0.909" stop-color="#352a87"/><stop offset="1.000" stop-color="#352a87"/></linearGradient><linearGradient id="l131" gradientUnits="userSpaceOnUse" x2="1"><stop offset="0.000" stop-color="#352a87"/><stop offset="0.211" stop-color="#352a87"/><stop offset="0.211" stop-color="#2a91d6"/><stop offset="0.223" stop-color="#2a96d5"/><stop offset="0.235" stop-color="#2a9ad4"/><stop offset="0.272" stop-color="#2aa3d2"/><stop offset="0.308" stop-color="#38a8c7"/><stop offset="0.366" stop-color="#69b7a0"/><stop offset="0.424" stop-color="#a4c169"/><stop offset="0.653" stop-color="#d7d03b"/><stop offset="0.882" stop-color="#ecdc26"/><stop offset="0.899" stop-color="#f0df22"/><stop offset="0.917" stop-color="#f4e21e"/><stop offset="0.917" stop-color="#352a87"/><stop offset="1.000" stop-color="#352a87"/></linearGradient></defs><rect x="-0.1" y="-0.0500" width="1.2" height="0.0864" fill="url(#l88)"/><rect x="-0.1" y="0.0227" width="1.2" height="0.0364" fill="url(#l89)"/><rect x="-0.1" y="0.0455" width="1.2" height="0.0364" fill="url(#l90)"/><rect x="-0.1" y="0.0682" width="1.2" height="0.0364" fill="url(#l91)"/><rect x="-0.1" y="0.0909" width="1.2" height="0.0364" fill="url(#l92)"/><rect x="-0.1" y="0.1136" width="1.2" height="0.0364" fill="url(#l93)"/><rect x="-0.1" y="0.1364" width="1.2" height="0.0364" fill="url(#l94)"/><rect x="-0.1" y="0.1591" width="1.2" height="0.0364" fill="url(#l95)"/><rect x="-0.1" y="0.1818" width="1.2" height="0.0364" fill="url(#l96)"/><rect x="-0.1" y="0.2045" width="1.2" height="0.0364" fill="url(#l97)"/><rect x="-0.1" y="0.2273" width="1.2" height="0.0364" fill="url(#l98)"/><rect x="-0.1" y="0.2500" width="1.2" height="0.0364" fill="url(#l99)"/><rect x="-0.1" y="0.2727" width="1.2" height="0.0364" fill="url(#l100)"/><rect x="-0.1" y="0.2955" width="1.2" height="0.0364" fill="url(#l101)"/><rect x="-0.1" y="0.3182" width="1.2" height="0.0364" fill="url(#l102)"/><rect x="-0.1" y="0.3409" width="1.2" height="0.0364" fill="url(#l103)"/><rect x="-0.1" y="0.3636" width="1.2" height="0.0364" fill="url(#l104)"/><rect x="-0.1" y="0.3864" width="1.2" height="0.0364" fill="url(#l105)"/><rect x="-0.1" y="0.4091" width="1.2" height="0.0364" fill="url(#l106)"/><rect x="-0.1" y="0.4318" width="1.2" height="0.0364" fill="url(#l107)"/><rect x="-0.1" y="0.4545" width="1.2" height="0.0364" fill="url(#l108)"/><rect x="-0.1" y="0.4773" width="1.2" height="0.0364" fill="url(#l109)"/><rect x="-0.1" y="0.5000" width="1.2" height="0.0364" fill="url(#l110)"/><rect x="-0.1" y="0.5227" width="1.2" height="0.0364" fill="url(#l111)"/><rect x="-0.1" y="0.5455" width="1.2" height="0.0364" fill="url(#l112)"/><rect x="-0.1" y="0.5682" width="1.2" height="0.0364" fill="url(#l113)"/><rect x="-0.1" y="0.5909" width="1.2" height="0.0364" fill="url(#l114)"/><rect x="-0.1" y="0.6136" width="1.2" height="0.0364" fill="url(#l115)"/><rect x="-0.1" y="0.6364" width="1.2" height="0.0364" fill="url(#l116)"/><rect x="-0.1" y="0.6591" width="1.2" height="0.0364" fill="url(#l117)"/><rect x="-0.1" y="0.6818" width="1.2" height="0.0364" fill="url(#l118)"/><rect x="-0.1" y="0.7045" width="1.2" height="0.0364" fill="url(#l119)"/><rect x="-0.1" y="0.7273" width="1.2" height="0.0364" fill="url(#l120)"/><rect x="-0.1" y="0.7500" width="1.2" height="0.0364" fill="url(#l121)"/><rect x="-0.1" y="0.7727" width="1.2" height="0.0364" fill="url(#l122)"/><rect x="-0.1" y="0.7955" width="1.2" height="0.0364" fill="url(#l123)"/><rect x="-0.1" y="0.8182" width="1.2" height="0.0364" fill="url(#l124)"/><rect x="-0.1" y="0.8409" width="1.2" height="0.0364" fill="url(#l125)"/><rect x="-0.1" y="0.8636" width="1.2" height="0.0364" fill="url(#l126)"/><rect x="-0.1" y="0.8864" width="1.2" height="0.0364" fill="url(#l127)"/><rect x="-0.1" y="0.9091" width="1.2" height="0.0364" fill="url(#l128)"/><rect x="-0.1" y="0.9318" width="1.2" height="0.0364" fill="url(#l129)"/><rect x="-0.1" y="0.9545" width="1.2" height="0.0364" fill="url(#l130)"/><rect x="-0.1" y="0.9773" width="1.2" height="0.0727" fill="url(#l131)"/></g></g></g>
<rect x="350.10" y="283.10" width="47.50" height="89.00" fill="none" stroke="#262626" stroke-width="0.5"/>
<path d="M364.40 372.10v-1.00M364.40 283.10v1.00M380.00 372.10v-1.00M380.00 283.10v1.00M395.00 372.10v-1.00M395.00 283.10v1.00M350.10 302.90h1.00M397.60 302.90h-1.00M350.10 322.30h1.00M397.60 322.30h-1.00M350.10 341.60h1.00M397.60 341.60h-1.00M350.10 361.10h1.00M397.60 361.10h-1.00" stroke="#262626" stroke-width="0.5" fill="none"/>
<text stroke="#262626" stroke-width="0.12" transform="translate(347.70 305.54) scale(0.800 1)" text-anchor="end" font-size="6.60">100</text>
<text stroke="#262626" stroke-width="0.12" transform="translate(347.70 324.94) scale(0.800 1)" text-anchor="end" font-size="6.60">200</text>
<text stroke="#262626" stroke-width="0.12" transform="translate(347.70 344.24) scale(0.800 1)" text-anchor="end" font-size="6.60">300</text>
<text stroke="#262626" stroke-width="0.12" transform="translate(347.70 363.74) scale(0.800 1)" text-anchor="end" font-size="6.60">400</text>
<text stroke="#262626" stroke-width="0.12" transform="translate(364.40 382.34) scale(0.800 1)" text-anchor="middle" font-size="6.60">50</text>
<text stroke="#262626" stroke-width="0.12" transform="translate(380.00 382.34) scale(0.800 1)" text-anchor="middle" font-size="6.60">100</text>
<text stroke="#262626" stroke-width="0.12" transform="translate(395.00 382.34) scale(0.800 1)" text-anchor="middle" font-size="6.60">150</text>
<text stroke="#262626" stroke-width="0.12" transform="translate(373.30 391.62) scale(0.840 1)" text-anchor="middle" font-size="7.00">Range</text>
<text stroke="#262626" stroke-width="0.12" transform="translate(336.17 327.70) rotate(-90) scale(1 0.820)" text-anchor="middle" font-size="7.60">Azimuth</text>
<rect x="404.30" y="283.00" width="7.00" height="89.20" fill="url(#par)" stroke="#262626" stroke-width="0.5"/>
<text stroke="#262626" stroke-width="0.12" transform="translate(414.10 289.74) scale(0.800 1)" font-size="6.60">25</text>
<text stroke="#262626" stroke-width="0.12" transform="translate(414.10 306.94) scale(0.800 1)" font-size="6.60">20</text>
<text stroke="#262626" stroke-width="0.12" transform="translate(414.10 324.14) scale(0.800 1)" font-size="6.60">15</text>
<text stroke="#262626" stroke-width="0.12" transform="translate(414.10 341.34) scale(0.800 1)" font-size="6.60">10</text>
<text stroke="#262626" stroke-width="0.12" transform="translate(414.10 358.44) scale(0.800 1)" font-size="6.60">5</text>
<text stroke="#262626" stroke-width="0.12" transform="translate(414.10 375.64) scale(0.800 1)" font-size="6.60">0</text>
<path d="M411.30 287.00h-0.8M411.30 304.20h-0.8M411.30 321.40h-0.8M411.30 338.60h-0.8M411.30 355.70h-0.8M411.30 372.90h-0.8" stroke="#262626" stroke-width="0.5" fill="none"/>
<text stroke="#262626" stroke-width="0.12" x="380.40" y="411.00" text-anchor="middle" class="pl" font-size="9.20">(l)</text>
<clipPath id="cm"><rect x="30.20" y="423.20" width="51.40" height="88.00"/></clipPath>
<g clip-path="url(#cm)"><g filter="url(#spk2)"><g transform="translate(30.200 423.200) scale(51.4000 88.0000)"><defs><linearGradient id="m132" gradientUnits="userSpaceOnUse" x2="1"><stop offset="0.000" stop-color="#352a87"/><stop offset="0.009" stop-color="#352a87"/><stop offset="0.009" stop-color="#2a91d6"/><stop offset="0.032" stop-color="#2a96d5"/><stop offset="0.055" stop-color="#2a9ad4"/><stop offset="0.152" stop-color="#2aa3d2"/><stop offset="0.250" stop-color="#38a8c7"/><stop offset="0.297" stop-color="#69b7a0"/><stop offset="0.344" stop-color="#a4c169"/><stop offset="0.446" stop-color="#d7d03b"/><stop offset="0.549" stop-color="#ecdc26"/><stop offset="0.618" stop-color="#f0df22"/><stop offset="0.687" stop-color="#f4e21e"/><stop offset="0.687" stop-color="#352a87"/><stop offset="1.000" stop-color="#352a87"/></linearGradient><linearGradient id="m133" gradientUnits="userSpaceOnUse" x2="1"><stop offset="0.000" stop-color="#352a87"/><stop offset="0.028" stop-color="#352a87"/><stop offset="0.028" stop-color="#2a91d6"/><stop offset="0.051" stop-color="#2a96d5"/><stop offset="0.075" stop-color="#2a9ad4"/><stop offset="0.170" stop-color="#2aa3d2"/><stop offset="0.265" stop-color="#38a8c7"/><stop offset="0.328" stop-color="#69b7a0"/><stop offset="0.390" stop-color="#a4c169"/><stop offset="0.473" stop-color="#d7d03b"/><stop offset="0.556" stop-color="#ecdc26"/><stop offset="0.606" stop-color="#f0df22"/><stop offset="0.656" stop-color="#f4e21e"/><stop offset="0.656" stop-color="#352a87"/><stop offset="1.000" stop-color="#352a87"/></linearGradient><linearGradient id="m134" gradientUnits="userSpaceOnUse" x2="1"><stop offset="0.000" stop-color="#352a87"/><stop offset="0.050" stop-color="#352a87"/><stop offset="0.050" stop-color="#2a91d6"/><stop offset="0.075" stop-color="#2a96d5"/><stop offset="0.100" stop-color="#2a9ad4"/><stop offset="0.190" stop-color="#2aa3d2"/><stop offset="0.281" stop-color="#38a8c7"/><stop offset="0.362" stop-color="#69b7a0"/><stop offset="0.442" stop-color="#a4c169"/><stop offset="0.515" stop-color="#d7d03b"/><stop offset="0.588" stop-color="#ecdc26"/><stop offset="0.634" stop-color="#f0df22"/><stop offset="0.680" stop-color="#f4e21e"/><stop offset="0.680" stop-color="#352a87"/><stop offset="1.000" stop-color="#352a87"/></linearGradient><linearGradient id="m135" gradientUnits="userSpaceOnUse" x2="1"><stop offset="0.000" stop-color="#352a87"/><stop offset="0.074" stop-color="#352a87"/><stop offset="0.074" stop-color="#2a91d6"/><stop offset="0.100" stop-color="#2a96d5"/><stop offset="0.127" stop-color="#2a9ad4"/><stop offset="0.212" stop-color="#2aa3d2"/><stop offset="0.297" stop-color="#38a8c7"/><stop offset="0.396" stop-color="#69b7a0"/><stop offset="0.494" stop-color="#a4c169"/><stop offset="0.560" stop-color="#d7d03b"/><stop offset="0.626" stop-color="#ecdc26"/><stop offset="0.672" stop-color="#f0df22"/><stop offset="0.718" stop-color="#f4e21e"/><stop offset="0.718" stop-color="#352a87"/><stop offset="1.000" stop-color="#352a87"/></linearGradient><linearGradient id="m136" gradientUnits="userSpaceOnUse" x2="1"><stop offset="0.000" stop-color="#352a87"/><stop offset="0.112" stop-color="#352a87"/><stop offset="0.112" stop-color="#2a91d6"/><stop offset="0.139" stop-color="#2a96d5"/><stop offset="0.165" stop-color="#2a9ad4"/><stop offset="0.247" stop-color="#2aa3d2"/><stop offset="0.328" stop-color="#38a8c7"/><stop offset="0.427" stop-color="#69b7a0"/><stop offset="0.525" stop-color="#a4c169"/><stop offset="0.591" stop-color="#d7d03b"/><stop offset="0.657" stop-color="#ecdc26"/><stop offset="0.703" stop-color="#f0df22"/><stop offset="0.749" stop-color="#f4e21e"/><stop offset="0.749" stop-color="#352a87"/><stop offset="1.000" stop-color="#352a87"/></linearGradient><linearGradient id="m137" gradientUnits="userSpaceOnUse" x2="1"><stop offset="0.000" stop-color="#352a87"/><stop offset="0.156" stop-color="#352a87"/><stop offset="0.156" stop-color="#2a91d6"/><stop offset="0.182" stop-color="#2a96d5"/><stop offset="0.209" stop-color="#2a9ad4"/><stop offset="0.285" stop-color="#2aa3d2"/><stop offset="0.361" stop-color="#38a8c7"/><stop offset="0.439" stop-color="#69b7a0"/><stop offset="0.517" stop-color="#a4c169"/><stop offset="0.604" stop-color="#d7d03b"/><stop offset="0.690" stop-color="#ecdc26"/><stop offset="0.739" stop-color="#f0df22"/><stop offset="0.788" stop-color="#f4e21e"/><stop offset="0.788" stop-color="#352a87"/><stop offset="1.000" stop-color="#352a87"/></linearGradient><linearGradient id="m138" gradientUnits="userSpaceOnUse" x2="1"><stop offset="0.000" stop-color="#352a87"/><stop offset="0.208" stop-color="#352a87"/><stop offset="0.208" stop-color="#2a91d6"/><stop offset="0.235" stop-color="#2a96d5"/><stop offset="0.261" stop-color="#2a9ad4"/><stop offset="0.330" stop-color="#2aa3d2"/><stop offset="0.398" stop-color="#38a8c7"/><stop offset="0.421" stop-color="#69b7a0"/><stop offset="0.443" stop-color="#a4c169"/><stop offset="0.585" stop-color="#d7d03b"/><stop offset="0.727" stop-color="#ecdc26"/><stop offset="0.784" stop-color="#f0df22"/><stop offset="0.840" stop-color="#f4e21e"/><stop offset="0.840" stop-color="#352a87"/><stop offset="1.000" stop-color="#352a87"/></linearGradient><linearGradient id="m139" gradientUnits="userSpaceOnUse" x2="1"><stop offset="0.000" stop-color="#352a87"/><stop offset="0.246" stop-color="#352a87"/><stop offset="0.246" stop-color="#2a91d6"/><stop offset="0.272" stop-color="#2a96d5"/><stop offset="0.298" stop-color="#2a9ad4"/><stop offset="0.342" stop-color="#2aa3d2"/><stop offset="0.385" stop-color="#38a8c7"/><stop offset="0.385" stop-color="#a4c169"/><stop offset="0.558" stop-color="#d7d03b"/><stop offset="0.731" stop-color="#ecdc26"/><stop offset="0.796" stop-color="#f0df22"/><stop offset="0.861" stop-color="#f4e21e"/><stop offset="0.861" stop-color="#352a87"/><stop offset="1.000" stop-color="#352a87"/></linearGradient><linearGradient id="m140" gradientUnits="userSpaceOnUse" x2="1"><stop offset="0.000" stop-color="#352a87"/><stop offset="0.267" stop-color="#352a87"/><stop offset="0.267" stop-color="#2a91d6"/><stop offset="0.293" stop-color="#2a96d5"/><stop offset="0.319" stop-color="#2a9ad4"/><stop offset="0.331" stop-color="#2aa3d2"/><stop offset="0.342" stop-color="#38a8c7"/><stop offset="0.346" stop-color="#69b7a0"/><stop offset="0.349" stop-color="#a4c169"/><stop offset="0.527" stop-color="#d7d03b"/><stop offset="0.706" stop-color="#ecdc26"/><stop offset="0.780" stop-color="#f0df22"/><stop offset="0.854" stop-color="#f4e21e"/><stop offset="0.854" stop-color="#352a87"/><stop offset="1.000" stop-color="#352a87"/></linearGradient><linearGradient id="m141" gradientUnits="userSpaceOnUse" x2="1"><stop offset="0.000" stop-color="#352a87"/><stop offset="0.258" stop-color="#352a87"/><stop offset="0.258" stop-color="#2a91d6"/><stop offset="0.284" stop-color="#2a96d5"/><stop offset="0.310" stop-color="#2a9ad4"/><stop offset="0.313" stop-color="#2aa3d2"/><stop offset="0.315" stop-color="#38a8c7"/><stop offset="0.337" stop-color="#69b7a0"/><stop offset="0.358" stop-color="#a4c169"/><stop offset="0.505" stop-color="#d7d03b"/><stop offset="0.652" stop-color="#ecdc26"/><stop offset="0.735" stop-color="#f0df22"/><stop offset="0.818" stop-color="#f4e21e"/><stop offset="0.818" stop-color="#352a87"/><stop offset="1.000" stop-color="#352a87"/></linearGradient><linearGradient id="m142" gradientUnits="userSpaceOnUse" x2="1"><stop offset="0.000" stop-color="#352a87"/><stop offset="0.233" stop-color="#352a87"/><stop offset="0.233" stop-color="#2a91d6"/><stop offset="0.265" stop-color="#2a96d5"/><stop offset="0.297" stop-color="#2a9ad4"/><stop offset="0.305" stop-color="#2aa3d2"/><stop offset="0.313" stop-color="#38a8c7"/><stop offset="0.345" stop-color="#69b7a0"/><stop offset="0.377" stop-color="#a4c169"/><stop offset="0.499" stop-color="#d7d03b"/><stop offset="0.620" stop-color="#ecdc26"/><stop offset="0.695" stop-color="#f0df22"/><stop offset="0.769" stop-color="#f4e21e"/><stop offset="0.769" stop-color="#352a87"/><stop offset="1.000" stop-color="#352a87"/></linearGradient><linearGradient id="m143" gradientUnits="userSpaceOnUse" x2="1"><stop offset="0.000" stop-color="#352a87"/><stop offset="0.202" stop-color="#352a87"/><stop offset="0.202" stop-color="#2a91d6"/><stop offset="0.242" stop-color="#2a96d5"/><stop offset="0.281" stop-color="#2a9ad4"/><stop offset="0.301" stop-color="#2aa3d2"/><stop offset="0.321" stop-color="#38a8c7"/><stop offset="0.361" stop-color="#69b7a0"/><stop offset="0.401" stop-color="#a4c169"/><stop offset="0.499" stop-color="#d7d03b"/><stop offset="0.598" stop-color="#ecdc26"/><stop offset="0.657" stop-color="#f0df22"/><stop offset="0.716" stop-color="#f4e21e"/><stop offset="0.716" stop-color="#352a87"/><stop offset="1.000" stop-color="#352a87"/></linearGradient><linearGradient id="m144" gradientUnits="userSpaceOnUse" x2="1"><stop offset="0.000" stop-color="#352a87"/><stop offset="0.182" stop-color="#352a87"/><stop offset="0.182" stop-color="#2a91d6"/><stop offset="0.228" stop-color="#2a96d5"/><stop offset="0.274" stop-color="#2a9ad4"/><stop offset="0.309" stop-color="#2aa3d2"/><stop offset="0.344" stop-color="#38a8c7"/><stop offset="0.399" stop-color="#69b7a0"/><stop offset="0.454" stop-color="#a4c169"/><stop offset="0.534" stop-color="#d7d03b"/><stop offset="0.613" stop-color="#ecdc26"/><stop offset="0.657" stop-color="#f0df22"/><stop offset="0.700" stop-color="#f4e21e"/><stop offset="0.700" stop-color="#352a87"/><stop offset="1.000" stop-color="#352a87"/></linearGradient><linearGradient id="m145" gradientUnits="userSpaceOnUse" x2="1"><stop offset="0.000" stop-color="#352a87"/><stop offset="0.161" stop-color="#352a87"/><stop offset="0.161" stop-color="#2a91d6"/><stop offset="0.212" stop-color="#2a96d5"/><stop offset="0.263" stop-color="#2a9ad4"/><stop offset="0.311" stop-color="#2aa3d2"/><stop offset="0.359" stop-color="#38a8c7"/><stop offset="0.429" stop-color="#69b7a0"/><stop offset="0.499" stop-color="#a4c169"/><stop offset="0.565" stop-color="#d7d03b"/><stop offset="0.631" stop-color="#ecdc26"/><stop offset="0.662" stop-color="#f0df22"/><stop offset="0.694" stop-color="#f4e21e"/><stop offset="0.694" stop-color="#352a87"/><stop offset="1.000" stop-color="#352a87"/></linearGradient><linearGradient id="m146" gradientUnits="userSpaceOnUse" x2="1"><stop offset="0.000" stop-color="#352a87"/><stop offset="0.136" stop-color="#352a87"/><stop offset="0.136" stop-color="#2a91d6"/><stop offset="0.190" stop-color="#2a96d5"/><stop offset="0.244" stop-color="#2a9ad4"/><stop offset="0.299" stop-color="#2aa3d2"/><stop offset="0.355" stop-color="#38a8c7"/><stop offset="0.438" stop-color="#69b7a0"/><stop offset="0.522" stop-color="#a4c169"/><stop offset="0.588" stop-color="#d7d03b"/><stop offset="0.654" stop-color="#ecdc26"/><stop offset="0.682" stop-color="#f0df22"/><stop offset="0.709" stop-color="#f4e21e"/><stop offset="0.709" stop-color="#352a87"/><stop offset="1.000" stop-color="#352a87"/></linearGradient><linearGradient id="m147" gradientUnits="userSpaceOnUse" x2="1"><stop offset="0.000" stop-color="#352a87"/><stop offset="0.105" stop-color="#352a87"/><stop offset="0.105" stop-color="#2a91d6"/><stop offset="0.158" stop-color="#2a96d5"/><stop offset="0.212" stop-color="#2a9ad4"/><stop offset="0.282" stop-color="#2aa3d2"/><stop offset="0.353" stop-color="#38a8c7"/><stop offset="0.431" stop-color="#69b7a0"/><stop offset="0.508" stop-color="#a4c169"/><stop offset="0.594" stop-color="#d7d03b"/><stop offset="0.679" stop-color="#ecdc26"/><stop offset="0.709" stop-color="#f0df22"/><stop offset="0.739" stop-color="#f4e21e"/><stop offset="0.739" stop-color="#352a87"/><stop offset="1.000" stop-color="#352a87"/></linearGradient><linearGradient id="m148" gradientUnits="userSpaceOnUse" x2="1"><stop offset="0.000" stop-color="#352a87"/><stop offset="0.068" stop-color="#352a87"/><stop offset="0.068" stop-color="#2a91d6"/><stop offset="0.119" stop-color="#2a96d5"/><stop offset="0.170" stop-color="#2a9ad4"/><stop offset="0.261" stop-color="#2aa3d2"/><stop offset="0.353" stop-color="#38a8c7"/><stop offset="0.411" stop-color="#69b7a0"/><stop offset="0.469" stop-color="#a4c169"/><stop offset="0.587" stop-color="#d7d03b"/><stop offset="0.705" stop-color="#ecdc26"/><stop offset="0.742" stop-color="#f0df22"/><stop offset="0.778" stop-color="#f4e21e"/><stop offset="0.778" stop-color="#352a87"/><stop offset="1.000" stop-color="#352a87"/></linearGradient><linearGradient id="m149" gradientUnits="userSpaceOnUse" x2="1"><stop offset="0.000" stop-color="#352a87"/><stop offset="0.047" stop-color="#352a87"/><stop offset="0.047" stop-color="#2a91d6"/><stop offset="0.093" stop-color="#2a96d5"/><stop offset="0.138" stop-color="#2a9ad4"/><stop offset="0.228" stop-color="#2aa3d2"/><stop offset="0.318" stop-color="#38a8c7"/><stop offset="0.379" stop-color="#69b7a0"/><stop offset="0.440" stop-color="#a4c169"/><stop offset="0.586" stop-color="#d7d03b"/><stop offset="0.733" stop-color="#ecdc26"/><stop offset="0.773" stop-color="#f0df22"/><stop offset="0.812" stop-color="#f4e21e"/><stop offset="0.812" stop-color="#352a87"/><stop offset="1.000" stop-color="#352a87"/></linearGradient><linearGradient id="m150" gradientUnits="userSpaceOnUse" x2="1"><stop offset="0.000" stop-color="#352a87"/><stop offset="0.038" stop-color="#352a87"/><stop offset="0.038" stop-color="#2a91d6"/><stop offset="0.075" stop-color="#2a96d5"/><stop offset="0.112" stop-color="#2a9ad4"/><stop offset="0.185" stop-color="#2aa3d2"/><stop offset="0.258" stop-color="#38a8c7"/><stop offset="0.337" stop-color="#69b7a0"/><stop offset="0.417" stop-color="#a4c169"/><stop offset="0.590" stop-color="#d7d03b"/><stop offset="0.763" stop-color="#ecdc26"/><stop offset="0.803" stop-color="#f0df22"/><stop offset="0.842" stop-color="#f4e21e"/><stop offset="0.842" stop-color="#352a87"/><stop offset="1.000" stop-color="#352a87"/></linearGradient><linearGradient id="m151" gradientUnits="userSpaceOnUse" x2="1"><stop offset="0.000" stop-color="#352a87"/><stop offset="0.047" stop-color="#352a87"/><stop offset="0.047" stop-color="#2a91d6"/><stop offset="0.082" stop-color="#2a96d5"/><stop offset="0.117" stop-color="#2a9ad4"/><stop offset="0.176" stop-color="#2aa3d2"/><stop offset="0.235" stop-color="#38a8c7"/><stop offset="0.308" stop-color="#69b7a0"/><stop offset="0.381" stop-color="#a4c169"/><stop offset="0.550" stop-color="#d7d03b"/><stop offset="0.718" stop-color="#ecdc26"/><stop offset="0.776" stop-color="#f0df22"/><stop offset="0.835" stop-color="#f4e21e"/><stop offset="0.835" stop-color="#352a87"/><stop offset="1.000" stop-color="#352a87"/></linearGradient><linearGradient id="m152" gradientUnits="userSpaceOnUse" x2="1"><stop offset="0.000" stop-color="#352a87"/><stop offset="0.055" stop-color="#352a87"/><stop offset="0.055" stop-color="#2a91d6"/><stop offset="0.089" stop-color="#2a96d5"/><stop offset="0.124" stop-color="#2a9ad4"/><stop offset="0.171" stop-color="#2aa3d2"/><stop offset="0.219" stop-color="#38a8c7"/><stop offset="0.283" stop-color="#69b7a0"/><stop offset="0.347" stop-color="#a4c169"/><stop offset="0.504" stop-color="#d7d03b"/><stop offset="0.661" stop-color="#ecdc26"/><stop offset="0.741" stop-color="#f0df22"/><stop offset="0.820" stop-color="#f4e21e"/><stop offset="0.820" stop-color="#352a87"/><stop offset="1.000" stop-color="#352a87"/></linearGradient><linearGradient id="m153" gradientUnits="userSpaceOnUse" x2="1"><stop offset="0.000" stop-color="#352a87"/><stop offset="0.030" stop-color="#352a87"/><stop offset="0.030" stop-color="#2a91d6"/><stop offset="0.065" stop-color="#2a96d5"/><stop offset="0.099" stop-color="#2a9ad4"/><stop offset="0.150" stop-color="#2aa3d2"/><stop offset="0.201" stop-color="#38a8c7"/><stop offset="0.274" stop-color="#69b7a0"/><stop offset="0.347" stop-color="#a4c169"/><stop offset="0.497" stop-color="#d7d03b"/><stop offset="0.646" stop-color="#ecdc26"/><stop offset="0.729" stop-color="#f0df22"/><stop offset="0.812" stop-color="#f4e21e"/><stop offset="0.812" stop-color="#352a87"/><stop offset="1.000" stop-color="#352a87"/></linearGradient><linearGradient id="m154" gradientUnits="userSpaceOnUse" x2="1"><stop offset="0.000" stop-color="#352a87"/><stop offset="0.018" stop-color="#352a87"/><stop offset="0.018" stop-color="#2a91d6"/><stop offset="0.051" stop-color="#2a96d5"/><stop offset="0.084" stop-color="#2a9ad4"/><stop offset="0.138" stop-color="#2aa3d2"/><stop offset="0.192" stop-color="#38a8c7"/><stop offset="0.271" stop-color="#69b7a0"/><stop offset="0.350" stop-color="#a4c169"/><stop offset="0.488" stop-color="#d7d03b"/><stop offset="0.625" stop-color="#ecdc26"/><stop offset="0.718" stop-color="#f0df22"/><stop offset="0.811" stop-color="#f4e21e"/><stop offset="0.811" stop-color="#352a87"/><stop offset="1.000" stop-color="#352a87"/></linearGradient><linearGradient id="m155" gradientUnits="userSpaceOnUse" x2="1"><stop offset="0.000" stop-color="#352a87"/><stop offset="0.022" stop-color="#352a87"/><stop offset="0.022" stop-color="#2a91d6"/><stop offset="0.052" stop-color="#2a96d5"/><stop offset="0.082" stop-color="#2a9ad4"/><stop offset="0.141" stop-color="#2aa3d2"/><stop offset="0.200" stop-color="#38a8c7"/><stop offset="0.279" stop-color="#69b7a0"/><stop offset="0.358" stop-color="#a4c169"/><stop offset="0.476" stop-color="#d7d03b"/><stop offset="0.595" stop-color="#ecdc26"/><stop offset="0.707" stop-color="#f0df22"/><stop offset="0.818" stop-color="#f4e21e"/><stop offset="0.818" stop-color="#352a87"/><stop offset="1.000" stop-color="#352a87"/></linearGradient><linearGradient id="m156" gradientUnits="userSpaceOnUse" x2="1"><stop offset="0.000" stop-color="#352a87"/><stop offset="0.031" stop-color="#352a87"/><stop offset="0.031" stop-color="#2a91d6"/><stop offset="0.058" stop-color="#2a96d5"/><stop offset="0.086" stop-color="#2a9ad4"/><stop offset="0.147" stop-color="#2aa3d2"/><stop offset="0.208" stop-color="#38a8c7"/><stop offset="0.291" stop-color="#69b7a0"/><stop offset="0.375" stop-color="#a4c169"/><stop offset="0.475" stop-color="#d7d03b"/><stop offset="0.574" stop-color="#ecdc26"/><stop offset="0.688" stop-color="#f0df22"/><stop offset="0.801" stop-color="#f4e21e"/><stop offset="0.801" stop-color="#352a87"/><stop offset="1.000" stop-color="#352a87"/></linearGradient><linearGradient id="m157" gradientUnits="userSpaceOnUse" x2="1"><stop offset="0.000" stop-color="#352a87"/><stop offset="0.041" stop-color="#352a87"/><stop offset="0.041" stop-color="#2a91d6"/><stop offset="0.067" stop-color="#2a96d5"/><stop offset="0.092" stop-color="#2a9ad4"/><stop offset="0.153" stop-color="#2aa3d2"/><stop offset="0.215" stop-color="#38a8c7"/><stop offset="0.307" stop-color="#69b7a0"/><stop offset="0.398" stop-color="#a4c169"/><stop offset="0.479" stop-color="#d7d03b"/><stop offset="0.559" stop-color="#ecdc26"/><stop offset="0.665" stop-color="#f0df22"/><stop offset="0.771" stop-color="#f4e21e"/><stop offset="0.771" stop-color="#352a87"/><stop offset="1.000" stop-color="#352a87"/></linearGradient><linearGradient id="m158" gradientUnits="userSpaceOnUse" x2="1"><stop offset="0.000" stop-color="#352a87"/><stop offset="0.022" stop-color="#352a87"/><stop offset="0.022" stop-color="#2a91d6"/><stop offset="0.052" stop-color="#2a96d5"/><stop offset="0.082" stop-color="#2a9ad4"/><stop offset="0.153" stop-color="#2aa3d2"/><stop offset="0.223" stop-color="#38a8c7"/><stop offset="0.315" stop-color="#69b7a0"/><stop offset="0.407" stop-color="#a4c169"/><stop offset="0.475" stop-color="#d7d03b"/><stop offset="0.544" stop-color="#ecdc26"/><stop offset="0.642" stop-color="#f0df22"/><stop offset="0.740" stop-color="#f4e21e"/><stop offset="0.740" stop-color="#352a87"/><stop offset="1.000" stop-color="#352a87"/></linearGradient><linearGradient id="m159" gradientUnits="userSpaceOnUse" x2="1"><stop offset="0.000" stop-color="#352a87"/><stop offset="0.005" stop-color="#352a87"/><stop offset="0.005" stop-color="#2a91d6"/><stop offset="0.037" stop-color="#2a96d5"/><stop offset="0.070" stop-color="#2a9ad4"/><stop offset="0.151" stop-color="#2aa3d2"/><stop offset="0.232" stop-color="#38a8c7"/><stop offset="0.323" stop-color="#69b7a0"/><stop offset="0.413" stop-color="#a4c169"/><stop offset="0.471" stop-color="#d7d03b"/><stop offset="0.528" stop-color="#ecdc26"/><stop offset="0.620" stop-color="#f0df22"/><stop offset="0.712" stop-color="#f4e21e"/><stop offset="0.712" stop-color="#352a87"/><stop offset="1.000" stop-color="#352a87"/></linearGradient><linearGradient id="m160" gradientUnits="userSpaceOnUse" x2="1"><stop offset="0.000" stop-color="#352a87"/><stop offset="0.002" stop-color="#352a87"/><stop offset="0.002" stop-color="#2a91d6"/><stop offset="0.028" stop-color="#2a96d5"/><stop offset="0.054" stop-color="#2a9ad4"/><stop offset="0.150" stop-color="#2aa3d2"/><stop offset="0.247" stop-color="#38a8c7"/><stop offset="0.330" stop-color="#69b7a0"/><stop offset="0.413" stop-color="#a4c169"/><stop offset="0.463" stop-color="#d7d03b"/><stop offset="0.513" stop-color="#ecdc26"/><stop offset="0.605" stop-color="#f0df22"/><stop offset="0.698" stop-color="#f4e21e"/><stop offset="0.698" stop-color="#352a87"/><stop offset="1.000" stop-color="#352a87"/></linearGradient><linearGradient id="m161" gradientUnits="userSpaceOnUse" x2="1"><stop offset="0.000" stop-color="#352a87"/><stop offset="0.000" stop-color="#2a91d6"/><stop offset="0.027" stop-color="#2a96d5"/><stop offset="0.054" stop-color="#2a9ad4"/><stop offset="0.165" stop-color="#2aa3d2"/><stop offset="0.276" stop-color="#38a8c7"/><stop offset="0.351" stop-color="#69b7a0"/><stop offset="0.425" stop-color="#a4c169"/><stop offset="0.479" stop-color="#d7d03b"/><stop offset="0.532" stop-color="#ecdc26"/><stop offset="0.614" stop-color="#f0df22"/><stop offset="0.696" stop-color="#f4e21e"/><stop offset="0.696" stop-color="#352a87"/><stop offset="1.000" stop-color="#352a87"/></linearGradient><linearGradient id="m162" gradientUnits="userSpaceOnUse" x2="1"><stop offset="0.000" stop-color="#352a87"/><stop offset="0.000" stop-color="#2a91d6"/><stop offset="0.037" stop-color="#2a96d5"/><stop offset="0.073" stop-color="#2a9ad4"/><stop offset="0.198" stop-color="#2aa3d2"/><stop offset="0.322" stop-color="#38a8c7"/><stop offset="0.387" stop-color="#69b7a0"/><stop offset="0.451" stop-color="#a4c169"/><stop offset="0.522" stop-color="#d7d03b"/><stop offset="0.592" stop-color="#ecdc26"/><stop offset="0.650" stop-color="#f0df22"/><stop offset="0.709" stop-color="#f4e21e"/><stop offset="0.709" stop-color="#352a87"/><stop offset="1.000" stop-color="#352a87"/></linearGradient><linearGradient id="m163" gradientUnits="userSpaceOnUse" x2="1"><stop offset="0.000" stop-color="#352a87"/><stop offset="0.010" stop-color="#352a87"/><stop offset="0.010" stop-color="#2a91d6"/><stop offset="0.059" stop-color="#2a96d5"/><stop offset="0.109" stop-color="#2a9ad4"/><stop offset="0.233" stop-color="#2aa3d2"/><stop offset="0.358" stop-color="#38a8c7"/><stop offset="0.419" stop-color="#69b7a0"/><stop offset="0.480" stop-color="#a4c169"/><stop offset="0.552" stop-color="#d7d03b"/><stop offset="0.624" stop-color="#ecdc26"/><stop offset="0.668" stop-color="#f0df22"/><stop offset="0.712" stop-color="#f4e21e"/><stop offset="0.712" stop-color="#352a87"/><stop offset="1.000" stop-color="#352a87"/></linearGradient><linearGradient id="m164" gradientUnits="userSpaceOnUse" x2="1"><stop offset="0.000" stop-color="#352a87"/><stop offset="0.031" stop-color="#352a87"/><stop offset="0.031" stop-color="#2a91d6"/><stop offset="0.097" stop-color="#2a96d5"/><stop offset="0.163" stop-color="#2a9ad4"/><stop offset="0.272" stop-color="#2aa3d2"/><stop offset="0.381" stop-color="#38a8c7"/><stop offset="0.446" stop-color="#69b7a0"/><stop offset="0.511" stop-color="#a4c169"/><stop offset="0.567" stop-color="#d7d03b"/><stop offset="0.624" stop-color="#ecdc26"/><stop offset="0.664" stop-color="#f0df22"/><stop offset="0.705" stop-color="#f4e21e"/><stop offset="0.705" stop-color="#352a87"/><stop offset="1.000" stop-color="#352a87"/></linearGradient><linearGradient id="m165" gradientUnits="userSpaceOnUse" x2="1"><stop offset="0.000" stop-color="#352a87"/><stop offset="0.092" stop-color="#352a87"/><stop offset="0.092" stop-color="#2a91d6"/><stop offset="0.160" stop-color="#2a96d5"/><stop offset="0.228" stop-color="#2a9ad4"/><stop offset="0.311" stop-color="#2aa3d2"/><stop offset="0.395" stop-color="#38a8c7"/><stop offset="0.451" stop-color="#69b7a0"/><stop offset="0.507" stop-color="#a4c169"/><stop offset="0.574" stop-color="#d7d03b"/><stop offset="0.641" stop-color="#ecdc26"/><stop offset="0.677" stop-color="#f0df22"/><stop offset="0.714" stop-color="#f4e21e"/><stop offset="0.714" stop-color="#352a87"/><stop offset="1.000" stop-color="#352a87"/></linearGradient><linearGradient id="m166" gradientUnits="userSpaceOnUse" x2="1"><stop offset="0.000" stop-color="#352a87"/><stop offset="0.164" stop-color="#352a87"/><stop offset="0.164" stop-color="#2a91d6"/><stop offset="0.230" stop-color="#2a96d5"/><stop offset="0.295" stop-color="#2a9ad4"/><stop offset="0.350" stop-color="#2aa3d2"/><stop offset="0.405" stop-color="#38a8c7"/><stop offset="0.448" stop-color="#69b7a0"/><stop offset="0.491" stop-color="#a4c169"/><stop offset="0.578" stop-color="#d7d03b"/><stop offset="0.664" stop-color="#ecdc26"/><stop offset="0.697" stop-color="#f0df22"/><stop offset="0.730" stop-color="#f4e21e"/><stop offset="0.730" stop-color="#352a87"/><stop offset="1.000" stop-color="#352a87"/></linearGradient><linearGradient id="m167" gradientUnits="userSpaceOnUse" x2="1"><stop offset="0.000" stop-color="#352a87"/><stop offset="0.197" stop-color="#352a87"/><stop offset="0.197" stop-color="#2a91d6"/><stop offset="0.254" stop-color="#2a96d5"/><stop offset="0.310" stop-color="#2a9ad4"/><stop offset="0.348" stop-color="#2aa3d2"/><stop offset="0.387" stop-color="#38a8c7"/><stop offset="0.428" stop-color="#69b7a0"/><stop offset="0.469" stop-color="#a4c169"/><stop offset="0.581" stop-color="#d7d03b"/><stop offset="0.694" stop-color="#ecdc26"/><stop offset="0.731" stop-color="#f0df22"/><stop offset="0.768" stop-color="#f4e21e"/><stop offset="0.768" stop-color="#352a87"/><stop offset="1.000" stop-color="#352a87"/></linearGradient><linearGradient id="m168" gradientUnits="userSpaceOnUse" x2="1"><stop offset="0.000" stop-color="#352a87"/><stop offset="0.209" stop-color="#352a87"/><stop offset="0.209" stop-color="#2a91d6"/><stop offset="0.255" stop-color="#2a96d5"/><stop offset="0.301" stop-color="#2a9ad4"/><stop offset="0.333" stop-color="#2aa3d2"/><stop offset="0.366" stop-color="#38a8c7"/><stop offset="0.408" stop-color="#69b7a0"/><stop offset="0.451" stop-color="#a4c169"/><stop offset="0.588" stop-color="#d7d03b"/><stop offset="0.726" stop-color="#ecdc26"/><stop offset="0.764" stop-color="#f0df22"/><stop offset="0.801" stop-color="#f4e21e"/><stop offset="0.801" stop-color="#352a87"/><stop offset="1.000" stop-color="#352a87"/></linearGradient><linearGradient id="m169" gradientUnits="userSpaceOnUse" x2="1"><stop offset="0.000" stop-color="#352a87"/><stop offset="0.164" stop-color="#352a87"/><stop offset="0.164" stop-color="#2a91d6"/><stop offset="0.196" stop-color="#2a96d5"/><stop offset="0.227" stop-color="#2a9ad4"/><stop offset="0.283" stop-color="#2aa3d2"/><stop offset="0.338" stop-color="#38a8c7"/><stop offset="0.391" stop-color="#69b7a0"/><stop offset="0.443" stop-color="#a4c169"/><stop offset="0.604" stop-color="#d7d03b"/><stop offset="0.765" stop-color="#ecdc26"/><stop offset="0.794" stop-color="#f0df22"/><stop offset="0.824" stop-color="#f4e21e"/><stop offset="0.824" stop-color="#352a87"/><stop offset="1.000" stop-color="#352a87"/></linearGradient><linearGradient id="m170" gradientUnits="userSpaceOnUse" x2="1"><stop offset="0.000" stop-color="#352a87"/><stop offset="0.151" stop-color="#352a87"/><stop offset="0.151" stop-color="#2a91d6"/><stop offset="0.176" stop-color="#2a96d5"/><stop offset="0.202" stop-color="#2a9ad4"/><stop offset="0.261" stop-color="#2aa3d2"/><stop offset="0.320" stop-color="#38a8c7"/><stop offset="0.378" stop-color="#69b7a0"/><stop offset="0.435" stop-color="#a4c169"/><stop offset="0.615" stop-color="#d7d03b"/><stop offset="0.795" stop-color="#ecdc26"/><stop offset="0.821" stop-color="#f0df22"/><stop offset="0.847" stop-color="#f4e21e"/><stop offset="0.847" stop-color="#352a87"/><stop offset="1.000" stop-color="#352a87"/></linearGradient><linearGradient id="m171" gradientUnits="userSpaceOnUse" x2="1"><stop offset="0.000" stop-color="#352a87"/><stop offset="0.162" stop-color="#352a87"/><stop offset="0.162" stop-color="#2a91d6"/><stop offset="0.188" stop-color="#2a96d5"/><stop offset="0.214" stop-color="#2a9ad4"/><stop offset="0.262" stop-color="#2aa3d2"/><stop offset="0.309" stop-color="#38a8c7"/><stop offset="0.368" stop-color="#69b7a0"/><stop offset="0.427" stop-color="#a4c169"/><stop offset="0.623" stop-color="#d7d03b"/><stop offset="0.818" stop-color="#ecdc26"/><stop offset="0.844" stop-color="#f0df22"/><stop offset="0.870" stop-color="#f4e21e"/><stop offset="0.870" stop-color="#352a87"/><stop offset="1.000" stop-color="#352a87"/></linearGradient><linearGradient id="m172" gradientUnits="userSpaceOnUse" x2="1"><stop offset="0.000" stop-color="#352a87"/><stop offset="0.176" stop-color="#352a87"/><stop offset="0.176" stop-color="#2a91d6"/><stop offset="0.199" stop-color="#2a96d5"/><stop offset="0.222" stop-color="#2a9ad4"/><stop offset="0.265" stop-color="#2aa3d2"/><stop offset="0.308" stop-color="#38a8c7"/><stop offset="0.364" stop-color="#69b7a0"/><stop offset="0.420" stop-color="#a4c169"/><stop offset="0.630" stop-color="#d7d03b"/><stop offset="0.841" stop-color="#ecdc26"/><stop offset="0.864" stop-color="#f0df22"/><stop offset="0.887" stop-color="#f4e21e"/><stop offset="0.887" stop-color="#352a87"/><stop offset="1.000" stop-color="#352a87"/></linearGradient><linearGradient id="m173" gradientUnits="userSpaceOnUse" x2="1"><stop offset="0.000" stop-color="#352a87"/><stop offset="0.191" stop-color="#352a87"/><stop offset="0.191" stop-color="#2a91d6"/><stop offset="0.210" stop-color="#2a96d5"/><stop offset="0.229" stop-color="#2a9ad4"/><stop offset="0.269" stop-color="#2aa3d2"/><stop offset="0.308" stop-color="#38a8c7"/><stop offset="0.361" stop-color="#69b7a0"/><stop offset="0.414" stop-color="#a4c169"/><stop offset="0.638" stop-color="#d7d03b"/><stop offset="0.862" stop-color="#ecdc26"/><stop offset="0.882" stop-color="#f0df22"/><stop offset="0.901" stop-color="#f4e21e"/><stop offset="0.901" stop-color="#352a87"/><stop offset="1.000" stop-color="#352a87"/></linearGradient><linearGradient id="m174" gradientUnits="userSpaceOnUse" x2="1"><stop offset="0.000" stop-color="#352a87"/><stop offset="0.201" stop-color="#352a87"/><stop offset="0.201" stop-color="#2a91d6"/><stop offset="0.217" stop-color="#2a96d5"/><stop offset="0.232" stop-color="#2a9ad4"/><stop offset="0.270" stop-color="#2aa3d2"/><stop offset="0.308" stop-color="#38a8c7"/><stop offset="0.363" stop-color="#69b7a0"/><stop offset="0.419" stop-color="#a4c169"/><stop offset="0.645" stop-color="#d7d03b"/><stop offset="0.872" stop-color="#ecdc26"/><stop offset="0.890" stop-color="#f0df22"/><stop offset="0.909" stop-color="#f4e21e"/><stop offset="0.909" stop-color="#352a87"/><stop offset="1.000" stop-color="#352a87"/></linearGradient><linearGradient id="m175" gradientUnits="userSpaceOnUse" x2="1"><stop offset="0.000" stop-color="#352a87"/><stop offset="0.211" stop-color="#352a87"/><stop offset="0.211" stop-color="#2a91d6"/><stop offset="0.223" stop-color="#2a96d5"/><stop offset="0.235" stop-color="#2a9ad4"/><stop offset="0.272" stop-color="#2aa3d2"/><stop offset="0.308" stop-color="#38a8c7"/><stop offset="0.366" stop-color="#69b7a0"/><stop offset="0.424" stop-color="#a4c169"/><stop offset="0.653" stop-color="#d7d03b"/><stop offset="0.882" stop-color="#ecdc26"/><stop offset="0.899" stop-color="#f0df22"/><stop offset="0.917" stop-color="#f4e21e"/><stop offset="0.917" stop-color="#352a87"/><stop offset="1.000" stop-color="#352a87"/></linearGradient></defs><rect x="-0.1" y="-0.0500" width="1.2" height="0.0864" fill="url(#m132)"/><rect x="-0.1" y="0.0227" width="1.2" height="0.0364" fill="url(#m133)"/><rect x="-0.1" y="0.0455" width="1.2" height="0.0364" fill="url(#m134)"/><rect x="-0.1" y="0.0682" width="1.2" height="0.0364" fill="url(#m135)"/><rect x="-0.1" y="0.0909" width="1.2" height="0.0364" fill="url(#m136)"/><rect x="-0.1" y="0.1136" width="1.2" height="0.0364" fill="url(#m137)"/><rect x="-0.1" y="0.1364" width="1.2" height="0.0364" fill="url(#m138)"/><rect x="-0.1" y="0.1591" width="1.2" height="0.0364" fill="url(#m139)"/><rect x="-0.1" y="0.1818" width="1.2" height="0.0364" fill="url(#m140)"/><rect x="-0.1" y="0.2045" width="1.2" height="0.0364" fill="url(#m141)"/><rect x="-0.1" y="0.2273" width="1.2" height="0.0364" fill="url(#m142)"/><rect x="-0.1" y="0.2500" width="1.2" height="0.0364" fill="url(#m143)"/><rect x="-0.1" y="0.2727" width="1.2" height="0.0364" fill="url(#m144)"/><rect x="-0.1" y="0.2955" width="1.2" height="0.0364" fill="url(#m145)"/><rect x="-0.1" y="0.3182" width="1.2" height="0.0364" fill="url(#m146)"/><rect x="-0.1" y="0.3409" width="1.2" height="0.0364" fill="url(#m147)"/><rect x="-0.1" y="0.3636" width="1.2" height="0.0364" fill="url(#m148)"/><rect x="-0.1" y="0.3864" width="1.2" height="0.0364" fill="url(#m149)"/><rect x="-0.1" y="0.4091" width="1.2" height="0.0364" fill="url(#m150)"/><rect x="-0.1" y="0.4318" width="1.2" height="0.0364" fill="url(#m151)"/><rect x="-0.1" y="0.4545" width="1.2" height="0.0364" fill="url(#m152)"/><rect x="-0.1" y="0.4773" width="1.2" height="0.0364" fill="url(#m153)"/><rect x="-0.1" y="0.5000" width="1.2" height="0.0364" fill="url(#m154)"/><rect x="-0.1" y="0.5227" width="1.2" height="0.0364" fill="url(#m155)"/><rect x="-0.1" y="0.5455" width="1.2" height="0.0364" fill="url(#m156)"/><rect x="-0.1" y="0.5682" width="1.2" height="0.0364" fill="url(#m157)"/><rect x="-0.1" y="0.5909" width="1.2" height="0.0364" fill="url(#m158)"/><rect x="-0.1" y="0.6136" width="1.2" height="0.0364" fill="url(#m159)"/><rect x="-0.1" y="0.6364" width="1.2" height="0.0364" fill="url(#m160)"/><rect x="-0.1" y="0.6591" width="1.2" height="0.0364" fill="url(#m161)"/><rect x="-0.1" y="0.6818" width="1.2" height="0.0364" fill="url(#m162)"/><rect x="-0.1" y="0.7045" width="1.2" height="0.0364" fill="url(#m163)"/><rect x="-0.1" y="0.7273" width="1.2" height="0.0364" fill="url(#m164)"/><rect x="-0.1" y="0.7500" width="1.2" height="0.0364" fill="url(#m165)"/><rect x="-0.1" y="0.7727" width="1.2" height="0.0364" fill="url(#m166)"/><rect x="-0.1" y="0.7955" width="1.2" height="0.0364" fill="url(#m167)"/><rect x="-0.1" y="0.8182" width="1.2" height="0.0364" fill="url(#m168)"/><rect x="-0.1" y="0.8409" width="1.2" height="0.0364" fill="url(#m169)"/><rect x="-0.1" y="0.8636" width="1.2" height="0.0364" fill="url(#m170)"/><rect x="-0.1" y="0.8864" width="1.2" height="0.0364" fill="url(#m171)"/><rect x="-0.1" y="0.9091" width="1.2" height="0.0364" fill="url(#m172)"/><rect x="-0.1" y="0.9318" width="1.2" height="0.0364" fill="url(#m173)"/><rect x="-0.1" y="0.9545" width="1.2" height="0.0364" fill="url(#m174)"/><rect x="-0.1" y="0.9773" width="1.2" height="0.0727" fill="url(#m175)"/></g></g></g>
<rect x="30.20" y="423.20" width="51.40" height="88.00" fill="none" stroke="#262626" stroke-width="0.5"/>
<path d="M46.00 511.20v-1.00M46.00 423.20v1.00M62.80 511.20v-1.00M62.80 423.20v1.00M78.90 511.20v-1.00M78.90 423.20v1.00M30.20 442.20h1.00M81.60 442.20h-1.00M30.20 461.90h1.00M81.60 461.90h-1.00M30.20 481.30h1.00M81.60 481.30h-1.00M30.20 500.40h1.00M81.60 500.40h-1.00" stroke="#262626" stroke-width="0.5" fill="none"/>
<text stroke="#262626" stroke-width="0.22" x="27.30" y="444.91" text-anchor="end" font-size="6.80">100</text>
<text stroke="#262626" stroke-width="0.22" x="27.30" y="464.61" text-anchor="end" font-size="6.80">200</text>
<text stroke="#262626" stroke-width="0.22" x="27.30" y="484.01" text-anchor="end" font-size="6.80">300</text>
<text stroke="#262626" stroke-width="0.22" x="27.30" y="503.11" text-anchor="end" font-size="6.80">400</text>
<text stroke="#262626" stroke-width="0.22" x="46.00" y="521.91" text-anchor="middle" font-size="6.80">50</text>
<text stroke="#262626" stroke-width="0.22" x="62.80" y="521.91" text-anchor="middle" font-size="6.80">100</text>
<text stroke="#262626" stroke-width="0.22" x="78.90" y="521.91" text-anchor="middle" font-size="6.80">150</text>
<text stroke="#262626" stroke-width="0.22" x="55.40" y="532.51" text-anchor="middle" font-size="7.80">Range</text>
<text stroke="#262626" stroke-width="0.22" transform="translate(14.92 468.00) rotate(-90)" text-anchor="middle" font-size="8.00">Azimuth</text>
<rect x="91.90" y="423.20" width="7.70" height="87.80" fill="url(#par)" stroke="#262626" stroke-width="0.5"/>
<text stroke="#262626" stroke-width="0.22" x="102.70" y="431.47" font-size="6.40">15</text>
<text stroke="#262626" stroke-width="0.22" x="102.70" y="459.07" font-size="6.40">10</text>
<text stroke="#262626" stroke-width="0.22" x="102.70" y="486.77" font-size="6.40">5</text>
<text stroke="#262626" stroke-width="0.22" x="102.70" y="513.67" font-size="6.40">0</text>
<path d="M99.60 428.80h-0.8M99.60 456.40h-0.8M99.60 484.10h-0.8M99.60 511.00h-0.8" stroke="#262626" stroke-width="0.5" fill="none"/>
<text stroke="#262626" stroke-width="0.22" x="64.50" y="544.70" text-anchor="middle" class="pl" font-size="9.20">(m)</text>
</svg>
</body></html>
